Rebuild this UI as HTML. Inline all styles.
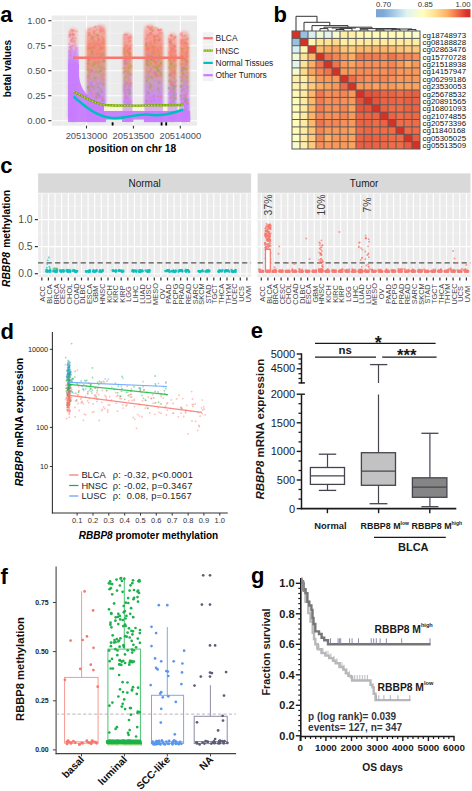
<!DOCTYPE html>
<html><head><meta charset="utf-8"><style>
html,body{margin:0;padding:0;background:#fff;width:472px;height:791px;overflow:hidden}
svg{display:block;font-family:"Liberation Sans",sans-serif}
</style></head><body>
<svg width="472" height="791" viewBox="0 0 472 791">
<text x="0.2" y="21.6" font-size="22" fill="#000" font-weight="bold" text-anchor="start" >a</text>
<text x="273.4" y="21.7" font-size="22" fill="#000" font-weight="bold" text-anchor="start" >b</text>
<text x="0.2" y="172.5" font-size="22" fill="#000" font-weight="bold" text-anchor="start" >c</text>
<text x="0.5" y="339.4" font-size="22" fill="#000" font-weight="bold" text-anchor="start" >d</text>
<text x="250.8" y="338.3" font-size="22" fill="#000" font-weight="bold" text-anchor="start" >e</text>
<text x="0.4" y="583.7" font-size="22" fill="#000" font-weight="bold" text-anchor="start" >f</text>
<text x="251" y="582.9" font-size="22" fill="#000" font-weight="bold" text-anchor="start" >g</text>
<rect x="51.7" y="15.5" width="145.3" height="110.2" fill="#ebebeb" />
<line x1="51.7" y1="108.2" x2="197" y2="108.2" stroke="#f7f7f7" stroke-width="0.6" />
<line x1="51.7" y1="83.2" x2="197" y2="83.2" stroke="#f7f7f7" stroke-width="0.6" />
<line x1="51.7" y1="58.2" x2="197" y2="58.2" stroke="#f7f7f7" stroke-width="0.6" />
<line x1="51.7" y1="33.2" x2="197" y2="33.2" stroke="#f7f7f7" stroke-width="0.6" />
<line x1="63" y1="15.5" x2="63" y2="125.7" stroke="#f7f7f7" stroke-width="0.6" />
<line x1="110" y1="15.5" x2="110" y2="125.7" stroke="#f7f7f7" stroke-width="0.6" />
<line x1="156.8" y1="15.5" x2="156.8" y2="125.7" stroke="#f7f7f7" stroke-width="0.6" />
<line x1="51.7" y1="120.7" x2="197" y2="120.7" stroke="#fff" stroke-width="1.1" />
<line x1="51.7" y1="95.7" x2="197" y2="95.7" stroke="#fff" stroke-width="1.1" />
<line x1="51.7" y1="70.7" x2="197" y2="70.7" stroke="#fff" stroke-width="1.1" />
<line x1="51.7" y1="45.7" x2="197" y2="45.7" stroke="#fff" stroke-width="1.1" />
<line x1="51.7" y1="20.7" x2="197" y2="20.7" stroke="#fff" stroke-width="1.1" />
<line x1="86.5" y1="15.5" x2="86.5" y2="125.7" stroke="#fff" stroke-width="1.1" />
<line x1="133.4" y1="15.5" x2="133.4" y2="125.7" stroke="#fff" stroke-width="1.1" />
<line x1="180.3" y1="15.5" x2="180.3" y2="125.7" stroke="#fff" stroke-width="1.1" />
<defs><linearGradient id="gcn" x1="0" y1="0" x2="0" y2="1"><stop offset="0" stop-color="#F8766D" stop-opacity="0.3"/><stop offset="0.08" stop-color="#F8766D" stop-opacity="0.55"/><stop offset="0.25" stop-color="#f2785c" stop-opacity="0.78"/><stop offset="0.4" stop-color="#d8845e" stop-opacity="0.75"/><stop offset="0.52" stop-color="#c48a8a" stop-opacity="0.75"/><stop offset="0.65" stop-color="#c084c8" stop-opacity="0.8"/><stop offset="0.8" stop-color="#C77CFF" stop-opacity="0.85"/><stop offset="1" stop-color="#C77CFF" stop-opacity="0.92"/></linearGradient><linearGradient id="gcp" x1="0" y1="0" x2="0" y2="1"><stop offset="0" stop-color="#F8766D" stop-opacity="0.25"/><stop offset="0.12" stop-color="#f29a98" stop-opacity="0.5"/><stop offset="0.25" stop-color="#d8a0d8" stop-opacity="0.6"/><stop offset="0.38" stop-color="#c890e8" stop-opacity="0.75"/><stop offset="1" stop-color="#C77CFF" stop-opacity="1"/></linearGradient><filter id="bl2" x="-0.5" y="-0.1" width="2" height="1.2"><feGaussianBlur stdDeviation="0.9"/></filter></defs>
<g filter="url(#bl2)">
<rect x="68.3" y="27.5" width="9.4" height="94" rx="4.4" ry="5" fill="url(#gcp)"/>
<path d="M86,121.5 V32 Q86,27 91,27 Q94.5,27 95.5,29 Q96,24 101,24 Q106,24 106,30 V121.5 Z" fill="url(#gcn)"/>
<rect x="122.8" y="32" width="9.4" height="89.5" rx="4.4" ry="5" fill="url(#gcn)"/>
<path d="M144,121.5 V30 Q144,24 149.5,24 Q154.5,24 155,28 Q156,29 159,29 Q163.4,29 163.4,34 V121.5 Z" fill="url(#gcn)"/>
<rect x="168" y="32.4" width="8.9" height="89.1" rx="4.2" ry="4.8" fill="url(#gcn)"/>
<rect x="179.4" y="30.5" width="9.8" height="91" rx="4.6" ry="5.2" fill="url(#gcn)"/>
</g>
<circle cx="171.3" cy="96.9" r="1.3" fill="#F8766D" fill-opacity="0.3"/>
<circle cx="124.4" cy="84.1" r="1.3" fill="#F8766D" fill-opacity="0.3"/>
<circle cx="89.5" cy="29.5" r="1.3" fill="#F8766D" fill-opacity="0.3"/>
<circle cx="103" cy="31" r="1.3" fill="#F8766D" fill-opacity="0.3"/>
<circle cx="184.3" cy="42" r="1.3" fill="#F8766D" fill-opacity="0.3"/>
<circle cx="174.5" cy="46.2" r="1.3" fill="#F8766D" fill-opacity="0.3"/>
<circle cx="184.2" cy="90.2" r="1.3" fill="#C77CFF" fill-opacity="0.3"/>
<circle cx="103.8" cy="74.7" r="1.3" fill="#F8766D" fill-opacity="0.3"/>
<circle cx="98" cy="58.6" r="1.3" fill="#F8766D" fill-opacity="0.3"/>
<circle cx="103.4" cy="104.3" r="1.3" fill="#F8766D" fill-opacity="0.3"/>
<circle cx="91.2" cy="100.9" r="1.3" fill="#C77CFF" fill-opacity="0.3"/>
<circle cx="151.4" cy="46.8" r="1.3" fill="#F8766D" fill-opacity="0.3"/>
<circle cx="172.6" cy="77.4" r="1.3" fill="#F8766D" fill-opacity="0.3"/>
<circle cx="172.7" cy="84.6" r="1.3" fill="#F8766D" fill-opacity="0.3"/>
<circle cx="97.3" cy="35.1" r="1.3" fill="#F8766D" fill-opacity="0.3"/>
<circle cx="171.4" cy="49.3" r="1.3" fill="#F8766D" fill-opacity="0.3"/>
<circle cx="159.6" cy="32.6" r="1.3" fill="#F8766D" fill-opacity="0.3"/>
<circle cx="153.7" cy="49.3" r="1.3" fill="#F8766D" fill-opacity="0.3"/>
<circle cx="69.7" cy="88" r="1.3" fill="#C77CFF" fill-opacity="0.3"/>
<circle cx="150.7" cy="33.5" r="1.3" fill="#F8766D" fill-opacity="0.3"/>
<circle cx="94.5" cy="44.3" r="1.3" fill="#7CAE00" fill-opacity="0.3"/>
<circle cx="128.7" cy="42.1" r="1.3" fill="#F8766D" fill-opacity="0.3"/>
<circle cx="158.9" cy="54.8" r="1.3" fill="#7CAE00" fill-opacity="0.3"/>
<circle cx="154.8" cy="71.9" r="1.3" fill="#F8766D" fill-opacity="0.3"/>
<circle cx="160.3" cy="82.6" r="1.3" fill="#C77CFF" fill-opacity="0.3"/>
<circle cx="151.5" cy="115.3" r="1.3" fill="#7CAE00" fill-opacity="0.3"/>
<circle cx="186.6" cy="64.8" r="1.3" fill="#C77CFF" fill-opacity="0.3"/>
<circle cx="148.5" cy="76.6" r="1.3" fill="#C77CFF" fill-opacity="0.3"/>
<circle cx="185.9" cy="82" r="1.3" fill="#C77CFF" fill-opacity="0.3"/>
<circle cx="93.3" cy="89" r="1.3" fill="#C77CFF" fill-opacity="0.3"/>
<circle cx="127.5" cy="106" r="1.3" fill="#C77CFF" fill-opacity="0.3"/>
<circle cx="88.5" cy="33.1" r="1.3" fill="#F8766D" fill-opacity="0.3"/>
<circle cx="130.2" cy="92.9" r="1.3" fill="#7CAE00" fill-opacity="0.3"/>
<circle cx="131.1" cy="73.7" r="1.3" fill="#C77CFF" fill-opacity="0.3"/>
<circle cx="154.2" cy="61.8" r="1.3" fill="#F8766D" fill-opacity="0.3"/>
<circle cx="91" cy="108.1" r="1.3" fill="#C77CFF" fill-opacity="0.3"/>
<circle cx="183.9" cy="95.2" r="1.3" fill="#F8766D" fill-opacity="0.3"/>
<circle cx="124.4" cy="86.4" r="1.3" fill="#C77CFF" fill-opacity="0.3"/>
<circle cx="101.7" cy="36.5" r="1.3" fill="#F8766D" fill-opacity="0.3"/>
<circle cx="89.3" cy="40.8" r="1.3" fill="#F8766D" fill-opacity="0.3"/>
<circle cx="98.1" cy="63.3" r="1.3" fill="#F8766D" fill-opacity="0.3"/>
<circle cx="73.8" cy="50.7" r="1.3" fill="#C77CFF" fill-opacity="0.3"/>
<circle cx="181.1" cy="54.6" r="1.3" fill="#F8766D" fill-opacity="0.3"/>
<circle cx="70.5" cy="34.5" r="1.3" fill="#F8766D" fill-opacity="0.3"/>
<circle cx="171.3" cy="93.4" r="1.3" fill="#C77CFF" fill-opacity="0.3"/>
<circle cx="187.3" cy="112.9" r="1.3" fill="#F8766D" fill-opacity="0.3"/>
<circle cx="92" cy="90.9" r="1.3" fill="#F8766D" fill-opacity="0.3"/>
<circle cx="91.3" cy="70.5" r="1.3" fill="#7CAE00" fill-opacity="0.3"/>
<circle cx="148.7" cy="47.9" r="1.3" fill="#F8766D" fill-opacity="0.3"/>
<circle cx="174.1" cy="83.6" r="1.3" fill="#C77CFF" fill-opacity="0.3"/>
<circle cx="181" cy="47.1" r="1.3" fill="#F8766D" fill-opacity="0.3"/>
<circle cx="148.1" cy="49.9" r="1.3" fill="#F8766D" fill-opacity="0.3"/>
<circle cx="155.8" cy="58.1" r="1.3" fill="#7CAE00" fill-opacity="0.3"/>
<circle cx="89.5" cy="45.5" r="1.3" fill="#F8766D" fill-opacity="0.3"/>
<circle cx="183.1" cy="70.8" r="1.3" fill="#C77CFF" fill-opacity="0.3"/>
<circle cx="94.9" cy="108" r="1.3" fill="#C77CFF" fill-opacity="0.3"/>
<circle cx="96.4" cy="54.9" r="1.3" fill="#F8766D" fill-opacity="0.3"/>
<circle cx="127.1" cy="102.6" r="1.3" fill="#C77CFF" fill-opacity="0.3"/>
<circle cx="89.6" cy="33" r="1.3" fill="#F8766D" fill-opacity="0.3"/>
<circle cx="170.7" cy="63" r="1.3" fill="#F8766D" fill-opacity="0.3"/>
<circle cx="131" cy="83.4" r="1.3" fill="#C77CFF" fill-opacity="0.3"/>
<circle cx="130" cy="74.2" r="1.3" fill="#C77CFF" fill-opacity="0.3"/>
<circle cx="174.3" cy="51.9" r="1.3" fill="#F8766D" fill-opacity="0.3"/>
<circle cx="75.6" cy="101.3" r="1.3" fill="#C77CFF" fill-opacity="0.3"/>
<circle cx="171.8" cy="117.9" r="1.3" fill="#F8766D" fill-opacity="0.3"/>
<circle cx="187.2" cy="44.5" r="1.3" fill="#F8766D" fill-opacity="0.3"/>
<circle cx="89.4" cy="43.8" r="1.3" fill="#F8766D" fill-opacity="0.3"/>
<circle cx="92.1" cy="50.9" r="1.3" fill="#7CAE00" fill-opacity="0.3"/>
<circle cx="175.8" cy="98.4" r="1.3" fill="#7CAE00" fill-opacity="0.3"/>
<circle cx="187.6" cy="100.3" r="1.3" fill="#C77CFF" fill-opacity="0.3"/>
<circle cx="101.4" cy="97.4" r="1.3" fill="#C77CFF" fill-opacity="0.3"/>
<circle cx="129.7" cy="108.5" r="1.3" fill="#7CAE00" fill-opacity="0.3"/>
<circle cx="148.6" cy="54.3" r="1.3" fill="#C77CFF" fill-opacity="0.3"/>
<circle cx="175.7" cy="65.4" r="1.3" fill="#F8766D" fill-opacity="0.3"/>
<circle cx="88.3" cy="108" r="1.3" fill="#C77CFF" fill-opacity="0.3"/>
<circle cx="174.6" cy="45.9" r="1.3" fill="#F8766D" fill-opacity="0.3"/>
<circle cx="100.6" cy="27" r="1.3" fill="#F8766D" fill-opacity="0.3"/>
<circle cx="124.1" cy="101.6" r="1.3" fill="#C77CFF" fill-opacity="0.3"/>
<circle cx="186.5" cy="56.9" r="1.3" fill="#F8766D" fill-opacity="0.3"/>
<circle cx="99.2" cy="116" r="1.3" fill="#C77CFF" fill-opacity="0.3"/>
<circle cx="156.9" cy="105.5" r="1.3" fill="#F8766D" fill-opacity="0.3"/>
<circle cx="158.8" cy="99.5" r="1.3" fill="#C77CFF" fill-opacity="0.3"/>
<circle cx="88.7" cy="61.4" r="1.3" fill="#F8766D" fill-opacity="0.3"/>
<circle cx="98" cy="109.4" r="1.3" fill="#F8766D" fill-opacity="0.3"/>
<circle cx="173.2" cy="95.6" r="1.3" fill="#7CAE00" fill-opacity="0.3"/>
<circle cx="145.9" cy="102.9" r="1.3" fill="#C77CFF" fill-opacity="0.3"/>
<circle cx="98.2" cy="35.7" r="1.3" fill="#F8766D" fill-opacity="0.3"/>
<circle cx="147.4" cy="60.7" r="1.3" fill="#C77CFF" fill-opacity="0.3"/>
<circle cx="184.9" cy="63.3" r="1.3" fill="#F8766D" fill-opacity="0.3"/>
<circle cx="71.2" cy="93.5" r="1.3" fill="#C77CFF" fill-opacity="0.3"/>
<circle cx="146.4" cy="43.2" r="1.3" fill="#F8766D" fill-opacity="0.3"/>
<circle cx="170.8" cy="47.4" r="1.3" fill="#F8766D" fill-opacity="0.3"/>
<circle cx="71.1" cy="73.5" r="1.3" fill="#C77CFF" fill-opacity="0.3"/>
<circle cx="170" cy="41.5" r="1.3" fill="#F8766D" fill-opacity="0.3"/>
<circle cx="148.7" cy="103.2" r="1.3" fill="#C77CFF" fill-opacity="0.3"/>
<circle cx="160.6" cy="48" r="1.3" fill="#F8766D" fill-opacity="0.3"/>
<circle cx="91.3" cy="38.3" r="1.3" fill="#7CAE00" fill-opacity="0.3"/>
<circle cx="181.2" cy="98.9" r="1.3" fill="#F8766D" fill-opacity="0.3"/>
<circle cx="126.7" cy="113.2" r="1.3" fill="#C77CFF" fill-opacity="0.3"/>
<circle cx="180.8" cy="106.2" r="1.3" fill="#C77CFF" fill-opacity="0.3"/>
<circle cx="94.3" cy="33.5" r="1.3" fill="#F8766D" fill-opacity="0.3"/>
<circle cx="87.9" cy="63.6" r="1.3" fill="#C77CFF" fill-opacity="0.3"/>
<circle cx="154.2" cy="40.8" r="1.3" fill="#F8766D" fill-opacity="0.3"/>
<circle cx="160.4" cy="47.9" r="1.3" fill="#F8766D" fill-opacity="0.3"/>
<circle cx="100.5" cy="83.2" r="1.3" fill="#C77CFF" fill-opacity="0.3"/>
<circle cx="155.8" cy="73.6" r="1.3" fill="#F8766D" fill-opacity="0.3"/>
<circle cx="172.9" cy="48.5" r="1.3" fill="#F8766D" fill-opacity="0.3"/>
<circle cx="100.7" cy="61.9" r="1.3" fill="#F8766D" fill-opacity="0.3"/>
<circle cx="187.2" cy="75.9" r="1.3" fill="#F8766D" fill-opacity="0.3"/>
<circle cx="98.4" cy="66.7" r="1.3" fill="#7CAE00" fill-opacity="0.3"/>
<circle cx="70.6" cy="49.1" r="1.3" fill="#F8766D" fill-opacity="0.3"/>
<circle cx="127" cy="112.2" r="1.3" fill="#C77CFF" fill-opacity="0.3"/>
<circle cx="92.8" cy="48" r="1.3" fill="#F8766D" fill-opacity="0.3"/>
<circle cx="175.5" cy="46.2" r="1.3" fill="#F8766D" fill-opacity="0.3"/>
<circle cx="130.5" cy="83.2" r="1.3" fill="#F8766D" fill-opacity="0.3"/>
<circle cx="130.9" cy="65.8" r="1.3" fill="#7CAE00" fill-opacity="0.3"/>
<circle cx="185.2" cy="65" r="1.3" fill="#C77CFF" fill-opacity="0.3"/>
<circle cx="72.2" cy="31.6" r="1.3" fill="#F8766D" fill-opacity="0.3"/>
<circle cx="131" cy="101.2" r="1.3" fill="#F8766D" fill-opacity="0.3"/>
<circle cx="102.5" cy="97.5" r="1.3" fill="#F8766D" fill-opacity="0.3"/>
<circle cx="155.2" cy="38.7" r="1.3" fill="#F8766D" fill-opacity="0.3"/>
<circle cx="96.1" cy="81.7" r="1.3" fill="#C77CFF" fill-opacity="0.3"/>
<circle cx="151.2" cy="86.2" r="1.3" fill="#7CAE00" fill-opacity="0.3"/>
<circle cx="96.7" cy="71.8" r="1.3" fill="#7CAE00" fill-opacity="0.3"/>
<circle cx="159.2" cy="82.7" r="1.3" fill="#7CAE00" fill-opacity="0.3"/>
<circle cx="146.7" cy="58.9" r="1.3" fill="#F8766D" fill-opacity="0.3"/>
<circle cx="158.6" cy="107" r="1.3" fill="#C77CFF" fill-opacity="0.3"/>
<circle cx="150.5" cy="76.6" r="1.3" fill="#F8766D" fill-opacity="0.3"/>
<circle cx="70.5" cy="73.9" r="1.3" fill="#C77CFF" fill-opacity="0.3"/>
<circle cx="156.7" cy="65.4" r="1.3" fill="#F8766D" fill-opacity="0.3"/>
<circle cx="89.3" cy="58.8" r="1.3" fill="#7CAE00" fill-opacity="0.3"/>
<circle cx="72.1" cy="117.9" r="1.3" fill="#C77CFF" fill-opacity="0.3"/>
<circle cx="70" cy="89.4" r="1.3" fill="#C77CFF" fill-opacity="0.3"/>
<circle cx="125.7" cy="63.4" r="1.3" fill="#F8766D" fill-opacity="0.3"/>
<circle cx="90.2" cy="110.3" r="1.3" fill="#C77CFF" fill-opacity="0.3"/>
<circle cx="152.4" cy="73.1" r="1.3" fill="#C77CFF" fill-opacity="0.3"/>
<circle cx="75.7" cy="51.5" r="1.3" fill="#C77CFF" fill-opacity="0.3"/>
<circle cx="101.3" cy="30.4" r="1.3" fill="#F8766D" fill-opacity="0.3"/>
<circle cx="175" cy="50" r="1.3" fill="#F8766D" fill-opacity="0.3"/>
<circle cx="103" cy="29.1" r="1.3" fill="#F8766D" fill-opacity="0.3"/>
<circle cx="71.8" cy="115.4" r="1.3" fill="#C77CFF" fill-opacity="0.3"/>
<circle cx="181.5" cy="80.7" r="1.3" fill="#7CAE00" fill-opacity="0.3"/>
<circle cx="95.6" cy="26.5" r="1.3" fill="#F8766D" fill-opacity="0.3"/>
<circle cx="125.2" cy="84.1" r="1.3" fill="#C77CFF" fill-opacity="0.3"/>
<circle cx="150.3" cy="29.2" r="1.3" fill="#F8766D" fill-opacity="0.3"/>
<circle cx="127.6" cy="36.9" r="1.3" fill="#F8766D" fill-opacity="0.3"/>
<circle cx="103.2" cy="43.3" r="1.3" fill="#F8766D" fill-opacity="0.3"/>
<circle cx="154.7" cy="100.4" r="1.3" fill="#C77CFF" fill-opacity="0.3"/>
<circle cx="160.6" cy="63.5" r="1.3" fill="#F8766D" fill-opacity="0.3"/>
<circle cx="95.5" cy="45.7" r="1.3" fill="#F8766D" fill-opacity="0.3"/>
<circle cx="175.7" cy="56.6" r="1.3" fill="#F8766D" fill-opacity="0.3"/>
<circle cx="130.6" cy="35.5" r="1.3" fill="#F8766D" fill-opacity="0.3"/>
<circle cx="131.1" cy="37.2" r="1.3" fill="#F8766D" fill-opacity="0.3"/>
<circle cx="93.7" cy="75.8" r="1.3" fill="#C77CFF" fill-opacity="0.3"/>
<circle cx="129.8" cy="52.6" r="1.3" fill="#F8766D" fill-opacity="0.3"/>
<circle cx="101.1" cy="53.2" r="1.3" fill="#F8766D" fill-opacity="0.3"/>
<circle cx="152.7" cy="91.6" r="1.3" fill="#F8766D" fill-opacity="0.3"/>
<circle cx="156.3" cy="63.4" r="1.3" fill="#F8766D" fill-opacity="0.3"/>
<circle cx="94.1" cy="98.4" r="1.3" fill="#C77CFF" fill-opacity="0.3"/>
<circle cx="70.1" cy="77.7" r="1.3" fill="#C77CFF" fill-opacity="0.3"/>
<circle cx="72" cy="113.7" r="1.3" fill="#C77CFF" fill-opacity="0.3"/>
<circle cx="146" cy="39.1" r="1.3" fill="#F8766D" fill-opacity="0.3"/>
<circle cx="187.9" cy="113" r="1.3" fill="#C77CFF" fill-opacity="0.3"/>
<circle cx="171.3" cy="46.7" r="1.3" fill="#F8766D" fill-opacity="0.3"/>
<circle cx="72.4" cy="39.8" r="1.3" fill="#F8766D" fill-opacity="0.3"/>
<circle cx="72" cy="104.1" r="1.3" fill="#C77CFF" fill-opacity="0.3"/>
<circle cx="127.9" cy="57.5" r="1.3" fill="#F8766D" fill-opacity="0.3"/>
<circle cx="74" cy="112.5" r="1.3" fill="#C77CFF" fill-opacity="0.3"/>
<circle cx="88.2" cy="87" r="1.3" fill="#7CAE00" fill-opacity="0.3"/>
<circle cx="100.1" cy="55.9" r="1.3" fill="#C77CFF" fill-opacity="0.3"/>
<circle cx="183.6" cy="39.6" r="1.3" fill="#F8766D" fill-opacity="0.3"/>
<circle cx="129.9" cy="83.8" r="1.3" fill="#F8766D" fill-opacity="0.3"/>
<circle cx="171.8" cy="68.2" r="1.3" fill="#F8766D" fill-opacity="0.3"/>
<circle cx="149.7" cy="44.5" r="1.3" fill="#F8766D" fill-opacity="0.3"/>
<circle cx="104.2" cy="55" r="1.3" fill="#C77CFF" fill-opacity="0.3"/>
<circle cx="170" cy="75.1" r="1.3" fill="#7CAE00" fill-opacity="0.3"/>
<circle cx="70.5" cy="46.9" r="1.3" fill="#F8766D" fill-opacity="0.3"/>
<circle cx="88.6" cy="48.2" r="1.3" fill="#F8766D" fill-opacity="0.3"/>
<circle cx="157.9" cy="101.3" r="1.3" fill="#C77CFF" fill-opacity="0.3"/>
<circle cx="95.3" cy="68.2" r="1.3" fill="#F8766D" fill-opacity="0.3"/>
<circle cx="125.7" cy="86.8" r="1.3" fill="#C77CFF" fill-opacity="0.3"/>
<circle cx="184.7" cy="82.3" r="1.3" fill="#C77CFF" fill-opacity="0.3"/>
<circle cx="95.2" cy="96.8" r="1.3" fill="#F8766D" fill-opacity="0.3"/>
<circle cx="159" cy="39.8" r="1.3" fill="#F8766D" fill-opacity="0.3"/>
<circle cx="185" cy="102.5" r="1.3" fill="#C77CFF" fill-opacity="0.3"/>
<circle cx="153.7" cy="96.4" r="1.3" fill="#C77CFF" fill-opacity="0.3"/>
<circle cx="159.8" cy="105.8" r="1.3" fill="#C77CFF" fill-opacity="0.3"/>
<circle cx="160.2" cy="115.5" r="1.3" fill="#C77CFF" fill-opacity="0.3"/>
<circle cx="153.6" cy="50.5" r="1.3" fill="#F8766D" fill-opacity="0.3"/>
<circle cx="104.1" cy="100.3" r="1.3" fill="#C77CFF" fill-opacity="0.3"/>
<circle cx="88.3" cy="100" r="1.3" fill="#C77CFF" fill-opacity="0.3"/>
<circle cx="150.9" cy="115.2" r="1.3" fill="#C77CFF" fill-opacity="0.3"/>
<circle cx="160" cy="58.5" r="1.3" fill="#7CAE00" fill-opacity="0.3"/>
<circle cx="170.6" cy="91.1" r="1.3" fill="#C77CFF" fill-opacity="0.3"/>
<circle cx="147.1" cy="58.9" r="1.3" fill="#7CAE00" fill-opacity="0.3"/>
<circle cx="148.3" cy="60.9" r="1.3" fill="#C77CFF" fill-opacity="0.3"/>
<circle cx="181.2" cy="43.1" r="1.3" fill="#F8766D" fill-opacity="0.3"/>
<circle cx="186.7" cy="47.5" r="1.3" fill="#F8766D" fill-opacity="0.3"/>
<circle cx="125.3" cy="77.4" r="1.3" fill="#7CAE00" fill-opacity="0.3"/>
<circle cx="186.4" cy="112.7" r="1.3" fill="#C77CFF" fill-opacity="0.3"/>
<circle cx="95.8" cy="114.8" r="1.3" fill="#C77CFF" fill-opacity="0.3"/>
<circle cx="129.6" cy="87.3" r="1.3" fill="#C77CFF" fill-opacity="0.3"/>
<circle cx="102.6" cy="73.6" r="1.3" fill="#F8766D" fill-opacity="0.3"/>
<circle cx="152.7" cy="47.8" r="1.3" fill="#F8766D" fill-opacity="0.3"/>
<circle cx="91.3" cy="47.7" r="1.3" fill="#F8766D" fill-opacity="0.3"/>
<circle cx="131.1" cy="111.4" r="1.3" fill="#C77CFF" fill-opacity="0.3"/>
<circle cx="156.8" cy="27.8" r="1.3" fill="#F8766D" fill-opacity="0.3"/>
<circle cx="152.1" cy="96.7" r="1.3" fill="#C77CFF" fill-opacity="0.3"/>
<circle cx="92.1" cy="70.8" r="1.3" fill="#C77CFF" fill-opacity="0.3"/>
<circle cx="90.9" cy="78.4" r="1.3" fill="#C77CFF" fill-opacity="0.3"/>
<circle cx="100.6" cy="49.1" r="1.3" fill="#F8766D" fill-opacity="0.3"/>
<circle cx="159.8" cy="39.5" r="1.3" fill="#F8766D" fill-opacity="0.3"/>
<circle cx="182.7" cy="103.6" r="1.3" fill="#7CAE00" fill-opacity="0.3"/>
<circle cx="149.7" cy="98.1" r="1.3" fill="#F8766D" fill-opacity="0.3"/>
<circle cx="103.1" cy="85.1" r="1.3" fill="#F8766D" fill-opacity="0.3"/>
<circle cx="152.9" cy="78.3" r="1.3" fill="#C77CFF" fill-opacity="0.3"/>
<circle cx="88.4" cy="81.5" r="1.3" fill="#F8766D" fill-opacity="0.3"/>
<circle cx="156.3" cy="76.5" r="1.3" fill="#F8766D" fill-opacity="0.3"/>
<circle cx="151.5" cy="52.1" r="1.3" fill="#F8766D" fill-opacity="0.3"/>
<circle cx="185.7" cy="102.3" r="1.3" fill="#F8766D" fill-opacity="0.3"/>
<circle cx="150.2" cy="105.8" r="1.3" fill="#C77CFF" fill-opacity="0.3"/>
<circle cx="154.8" cy="113.9" r="1.3" fill="#C77CFF" fill-opacity="0.3"/>
<circle cx="170.7" cy="74.9" r="1.3" fill="#C77CFF" fill-opacity="0.3"/>
<circle cx="148.1" cy="74.3" r="1.3" fill="#C77CFF" fill-opacity="0.3"/>
<circle cx="129" cy="112.1" r="1.3" fill="#C77CFF" fill-opacity="0.3"/>
<circle cx="69.9" cy="109.7" r="1.3" fill="#C77CFF" fill-opacity="0.3"/>
<circle cx="181.3" cy="99.1" r="1.3" fill="#C77CFF" fill-opacity="0.3"/>
<circle cx="88" cy="87.4" r="1.3" fill="#7CAE00" fill-opacity="0.3"/>
<circle cx="181.3" cy="67.1" r="1.3" fill="#C77CFF" fill-opacity="0.3"/>
<circle cx="174.7" cy="106.5" r="1.3" fill="#C77CFF" fill-opacity="0.3"/>
<circle cx="88" cy="76.5" r="1.3" fill="#7CAE00" fill-opacity="0.3"/>
<circle cx="148.5" cy="27.3" r="1.3" fill="#F8766D" fill-opacity="0.3"/>
<circle cx="101.5" cy="80" r="1.3" fill="#F8766D" fill-opacity="0.3"/>
<circle cx="89.3" cy="71.6" r="1.3" fill="#F8766D" fill-opacity="0.3"/>
<circle cx="185.9" cy="55.1" r="1.3" fill="#F8766D" fill-opacity="0.3"/>
<circle cx="71.1" cy="97.1" r="1.3" fill="#C77CFF" fill-opacity="0.3"/>
<circle cx="158.1" cy="29.9" r="1.3" fill="#F8766D" fill-opacity="0.3"/>
<circle cx="169.5" cy="42.4" r="1.3" fill="#F8766D" fill-opacity="0.3"/>
<circle cx="89.4" cy="105.7" r="1.3" fill="#C77CFF" fill-opacity="0.3"/>
<circle cx="129.9" cy="54.3" r="1.3" fill="#7CAE00" fill-opacity="0.3"/>
<circle cx="182.3" cy="74.2" r="1.3" fill="#C77CFF" fill-opacity="0.3"/>
<circle cx="103.6" cy="53" r="1.3" fill="#F8766D" fill-opacity="0.3"/>
<circle cx="171.9" cy="85" r="1.3" fill="#C77CFF" fill-opacity="0.3"/>
<circle cx="153.6" cy="39.6" r="1.3" fill="#F8766D" fill-opacity="0.3"/>
<circle cx="188" cy="99.5" r="1.3" fill="#C77CFF" fill-opacity="0.3"/>
<circle cx="149.7" cy="57.6" r="1.3" fill="#F8766D" fill-opacity="0.3"/>
<circle cx="170.8" cy="97.5" r="1.3" fill="#C77CFF" fill-opacity="0.3"/>
<circle cx="72.8" cy="34.6" r="1.3" fill="#F8766D" fill-opacity="0.3"/>
<circle cx="123.9" cy="53.3" r="1.3" fill="#F8766D" fill-opacity="0.3"/>
<circle cx="100.7" cy="31.7" r="1.3" fill="#7CAE00" fill-opacity="0.3"/>
<circle cx="72.1" cy="107.3" r="1.3" fill="#C77CFF" fill-opacity="0.3"/>
<circle cx="92.9" cy="46.1" r="1.3" fill="#F8766D" fill-opacity="0.3"/>
<circle cx="71.6" cy="30.1" r="1.3" fill="#F8766D" fill-opacity="0.3"/>
<circle cx="91.2" cy="71.2" r="1.3" fill="#F8766D" fill-opacity="0.3"/>
<circle cx="72.6" cy="45.6" r="1.3" fill="#C77CFF" fill-opacity="0.3"/>
<circle cx="151.9" cy="26.9" r="1.3" fill="#F8766D" fill-opacity="0.3"/>
<circle cx="181.4" cy="117.7" r="1.3" fill="#C77CFF" fill-opacity="0.3"/>
<circle cx="75.4" cy="53" r="1.3" fill="#C77CFF" fill-opacity="0.3"/>
<circle cx="88.7" cy="59.4" r="1.3" fill="#F8766D" fill-opacity="0.3"/>
<circle cx="188.1" cy="103" r="1.3" fill="#7CAE00" fill-opacity="0.3"/>
<circle cx="69.6" cy="52.3" r="1.3" fill="#C77CFF" fill-opacity="0.3"/>
<circle cx="129.7" cy="41" r="1.3" fill="#F8766D" fill-opacity="0.3"/>
<circle cx="97.1" cy="94.1" r="1.3" fill="#C77CFF" fill-opacity="0.3"/>
<circle cx="180.4" cy="34.1" r="1.3" fill="#F8766D" fill-opacity="0.3"/>
<circle cx="181.9" cy="59.6" r="1.3" fill="#F8766D" fill-opacity="0.3"/>
<circle cx="74.3" cy="74" r="1.3" fill="#C77CFF" fill-opacity="0.3"/>
<circle cx="76.5" cy="50" r="1.3" fill="#F8766D" fill-opacity="0.3"/>
<circle cx="74.2" cy="77.6" r="1.3" fill="#C77CFF" fill-opacity="0.3"/>
<circle cx="155.5" cy="53.3" r="1.3" fill="#F8766D" fill-opacity="0.3"/>
<circle cx="130.7" cy="116.4" r="1.3" fill="#C77CFF" fill-opacity="0.3"/>
<circle cx="95.6" cy="110.3" r="1.3" fill="#C77CFF" fill-opacity="0.3"/>
<circle cx="147.8" cy="26.8" r="1.3" fill="#F8766D" fill-opacity="0.3"/>
<circle cx="175.4" cy="115.5" r="1.3" fill="#7CAE00" fill-opacity="0.3"/>
<circle cx="123.8" cy="68.3" r="1.3" fill="#F8766D" fill-opacity="0.3"/>
<circle cx="186.6" cy="112.8" r="1.3" fill="#C77CFF" fill-opacity="0.3"/>
<circle cx="154.2" cy="36.7" r="1.3" fill="#F8766D" fill-opacity="0.3"/>
<circle cx="173.1" cy="71.9" r="1.3" fill="#F8766D" fill-opacity="0.3"/>
<circle cx="103.5" cy="106.9" r="1.3" fill="#C77CFF" fill-opacity="0.3"/>
<circle cx="151.8" cy="66.8" r="1.3" fill="#F8766D" fill-opacity="0.3"/>
<circle cx="152.8" cy="35.4" r="1.3" fill="#F8766D" fill-opacity="0.3"/>
<circle cx="172.7" cy="86.9" r="1.3" fill="#C77CFF" fill-opacity="0.3"/>
<circle cx="159.3" cy="30.2" r="1.3" fill="#F8766D" fill-opacity="0.3"/>
<circle cx="101.5" cy="103.7" r="1.3" fill="#C77CFF" fill-opacity="0.3"/>
<circle cx="172.6" cy="44.8" r="1.3" fill="#7CAE00" fill-opacity="0.3"/>
<circle cx="98.2" cy="34.6" r="1.3" fill="#F8766D" fill-opacity="0.3"/>
<circle cx="92.3" cy="81.6" r="1.3" fill="#C77CFF" fill-opacity="0.3"/>
<circle cx="91.7" cy="52.5" r="1.3" fill="#F8766D" fill-opacity="0.3"/>
<circle cx="90.1" cy="83.1" r="1.3" fill="#C77CFF" fill-opacity="0.3"/>
<circle cx="158.8" cy="93.1" r="1.3" fill="#C77CFF" fill-opacity="0.3"/>
<circle cx="184.1" cy="98.4" r="1.3" fill="#7CAE00" fill-opacity="0.3"/>
<circle cx="186.2" cy="64.8" r="1.3" fill="#F8766D" fill-opacity="0.3"/>
<circle cx="94.8" cy="26.7" r="1.3" fill="#F8766D" fill-opacity="0.3"/>
<circle cx="147" cy="104.9" r="1.3" fill="#C77CFF" fill-opacity="0.3"/>
<circle cx="160.8" cy="73" r="1.3" fill="#7CAE00" fill-opacity="0.3"/>
<circle cx="180.8" cy="76.9" r="1.3" fill="#F8766D" fill-opacity="0.3"/>
<circle cx="101.3" cy="106.8" r="1.3" fill="#C77CFF" fill-opacity="0.3"/>
<circle cx="150.9" cy="57.2" r="1.3" fill="#7CAE00" fill-opacity="0.3"/>
<circle cx="129.6" cy="54.6" r="1.3" fill="#F8766D" fill-opacity="0.3"/>
<circle cx="171.9" cy="85.7" r="1.3" fill="#F8766D" fill-opacity="0.3"/>
<circle cx="157.8" cy="89.7" r="1.3" fill="#F8766D" fill-opacity="0.3"/>
<circle cx="151.5" cy="57" r="1.3" fill="#7CAE00" fill-opacity="0.3"/>
<circle cx="124.8" cy="38.7" r="1.3" fill="#F8766D" fill-opacity="0.3"/>
<circle cx="157.2" cy="60.6" r="1.3" fill="#F8766D" fill-opacity="0.3"/>
<circle cx="89.6" cy="64.3" r="1.3" fill="#F8766D" fill-opacity="0.3"/>
<circle cx="182.4" cy="51.3" r="1.3" fill="#F8766D" fill-opacity="0.3"/>
<circle cx="173.7" cy="39" r="1.3" fill="#F8766D" fill-opacity="0.3"/>
<circle cx="93.1" cy="106.8" r="1.3" fill="#C77CFF" fill-opacity="0.3"/>
<circle cx="150.5" cy="113.5" r="1.3" fill="#C77CFF" fill-opacity="0.3"/>
<circle cx="149.1" cy="94.1" r="1.3" fill="#C77CFF" fill-opacity="0.3"/>
<circle cx="103.3" cy="79.7" r="1.3" fill="#F8766D" fill-opacity="0.3"/>
<circle cx="100" cy="45.7" r="1.3" fill="#F8766D" fill-opacity="0.3"/>
<circle cx="127" cy="97.7" r="1.3" fill="#C77CFF" fill-opacity="0.3"/>
<circle cx="99.6" cy="96.4" r="1.3" fill="#C77CFF" fill-opacity="0.3"/>
<circle cx="127.1" cy="115" r="1.3" fill="#7CAE00" fill-opacity="0.3"/>
<circle cx="73.9" cy="79.4" r="1.3" fill="#C77CFF" fill-opacity="0.3"/>
<circle cx="99" cy="91.5" r="1.3" fill="#C77CFF" fill-opacity="0.3"/>
<circle cx="92.7" cy="64.1" r="1.3" fill="#F8766D" fill-opacity="0.3"/>
<circle cx="97.6" cy="43.7" r="1.3" fill="#F8766D" fill-opacity="0.3"/>
<circle cx="127" cy="51.4" r="1.3" fill="#7CAE00" fill-opacity="0.3"/>
<circle cx="129.2" cy="105.9" r="1.3" fill="#7CAE00" fill-opacity="0.3"/>
<circle cx="175.8" cy="93.6" r="1.3" fill="#C77CFF" fill-opacity="0.3"/>
<circle cx="182.8" cy="48.5" r="1.3" fill="#7CAE00" fill-opacity="0.3"/>
<circle cx="103.4" cy="42.3" r="1.3" fill="#F8766D" fill-opacity="0.3"/>
<circle cx="155" cy="28" r="1.3" fill="#F8766D" fill-opacity="0.3"/>
<circle cx="183.3" cy="89.4" r="1.3" fill="#C77CFF" fill-opacity="0.3"/>
<circle cx="75.4" cy="68" r="1.3" fill="#C77CFF" fill-opacity="0.3"/>
<circle cx="126.6" cy="83.5" r="1.3" fill="#7CAE00" fill-opacity="0.3"/>
<circle cx="123.9" cy="49.5" r="1.3" fill="#F8766D" fill-opacity="0.3"/>
<circle cx="171.6" cy="50.3" r="1.3" fill="#F8766D" fill-opacity="0.3"/>
<circle cx="127.9" cy="49.9" r="1.3" fill="#F8766D" fill-opacity="0.3"/>
<circle cx="98.7" cy="26.6" r="1.3" fill="#F8766D" fill-opacity="0.3"/>
<circle cx="174.6" cy="78.3" r="1.3" fill="#F8766D" fill-opacity="0.3"/>
<circle cx="175.9" cy="80.9" r="1.3" fill="#F8766D" fill-opacity="0.3"/>
<circle cx="92.2" cy="48.2" r="1.3" fill="#F8766D" fill-opacity="0.3"/>
<circle cx="103.5" cy="40.3" r="1.3" fill="#7CAE00" fill-opacity="0.3"/>
<circle cx="99.3" cy="39.4" r="1.3" fill="#F8766D" fill-opacity="0.3"/>
<circle cx="103.4" cy="60.9" r="1.3" fill="#F8766D" fill-opacity="0.3"/>
<circle cx="149.6" cy="72.1" r="1.3" fill="#F8766D" fill-opacity="0.3"/>
<circle cx="149.4" cy="93.1" r="1.3" fill="#C77CFF" fill-opacity="0.3"/>
<circle cx="124.2" cy="89.2" r="1.3" fill="#C77CFF" fill-opacity="0.3"/>
<circle cx="129.2" cy="38.1" r="1.3" fill="#F8766D" fill-opacity="0.3"/>
<circle cx="175.1" cy="107.9" r="1.3" fill="#7CAE00" fill-opacity="0.3"/>
<circle cx="160.2" cy="103.4" r="1.3" fill="#C77CFF" fill-opacity="0.3"/>
<circle cx="71.2" cy="49.7" r="1.3" fill="#F8766D" fill-opacity="0.3"/>
<circle cx="185.1" cy="60" r="1.3" fill="#F8766D" fill-opacity="0.3"/>
<circle cx="181.6" cy="71.5" r="1.3" fill="#7CAE00" fill-opacity="0.3"/>
<circle cx="124.2" cy="92.2" r="1.3" fill="#C77CFF" fill-opacity="0.3"/>
<circle cx="181.6" cy="35.2" r="1.3" fill="#F8766D" fill-opacity="0.3"/>
<circle cx="71.8" cy="49.6" r="1.3" fill="#C77CFF" fill-opacity="0.3"/>
<circle cx="188" cy="100.7" r="1.3" fill="#C77CFF" fill-opacity="0.3"/>
<circle cx="128" cy="98.8" r="1.3" fill="#F8766D" fill-opacity="0.3"/>
<circle cx="71.8" cy="102.3" r="1.3" fill="#C77CFF" fill-opacity="0.3"/>
<circle cx="148.8" cy="27.1" r="1.3" fill="#F8766D" fill-opacity="0.3"/>
<circle cx="124.5" cy="108.9" r="1.3" fill="#7CAE00" fill-opacity="0.3"/>
<circle cx="155" cy="73.5" r="1.3" fill="#F8766D" fill-opacity="0.3"/>
<circle cx="156.5" cy="74.6" r="1.3" fill="#F8766D" fill-opacity="0.3"/>
<circle cx="175.3" cy="85.8" r="1.3" fill="#C77CFF" fill-opacity="0.3"/>
<circle cx="71.5" cy="115.8" r="1.3" fill="#C77CFF" fill-opacity="0.3"/>
<circle cx="124.2" cy="34.9" r="1.3" fill="#F8766D" fill-opacity="0.3"/>
<circle cx="72.3" cy="92.8" r="1.3" fill="#C77CFF" fill-opacity="0.3"/>
<circle cx="150.8" cy="100.4" r="1.3" fill="#C77CFF" fill-opacity="0.3"/>
<circle cx="181.8" cy="56.9" r="1.3" fill="#F8766D" fill-opacity="0.3"/>
<circle cx="70.8" cy="83.6" r="1.3" fill="#C77CFF" fill-opacity="0.3"/>
<circle cx="153.5" cy="45.7" r="1.3" fill="#F8766D" fill-opacity="0.3"/>
<circle cx="147.5" cy="64.6" r="1.3" fill="#F8766D" fill-opacity="0.3"/>
<circle cx="72.2" cy="117.1" r="1.3" fill="#C77CFF" fill-opacity="0.3"/>
<circle cx="159.6" cy="70.2" r="1.3" fill="#C77CFF" fill-opacity="0.3"/>
<circle cx="95.5" cy="89.2" r="1.3" fill="#C77CFF" fill-opacity="0.3"/>
<circle cx="96.3" cy="77.6" r="1.3" fill="#F8766D" fill-opacity="0.3"/>
<circle cx="170.7" cy="43.6" r="1.3" fill="#F8766D" fill-opacity="0.3"/>
<circle cx="173.7" cy="86" r="1.3" fill="#7CAE00" fill-opacity="0.3"/>
<circle cx="154.6" cy="51" r="1.3" fill="#F8766D" fill-opacity="0.3"/>
<circle cx="97.3" cy="95.5" r="1.3" fill="#7CAE00" fill-opacity="0.3"/>
<circle cx="181.8" cy="114.2" r="1.3" fill="#7CAE00" fill-opacity="0.3"/>
<circle cx="93.2" cy="103" r="1.3" fill="#7CAE00" fill-opacity="0.3"/>
<circle cx="157" cy="49.6" r="1.3" fill="#F8766D" fill-opacity="0.3"/>
<circle cx="130.7" cy="85.8" r="1.3" fill="#C77CFF" fill-opacity="0.3"/>
<circle cx="150.9" cy="69" r="1.3" fill="#C77CFF" fill-opacity="0.3"/>
<circle cx="173.1" cy="81.7" r="1.3" fill="#F8766D" fill-opacity="0.3"/>
<circle cx="91.5" cy="112.2" r="1.3" fill="#C77CFF" fill-opacity="0.3"/>
<circle cx="169.4" cy="93" r="1.3" fill="#C77CFF" fill-opacity="0.3"/>
<circle cx="130.6" cy="40.8" r="1.3" fill="#F8766D" fill-opacity="0.3"/>
<circle cx="94.1" cy="47.6" r="1.3" fill="#F8766D" fill-opacity="0.3"/>
<circle cx="160.5" cy="93.1" r="1.3" fill="#C77CFF" fill-opacity="0.3"/>
<circle cx="128.1" cy="108" r="1.3" fill="#C77CFF" fill-opacity="0.3"/>
<circle cx="171.5" cy="53" r="1.3" fill="#F8766D" fill-opacity="0.3"/>
<circle cx="72" cy="52.7" r="1.3" fill="#C77CFF" fill-opacity="0.3"/>
<circle cx="130.1" cy="90.6" r="1.3" fill="#C77CFF" fill-opacity="0.3"/>
<circle cx="129.5" cy="105.4" r="1.3" fill="#C77CFF" fill-opacity="0.3"/>
<circle cx="72.8" cy="96.6" r="1.3" fill="#C77CFF" fill-opacity="0.3"/>
<circle cx="153.9" cy="67.6" r="1.3" fill="#F8766D" fill-opacity="0.3"/>
<circle cx="72.6" cy="70.5" r="1.3" fill="#F8766D" fill-opacity="0.3"/>
<circle cx="182" cy="78.9" r="1.3" fill="#C77CFF" fill-opacity="0.3"/>
<circle cx="95.9" cy="42" r="1.3" fill="#F8766D" fill-opacity="0.3"/>
<circle cx="174.8" cy="110" r="1.3" fill="#C77CFF" fill-opacity="0.3"/>
<circle cx="129.4" cy="52.7" r="1.3" fill="#7CAE00" fill-opacity="0.3"/>
<circle cx="128.1" cy="108.2" r="1.3" fill="#C77CFF" fill-opacity="0.3"/>
<circle cx="104.1" cy="68.4" r="1.3" fill="#F8766D" fill-opacity="0.3"/>
<circle cx="157.9" cy="70.5" r="1.3" fill="#7CAE00" fill-opacity="0.3"/>
<circle cx="70.3" cy="113.6" r="1.3" fill="#C77CFF" fill-opacity="0.3"/>
<circle cx="153.6" cy="47.2" r="1.3" fill="#7CAE00" fill-opacity="0.3"/>
<circle cx="147.4" cy="61.5" r="1.3" fill="#F8766D" fill-opacity="0.3"/>
<circle cx="173.1" cy="88.4" r="1.3" fill="#C77CFF" fill-opacity="0.3"/>
<circle cx="74.8" cy="72" r="1.3" fill="#C77CFF" fill-opacity="0.3"/>
<circle cx="75.1" cy="38.2" r="1.3" fill="#F8766D" fill-opacity="0.3"/>
<circle cx="172.3" cy="56.4" r="1.3" fill="#F8766D" fill-opacity="0.3"/>
<circle cx="88" cy="113.4" r="1.3" fill="#F8766D" fill-opacity="0.3"/>
<circle cx="148.3" cy="35.2" r="1.3" fill="#F8766D" fill-opacity="0.3"/>
<circle cx="71.1" cy="74.8" r="1.3" fill="#F8766D" fill-opacity="0.3"/>
<circle cx="187.2" cy="68.4" r="1.3" fill="#F8766D" fill-opacity="0.3"/>
<circle cx="158.2" cy="50.8" r="1.3" fill="#F8766D" fill-opacity="0.3"/>
<circle cx="88.2" cy="68.4" r="1.3" fill="#F8766D" fill-opacity="0.3"/>
<circle cx="88" cy="67.1" r="1.3" fill="#F8766D" fill-opacity="0.3"/>
<circle cx="184.4" cy="45.6" r="1.3" fill="#F8766D" fill-opacity="0.3"/>
<circle cx="182.3" cy="89.6" r="1.3" fill="#C77CFF" fill-opacity="0.3"/>
<circle cx="125.4" cy="93.1" r="1.3" fill="#F8766D" fill-opacity="0.3"/>
<circle cx="124.2" cy="37.3" r="1.3" fill="#F8766D" fill-opacity="0.3"/>
<circle cx="128" cy="48.3" r="1.3" fill="#F8766D" fill-opacity="0.3"/>
<circle cx="187.8" cy="87.8" r="1.3" fill="#7CAE00" fill-opacity="0.3"/>
<circle cx="174.3" cy="117.1" r="1.3" fill="#C77CFF" fill-opacity="0.3"/>
<circle cx="101.2" cy="109.8" r="1.3" fill="#C77CFF" fill-opacity="0.3"/>
<circle cx="173.4" cy="100.7" r="1.3" fill="#7CAE00" fill-opacity="0.3"/>
<circle cx="96.1" cy="104.9" r="1.3" fill="#C77CFF" fill-opacity="0.3"/>
<circle cx="125" cy="61.8" r="1.3" fill="#7CAE00" fill-opacity="0.3"/>
<circle cx="127.4" cy="63.7" r="1.3" fill="#F8766D" fill-opacity="0.3"/>
<circle cx="124.8" cy="41.7" r="1.3" fill="#F8766D" fill-opacity="0.3"/>
<circle cx="74.6" cy="62.7" r="1.3" fill="#C77CFF" fill-opacity="0.3"/>
<circle cx="94.5" cy="31.1" r="1.3" fill="#F8766D" fill-opacity="0.3"/>
<circle cx="155.8" cy="75.4" r="1.3" fill="#F8766D" fill-opacity="0.3"/>
<circle cx="88.3" cy="88.7" r="1.3" fill="#F8766D" fill-opacity="0.3"/>
<circle cx="91" cy="43.7" r="1.3" fill="#F8766D" fill-opacity="0.3"/>
<circle cx="89.9" cy="107" r="1.3" fill="#C77CFF" fill-opacity="0.3"/>
<circle cx="161" cy="63.1" r="1.3" fill="#7CAE00" fill-opacity="0.3"/>
<circle cx="148.5" cy="56.1" r="1.3" fill="#7CAE00" fill-opacity="0.3"/>
<circle cx="156.3" cy="39.5" r="1.3" fill="#F8766D" fill-opacity="0.3"/>
<circle cx="127.3" cy="74.1" r="1.3" fill="#F8766D" fill-opacity="0.3"/>
<circle cx="124.1" cy="64.2" r="1.3" fill="#C77CFF" fill-opacity="0.3"/>
<circle cx="99.2" cy="50.8" r="1.3" fill="#F8766D" fill-opacity="0.3"/>
<circle cx="154" cy="113.3" r="1.3" fill="#C77CFF" fill-opacity="0.3"/>
<circle cx="187.9" cy="90.7" r="1.3" fill="#C77CFF" fill-opacity="0.3"/>
<circle cx="72.4" cy="101.4" r="1.3" fill="#C77CFF" fill-opacity="0.3"/>
<circle cx="101.2" cy="107.6" r="1.3" fill="#C77CFF" fill-opacity="0.3"/>
<circle cx="187.4" cy="50.9" r="1.3" fill="#F8766D" fill-opacity="0.3"/>
<circle cx="88.8" cy="48.5" r="1.3" fill="#7CAE00" fill-opacity="0.3"/>
<circle cx="183.5" cy="42.7" r="1.3" fill="#F8766D" fill-opacity="0.3"/>
<circle cx="185.6" cy="42.2" r="1.3" fill="#F8766D" fill-opacity="0.3"/>
<circle cx="100.9" cy="117.1" r="1.3" fill="#7CAE00" fill-opacity="0.3"/>
<circle cx="94.4" cy="113.6" r="1.3" fill="#C77CFF" fill-opacity="0.3"/>
<circle cx="90.4" cy="54.8" r="1.3" fill="#F8766D" fill-opacity="0.3"/>
<circle cx="94.6" cy="72.9" r="1.3" fill="#F8766D" fill-opacity="0.3"/>
<circle cx="171.3" cy="82.1" r="1.3" fill="#C77CFF" fill-opacity="0.3"/>
<circle cx="98.3" cy="58" r="1.3" fill="#7CAE00" fill-opacity="0.3"/>
<circle cx="124.2" cy="57.6" r="1.3" fill="#F8766D" fill-opacity="0.3"/>
<circle cx="123.9" cy="72.8" r="1.3" fill="#C77CFF" fill-opacity="0.3"/>
<circle cx="169.5" cy="59.1" r="1.3" fill="#F8766D" fill-opacity="0.3"/>
<circle cx="170.8" cy="51.7" r="1.3" fill="#F8766D" fill-opacity="0.3"/>
<circle cx="159.6" cy="71.9" r="1.3" fill="#F8766D" fill-opacity="0.3"/>
<circle cx="76.6" cy="92.7" r="1.3" fill="#C77CFF" fill-opacity="0.3"/>
<circle cx="186.2" cy="100.4" r="1.3" fill="#C77CFF" fill-opacity="0.3"/>
<circle cx="70.5" cy="75.4" r="1.3" fill="#C77CFF" fill-opacity="0.3"/>
<circle cx="155.3" cy="117.4" r="1.3" fill="#C77CFF" fill-opacity="0.3"/>
<circle cx="126.1" cy="82.2" r="1.3" fill="#F8766D" fill-opacity="0.3"/>
<circle cx="169.3" cy="103.4" r="1.3" fill="#C77CFF" fill-opacity="0.3"/>
<circle cx="90" cy="85" r="1.3" fill="#F8766D" fill-opacity="0.3"/>
<circle cx="73.4" cy="34.6" r="1.3" fill="#F8766D" fill-opacity="0.3"/>
<circle cx="156.9" cy="112.7" r="1.3" fill="#C77CFF" fill-opacity="0.3"/>
<circle cx="183.1" cy="73.8" r="1.3" fill="#7CAE00" fill-opacity="0.3"/>
<circle cx="158.2" cy="88.5" r="1.3" fill="#7CAE00" fill-opacity="0.3"/>
<circle cx="181.3" cy="86.6" r="1.3" fill="#7CAE00" fill-opacity="0.3"/>
<circle cx="128.6" cy="67.9" r="1.3" fill="#7CAE00" fill-opacity="0.3"/>
<circle cx="184" cy="75.2" r="1.3" fill="#F8766D" fill-opacity="0.3"/>
<circle cx="91.5" cy="86.1" r="1.3" fill="#7CAE00" fill-opacity="0.3"/>
<circle cx="154.5" cy="94.8" r="1.3" fill="#C77CFF" fill-opacity="0.3"/>
<circle cx="187.7" cy="52.3" r="1.3" fill="#F8766D" fill-opacity="0.3"/>
<circle cx="148.7" cy="109.6" r="1.3" fill="#F8766D" fill-opacity="0.3"/>
<circle cx="146.3" cy="49.3" r="1.3" fill="#F8766D" fill-opacity="0.3"/>
<circle cx="159" cy="65.4" r="1.3" fill="#F8766D" fill-opacity="0.3"/>
<circle cx="126" cy="96.9" r="1.3" fill="#C77CFF" fill-opacity="0.3"/>
<circle cx="185.7" cy="100.9" r="1.3" fill="#7CAE00" fill-opacity="0.3"/>
<circle cx="130.3" cy="48.8" r="1.3" fill="#F8766D" fill-opacity="0.3"/>
<circle cx="150.4" cy="33.6" r="1.3" fill="#F8766D" fill-opacity="0.3"/>
<circle cx="91.4" cy="51.9" r="1.3" fill="#F8766D" fill-opacity="0.3"/>
<circle cx="149.8" cy="87.9" r="1.3" fill="#7CAE00" fill-opacity="0.3"/>
<circle cx="184.3" cy="74.6" r="1.3" fill="#C77CFF" fill-opacity="0.3"/>
<circle cx="161" cy="99.9" r="1.3" fill="#C77CFF" fill-opacity="0.3"/>
<circle cx="97.2" cy="44.4" r="1.3" fill="#F8766D" fill-opacity="0.3"/>
<circle cx="150.9" cy="58.1" r="1.3" fill="#F8766D" fill-opacity="0.3"/>
<circle cx="100.1" cy="45.9" r="1.3" fill="#F8766D" fill-opacity="0.3"/>
<circle cx="75.2" cy="72.8" r="1.3" fill="#C77CFF" fill-opacity="0.3"/>
<circle cx="152.2" cy="55.7" r="1.3" fill="#F8766D" fill-opacity="0.3"/>
<circle cx="91.7" cy="97" r="1.3" fill="#C77CFF" fill-opacity="0.3"/>
<circle cx="73.6" cy="103.3" r="1.3" fill="#C77CFF" fill-opacity="0.3"/>
<circle cx="158.7" cy="34.4" r="1.3" fill="#F8766D" fill-opacity="0.3"/>
<circle cx="101.1" cy="101.3" r="1.3" fill="#C77CFF" fill-opacity="0.3"/>
<circle cx="175.4" cy="60.6" r="1.3" fill="#F8766D" fill-opacity="0.3"/>
<circle cx="101.7" cy="49.3" r="1.3" fill="#F8766D" fill-opacity="0.3"/>
<circle cx="74.7" cy="116.2" r="1.3" fill="#C77CFF" fill-opacity="0.3"/>
<circle cx="128.5" cy="37.3" r="1.3" fill="#F8766D" fill-opacity="0.3"/>
<circle cx="186.7" cy="53.4" r="1.3" fill="#F8766D" fill-opacity="0.3"/>
<circle cx="99.3" cy="49.2" r="1.3" fill="#F8766D" fill-opacity="0.3"/>
<circle cx="100" cy="93.8" r="1.3" fill="#C77CFF" fill-opacity="0.3"/>
<circle cx="154.4" cy="96.2" r="1.3" fill="#F8766D" fill-opacity="0.3"/>
<circle cx="172.2" cy="109.6" r="1.3" fill="#C77CFF" fill-opacity="0.3"/>
<circle cx="146.9" cy="71.1" r="1.3" fill="#F8766D" fill-opacity="0.3"/>
<circle cx="71.6" cy="95.9" r="1.3" fill="#C77CFF" fill-opacity="0.3"/>
<circle cx="70.9" cy="47.2" r="1.3" fill="#F8766D" fill-opacity="0.3"/>
<circle cx="185.8" cy="95.8" r="1.3" fill="#F8766D" fill-opacity="0.3"/>
<circle cx="90.8" cy="43.7" r="1.3" fill="#F8766D" fill-opacity="0.3"/>
<circle cx="130.5" cy="116.1" r="1.3" fill="#F8766D" fill-opacity="0.3"/>
<circle cx="170.1" cy="98.8" r="1.3" fill="#F8766D" fill-opacity="0.3"/>
<circle cx="130.2" cy="113.4" r="1.3" fill="#C77CFF" fill-opacity="0.3"/>
<circle cx="154" cy="60.5" r="1.3" fill="#7CAE00" fill-opacity="0.3"/>
<circle cx="124.6" cy="54.6" r="1.3" fill="#F8766D" fill-opacity="0.3"/>
<circle cx="93.6" cy="39.8" r="1.3" fill="#F8766D" fill-opacity="0.3"/>
<circle cx="152.8" cy="60.4" r="1.3" fill="#F8766D" fill-opacity="0.3"/>
<circle cx="173.5" cy="59.7" r="1.3" fill="#F8766D" fill-opacity="0.3"/>
<circle cx="101.6" cy="67.5" r="1.3" fill="#7CAE00" fill-opacity="0.3"/>
<circle cx="182" cy="104.3" r="1.3" fill="#C77CFF" fill-opacity="0.3"/>
<circle cx="149" cy="109.4" r="1.3" fill="#C77CFF" fill-opacity="0.3"/>
<circle cx="71" cy="71.3" r="1.3" fill="#C77CFF" fill-opacity="0.3"/>
<circle cx="172" cy="90.8" r="1.3" fill="#F8766D" fill-opacity="0.3"/>
<circle cx="171.8" cy="83.7" r="1.3" fill="#F8766D" fill-opacity="0.3"/>
<circle cx="182.4" cy="36" r="1.3" fill="#F8766D" fill-opacity="0.3"/>
<circle cx="184.8" cy="96.1" r="1.3" fill="#C77CFF" fill-opacity="0.3"/>
<circle cx="70.4" cy="78.8" r="1.3" fill="#C77CFF" fill-opacity="0.3"/>
<circle cx="151.2" cy="28.6" r="1.3" fill="#F8766D" fill-opacity="0.3"/>
<circle cx="160.6" cy="52.7" r="1.3" fill="#F8766D" fill-opacity="0.3"/>
<circle cx="92.7" cy="107.4" r="1.3" fill="#F8766D" fill-opacity="0.3"/>
<circle cx="158.2" cy="70.6" r="1.3" fill="#C77CFF" fill-opacity="0.3"/>
<circle cx="94.2" cy="80.1" r="1.3" fill="#F8766D" fill-opacity="0.3"/>
<circle cx="175.7" cy="110.3" r="1.3" fill="#F8766D" fill-opacity="0.3"/>
<circle cx="76.5" cy="74.9" r="1.3" fill="#F8766D" fill-opacity="0.3"/>
<circle cx="127.9" cy="52.7" r="1.3" fill="#F8766D" fill-opacity="0.3"/>
<circle cx="71.9" cy="80" r="1.3" fill="#C77CFF" fill-opacity="0.3"/>
<circle cx="187.4" cy="38.7" r="1.3" fill="#F8766D" fill-opacity="0.3"/>
<circle cx="90.9" cy="92.1" r="1.3" fill="#C77CFF" fill-opacity="0.3"/>
<circle cx="104" cy="33.3" r="1.3" fill="#F8766D" fill-opacity="0.3"/>
<circle cx="128.1" cy="89.9" r="1.3" fill="#7CAE00" fill-opacity="0.3"/>
<circle cx="93.9" cy="43.3" r="1.3" fill="#F8766D" fill-opacity="0.3"/>
<circle cx="129" cy="80.3" r="1.3" fill="#F8766D" fill-opacity="0.3"/>
<circle cx="158" cy="96.4" r="1.3" fill="#C77CFF" fill-opacity="0.3"/>
<circle cx="151.6" cy="58.6" r="1.3" fill="#7CAE00" fill-opacity="0.3"/>
<circle cx="174.5" cy="71.1" r="1.3" fill="#F8766D" fill-opacity="0.3"/>
<circle cx="153.7" cy="98.9" r="1.3" fill="#C77CFF" fill-opacity="0.3"/>
<circle cx="171.5" cy="106.1" r="1.3" fill="#C77CFF" fill-opacity="0.3"/>
<circle cx="126.3" cy="63.6" r="1.3" fill="#C77CFF" fill-opacity="0.3"/>
<circle cx="100.7" cy="97.6" r="1.3" fill="#C77CFF" fill-opacity="0.3"/>
<circle cx="94.7" cy="63.8" r="1.3" fill="#7CAE00" fill-opacity="0.3"/>
<circle cx="180.7" cy="86.3" r="1.3" fill="#7CAE00" fill-opacity="0.3"/>
<circle cx="88.3" cy="59.5" r="1.3" fill="#7CAE00" fill-opacity="0.3"/>
<circle cx="147.6" cy="91.5" r="1.3" fill="#C77CFF" fill-opacity="0.3"/>
<circle cx="185.5" cy="60.3" r="1.3" fill="#C77CFF" fill-opacity="0.3"/>
<circle cx="170.9" cy="55.5" r="1.3" fill="#F8766D" fill-opacity="0.3"/>
<circle cx="181.7" cy="102.5" r="1.3" fill="#C77CFF" fill-opacity="0.3"/>
<circle cx="169.6" cy="81.8" r="1.3" fill="#F8766D" fill-opacity="0.3"/>
<circle cx="157.5" cy="68.4" r="1.3" fill="#7CAE00" fill-opacity="0.3"/>
<circle cx="123.9" cy="87.7" r="1.3" fill="#F8766D" fill-opacity="0.3"/>
<circle cx="182.2" cy="58.6" r="1.3" fill="#7CAE00" fill-opacity="0.3"/>
<circle cx="74.2" cy="93.9" r="1.3" fill="#C77CFF" fill-opacity="0.3"/>
<circle cx="88" cy="63.3" r="1.3" fill="#F8766D" fill-opacity="0.3"/>
<circle cx="70.7" cy="112" r="1.3" fill="#C77CFF" fill-opacity="0.3"/>
<circle cx="126.1" cy="108.2" r="1.3" fill="#C77CFF" fill-opacity="0.3"/>
<circle cx="129.4" cy="48.4" r="1.3" fill="#F8766D" fill-opacity="0.3"/>
<circle cx="187.5" cy="85.9" r="1.3" fill="#C77CFF" fill-opacity="0.3"/>
<circle cx="73.9" cy="71.5" r="1.3" fill="#C77CFF" fill-opacity="0.3"/>
<circle cx="129.6" cy="57.5" r="1.3" fill="#F8766D" fill-opacity="0.3"/>
<circle cx="146.8" cy="96.1" r="1.3" fill="#F8766D" fill-opacity="0.3"/>
<circle cx="128.1" cy="39.3" r="1.3" fill="#F8766D" fill-opacity="0.3"/>
<circle cx="126.5" cy="34.8" r="1.3" fill="#F8766D" fill-opacity="0.3"/>
<circle cx="102.5" cy="100.4" r="1.3" fill="#7CAE00" fill-opacity="0.3"/>
<circle cx="90.1" cy="48.3" r="1.3" fill="#F8766D" fill-opacity="0.3"/>
<circle cx="155.3" cy="72.8" r="1.3" fill="#7CAE00" fill-opacity="0.3"/>
<circle cx="89.5" cy="34.8" r="1.3" fill="#7CAE00" fill-opacity="0.3"/>
<circle cx="69.9" cy="106.1" r="1.3" fill="#C77CFF" fill-opacity="0.3"/>
<circle cx="74.9" cy="44.4" r="1.3" fill="#F8766D" fill-opacity="0.3"/>
<circle cx="161.1" cy="29.6" r="1.3" fill="#F8766D" fill-opacity="0.3"/>
<circle cx="150.3" cy="84.5" r="1.3" fill="#7CAE00" fill-opacity="0.3"/>
<circle cx="169.6" cy="80.5" r="1.3" fill="#7CAE00" fill-opacity="0.3"/>
<circle cx="175.4" cy="116.9" r="1.3" fill="#C77CFF" fill-opacity="0.3"/>
<circle cx="94" cy="46.4" r="1.3" fill="#F8766D" fill-opacity="0.3"/>
<circle cx="171.9" cy="117.8" r="1.3" fill="#C77CFF" fill-opacity="0.3"/>
<circle cx="187.6" cy="112.7" r="1.3" fill="#F8766D" fill-opacity="0.3"/>
<circle cx="103.5" cy="114.6" r="1.3" fill="#F8766D" fill-opacity="0.3"/>
<circle cx="172.5" cy="48.8" r="1.3" fill="#F8766D" fill-opacity="0.3"/>
<circle cx="171.8" cy="101.6" r="1.3" fill="#C77CFF" fill-opacity="0.3"/>
<circle cx="98.3" cy="44" r="1.3" fill="#F8766D" fill-opacity="0.3"/>
<circle cx="90.4" cy="87.5" r="1.3" fill="#C77CFF" fill-opacity="0.3"/>
<circle cx="181.6" cy="91.1" r="1.3" fill="#F8766D" fill-opacity="0.3"/>
<circle cx="169.1" cy="88" r="1.3" fill="#C77CFF" fill-opacity="0.3"/>
<circle cx="73" cy="100" r="1.3" fill="#C77CFF" fill-opacity="0.3"/>
<circle cx="126.7" cy="114.4" r="1.3" fill="#F8766D" fill-opacity="0.3"/>
<circle cx="147.4" cy="72.8" r="1.3" fill="#F8766D" fill-opacity="0.3"/>
<circle cx="147.9" cy="48.8" r="1.3" fill="#F8766D" fill-opacity="0.3"/>
<circle cx="95" cy="78.1" r="1.3" fill="#7CAE00" fill-opacity="0.3"/>
<circle cx="183.9" cy="69.3" r="1.3" fill="#C77CFF" fill-opacity="0.3"/>
<circle cx="98.7" cy="40.7" r="1.3" fill="#F8766D" fill-opacity="0.3"/>
<circle cx="184.4" cy="111.6" r="1.3" fill="#C77CFF" fill-opacity="0.3"/>
<circle cx="150.4" cy="44" r="1.3" fill="#F8766D" fill-opacity="0.3"/>
<circle cx="127.3" cy="45.3" r="1.3" fill="#F8766D" fill-opacity="0.3"/>
<circle cx="102.4" cy="43.9" r="1.3" fill="#F8766D" fill-opacity="0.3"/>
<circle cx="174.1" cy="93.1" r="1.3" fill="#7CAE00" fill-opacity="0.3"/>
<circle cx="75.4" cy="107.6" r="1.3" fill="#C77CFF" fill-opacity="0.3"/>
<circle cx="88.2" cy="69.7" r="1.3" fill="#7CAE00" fill-opacity="0.3"/>
<circle cx="75.8" cy="90.1" r="1.3" fill="#C77CFF" fill-opacity="0.3"/>
<circle cx="170.5" cy="111.7" r="1.3" fill="#F8766D" fill-opacity="0.3"/>
<circle cx="181.8" cy="70.1" r="1.3" fill="#C77CFF" fill-opacity="0.3"/>
<circle cx="73.2" cy="67.2" r="1.3" fill="#C77CFF" fill-opacity="0.3"/>
<circle cx="91.9" cy="39.3" r="1.3" fill="#F8766D" fill-opacity="0.3"/>
<circle cx="157.1" cy="36.6" r="1.3" fill="#F8766D" fill-opacity="0.3"/>
<circle cx="169.5" cy="75.8" r="1.3" fill="#F8766D" fill-opacity="0.3"/>
<circle cx="147.9" cy="62.1" r="1.3" fill="#F8766D" fill-opacity="0.3"/>
<circle cx="91" cy="112.5" r="1.3" fill="#F8766D" fill-opacity="0.3"/>
<circle cx="98.2" cy="38.3" r="1.3" fill="#F8766D" fill-opacity="0.3"/>
<circle cx="185.9" cy="98.8" r="1.3" fill="#7CAE00" fill-opacity="0.3"/>
<circle cx="72.3" cy="34.1" r="1.3" fill="#F8766D" fill-opacity="0.3"/>
<circle cx="129.8" cy="59" r="1.3" fill="#F8766D" fill-opacity="0.3"/>
<circle cx="186.2" cy="59.1" r="1.3" fill="#F8766D" fill-opacity="0.3"/>
<circle cx="185.6" cy="46.2" r="1.3" fill="#F8766D" fill-opacity="0.3"/>
<circle cx="170.6" cy="41.5" r="1.3" fill="#F8766D" fill-opacity="0.3"/>
<circle cx="169.5" cy="107.2" r="1.3" fill="#C77CFF" fill-opacity="0.3"/>
<circle cx="100.6" cy="75.4" r="1.3" fill="#F8766D" fill-opacity="0.3"/>
<circle cx="154.9" cy="40.2" r="1.3" fill="#F8766D" fill-opacity="0.3"/>
<circle cx="185.4" cy="96.9" r="1.3" fill="#F8766D" fill-opacity="0.3"/>
<circle cx="152" cy="45.3" r="1.3" fill="#F8766D" fill-opacity="0.3"/>
<circle cx="69.8" cy="98.2" r="1.3" fill="#C77CFF" fill-opacity="0.3"/>
<circle cx="90.8" cy="93.8" r="1.3" fill="#C77CFF" fill-opacity="0.3"/>
<circle cx="72.7" cy="99.1" r="1.3" fill="#C77CFF" fill-opacity="0.3"/>
<circle cx="183.3" cy="73.1" r="1.3" fill="#F8766D" fill-opacity="0.3"/>
<circle cx="103" cy="38.3" r="1.3" fill="#F8766D" fill-opacity="0.3"/>
<circle cx="100.5" cy="89.9" r="1.3" fill="#7CAE00" fill-opacity="0.3"/>
<circle cx="173.5" cy="106.2" r="1.3" fill="#C77CFF" fill-opacity="0.3"/>
<circle cx="73.6" cy="95.1" r="1.3" fill="#C77CFF" fill-opacity="0.3"/>
<circle cx="91.6" cy="85" r="1.3" fill="#C77CFF" fill-opacity="0.3"/>
<circle cx="184.2" cy="80.1" r="1.3" fill="#C77CFF" fill-opacity="0.3"/>
<circle cx="183.5" cy="56.3" r="1.3" fill="#F8766D" fill-opacity="0.3"/>
<circle cx="174" cy="73.1" r="1.3" fill="#F8766D" fill-opacity="0.3"/>
<circle cx="96.9" cy="97.8" r="1.3" fill="#7CAE00" fill-opacity="0.3"/>
<circle cx="146.8" cy="45.7" r="1.3" fill="#F8766D" fill-opacity="0.3"/>
<circle cx="182.1" cy="104.2" r="1.3" fill="#C77CFF" fill-opacity="0.3"/>
<circle cx="72.2" cy="89.4" r="1.3" fill="#C77CFF" fill-opacity="0.3"/>
<circle cx="182.5" cy="110.7" r="1.3" fill="#C77CFF" fill-opacity="0.3"/>
<circle cx="95.6" cy="47.6" r="1.3" fill="#F8766D" fill-opacity="0.3"/>
<circle cx="94.2" cy="37.2" r="1.3" fill="#F8766D" fill-opacity="0.3"/>
<circle cx="184" cy="77.1" r="1.3" fill="#F8766D" fill-opacity="0.3"/>
<circle cx="98" cy="37.7" r="1.3" fill="#F8766D" fill-opacity="0.3"/>
<circle cx="152.3" cy="53.3" r="1.3" fill="#F8766D" fill-opacity="0.3"/>
<circle cx="71.4" cy="54.3" r="1.3" fill="#C77CFF" fill-opacity="0.3"/>
<circle cx="93.3" cy="87.8" r="1.3" fill="#7CAE00" fill-opacity="0.3"/>
<circle cx="128.6" cy="60.6" r="1.3" fill="#C77CFF" fill-opacity="0.3"/>
<circle cx="171.1" cy="43.2" r="1.3" fill="#F8766D" fill-opacity="0.3"/>
<circle cx="180.9" cy="40.2" r="1.3" fill="#F8766D" fill-opacity="0.3"/>
<circle cx="158.9" cy="40.2" r="1.3" fill="#7CAE00" fill-opacity="0.3"/>
<circle cx="73.6" cy="89" r="1.3" fill="#C77CFF" fill-opacity="0.3"/>
<circle cx="130" cy="48.8" r="1.3" fill="#F8766D" fill-opacity="0.3"/>
<circle cx="153.9" cy="107.9" r="1.3" fill="#F8766D" fill-opacity="0.3"/>
<circle cx="150.5" cy="33" r="1.3" fill="#F8766D" fill-opacity="0.3"/>
<circle cx="98.1" cy="61.6" r="1.3" fill="#F8766D" fill-opacity="0.3"/>
<circle cx="70.4" cy="86.9" r="1.3" fill="#C77CFF" fill-opacity="0.3"/>
<circle cx="69.6" cy="96.4" r="1.3" fill="#C77CFF" fill-opacity="0.3"/>
<circle cx="181.9" cy="51.7" r="1.3" fill="#F8766D" fill-opacity="0.3"/>
<circle cx="187.9" cy="49" r="1.3" fill="#F8766D" fill-opacity="0.3"/>
<circle cx="153.8" cy="66.3" r="1.3" fill="#F8766D" fill-opacity="0.3"/>
<circle cx="186.5" cy="93" r="1.3" fill="#F8766D" fill-opacity="0.3"/>
<circle cx="103.2" cy="38.9" r="1.3" fill="#F8766D" fill-opacity="0.3"/>
<circle cx="154.9" cy="36.5" r="1.3" fill="#F8766D" fill-opacity="0.3"/>
<circle cx="175.3" cy="51.5" r="1.3" fill="#F8766D" fill-opacity="0.3"/>
<circle cx="146.1" cy="115.1" r="1.3" fill="#F8766D" fill-opacity="0.3"/>
<circle cx="74.5" cy="112.7" r="1.3" fill="#C77CFF" fill-opacity="0.3"/>
<circle cx="185.3" cy="114.2" r="1.3" fill="#C77CFF" fill-opacity="0.3"/>
<circle cx="169.3" cy="60.4" r="1.3" fill="#7CAE00" fill-opacity="0.3"/>
<circle cx="154.3" cy="72.3" r="1.3" fill="#C77CFF" fill-opacity="0.3"/>
<circle cx="152.8" cy="57" r="1.3" fill="#C77CFF" fill-opacity="0.3"/>
<circle cx="101.7" cy="41.9" r="1.3" fill="#F8766D" fill-opacity="0.3"/>
<circle cx="146" cy="76.7" r="1.3" fill="#F8766D" fill-opacity="0.3"/>
<circle cx="185.4" cy="105.8" r="1.3" fill="#F8766D" fill-opacity="0.3"/>
<circle cx="73" cy="59" r="1.3" fill="#C77CFF" fill-opacity="0.3"/>
<circle cx="173.9" cy="89.1" r="1.3" fill="#7CAE00" fill-opacity="0.3"/>
<circle cx="98" cy="39.9" r="1.3" fill="#F8766D" fill-opacity="0.3"/>
<circle cx="103.3" cy="43.9" r="1.3" fill="#F8766D" fill-opacity="0.3"/>
<circle cx="95.4" cy="27.6" r="1.3" fill="#F8766D" fill-opacity="0.3"/>
<circle cx="100.6" cy="82.8" r="1.3" fill="#C77CFF" fill-opacity="0.3"/>
<circle cx="93" cy="41.8" r="1.3" fill="#F8766D" fill-opacity="0.3"/>
<circle cx="91.6" cy="84.3" r="1.3" fill="#C77CFF" fill-opacity="0.3"/>
<circle cx="171.4" cy="81.7" r="1.3" fill="#F8766D" fill-opacity="0.3"/>
<circle cx="126.6" cy="114.6" r="1.3" fill="#C77CFF" fill-opacity="0.3"/>
<circle cx="149.7" cy="28.6" r="1.3" fill="#F8766D" fill-opacity="0.3"/>
<circle cx="94.7" cy="86.3" r="1.3" fill="#F8766D" fill-opacity="0.3"/>
<circle cx="170.1" cy="106.6" r="1.3" fill="#C77CFF" fill-opacity="0.3"/>
<circle cx="154.5" cy="40.7" r="1.3" fill="#F8766D" fill-opacity="0.3"/>
<circle cx="91.4" cy="72.4" r="1.3" fill="#F8766D" fill-opacity="0.3"/>
<circle cx="150.6" cy="29.6" r="1.3" fill="#F8766D" fill-opacity="0.3"/>
<circle cx="89.7" cy="83.4" r="1.3" fill="#C77CFF" fill-opacity="0.3"/>
<circle cx="95.1" cy="63" r="1.3" fill="#F8766D" fill-opacity="0.3"/>
<circle cx="93.7" cy="32.9" r="1.3" fill="#F8766D" fill-opacity="0.3"/>
<circle cx="150.1" cy="48.9" r="1.3" fill="#F8766D" fill-opacity="0.3"/>
<circle cx="173.4" cy="50.4" r="1.3" fill="#F8766D" fill-opacity="0.3"/>
<circle cx="187.6" cy="82.6" r="1.3" fill="#F8766D" fill-opacity="0.3"/>
<circle cx="184.7" cy="67.2" r="1.3" fill="#F8766D" fill-opacity="0.3"/>
<circle cx="158" cy="52" r="1.3" fill="#F8766D" fill-opacity="0.3"/>
<circle cx="102" cy="58.1" r="1.3" fill="#C77CFF" fill-opacity="0.3"/>
<circle cx="130.7" cy="108.3" r="1.3" fill="#C77CFF" fill-opacity="0.3"/>
<circle cx="156" cy="117.7" r="1.3" fill="#C77CFF" fill-opacity="0.3"/>
<circle cx="158" cy="96.6" r="1.3" fill="#F8766D" fill-opacity="0.3"/>
<circle cx="70.2" cy="109.2" r="1.3" fill="#C77CFF" fill-opacity="0.3"/>
<circle cx="181.5" cy="108.3" r="1.3" fill="#C77CFF" fill-opacity="0.3"/>
<circle cx="97.8" cy="54.1" r="1.3" fill="#F8766D" fill-opacity="0.3"/>
<circle cx="172.3" cy="91.3" r="1.3" fill="#F8766D" fill-opacity="0.3"/>
<circle cx="125.4" cy="71.3" r="1.3" fill="#7CAE00" fill-opacity="0.3"/>
<circle cx="74.1" cy="41.8" r="1.3" fill="#F8766D" fill-opacity="0.3"/>
<circle cx="170" cy="42.1" r="1.3" fill="#F8766D" fill-opacity="0.3"/>
<circle cx="74.7" cy="57.1" r="1.3" fill="#C77CFF" fill-opacity="0.3"/>
<circle cx="95.4" cy="94.6" r="1.3" fill="#C77CFF" fill-opacity="0.3"/>
<circle cx="98.2" cy="92.9" r="1.3" fill="#C77CFF" fill-opacity="0.3"/>
<circle cx="158.2" cy="109.8" r="1.3" fill="#C77CFF" fill-opacity="0.3"/>
<circle cx="124.9" cy="98.5" r="1.3" fill="#F8766D" fill-opacity="0.3"/>
<circle cx="97.8" cy="83.9" r="1.3" fill="#C77CFF" fill-opacity="0.3"/>
<circle cx="72.7" cy="36.7" r="1.3" fill="#C77CFF" fill-opacity="0.3"/>
<circle cx="69.3" cy="37" r="1.3" fill="#F8766D" fill-opacity="0.3"/>
<circle cx="101.8" cy="47.7" r="1.3" fill="#7CAE00" fill-opacity="0.3"/>
<circle cx="171.6" cy="74.7" r="1.3" fill="#F8766D" fill-opacity="0.3"/>
<circle cx="157.1" cy="76.6" r="1.3" fill="#C77CFF" fill-opacity="0.3"/>
<circle cx="89.6" cy="103.4" r="1.3" fill="#F8766D" fill-opacity="0.3"/>
<circle cx="148.8" cy="65.8" r="1.3" fill="#7CAE00" fill-opacity="0.3"/>
<circle cx="73.3" cy="34.4" r="1.3" fill="#F8766D" fill-opacity="0.3"/>
<circle cx="91.7" cy="82.9" r="1.3" fill="#C77CFF" fill-opacity="0.3"/>
<circle cx="95.9" cy="101.9" r="1.3" fill="#C77CFF" fill-opacity="0.3"/>
<circle cx="127.9" cy="106.7" r="1.3" fill="#F8766D" fill-opacity="0.3"/>
<circle cx="103.1" cy="105.2" r="1.3" fill="#C77CFF" fill-opacity="0.3"/>
<circle cx="88.9" cy="109.8" r="1.3" fill="#C77CFF" fill-opacity="0.3"/>
<circle cx="182.5" cy="56.3" r="1.3" fill="#F8766D" fill-opacity="0.3"/>
<circle cx="156.5" cy="68.4" r="1.3" fill="#F8766D" fill-opacity="0.3"/>
<circle cx="101.2" cy="67.7" r="1.3" fill="#C77CFF" fill-opacity="0.3"/>
<circle cx="172.5" cy="89.5" r="1.3" fill="#C77CFF" fill-opacity="0.3"/>
<circle cx="185.4" cy="58.3" r="1.3" fill="#F8766D" fill-opacity="0.3"/>
<circle cx="146.7" cy="80.9" r="1.3" fill="#7CAE00" fill-opacity="0.3"/>
<circle cx="88" cy="46.6" r="1.3" fill="#F8766D" fill-opacity="0.3"/>
<circle cx="148.2" cy="57.1" r="1.3" fill="#F8766D" fill-opacity="0.3"/>
<circle cx="124.5" cy="44.2" r="1.3" fill="#F8766D" fill-opacity="0.3"/>
<circle cx="150.4" cy="71.1" r="1.3" fill="#F8766D" fill-opacity="0.3"/>
<circle cx="156.7" cy="117.1" r="1.3" fill="#C77CFF" fill-opacity="0.3"/>
<circle cx="157.6" cy="50.6" r="1.3" fill="#F8766D" fill-opacity="0.3"/>
<circle cx="124.1" cy="85.5" r="1.3" fill="#C77CFF" fill-opacity="0.3"/>
<circle cx="171.4" cy="35.4" r="1.3" fill="#F8766D" fill-opacity="0.3"/>
<circle cx="171.5" cy="58" r="1.3" fill="#F8766D" fill-opacity="0.3"/>
<circle cx="175.9" cy="86" r="1.3" fill="#F8766D" fill-opacity="0.3"/>
<circle cx="103.6" cy="106.5" r="1.3" fill="#7CAE00" fill-opacity="0.3"/>
<circle cx="76" cy="106.4" r="1.3" fill="#C77CFF" fill-opacity="0.3"/>
<circle cx="93.8" cy="114.5" r="1.3" fill="#C77CFF" fill-opacity="0.3"/>
<circle cx="88.2" cy="57.3" r="1.3" fill="#F8766D" fill-opacity="0.3"/>
<circle cx="96.3" cy="35.4" r="1.3" fill="#7CAE00" fill-opacity="0.3"/>
<circle cx="173.7" cy="98" r="1.3" fill="#C77CFF" fill-opacity="0.3"/>
<circle cx="171.8" cy="63.5" r="1.3" fill="#7CAE00" fill-opacity="0.3"/>
<circle cx="103.8" cy="30.7" r="1.3" fill="#F8766D" fill-opacity="0.3"/>
<circle cx="127.6" cy="109" r="1.3" fill="#C77CFF" fill-opacity="0.3"/>
<circle cx="95.1" cy="93.5" r="1.3" fill="#F8766D" fill-opacity="0.3"/>
<circle cx="185.7" cy="114.7" r="1.3" fill="#C77CFF" fill-opacity="0.3"/>
<circle cx="96.1" cy="115.1" r="1.3" fill="#7CAE00" fill-opacity="0.3"/>
<circle cx="71.9" cy="40.4" r="1.3" fill="#C77CFF" fill-opacity="0.3"/>
<circle cx="129.3" cy="107.7" r="1.3" fill="#C77CFF" fill-opacity="0.3"/>
<circle cx="76.2" cy="108.9" r="1.3" fill="#C77CFF" fill-opacity="0.3"/>
<circle cx="158.3" cy="41" r="1.3" fill="#F8766D" fill-opacity="0.3"/>
<circle cx="156.5" cy="42.8" r="1.3" fill="#F8766D" fill-opacity="0.3"/>
<circle cx="69.8" cy="47" r="1.3" fill="#C77CFF" fill-opacity="0.3"/>
<circle cx="146.7" cy="64.1" r="1.3" fill="#7CAE00" fill-opacity="0.3"/>
<circle cx="150.7" cy="41.6" r="1.3" fill="#F8766D" fill-opacity="0.3"/>
<circle cx="185.7" cy="102.8" r="1.3" fill="#F8766D" fill-opacity="0.3"/>
<circle cx="69.9" cy="76.9" r="1.3" fill="#C77CFF" fill-opacity="0.3"/>
<circle cx="181.7" cy="33" r="1.3" fill="#F8766D" fill-opacity="0.3"/>
<circle cx="161.1" cy="74.8" r="1.3" fill="#7CAE00" fill-opacity="0.3"/>
<circle cx="187.1" cy="77.6" r="1.3" fill="#7CAE00" fill-opacity="0.3"/>
<circle cx="161" cy="65.2" r="1.3" fill="#F8766D" fill-opacity="0.3"/>
<circle cx="182.9" cy="41.2" r="1.3" fill="#F8766D" fill-opacity="0.3"/>
<circle cx="154.4" cy="80.9" r="1.3" fill="#C77CFF" fill-opacity="0.3"/>
<circle cx="96.4" cy="99" r="1.3" fill="#F8766D" fill-opacity="0.3"/>
<circle cx="128.7" cy="110.1" r="1.3" fill="#C77CFF" fill-opacity="0.3"/>
<circle cx="102.7" cy="77.6" r="1.3" fill="#F8766D" fill-opacity="0.3"/>
<circle cx="147.3" cy="48" r="1.3" fill="#F8766D" fill-opacity="0.3"/>
<circle cx="174.8" cy="72.8" r="1.3" fill="#F8766D" fill-opacity="0.3"/>
<circle cx="186.7" cy="61.4" r="1.3" fill="#F8766D" fill-opacity="0.3"/>
<circle cx="160.9" cy="113.3" r="1.3" fill="#7CAE00" fill-opacity="0.3"/>
<circle cx="185.9" cy="52.5" r="1.3" fill="#F8766D" fill-opacity="0.3"/>
<circle cx="71" cy="40.6" r="1.3" fill="#F8766D" fill-opacity="0.3"/>
<circle cx="170.7" cy="41.6" r="1.3" fill="#F8766D" fill-opacity="0.3"/>
<circle cx="75.8" cy="47.9" r="1.3" fill="#F8766D" fill-opacity="0.3"/>
<circle cx="73.4" cy="31.3" r="1.3" fill="#F8766D" fill-opacity="0.3"/>
<circle cx="158.5" cy="110.8" r="1.3" fill="#F8766D" fill-opacity="0.3"/>
<circle cx="93.9" cy="40.7" r="1.3" fill="#F8766D" fill-opacity="0.3"/>
<circle cx="174.6" cy="48" r="1.3" fill="#F8766D" fill-opacity="0.3"/>
<circle cx="90.2" cy="35.2" r="1.3" fill="#F8766D" fill-opacity="0.3"/>
<circle cx="153.9" cy="74.2" r="1.3" fill="#F8766D" fill-opacity="0.3"/>
<circle cx="170.9" cy="73.8" r="1.3" fill="#F8766D" fill-opacity="0.3"/>
<circle cx="130.4" cy="56.7" r="1.3" fill="#F8766D" fill-opacity="0.3"/>
<circle cx="73" cy="109.4" r="1.3" fill="#C77CFF" fill-opacity="0.3"/>
<circle cx="98.3" cy="78.7" r="1.3" fill="#C77CFF" fill-opacity="0.3"/>
<circle cx="182.4" cy="64.2" r="1.3" fill="#F8766D" fill-opacity="0.3"/>
<circle cx="103.2" cy="47.7" r="1.3" fill="#F8766D" fill-opacity="0.3"/>
<circle cx="184.5" cy="85.3" r="1.3" fill="#F8766D" fill-opacity="0.3"/>
<circle cx="99.8" cy="71.8" r="1.3" fill="#7CAE00" fill-opacity="0.3"/>
<circle cx="100.1" cy="56.7" r="1.3" fill="#7CAE00" fill-opacity="0.3"/>
<circle cx="70.1" cy="33.8" r="1.3" fill="#F8766D" fill-opacity="0.3"/>
<circle cx="70.5" cy="51.7" r="1.3" fill="#F8766D" fill-opacity="0.3"/>
<circle cx="169.4" cy="67.5" r="1.3" fill="#7CAE00" fill-opacity="0.3"/>
<circle cx="153.9" cy="37" r="1.3" fill="#7CAE00" fill-opacity="0.3"/>
<circle cx="72.7" cy="77.2" r="1.3" fill="#F8766D" fill-opacity="0.3"/>
<circle cx="174.4" cy="98.3" r="1.3" fill="#7CAE00" fill-opacity="0.3"/>
<circle cx="185.6" cy="43.3" r="1.3" fill="#7CAE00" fill-opacity="0.3"/>
<circle cx="96.6" cy="104.8" r="1.3" fill="#7CAE00" fill-opacity="0.3"/>
<circle cx="124.4" cy="79.7" r="1.3" fill="#F8766D" fill-opacity="0.3"/>
<circle cx="186.6" cy="43.8" r="1.3" fill="#F8766D" fill-opacity="0.3"/>
<circle cx="171.6" cy="70.2" r="1.3" fill="#F8766D" fill-opacity="0.3"/>
<circle cx="155.1" cy="40.7" r="1.3" fill="#F8766D" fill-opacity="0.3"/>
<circle cx="175.1" cy="74.3" r="1.3" fill="#F8766D" fill-opacity="0.3"/>
<circle cx="130.4" cy="103.9" r="1.3" fill="#C77CFF" fill-opacity="0.3"/>
<circle cx="160.1" cy="56.8" r="1.3" fill="#7CAE00" fill-opacity="0.3"/>
<circle cx="103.5" cy="60.2" r="1.3" fill="#C77CFF" fill-opacity="0.3"/>
<circle cx="148" cy="86.6" r="1.3" fill="#C77CFF" fill-opacity="0.3"/>
<circle cx="170.3" cy="117.5" r="1.3" fill="#C77CFF" fill-opacity="0.3"/>
<circle cx="150.2" cy="87.5" r="1.3" fill="#F8766D" fill-opacity="0.3"/>
<circle cx="74.8" cy="78.6" r="1.3" fill="#C77CFF" fill-opacity="0.3"/>
<circle cx="147.7" cy="92.9" r="1.3" fill="#7CAE00" fill-opacity="0.3"/>
<circle cx="147.6" cy="35.5" r="1.3" fill="#F8766D" fill-opacity="0.3"/>
<circle cx="127.7" cy="82.4" r="1.3" fill="#F8766D" fill-opacity="0.3"/>
<circle cx="174" cy="112.5" r="1.3" fill="#C77CFF" fill-opacity="0.3"/>
<circle cx="72" cy="114.1" r="1.3" fill="#C77CFF" fill-opacity="0.3"/>
<circle cx="91.9" cy="70.1" r="1.3" fill="#F8766D" fill-opacity="0.3"/>
<circle cx="146.8" cy="43.1" r="1.3" fill="#F8766D" fill-opacity="0.3"/>
<circle cx="182" cy="77.2" r="1.3" fill="#F8766D" fill-opacity="0.3"/>
<circle cx="183.6" cy="59" r="1.3" fill="#7CAE00" fill-opacity="0.3"/>
<circle cx="148.5" cy="34.6" r="1.3" fill="#F8766D" fill-opacity="0.3"/>
<circle cx="90.4" cy="112.3" r="1.3" fill="#C77CFF" fill-opacity="0.3"/>
<circle cx="129" cy="90.3" r="1.3" fill="#C77CFF" fill-opacity="0.3"/>
<circle cx="104.1" cy="60.9" r="1.3" fill="#7CAE00" fill-opacity="0.3"/>
<circle cx="149.6" cy="71.8" r="1.3" fill="#F8766D" fill-opacity="0.3"/>
<circle cx="125.8" cy="46.3" r="1.3" fill="#F8766D" fill-opacity="0.3"/>
<circle cx="182.5" cy="69.1" r="1.3" fill="#7CAE00" fill-opacity="0.3"/>
<circle cx="169.8" cy="45.1" r="1.3" fill="#F8766D" fill-opacity="0.3"/>
<circle cx="147.8" cy="50.8" r="1.3" fill="#F8766D" fill-opacity="0.3"/>
<circle cx="70.7" cy="92.5" r="1.3" fill="#C77CFF" fill-opacity="0.3"/>
<circle cx="124.1" cy="51.6" r="1.3" fill="#7CAE00" fill-opacity="0.3"/>
<circle cx="146" cy="44.6" r="1.3" fill="#F8766D" fill-opacity="0.3"/>
<circle cx="155.1" cy="62.2" r="1.3" fill="#F8766D" fill-opacity="0.3"/>
<circle cx="146.6" cy="114" r="1.3" fill="#C77CFF" fill-opacity="0.3"/>
<circle cx="157" cy="75.2" r="1.3" fill="#F8766D" fill-opacity="0.3"/>
<circle cx="148.3" cy="105.7" r="1.3" fill="#F8766D" fill-opacity="0.3"/>
<circle cx="127.5" cy="50.4" r="1.3" fill="#F8766D" fill-opacity="0.3"/>
<circle cx="184.3" cy="89.3" r="1.3" fill="#C77CFF" fill-opacity="0.3"/>
<circle cx="69.8" cy="84.6" r="1.3" fill="#C77CFF" fill-opacity="0.3"/>
<circle cx="151" cy="107.8" r="1.3" fill="#7CAE00" fill-opacity="0.3"/>
<circle cx="169.1" cy="88.2" r="1.3" fill="#7CAE00" fill-opacity="0.3"/>
<circle cx="173.8" cy="73.2" r="1.3" fill="#F8766D" fill-opacity="0.3"/>
<circle cx="72.2" cy="38.1" r="1.3" fill="#F8766D" fill-opacity="0.3"/>
<circle cx="70.2" cy="35.6" r="1.3" fill="#F8766D" fill-opacity="0.3"/>
<circle cx="69.6" cy="35.4" r="1.3" fill="#C77CFF" fill-opacity="0.3"/>
<circle cx="172" cy="50.5" r="1.3" fill="#F8766D" fill-opacity="0.3"/>
<circle cx="148.7" cy="75.2" r="1.3" fill="#C77CFF" fill-opacity="0.3"/>
<circle cx="126.8" cy="45.8" r="1.3" fill="#F8766D" fill-opacity="0.3"/>
<circle cx="69.6" cy="55.2" r="1.3" fill="#C77CFF" fill-opacity="0.3"/>
<circle cx="169.6" cy="117.7" r="1.3" fill="#C77CFF" fill-opacity="0.3"/>
<circle cx="124.6" cy="99.5" r="1.3" fill="#C77CFF" fill-opacity="0.3"/>
<circle cx="151.9" cy="27.4" r="1.3" fill="#F8766D" fill-opacity="0.3"/>
<circle cx="89.6" cy="72.8" r="1.3" fill="#F8766D" fill-opacity="0.3"/>
<circle cx="130.5" cy="37.9" r="1.3" fill="#F8766D" fill-opacity="0.3"/>
<circle cx="180.9" cy="96.2" r="1.3" fill="#C77CFF" fill-opacity="0.3"/>
<circle cx="181.6" cy="43.8" r="1.3" fill="#F8766D" fill-opacity="0.3"/>
<circle cx="88.7" cy="60.8" r="1.3" fill="#F8766D" fill-opacity="0.3"/>
<circle cx="71.8" cy="91.1" r="1.3" fill="#C77CFF" fill-opacity="0.3"/>
<circle cx="185" cy="100.4" r="1.3" fill="#7CAE00" fill-opacity="0.3"/>
<circle cx="148.7" cy="54.2" r="1.3" fill="#C77CFF" fill-opacity="0.3"/>
<circle cx="175.7" cy="96" r="1.3" fill="#F8766D" fill-opacity="0.3"/>
<circle cx="160.4" cy="97.4" r="1.3" fill="#F8766D" fill-opacity="0.3"/>
<circle cx="125.7" cy="93.4" r="1.3" fill="#C77CFF" fill-opacity="0.3"/>
<circle cx="74.1" cy="101.6" r="1.3" fill="#C77CFF" fill-opacity="0.3"/>
<circle cx="126.7" cy="112.5" r="1.3" fill="#C77CFF" fill-opacity="0.3"/>
<circle cx="92.4" cy="36.9" r="1.3" fill="#7CAE00" fill-opacity="0.3"/>
<circle cx="71.7" cy="100.7" r="1.3" fill="#C77CFF" fill-opacity="0.3"/>
<circle cx="97" cy="29.5" r="1.3" fill="#F8766D" fill-opacity="0.3"/>
<circle cx="92.6" cy="36.8" r="1.3" fill="#F8766D" fill-opacity="0.3"/>
<circle cx="146.1" cy="45.5" r="1.3" fill="#7CAE00" fill-opacity="0.3"/>
<circle cx="147.2" cy="54.5" r="1.3" fill="#C77CFF" fill-opacity="0.3"/>
<circle cx="126.3" cy="34.6" r="1.3" fill="#F8766D" fill-opacity="0.3"/>
<circle cx="69.5" cy="51.3" r="1.3" fill="#F8766D" fill-opacity="0.3"/>
<circle cx="152.9" cy="30.8" r="1.3" fill="#F8766D" fill-opacity="0.3"/>
<circle cx="175.8" cy="55.3" r="1.3" fill="#F8766D" fill-opacity="0.3"/>
<circle cx="98" cy="94" r="1.3" fill="#C77CFF" fill-opacity="0.3"/>
<circle cx="98.3" cy="40.2" r="1.3" fill="#F8766D" fill-opacity="0.3"/>
<circle cx="99" cy="95.3" r="1.3" fill="#7CAE00" fill-opacity="0.3"/>
<circle cx="75.5" cy="86.3" r="1.3" fill="#C77CFF" fill-opacity="0.3"/>
<circle cx="124.7" cy="81.2" r="1.3" fill="#C77CFF" fill-opacity="0.3"/>
<circle cx="69.5" cy="75" r="1.3" fill="#C77CFF" fill-opacity="0.3"/>
<circle cx="71.7" cy="86.1" r="1.3" fill="#C77CFF" fill-opacity="0.3"/>
<circle cx="154.7" cy="105.6" r="1.3" fill="#C77CFF" fill-opacity="0.3"/>
<circle cx="170.8" cy="64.7" r="1.3" fill="#7CAE00" fill-opacity="0.3"/>
<circle cx="75.4" cy="72.1" r="1.3" fill="#F8766D" fill-opacity="0.3"/>
<circle cx="92.8" cy="53.5" r="1.3" fill="#7CAE00" fill-opacity="0.3"/>
<circle cx="73.3" cy="75" r="1.3" fill="#F8766D" fill-opacity="0.3"/>
<circle cx="154.7" cy="106.5" r="1.3" fill="#C77CFF" fill-opacity="0.3"/>
<circle cx="156.3" cy="67.1" r="1.3" fill="#7CAE00" fill-opacity="0.3"/>
<circle cx="150.5" cy="38.3" r="1.3" fill="#F8766D" fill-opacity="0.3"/>
<circle cx="154.6" cy="54.3" r="1.3" fill="#F8766D" fill-opacity="0.3"/>
<circle cx="187.3" cy="80.8" r="1.3" fill="#F8766D" fill-opacity="0.3"/>
<circle cx="151.5" cy="77.9" r="1.3" fill="#F8766D" fill-opacity="0.3"/>
<circle cx="156.9" cy="35.8" r="1.3" fill="#F8766D" fill-opacity="0.3"/>
<circle cx="147.6" cy="48.2" r="1.3" fill="#F8766D" fill-opacity="0.3"/>
<circle cx="124.2" cy="61" r="1.3" fill="#C77CFF" fill-opacity="0.3"/>
<circle cx="91.9" cy="66.5" r="1.3" fill="#F8766D" fill-opacity="0.3"/>
<circle cx="76.5" cy="105" r="1.3" fill="#C77CFF" fill-opacity="0.3"/>
<circle cx="88.5" cy="36.3" r="1.3" fill="#F8766D" fill-opacity="0.3"/>
<circle cx="186.9" cy="109.5" r="1.3" fill="#C77CFF" fill-opacity="0.3"/>
<circle cx="100.8" cy="31.5" r="1.3" fill="#F8766D" fill-opacity="0.3"/>
<circle cx="151.9" cy="77" r="1.3" fill="#7CAE00" fill-opacity="0.3"/>
<circle cx="69.3" cy="43.9" r="1.3" fill="#F8766D" fill-opacity="0.3"/>
<circle cx="185.1" cy="36" r="1.3" fill="#7CAE00" fill-opacity="0.3"/>
<circle cx="158.1" cy="83.1" r="1.3" fill="#C77CFF" fill-opacity="0.3"/>
<circle cx="130.2" cy="55.9" r="1.3" fill="#F8766D" fill-opacity="0.3"/>
<circle cx="181.2" cy="105.8" r="1.3" fill="#C77CFF" fill-opacity="0.3"/>
<circle cx="74.6" cy="93.5" r="1.3" fill="#C77CFF" fill-opacity="0.3"/>
<circle cx="147.7" cy="113.8" r="1.3" fill="#C77CFF" fill-opacity="0.3"/>
<circle cx="128.9" cy="115.1" r="1.3" fill="#F8766D" fill-opacity="0.3"/>
<circle cx="174.9" cy="82.8" r="1.3" fill="#F8766D" fill-opacity="0.3"/>
<circle cx="151.4" cy="59.3" r="1.3" fill="#7CAE00" fill-opacity="0.3"/>
<circle cx="131.1" cy="67.4" r="1.3" fill="#F8766D" fill-opacity="0.3"/>
<circle cx="185.7" cy="69.6" r="1.3" fill="#7CAE00" fill-opacity="0.3"/>
<circle cx="159.1" cy="91" r="1.3" fill="#C77CFF" fill-opacity="0.3"/>
<circle cx="89.5" cy="75.4" r="1.3" fill="#F8766D" fill-opacity="0.3"/>
<circle cx="157.4" cy="29.7" r="1.3" fill="#F8766D" fill-opacity="0.3"/>
<circle cx="184" cy="68" r="1.3" fill="#7CAE00" fill-opacity="0.3"/>
<circle cx="159.9" cy="114.1" r="1.3" fill="#C77CFF" fill-opacity="0.3"/>
<circle cx="150.8" cy="101.4" r="1.3" fill="#C77CFF" fill-opacity="0.3"/>
<circle cx="98.3" cy="72.7" r="1.3" fill="#C77CFF" fill-opacity="0.3"/>
<circle cx="89" cy="78.4" r="1.3" fill="#F8766D" fill-opacity="0.3"/>
<circle cx="124.6" cy="50.9" r="1.3" fill="#F8766D" fill-opacity="0.3"/>
<circle cx="171.3" cy="83.3" r="1.3" fill="#F8766D" fill-opacity="0.3"/>
<circle cx="70.4" cy="116.2" r="1.3" fill="#C77CFF" fill-opacity="0.3"/>
<circle cx="180.8" cy="95.6" r="1.3" fill="#7CAE00" fill-opacity="0.3"/>
<circle cx="147.2" cy="60.9" r="1.3" fill="#7CAE00" fill-opacity="0.3"/>
<circle cx="130" cy="47" r="1.3" fill="#F8766D" fill-opacity="0.3"/>
<circle cx="73.8" cy="73.6" r="1.3" fill="#C77CFF" fill-opacity="0.3"/>
<circle cx="158.9" cy="29.7" r="1.3" fill="#F8766D" fill-opacity="0.3"/>
<circle cx="169" cy="111.6" r="1.3" fill="#C77CFF" fill-opacity="0.3"/>
<circle cx="173.7" cy="76.8" r="1.3" fill="#F8766D" fill-opacity="0.3"/>
<circle cx="152.2" cy="96.5" r="1.3" fill="#C77CFF" fill-opacity="0.3"/>
<circle cx="146.8" cy="101.3" r="1.3" fill="#F8766D" fill-opacity="0.3"/>
<circle cx="152.8" cy="52.7" r="1.3" fill="#F8766D" fill-opacity="0.3"/>
<circle cx="172.8" cy="91.2" r="1.3" fill="#C77CFF" fill-opacity="0.3"/>
<circle cx="183.2" cy="108.2" r="1.3" fill="#7CAE00" fill-opacity="0.3"/>
<circle cx="127.6" cy="76.2" r="1.3" fill="#F8766D" fill-opacity="0.3"/>
<circle cx="128.3" cy="85.6" r="1.3" fill="#C77CFF" fill-opacity="0.3"/>
<circle cx="124" cy="90.4" r="1.3" fill="#C77CFF" fill-opacity="0.3"/>
<circle cx="100.4" cy="29.2" r="1.3" fill="#F8766D" fill-opacity="0.3"/>
<circle cx="187.9" cy="113.2" r="1.3" fill="#C77CFF" fill-opacity="0.3"/>
<circle cx="184.4" cy="48.5" r="1.3" fill="#F8766D" fill-opacity="0.3"/>
<circle cx="151.1" cy="55.5" r="1.3" fill="#F8766D" fill-opacity="0.3"/>
<circle cx="69.8" cy="51" r="1.3" fill="#C77CFF" fill-opacity="0.3"/>
<circle cx="72.8" cy="46.3" r="1.3" fill="#F8766D" fill-opacity="0.3"/>
<circle cx="170.2" cy="111.2" r="1.3" fill="#C77CFF" fill-opacity="0.3"/>
<circle cx="100.8" cy="70.7" r="1.3" fill="#7CAE00" fill-opacity="0.3"/>
<circle cx="103.8" cy="69.8" r="1.3" fill="#F8766D" fill-opacity="0.3"/>
<circle cx="175.1" cy="37.2" r="1.3" fill="#7CAE00" fill-opacity="0.3"/>
<circle cx="182.1" cy="40.1" r="1.3" fill="#F8766D" fill-opacity="0.3"/>
<circle cx="186.3" cy="94" r="1.3" fill="#C77CFF" fill-opacity="0.3"/>
<circle cx="187.5" cy="62.4" r="1.3" fill="#F8766D" fill-opacity="0.3"/>
<circle cx="102.8" cy="112.6" r="1.3" fill="#C77CFF" fill-opacity="0.3"/>
<circle cx="170.2" cy="41.5" r="1.3" fill="#F8766D" fill-opacity="0.3"/>
<circle cx="159.1" cy="114" r="1.3" fill="#C77CFF" fill-opacity="0.3"/>
<circle cx="187.9" cy="47.6" r="1.3" fill="#7CAE00" fill-opacity="0.3"/>
<circle cx="124.9" cy="63.3" r="1.3" fill="#C77CFF" fill-opacity="0.3"/>
<circle cx="128.7" cy="102.5" r="1.3" fill="#C77CFF" fill-opacity="0.3"/>
<circle cx="169.7" cy="39.6" r="1.3" fill="#F8766D" fill-opacity="0.3"/>
<circle cx="129.5" cy="49.6" r="1.3" fill="#F8766D" fill-opacity="0.3"/>
<circle cx="156.5" cy="103.6" r="1.3" fill="#C77CFF" fill-opacity="0.3"/>
<circle cx="88.9" cy="58.1" r="1.3" fill="#7CAE00" fill-opacity="0.3"/>
<circle cx="96.4" cy="84" r="1.3" fill="#F8766D" fill-opacity="0.3"/>
<circle cx="174.2" cy="67.1" r="1.3" fill="#7CAE00" fill-opacity="0.3"/>
<circle cx="73.4" cy="103.3" r="1.3" fill="#C77CFF" fill-opacity="0.3"/>
<circle cx="169.8" cy="74.7" r="1.3" fill="#F8766D" fill-opacity="0.3"/>
<circle cx="124.7" cy="47.4" r="1.3" fill="#F8766D" fill-opacity="0.3"/>
<circle cx="124.7" cy="102" r="1.3" fill="#C77CFF" fill-opacity="0.3"/>
<circle cx="170.5" cy="55.3" r="1.3" fill="#F8766D" fill-opacity="0.3"/>
<circle cx="92.1" cy="53.8" r="1.3" fill="#F8766D" fill-opacity="0.3"/>
<circle cx="71" cy="59.7" r="1.3" fill="#C77CFF" fill-opacity="0.3"/>
<circle cx="185.6" cy="43.4" r="1.3" fill="#F8766D" fill-opacity="0.3"/>
<circle cx="126" cy="59.6" r="1.3" fill="#F8766D" fill-opacity="0.3"/>
<circle cx="69.9" cy="35.1" r="1.3" fill="#F8766D" fill-opacity="0.3"/>
<circle cx="154.7" cy="35.9" r="1.3" fill="#F8766D" fill-opacity="0.3"/>
<circle cx="161.5" cy="76.3" r="1.3" fill="#F8766D" fill-opacity="0.3"/>
<circle cx="150.4" cy="59.7" r="1.3" fill="#7CAE00" fill-opacity="0.3"/>
<circle cx="74.3" cy="56.1" r="1.3" fill="#F8766D" fill-opacity="0.3"/>
<circle cx="73.1" cy="88.4" r="1.3" fill="#C77CFF" fill-opacity="0.3"/>
<circle cx="182.2" cy="98.8" r="1.3" fill="#C77CFF" fill-opacity="0.3"/>
<circle cx="129.4" cy="89.9" r="1.3" fill="#C77CFF" fill-opacity="0.3"/>
<circle cx="147.7" cy="37.8" r="1.3" fill="#F8766D" fill-opacity="0.3"/>
<circle cx="184.8" cy="110.2" r="1.3" fill="#7CAE00" fill-opacity="0.3"/>
<circle cx="88.9" cy="75.6" r="1.3" fill="#F8766D" fill-opacity="0.3"/>
<circle cx="74.7" cy="41.1" r="1.3" fill="#F8766D" fill-opacity="0.3"/>
<circle cx="72.4" cy="42.2" r="1.3" fill="#F8766D" fill-opacity="0.3"/>
<circle cx="70.1" cy="53.6" r="1.3" fill="#F8766D" fill-opacity="0.3"/>
<circle cx="186.2" cy="58" r="1.3" fill="#F8766D" fill-opacity="0.3"/>
<circle cx="182.8" cy="105.5" r="1.3" fill="#7CAE00" fill-opacity="0.3"/>
<circle cx="175" cy="70.5" r="1.3" fill="#F8766D" fill-opacity="0.3"/>
<circle cx="175.1" cy="90.6" r="1.3" fill="#F8766D" fill-opacity="0.3"/>
<circle cx="158.5" cy="75.7" r="1.3" fill="#F8766D" fill-opacity="0.3"/>
<circle cx="94.2" cy="101.3" r="1.3" fill="#C77CFF" fill-opacity="0.3"/>
<circle cx="97.7" cy="93.3" r="1.3" fill="#7CAE00" fill-opacity="0.3"/>
<circle cx="147.2" cy="63.7" r="1.3" fill="#C77CFF" fill-opacity="0.3"/>
<circle cx="158.5" cy="75" r="1.3" fill="#F8766D" fill-opacity="0.3"/>
<circle cx="151.3" cy="33.4" r="1.3" fill="#F8766D" fill-opacity="0.3"/>
<circle cx="188" cy="103.3" r="1.3" fill="#F8766D" fill-opacity="0.3"/>
<circle cx="124.1" cy="48.4" r="1.3" fill="#F8766D" fill-opacity="0.3"/>
<circle cx="171.3" cy="35.3" r="1.3" fill="#F8766D" fill-opacity="0.3"/>
<circle cx="156.7" cy="113.1" r="1.3" fill="#C77CFF" fill-opacity="0.3"/>
<circle cx="174.6" cy="46.5" r="1.3" fill="#F8766D" fill-opacity="0.3"/>
<circle cx="183.2" cy="85.5" r="1.3" fill="#C77CFF" fill-opacity="0.3"/>
<circle cx="187.7" cy="56.2" r="1.3" fill="#F8766D" fill-opacity="0.3"/>
<circle cx="87.8" cy="57" r="1.3" fill="#F8766D" fill-opacity="0.3"/>
<circle cx="172" cy="36.3" r="1.3" fill="#F8766D" fill-opacity="0.3"/>
<circle cx="170.8" cy="72.8" r="1.3" fill="#C77CFF" fill-opacity="0.3"/>
<circle cx="70.3" cy="62.8" r="1.3" fill="#F8766D" fill-opacity="0.3"/>
<circle cx="148.8" cy="82.8" r="1.3" fill="#F8766D" fill-opacity="0.3"/>
<circle cx="96.1" cy="50.8" r="1.3" fill="#F8766D" fill-opacity="0.3"/>
<circle cx="87.8" cy="95.3" r="1.3" fill="#F8766D" fill-opacity="0.3"/>
<circle cx="103" cy="99.1" r="1.3" fill="#F8766D" fill-opacity="0.3"/>
<circle cx="98.3" cy="53.5" r="1.3" fill="#F8766D" fill-opacity="0.3"/>
<circle cx="125.2" cy="48.4" r="1.3" fill="#F8766D" fill-opacity="0.3"/>
<circle cx="128.3" cy="71.9" r="1.3" fill="#7CAE00" fill-opacity="0.3"/>
<circle cx="89.4" cy="90.3" r="1.3" fill="#7CAE00" fill-opacity="0.3"/>
<circle cx="103" cy="108.8" r="1.3" fill="#C77CFF" fill-opacity="0.3"/>
<circle cx="170.6" cy="61.7" r="1.3" fill="#F8766D" fill-opacity="0.3"/>
<circle cx="148.1" cy="78.3" r="1.3" fill="#7CAE00" fill-opacity="0.3"/>
<circle cx="146.5" cy="104.1" r="1.3" fill="#C77CFF" fill-opacity="0.3"/>
<circle cx="96.8" cy="97.2" r="1.3" fill="#F8766D" fill-opacity="0.3"/>
<circle cx="174.1" cy="37.8" r="1.3" fill="#F8766D" fill-opacity="0.3"/>
<circle cx="174.7" cy="87" r="1.3" fill="#7CAE00" fill-opacity="0.3"/>
<circle cx="158.9" cy="66.3" r="1.3" fill="#7CAE00" fill-opacity="0.3"/>
<circle cx="93.5" cy="65.5" r="1.3" fill="#7CAE00" fill-opacity="0.3"/>
<circle cx="91" cy="47.6" r="1.3" fill="#F8766D" fill-opacity="0.3"/>
<circle cx="151.3" cy="42.6" r="1.3" fill="#F8766D" fill-opacity="0.3"/>
<circle cx="92.3" cy="94.7" r="1.3" fill="#F8766D" fill-opacity="0.3"/>
<circle cx="185.2" cy="101.5" r="1.3" fill="#C77CFF" fill-opacity="0.3"/>
<circle cx="71.2" cy="40.4" r="1.3" fill="#F8766D" fill-opacity="0.3"/>
<circle cx="172.9" cy="47.7" r="1.3" fill="#F8766D" fill-opacity="0.3"/>
<circle cx="185.2" cy="39.6" r="1.3" fill="#F8766D" fill-opacity="0.3"/>
<circle cx="88.3" cy="64.8" r="1.3" fill="#F8766D" fill-opacity="0.3"/>
<circle cx="71.3" cy="74.9" r="1.3" fill="#C77CFF" fill-opacity="0.3"/>
<circle cx="99.9" cy="96.3" r="1.3" fill="#C77CFF" fill-opacity="0.3"/>
<circle cx="154.8" cy="43.5" r="1.3" fill="#F8766D" fill-opacity="0.3"/>
<circle cx="156.3" cy="62.6" r="1.3" fill="#F8766D" fill-opacity="0.3"/>
<circle cx="158.2" cy="80.7" r="1.3" fill="#C77CFF" fill-opacity="0.3"/>
<circle cx="93.2" cy="54.9" r="1.3" fill="#C77CFF" fill-opacity="0.3"/>
<circle cx="156.2" cy="47.7" r="1.3" fill="#F8766D" fill-opacity="0.3"/>
<circle cx="125.7" cy="109.5" r="1.3" fill="#C77CFF" fill-opacity="0.3"/>
<circle cx="73.7" cy="30.3" r="1.3" fill="#F8766D" fill-opacity="0.3"/>
<circle cx="157.9" cy="71.5" r="1.3" fill="#7CAE00" fill-opacity="0.3"/>
<circle cx="103.6" cy="83.7" r="1.3" fill="#7CAE00" fill-opacity="0.3"/>
<circle cx="159.7" cy="37.4" r="1.3" fill="#F8766D" fill-opacity="0.3"/>
<circle cx="72.8" cy="108.2" r="1.3" fill="#C77CFF" fill-opacity="0.3"/>
<circle cx="71.8" cy="30" r="1.3" fill="#F8766D" fill-opacity="0.3"/>
<circle cx="76.4" cy="112.2" r="1.3" fill="#C77CFF" fill-opacity="0.3"/>
<circle cx="152.7" cy="99.3" r="1.3" fill="#C77CFF" fill-opacity="0.3"/>
<circle cx="89.8" cy="57.4" r="1.3" fill="#C77CFF" fill-opacity="0.3"/>
<circle cx="131.1" cy="45.5" r="1.3" fill="#F8766D" fill-opacity="0.3"/>
<circle cx="98" cy="87.1" r="1.3" fill="#7CAE00" fill-opacity="0.3"/>
<circle cx="100.6" cy="69.7" r="1.3" fill="#F8766D" fill-opacity="0.3"/>
<circle cx="169.2" cy="39.2" r="1.3" fill="#F8766D" fill-opacity="0.3"/>
<circle cx="70.1" cy="31.9" r="1.3" fill="#F8766D" fill-opacity="0.3"/>
<circle cx="187.7" cy="104" r="1.3" fill="#C77CFF" fill-opacity="0.3"/>
<circle cx="94" cy="31.4" r="1.3" fill="#F8766D" fill-opacity="0.3"/>
<circle cx="99.3" cy="87.5" r="1.3" fill="#C77CFF" fill-opacity="0.3"/>
<circle cx="187.5" cy="103.5" r="1.3" fill="#C77CFF" fill-opacity="0.3"/>
<circle cx="101.9" cy="91.7" r="1.3" fill="#7CAE00" fill-opacity="0.3"/>
<circle cx="160.8" cy="29.9" r="1.3" fill="#F8766D" fill-opacity="0.3"/>
<circle cx="102.3" cy="54.7" r="1.3" fill="#7CAE00" fill-opacity="0.3"/>
<circle cx="99.8" cy="43" r="1.3" fill="#F8766D" fill-opacity="0.3"/>
<circle cx="150.4" cy="35.9" r="1.3" fill="#F8766D" fill-opacity="0.3"/>
<circle cx="94.2" cy="61.4" r="1.3" fill="#F8766D" fill-opacity="0.3"/>
<circle cx="175.8" cy="107.4" r="1.3" fill="#C77CFF" fill-opacity="0.3"/>
<circle cx="169.3" cy="52.8" r="1.3" fill="#F8766D" fill-opacity="0.3"/>
<circle cx="170.8" cy="35.8" r="1.3" fill="#F8766D" fill-opacity="0.3"/>
<circle cx="98.6" cy="65" r="1.3" fill="#F8766D" fill-opacity="0.3"/>
<circle cx="174" cy="60.4" r="1.3" fill="#F8766D" fill-opacity="0.3"/>
<circle cx="74.9" cy="53.7" r="1.3" fill="#C77CFF" fill-opacity="0.3"/>
<circle cx="125.3" cy="96.3" r="1.3" fill="#F8766D" fill-opacity="0.3"/>
<circle cx="155.9" cy="62.5" r="1.3" fill="#F8766D" fill-opacity="0.3"/>
<circle cx="157.9" cy="35.9" r="1.3" fill="#F8766D" fill-opacity="0.3"/>
<circle cx="69.6" cy="108" r="1.3" fill="#C77CFF" fill-opacity="0.3"/>
<circle cx="129.1" cy="78.7" r="1.3" fill="#C77CFF" fill-opacity="0.3"/>
<circle cx="146.4" cy="100.6" r="1.3" fill="#7CAE00" fill-opacity="0.3"/>
<circle cx="185.5" cy="59.8" r="1.3" fill="#F8766D" fill-opacity="0.3"/>
<circle cx="153.4" cy="52.3" r="1.3" fill="#F8766D" fill-opacity="0.3"/>
<circle cx="150.5" cy="63.8" r="1.3" fill="#7CAE00" fill-opacity="0.3"/>
<circle cx="94.3" cy="71.4" r="1.3" fill="#C77CFF" fill-opacity="0.3"/>
<circle cx="91" cy="93.1" r="1.3" fill="#C77CFF" fill-opacity="0.3"/>
<circle cx="186.8" cy="61.5" r="1.3" fill="#7CAE00" fill-opacity="0.3"/>
<circle cx="76.5" cy="31.3" r="1.3" fill="#F8766D" fill-opacity="0.3"/>
<circle cx="161.5" cy="33.3" r="1.3" fill="#F8766D" fill-opacity="0.3"/>
<circle cx="172" cy="39.8" r="1.3" fill="#F8766D" fill-opacity="0.3"/>
<circle cx="125.6" cy="90" r="1.3" fill="#F8766D" fill-opacity="0.3"/>
<circle cx="182.9" cy="44.8" r="1.3" fill="#F8766D" fill-opacity="0.3"/>
<circle cx="72.5" cy="102" r="1.3" fill="#C77CFF" fill-opacity="0.3"/>
<circle cx="93" cy="28.1" r="1.3" fill="#F8766D" fill-opacity="0.3"/>
<circle cx="125.4" cy="68.3" r="1.3" fill="#F8766D" fill-opacity="0.3"/>
<circle cx="72.4" cy="72.6" r="1.3" fill="#C77CFF" fill-opacity="0.3"/>
<circle cx="186.8" cy="39.6" r="1.3" fill="#F8766D" fill-opacity="0.3"/>
<circle cx="128.3" cy="101.6" r="1.3" fill="#C77CFF" fill-opacity="0.3"/>
<circle cx="99.6" cy="47.4" r="1.3" fill="#F8766D" fill-opacity="0.3"/>
<circle cx="123.8" cy="72.1" r="1.3" fill="#C77CFF" fill-opacity="0.3"/>
<circle cx="124.1" cy="110.5" r="1.3" fill="#C77CFF" fill-opacity="0.3"/>
<circle cx="183.1" cy="114.9" r="1.3" fill="#7CAE00" fill-opacity="0.3"/>
<circle cx="155.1" cy="43.1" r="1.3" fill="#F8766D" fill-opacity="0.3"/>
<circle cx="150.7" cy="69.2" r="1.3" fill="#C77CFF" fill-opacity="0.3"/>
<circle cx="158.9" cy="60.4" r="1.3" fill="#C77CFF" fill-opacity="0.3"/>
<circle cx="125.8" cy="115.8" r="1.3" fill="#C77CFF" fill-opacity="0.3"/>
<circle cx="175.2" cy="36.7" r="1.3" fill="#F8766D" fill-opacity="0.3"/>
<circle cx="101.6" cy="76.9" r="1.3" fill="#F8766D" fill-opacity="0.3"/>
<circle cx="171.7" cy="84.6" r="1.3" fill="#F8766D" fill-opacity="0.3"/>
<circle cx="185" cy="99.6" r="1.3" fill="#C77CFF" fill-opacity="0.3"/>
<circle cx="73.9" cy="34.9" r="1.3" fill="#F8766D" fill-opacity="0.3"/>
<circle cx="73.4" cy="38.3" r="1.3" fill="#F8766D" fill-opacity="0.3"/>
<circle cx="174.2" cy="58.2" r="1.3" fill="#F8766D" fill-opacity="0.3"/>
<circle cx="69.9" cy="93.2" r="1.3" fill="#C77CFF" fill-opacity="0.3"/>
<circle cx="180.7" cy="56.5" r="1.3" fill="#F8766D" fill-opacity="0.3"/>
<circle cx="180.8" cy="64" r="1.3" fill="#F8766D" fill-opacity="0.3"/>
<circle cx="170.8" cy="102.6" r="1.3" fill="#C77CFF" fill-opacity="0.3"/>
<circle cx="91" cy="69.9" r="1.3" fill="#C77CFF" fill-opacity="0.3"/>
<circle cx="175.7" cy="94.7" r="1.3" fill="#C77CFF" fill-opacity="0.3"/>
<circle cx="70.6" cy="85" r="1.3" fill="#C77CFF" fill-opacity="0.3"/>
<circle cx="128" cy="104.1" r="1.3" fill="#C77CFF" fill-opacity="0.3"/>
<circle cx="155.7" cy="56.3" r="1.3" fill="#C77CFF" fill-opacity="0.3"/>
<circle cx="97.1" cy="63" r="1.3" fill="#F8766D" fill-opacity="0.3"/>
<circle cx="76.2" cy="70" r="1.3" fill="#C77CFF" fill-opacity="0.3"/>
<circle cx="181.1" cy="41.9" r="1.3" fill="#F8766D" fill-opacity="0.3"/>
<circle cx="76.4" cy="48" r="1.3" fill="#C77CFF" fill-opacity="0.3"/>
<circle cx="182.7" cy="67.2" r="1.3" fill="#F8766D" fill-opacity="0.3"/>
<circle cx="101.7" cy="28.1" r="1.3" fill="#F8766D" fill-opacity="0.3"/>
<circle cx="151.3" cy="102.1" r="1.3" fill="#F8766D" fill-opacity="0.3"/>
<circle cx="102.5" cy="92.5" r="1.3" fill="#C77CFF" fill-opacity="0.3"/>
<circle cx="161.4" cy="96.2" r="1.3" fill="#F8766D" fill-opacity="0.3"/>
<circle cx="129.9" cy="75.1" r="1.3" fill="#F8766D" fill-opacity="0.3"/>
<circle cx="126.4" cy="109.6" r="1.3" fill="#7CAE00" fill-opacity="0.3"/>
<circle cx="125.8" cy="60.9" r="1.3" fill="#C77CFF" fill-opacity="0.3"/>
<circle cx="187.7" cy="72.7" r="1.3" fill="#F8766D" fill-opacity="0.3"/>
<circle cx="69.3" cy="103.2" r="1.3" fill="#C77CFF" fill-opacity="0.3"/>
<circle cx="125.4" cy="57" r="1.3" fill="#F8766D" fill-opacity="0.3"/>
<circle cx="145.8" cy="104.2" r="1.3" fill="#C77CFF" fill-opacity="0.3"/>
<circle cx="99.7" cy="29.7" r="1.3" fill="#F8766D" fill-opacity="0.3"/>
<circle cx="151.8" cy="31.4" r="1.3" fill="#F8766D" fill-opacity="0.3"/>
<circle cx="154.8" cy="100.8" r="1.3" fill="#C77CFF" fill-opacity="0.3"/>
<circle cx="73.5" cy="109.9" r="1.3" fill="#C77CFF" fill-opacity="0.3"/>
<circle cx="129.2" cy="93.8" r="1.3" fill="#7CAE00" fill-opacity="0.3"/>
<circle cx="96.8" cy="109.4" r="1.3" fill="#C77CFF" fill-opacity="0.3"/>
<circle cx="181.5" cy="49.3" r="1.3" fill="#7CAE00" fill-opacity="0.3"/>
<circle cx="129.2" cy="85.8" r="1.3" fill="#F8766D" fill-opacity="0.3"/>
<circle cx="127.3" cy="98" r="1.3" fill="#C77CFF" fill-opacity="0.3"/>
<circle cx="97.4" cy="43.8" r="1.3" fill="#F8766D" fill-opacity="0.3"/>
<circle cx="96.8" cy="52.9" r="1.3" fill="#F8766D" fill-opacity="0.3"/>
<circle cx="125" cy="59.6" r="1.3" fill="#F8766D" fill-opacity="0.3"/>
<circle cx="128.3" cy="89.2" r="1.3" fill="#C77CFF" fill-opacity="0.3"/>
<circle cx="155.3" cy="75.2" r="1.3" fill="#F8766D" fill-opacity="0.3"/>
<circle cx="169.4" cy="94.1" r="1.3" fill="#C77CFF" fill-opacity="0.3"/>
<circle cx="124.9" cy="34.8" r="1.3" fill="#F8766D" fill-opacity="0.3"/>
<circle cx="70.4" cy="55.6" r="1.3" fill="#F8766D" fill-opacity="0.3"/>
<circle cx="182.4" cy="90.2" r="1.3" fill="#C77CFF" fill-opacity="0.3"/>
<circle cx="70.3" cy="56.3" r="1.3" fill="#F8766D" fill-opacity="0.3"/>
<circle cx="153.1" cy="30.1" r="1.3" fill="#7CAE00" fill-opacity="0.3"/>
<circle cx="69.3" cy="68.1" r="1.3" fill="#C77CFF" fill-opacity="0.3"/>
<circle cx="150.6" cy="114.2" r="1.3" fill="#C77CFF" fill-opacity="0.3"/>
<defs><linearGradient id="gpt" x1="0" y1="0" x2="0" y2="1"><stop offset="0" stop-color="#C77CFF" stop-opacity="0"/><stop offset="0.5" stop-color="#C77CFF" stop-opacity="0.45"/><stop offset="1" stop-color="#C77CFF" stop-opacity="0.95"/></linearGradient></defs>
<rect x="68" y="44" width="10.8" height="20.5" fill="url(#gpt)"/>
<path d="M68,64 L79,64 L79,76 C80.5,90 88,98 100,103 L104,106 L104,111 L190,111 L190.5,119.5 L190,122 L68,122 Z" fill="#C77CFF" fill-opacity="0.95"/>
<rect x="106" y="119.6" width="16" height="3" fill="#ebebeb"/><rect x="133.4" y="119.6" width="10.5" height="3" fill="#ebebeb"/>
<path d="M104,105.5 C125,106.5 150,106 184,105 L184,111 L104,111 Z" fill="#fbf6d6" fill-opacity="0.9"/>
<rect x="122.5" y="104" width="10.0" height="8" fill="#C77CFF" fill-opacity="0.55"/>
<rect x="144.5" y="104" width="18.5" height="8" fill="#C77CFF" fill-opacity="0.55"/>
<rect x="167.5" y="104" width="10.0" height="8" fill="#C77CFF" fill-opacity="0.55"/>
<rect x="179" y="104" width="10.5" height="8" fill="#C77CFF" fill-opacity="0.55"/>
<path d="M73,57.7 L183.5,57.7" stroke="#F8766D" stroke-width="2.6" fill="none"/>
<path d="M73.5,91.5 C85,97 92,103 105,105 C125,106.5 150,105 183.5,105" stroke="#7CAE00" stroke-width="2.4" fill="none"/>
<path d="M73.5,91.5 C85,97 92,103 105,105 C125,106.5 150,105 183.5,105" stroke="#e8f0a0" stroke-width="0.9" stroke-dasharray="1 2" fill="none"/>
<path d="M73.5,96.5 C85,106 95,116 112,118 C125,119 135,114 147,114.5 C160,116.5 170,114 183.5,109.5" stroke="#00BFC4" stroke-width="2.6" fill="none"/>
<rect x="111.7" y="122.3" width="1.8" height="3.2" fill="#000" />
<rect x="160.7" y="122.3" width="1.8" height="3.2" fill="#000" />
<rect x="165.3" y="122.3" width="1.8" height="3.2" fill="#000" />
<line x1="48.3" y1="120.7" x2="51.4" y2="120.7" stroke="#333" stroke-width="1.1" />
<text x="45.6" y="124.1" font-size="9.4" fill="#4d4d4d" font-weight="normal" text-anchor="end" >0.00</text>
<line x1="48.3" y1="95.7" x2="51.4" y2="95.7" stroke="#333" stroke-width="1.1" />
<text x="45.6" y="99.1" font-size="9.4" fill="#4d4d4d" font-weight="normal" text-anchor="end" >0.25</text>
<line x1="48.3" y1="70.7" x2="51.4" y2="70.7" stroke="#333" stroke-width="1.1" />
<text x="45.6" y="74.1" font-size="9.4" fill="#4d4d4d" font-weight="normal" text-anchor="end" >0.50</text>
<line x1="48.3" y1="45.7" x2="51.4" y2="45.7" stroke="#333" stroke-width="1.1" />
<text x="45.6" y="49.1" font-size="9.4" fill="#4d4d4d" font-weight="normal" text-anchor="end" >0.75</text>
<line x1="48.3" y1="20.7" x2="51.4" y2="20.7" stroke="#333" stroke-width="1.1" />
<text x="45.6" y="24.1" font-size="9.4" fill="#4d4d4d" font-weight="normal" text-anchor="end" >1.00</text>
<line x1="86.5" y1="125.7" x2="86.5" y2="128.5" stroke="#333" stroke-width="1.1" />
<text x="86.5" y="138.7" font-size="9.4" fill="#4d4d5d" font-weight="normal" text-anchor="middle" >20513000</text>
<line x1="133.4" y1="125.7" x2="133.4" y2="128.5" stroke="#333" stroke-width="1.1" />
<text x="133.4" y="138.7" font-size="9.4" fill="#4d4d5d" font-weight="normal" text-anchor="middle" >20513500</text>
<line x1="180.3" y1="125.7" x2="180.3" y2="128.5" stroke="#333" stroke-width="1.1" />
<text x="180.3" y="138.7" font-size="9.4" fill="#4d4d5d" font-weight="normal" text-anchor="middle" >20514000</text>
<text x="132.2" y="152.4" font-size="10.2" fill="#000" font-weight="bold" text-anchor="middle" >position on chr 18</text>
<text transform="translate(10.7,68.6) rotate(-90)" font-size="10" fill="#000" font-weight="bold" text-anchor="middle" >betal values</text>
<rect x="202.6" y="32.2" width="11" height="12" fill="#f2f2f2" />
<line x1="203.4" y1="38.2" x2="212.8" y2="38.2" stroke="#F8766D" stroke-width="2.2" />
<text x="215.6" y="41.2" font-size="8.4" fill="#1a1a1a" font-weight="normal" text-anchor="start" >BLCA</text>
<rect x="202.6" y="44.6" width="11" height="12" fill="#f2f2f2" />
<line x1="203.4" y1="50.6" x2="212.8" y2="50.6" stroke="#7CAE00" stroke-width="2.2" />
<line x1="203.4" y1="50.6" x2="212.8" y2="50.6" stroke="#e8f0a0" stroke-width="0.8" stroke-dasharray="1 1.5"/>
<text x="215.6" y="53.6" font-size="8.4" fill="#1a1a1a" font-weight="normal" text-anchor="start" >HNSC</text>
<rect x="202.6" y="56.9" width="11" height="12" fill="#f2f2f2" />
<line x1="203.4" y1="62.9" x2="212.8" y2="62.9" stroke="#00BFC4" stroke-width="2.2" />
<text x="215.6" y="65.9" font-size="8.4" fill="#1a1a1a" font-weight="normal" text-anchor="start" >Normal Tissues</text>
<rect x="202.6" y="69.2" width="11" height="12" fill="#f2f2f2" />
<line x1="203.4" y1="75.2" x2="212.8" y2="75.2" stroke="#C77CFF" stroke-width="2.2" />
<text x="215.6" y="78.2" font-size="8.4" fill="#1a1a1a" font-weight="normal" text-anchor="start" >Other Tumors</text>
<rect x="291.5" y="30.5" width="129" height="119" fill="#585858" />
<rect x="292.5" y="31.5" width="7" height="6.4" fill="#d73027" />
<rect x="300.5" y="31.5" width="7" height="6.4" fill="#99c0e0" />
<rect x="308.5" y="31.5" width="7" height="6.4" fill="#daeff2" />
<rect x="316.5" y="31.5" width="7" height="6.4" fill="#f1fad7" />
<rect x="324.5" y="31.5" width="7" height="6.4" fill="#e3f4ee" />
<rect x="332.5" y="31.5" width="7" height="6.4" fill="#f4fbd2" />
<rect x="340.5" y="31.5" width="7" height="6.4" fill="#feeea5" />
<rect x="348.5" y="31.5" width="7" height="6.4" fill="#fff1aa" />
<rect x="356.5" y="31.5" width="7" height="6.4" fill="#fff8b5" />
<rect x="364.5" y="31.5" width="7" height="6.4" fill="#fffcba" />
<rect x="372.5" y="31.5" width="7" height="6.4" fill="#fffcba" />
<rect x="380.5" y="31.5" width="7" height="6.4" fill="#fffcba" />
<rect x="388.5" y="31.5" width="7" height="6.4" fill="#fffcba" />
<rect x="396.5" y="31.5" width="7" height="6.4" fill="#fffcba" />
<rect x="404.5" y="31.5" width="7" height="6.4" fill="#fcfec4" />
<rect x="412.5" y="31.5" width="7" height="6.4" fill="#f7fccd" />
<rect x="292.5" y="38.9" width="7" height="6.4" fill="#99c0e0" />
<rect x="300.5" y="38.9" width="7" height="6.4" fill="#d73027" />
<rect x="308.5" y="38.9" width="7" height="6.4" fill="#fff5af" />
<rect x="316.5" y="38.9" width="7" height="6.4" fill="#fee395" />
<rect x="324.5" y="38.9" width="7" height="6.4" fill="#fee395" />
<rect x="332.5" y="38.9" width="7" height="6.4" fill="#feda8b" />
<rect x="340.5" y="38.9" width="7" height="6.4" fill="#feeea5" />
<rect x="348.5" y="38.9" width="7" height="6.4" fill="#feeea5" />
<rect x="356.5" y="38.9" width="7" height="6.4" fill="#feeaa0" />
<rect x="364.5" y="38.9" width="7" height="6.4" fill="#feeaa0" />
<rect x="372.5" y="38.9" width="7" height="6.4" fill="#feeaa0" />
<rect x="380.5" y="38.9" width="7" height="6.4" fill="#feeaa0" />
<rect x="388.5" y="38.9" width="7" height="6.4" fill="#feeaa0" />
<rect x="396.5" y="38.9" width="7" height="6.4" fill="#feeaa0" />
<rect x="404.5" y="38.9" width="7" height="6.4" fill="#feeaa0" />
<rect x="412.5" y="38.9" width="7" height="6.4" fill="#feeea5" />
<rect x="292.5" y="46.2" width="7" height="6.4" fill="#daeff2" />
<rect x="300.5" y="46.2" width="7" height="6.4" fill="#fff5af" />
<rect x="308.5" y="46.2" width="7" height="6.4" fill="#d73027" />
<rect x="316.5" y="46.2" width="7" height="6.4" fill="#fdb86a" />
<rect x="324.5" y="46.2" width="7" height="6.4" fill="#fdac60" />
<rect x="332.5" y="46.2" width="7" height="6.4" fill="#fba25d" />
<rect x="340.5" y="46.2" width="7" height="6.4" fill="#fdc375" />
<rect x="348.5" y="46.2" width="7" height="6.4" fill="#fec97a" />
<rect x="356.5" y="46.2" width="7" height="6.4" fill="#fdb86a" />
<rect x="364.5" y="46.2" width="7" height="6.4" fill="#fdb86a" />
<rect x="372.5" y="46.2" width="7" height="6.4" fill="#fdb265" />
<rect x="380.5" y="46.2" width="7" height="6.4" fill="#fdb265" />
<rect x="388.5" y="46.2" width="7" height="6.4" fill="#fdb86a" />
<rect x="396.5" y="46.2" width="7" height="6.4" fill="#fdc375" />
<rect x="404.5" y="46.2" width="7" height="6.4" fill="#fec97a" />
<rect x="412.5" y="46.2" width="7" height="6.4" fill="#fec97a" />
<rect x="292.5" y="53.6" width="7" height="6.4" fill="#f1fad7" />
<rect x="300.5" y="53.6" width="7" height="6.4" fill="#fee395" />
<rect x="308.5" y="53.6" width="7" height="6.4" fill="#fdb86a" />
<rect x="316.5" y="53.6" width="7" height="6.4" fill="#d73027" />
<rect x="324.5" y="53.6" width="7" height="6.4" fill="#f2724b" />
<rect x="332.5" y="53.6" width="7" height="6.4" fill="#f78553" />
<rect x="340.5" y="53.6" width="7" height="6.4" fill="#fa985a" />
<rect x="348.5" y="53.6" width="7" height="6.4" fill="#fdac60" />
<rect x="356.5" y="53.6" width="7" height="6.4" fill="#f4764c" />
<rect x="364.5" y="53.6" width="7" height="6.4" fill="#f57b4f" />
<rect x="372.5" y="53.6" width="7" height="6.4" fill="#f57b4f" />
<rect x="380.5" y="53.6" width="7" height="6.4" fill="#f78553" />
<rect x="388.5" y="53.6" width="7" height="6.4" fill="#f2724b" />
<rect x="396.5" y="53.6" width="7" height="6.4" fill="#f78553" />
<rect x="404.5" y="53.6" width="7" height="6.4" fill="#f78553" />
<rect x="412.5" y="53.6" width="7" height="6.4" fill="#f98f56" />
<rect x="292.5" y="61" width="7" height="6.4" fill="#e3f4ee" />
<rect x="300.5" y="61" width="7" height="6.4" fill="#fee395" />
<rect x="308.5" y="61" width="7" height="6.4" fill="#fdac60" />
<rect x="316.5" y="61" width="7" height="6.4" fill="#f2724b" />
<rect x="324.5" y="61" width="7" height="6.4" fill="#d73027" />
<rect x="332.5" y="61" width="7" height="6.4" fill="#f2724b" />
<rect x="340.5" y="61" width="7" height="6.4" fill="#fa985a" />
<rect x="348.5" y="61" width="7" height="6.4" fill="#fba25d" />
<rect x="356.5" y="61" width="7" height="6.4" fill="#f98f56" />
<rect x="364.5" y="61" width="7" height="6.4" fill="#f98f56" />
<rect x="372.5" y="61" width="7" height="6.4" fill="#f98f56" />
<rect x="380.5" y="61" width="7" height="6.4" fill="#f98f56" />
<rect x="388.5" y="61" width="7" height="6.4" fill="#f78553" />
<rect x="396.5" y="61" width="7" height="6.4" fill="#fa985a" />
<rect x="404.5" y="61" width="7" height="6.4" fill="#fdac60" />
<rect x="412.5" y="61" width="7" height="6.4" fill="#fa985a" />
<rect x="292.5" y="68.4" width="7" height="6.4" fill="#f4fbd2" />
<rect x="300.5" y="68.4" width="7" height="6.4" fill="#feda8b" />
<rect x="308.5" y="68.4" width="7" height="6.4" fill="#fba25d" />
<rect x="316.5" y="68.4" width="7" height="6.4" fill="#f78553" />
<rect x="324.5" y="68.4" width="7" height="6.4" fill="#f2724b" />
<rect x="332.5" y="68.4" width="7" height="6.4" fill="#d73027" />
<rect x="340.5" y="68.4" width="7" height="6.4" fill="#fa985a" />
<rect x="348.5" y="68.4" width="7" height="6.4" fill="#fa985a" />
<rect x="356.5" y="68.4" width="7" height="6.4" fill="#f88b55" />
<rect x="364.5" y="68.4" width="7" height="6.4" fill="#f88b55" />
<rect x="372.5" y="68.4" width="7" height="6.4" fill="#f98f56" />
<rect x="380.5" y="68.4" width="7" height="6.4" fill="#f98f56" />
<rect x="388.5" y="68.4" width="7" height="6.4" fill="#f78553" />
<rect x="396.5" y="68.4" width="7" height="6.4" fill="#fa985a" />
<rect x="404.5" y="68.4" width="7" height="6.4" fill="#fa985a" />
<rect x="412.5" y="68.4" width="7" height="6.4" fill="#fa985a" />
<rect x="292.5" y="75.8" width="7" height="6.4" fill="#feeea5" />
<rect x="300.5" y="75.8" width="7" height="6.4" fill="#feeea5" />
<rect x="308.5" y="75.8" width="7" height="6.4" fill="#fdc375" />
<rect x="316.5" y="75.8" width="7" height="6.4" fill="#fa985a" />
<rect x="324.5" y="75.8" width="7" height="6.4" fill="#fa985a" />
<rect x="332.5" y="75.8" width="7" height="6.4" fill="#fa985a" />
<rect x="340.5" y="75.8" width="7" height="6.4" fill="#d73027" />
<rect x="348.5" y="75.8" width="7" height="6.4" fill="#ef6a46" />
<rect x="356.5" y="75.8" width="7" height="6.4" fill="#f78553" />
<rect x="364.5" y="75.8" width="7" height="6.4" fill="#f98f56" />
<rect x="372.5" y="75.8" width="7" height="6.4" fill="#f78553" />
<rect x="380.5" y="75.8" width="7" height="6.4" fill="#f78553" />
<rect x="388.5" y="75.8" width="7" height="6.4" fill="#f98f56" />
<rect x="396.5" y="75.8" width="7" height="6.4" fill="#fa985a" />
<rect x="404.5" y="75.8" width="7" height="6.4" fill="#fa985a" />
<rect x="412.5" y="75.8" width="7" height="6.4" fill="#fa985a" />
<rect x="292.5" y="83.1" width="7" height="6.4" fill="#fff1aa" />
<rect x="300.5" y="83.1" width="7" height="6.4" fill="#feeea5" />
<rect x="308.5" y="83.1" width="7" height="6.4" fill="#fec97a" />
<rect x="316.5" y="83.1" width="7" height="6.4" fill="#fdac60" />
<rect x="324.5" y="83.1" width="7" height="6.4" fill="#fba25d" />
<rect x="332.5" y="83.1" width="7" height="6.4" fill="#fa985a" />
<rect x="340.5" y="83.1" width="7" height="6.4" fill="#ef6a46" />
<rect x="348.5" y="83.1" width="7" height="6.4" fill="#d73027" />
<rect x="356.5" y="83.1" width="7" height="6.4" fill="#fa985a" />
<rect x="364.5" y="83.1" width="7" height="6.4" fill="#fa985a" />
<rect x="372.5" y="83.1" width="7" height="6.4" fill="#fba25d" />
<rect x="380.5" y="83.1" width="7" height="6.4" fill="#fa985a" />
<rect x="388.5" y="83.1" width="7" height="6.4" fill="#fa985a" />
<rect x="396.5" y="83.1" width="7" height="6.4" fill="#fba25d" />
<rect x="404.5" y="83.1" width="7" height="6.4" fill="#fba25d" />
<rect x="412.5" y="83.1" width="7" height="6.4" fill="#fba25d" />
<rect x="292.5" y="90.5" width="7" height="6.4" fill="#fff8b5" />
<rect x="300.5" y="90.5" width="7" height="6.4" fill="#feeaa0" />
<rect x="308.5" y="90.5" width="7" height="6.4" fill="#fdb86a" />
<rect x="316.5" y="90.5" width="7" height="6.4" fill="#f4764c" />
<rect x="324.5" y="90.5" width="7" height="6.4" fill="#f98f56" />
<rect x="332.5" y="90.5" width="7" height="6.4" fill="#f88b55" />
<rect x="340.5" y="90.5" width="7" height="6.4" fill="#f78553" />
<rect x="348.5" y="90.5" width="7" height="6.4" fill="#fa985a" />
<rect x="356.5" y="90.5" width="7" height="6.4" fill="#d73027" />
<rect x="364.5" y="90.5" width="7" height="6.4" fill="#e65239" />
<rect x="372.5" y="90.5" width="7" height="6.4" fill="#e8553b" />
<rect x="380.5" y="90.5" width="7" height="6.4" fill="#ed6342" />
<rect x="388.5" y="90.5" width="7" height="6.4" fill="#ed6342" />
<rect x="396.5" y="90.5" width="7" height="6.4" fill="#f06c47" />
<rect x="404.5" y="90.5" width="7" height="6.4" fill="#ed6342" />
<rect x="412.5" y="90.5" width="7" height="6.4" fill="#eb5e40" />
<rect x="292.5" y="97.9" width="7" height="6.4" fill="#fffcba" />
<rect x="300.5" y="97.9" width="7" height="6.4" fill="#feeaa0" />
<rect x="308.5" y="97.9" width="7" height="6.4" fill="#fdb86a" />
<rect x="316.5" y="97.9" width="7" height="6.4" fill="#f57b4f" />
<rect x="324.5" y="97.9" width="7" height="6.4" fill="#f98f56" />
<rect x="332.5" y="97.9" width="7" height="6.4" fill="#f88b55" />
<rect x="340.5" y="97.9" width="7" height="6.4" fill="#f98f56" />
<rect x="348.5" y="97.9" width="7" height="6.4" fill="#fa985a" />
<rect x="356.5" y="97.9" width="7" height="6.4" fill="#e65239" />
<rect x="364.5" y="97.9" width="7" height="6.4" fill="#d73027" />
<rect x="372.5" y="97.9" width="7" height="6.4" fill="#e8553b" />
<rect x="380.5" y="97.9" width="7" height="6.4" fill="#ed6342" />
<rect x="388.5" y="97.9" width="7" height="6.4" fill="#ed6342" />
<rect x="396.5" y="97.9" width="7" height="6.4" fill="#ee6644" />
<rect x="404.5" y="97.9" width="7" height="6.4" fill="#eb5e40" />
<rect x="412.5" y="97.9" width="7" height="6.4" fill="#eb5e40" />
<rect x="292.5" y="105.2" width="7" height="6.4" fill="#fffcba" />
<rect x="300.5" y="105.2" width="7" height="6.4" fill="#feeaa0" />
<rect x="308.5" y="105.2" width="7" height="6.4" fill="#fdb265" />
<rect x="316.5" y="105.2" width="7" height="6.4" fill="#f57b4f" />
<rect x="324.5" y="105.2" width="7" height="6.4" fill="#f98f56" />
<rect x="332.5" y="105.2" width="7" height="6.4" fill="#f98f56" />
<rect x="340.5" y="105.2" width="7" height="6.4" fill="#f78553" />
<rect x="348.5" y="105.2" width="7" height="6.4" fill="#fba25d" />
<rect x="356.5" y="105.2" width="7" height="6.4" fill="#e8553b" />
<rect x="364.5" y="105.2" width="7" height="6.4" fill="#e8553b" />
<rect x="372.5" y="105.2" width="7" height="6.4" fill="#d73027" />
<rect x="380.5" y="105.2" width="7" height="6.4" fill="#ed6342" />
<rect x="388.5" y="105.2" width="7" height="6.4" fill="#f06c47" />
<rect x="396.5" y="105.2" width="7" height="6.4" fill="#f06c47" />
<rect x="404.5" y="105.2" width="7" height="6.4" fill="#ed6342" />
<rect x="412.5" y="105.2" width="7" height="6.4" fill="#ed6342" />
<rect x="292.5" y="112.6" width="7" height="6.4" fill="#fffcba" />
<rect x="300.5" y="112.6" width="7" height="6.4" fill="#feeaa0" />
<rect x="308.5" y="112.6" width="7" height="6.4" fill="#fdb265" />
<rect x="316.5" y="112.6" width="7" height="6.4" fill="#f78553" />
<rect x="324.5" y="112.6" width="7" height="6.4" fill="#f98f56" />
<rect x="332.5" y="112.6" width="7" height="6.4" fill="#f98f56" />
<rect x="340.5" y="112.6" width="7" height="6.4" fill="#f78553" />
<rect x="348.5" y="112.6" width="7" height="6.4" fill="#fa985a" />
<rect x="356.5" y="112.6" width="7" height="6.4" fill="#ed6342" />
<rect x="364.5" y="112.6" width="7" height="6.4" fill="#ed6342" />
<rect x="372.5" y="112.6" width="7" height="6.4" fill="#ed6342" />
<rect x="380.5" y="112.6" width="7" height="6.4" fill="#d73027" />
<rect x="388.5" y="112.6" width="7" height="6.4" fill="#ed6342" />
<rect x="396.5" y="112.6" width="7" height="6.4" fill="#f06c47" />
<rect x="404.5" y="112.6" width="7" height="6.4" fill="#ee6644" />
<rect x="412.5" y="112.6" width="7" height="6.4" fill="#ee6644" />
<rect x="292.5" y="120" width="7" height="6.4" fill="#fffcba" />
<rect x="300.5" y="120" width="7" height="6.4" fill="#feeaa0" />
<rect x="308.5" y="120" width="7" height="6.4" fill="#fdb86a" />
<rect x="316.5" y="120" width="7" height="6.4" fill="#f2724b" />
<rect x="324.5" y="120" width="7" height="6.4" fill="#f78553" />
<rect x="332.5" y="120" width="7" height="6.4" fill="#f78553" />
<rect x="340.5" y="120" width="7" height="6.4" fill="#f98f56" />
<rect x="348.5" y="120" width="7" height="6.4" fill="#fa985a" />
<rect x="356.5" y="120" width="7" height="6.4" fill="#ed6342" />
<rect x="364.5" y="120" width="7" height="6.4" fill="#ed6342" />
<rect x="372.5" y="120" width="7" height="6.4" fill="#f06c47" />
<rect x="380.5" y="120" width="7" height="6.4" fill="#ed6342" />
<rect x="388.5" y="120" width="7" height="6.4" fill="#d73027" />
<rect x="396.5" y="120" width="7" height="6.4" fill="#f06c47" />
<rect x="404.5" y="120" width="7" height="6.4" fill="#f06c47" />
<rect x="412.5" y="120" width="7" height="6.4" fill="#f06c47" />
<rect x="292.5" y="127.4" width="7" height="6.4" fill="#fffcba" />
<rect x="300.5" y="127.4" width="7" height="6.4" fill="#feeaa0" />
<rect x="308.5" y="127.4" width="7" height="6.4" fill="#fdc375" />
<rect x="316.5" y="127.4" width="7" height="6.4" fill="#f78553" />
<rect x="324.5" y="127.4" width="7" height="6.4" fill="#fa985a" />
<rect x="332.5" y="127.4" width="7" height="6.4" fill="#fa985a" />
<rect x="340.5" y="127.4" width="7" height="6.4" fill="#fa985a" />
<rect x="348.5" y="127.4" width="7" height="6.4" fill="#fba25d" />
<rect x="356.5" y="127.4" width="7" height="6.4" fill="#f06c47" />
<rect x="364.5" y="127.4" width="7" height="6.4" fill="#ee6644" />
<rect x="372.5" y="127.4" width="7" height="6.4" fill="#f06c47" />
<rect x="380.5" y="127.4" width="7" height="6.4" fill="#f06c47" />
<rect x="388.5" y="127.4" width="7" height="6.4" fill="#f06c47" />
<rect x="396.5" y="127.4" width="7" height="6.4" fill="#d73027" />
<rect x="404.5" y="127.4" width="7" height="6.4" fill="#f06c47" />
<rect x="412.5" y="127.4" width="7" height="6.4" fill="#f06c47" />
<rect x="292.5" y="134.8" width="7" height="6.4" fill="#fcfec4" />
<rect x="300.5" y="134.8" width="7" height="6.4" fill="#feeaa0" />
<rect x="308.5" y="134.8" width="7" height="6.4" fill="#fec97a" />
<rect x="316.5" y="134.8" width="7" height="6.4" fill="#f78553" />
<rect x="324.5" y="134.8" width="7" height="6.4" fill="#fdac60" />
<rect x="332.5" y="134.8" width="7" height="6.4" fill="#fa985a" />
<rect x="340.5" y="134.8" width="7" height="6.4" fill="#fa985a" />
<rect x="348.5" y="134.8" width="7" height="6.4" fill="#fba25d" />
<rect x="356.5" y="134.8" width="7" height="6.4" fill="#ed6342" />
<rect x="364.5" y="134.8" width="7" height="6.4" fill="#eb5e40" />
<rect x="372.5" y="134.8" width="7" height="6.4" fill="#ed6342" />
<rect x="380.5" y="134.8" width="7" height="6.4" fill="#ee6644" />
<rect x="388.5" y="134.8" width="7" height="6.4" fill="#f06c47" />
<rect x="396.5" y="134.8" width="7" height="6.4" fill="#f06c47" />
<rect x="404.5" y="134.8" width="7" height="6.4" fill="#d73027" />
<rect x="412.5" y="134.8" width="7" height="6.4" fill="#ea5a3e" />
<rect x="292.5" y="142.1" width="7" height="6.4" fill="#f7fccd" />
<rect x="300.5" y="142.1" width="7" height="6.4" fill="#feeea5" />
<rect x="308.5" y="142.1" width="7" height="6.4" fill="#fec97a" />
<rect x="316.5" y="142.1" width="7" height="6.4" fill="#f98f56" />
<rect x="324.5" y="142.1" width="7" height="6.4" fill="#fa985a" />
<rect x="332.5" y="142.1" width="7" height="6.4" fill="#fa985a" />
<rect x="340.5" y="142.1" width="7" height="6.4" fill="#fa985a" />
<rect x="348.5" y="142.1" width="7" height="6.4" fill="#fba25d" />
<rect x="356.5" y="142.1" width="7" height="6.4" fill="#eb5e40" />
<rect x="364.5" y="142.1" width="7" height="6.4" fill="#eb5e40" />
<rect x="372.5" y="142.1" width="7" height="6.4" fill="#ed6342" />
<rect x="380.5" y="142.1" width="7" height="6.4" fill="#ee6644" />
<rect x="388.5" y="142.1" width="7" height="6.4" fill="#f06c47" />
<rect x="396.5" y="142.1" width="7" height="6.4" fill="#f06c47" />
<rect x="404.5" y="142.1" width="7" height="6.4" fill="#ea5a3e" />
<rect x="412.5" y="142.1" width="7" height="6.4" fill="#d73027" />
<text x="422.6" y="37.5" font-size="7.9" fill="#111" font-weight="normal" text-anchor="start" >cg18748973</text>
<text x="422.6" y="44.9" font-size="7.9" fill="#111" font-weight="normal" text-anchor="start" >cg08188828</text>
<text x="422.6" y="52.2" font-size="7.9" fill="#111" font-weight="normal" text-anchor="start" >cg02863476</text>
<text x="422.6" y="59.6" font-size="7.9" fill="#111" font-weight="normal" text-anchor="start" >cg15770728</text>
<text x="422.6" y="67" font-size="7.9" fill="#111" font-weight="normal" text-anchor="start" >cg21518938</text>
<text x="422.6" y="74.4" font-size="7.9" fill="#111" font-weight="normal" text-anchor="start" >cg14157947</text>
<text x="422.6" y="81.7" font-size="7.9" fill="#111" font-weight="normal" text-anchor="start" >cg06299186</text>
<text x="422.6" y="89.1" font-size="7.9" fill="#111" font-weight="normal" text-anchor="start" >cg23530053</text>
<text x="422.6" y="96.5" font-size="7.9" fill="#111" font-weight="normal" text-anchor="start" >cg25678532</text>
<text x="422.6" y="103.9" font-size="7.9" fill="#111" font-weight="normal" text-anchor="start" >cg20891565</text>
<text x="422.6" y="111.2" font-size="7.9" fill="#111" font-weight="normal" text-anchor="start" >cg16801093</text>
<text x="422.6" y="118.6" font-size="7.9" fill="#111" font-weight="normal" text-anchor="start" >cg21074855</text>
<text x="422.6" y="126" font-size="7.9" fill="#111" font-weight="normal" text-anchor="start" >cg20573396</text>
<text x="422.6" y="133.4" font-size="7.9" fill="#111" font-weight="normal" text-anchor="start" >cg11840168</text>
<text x="422.6" y="140.7" font-size="7.9" fill="#111" font-weight="normal" text-anchor="start" >cg05305025</text>
<text x="422.6" y="148.1" font-size="7.9" fill="#111" font-weight="normal" text-anchor="start" >cg05513509</text>
<defs><linearGradient id="cbar" x1="0" y1="0" x2="1" y2="0"><stop offset="0.000" stop-color="#78a6d8"/><stop offset="0.080" stop-color="#7fa9d6"/><stop offset="0.198" stop-color="#a9cde6"/><stop offset="0.330" stop-color="#e0f3f3"/><stop offset="0.493" stop-color="#ffffbf"/><stop offset="0.625" stop-color="#fee090"/><stop offset="0.758" stop-color="#fdae61"/><stop offset="0.832" stop-color="#f67d50"/><stop offset="0.891" stop-color="#ea5a3e"/><stop offset="0.965" stop-color="#d73027"/></linearGradient></defs>
<rect x="376" y="9.1" width="94.5" height="8.2" fill="url(#cbar)" />
<text x="376" y="7.2" font-size="7.7" fill="#333" font-weight="normal" text-anchor="start" >0.70</text>
<text x="425.3" y="7.2" font-size="7.7" fill="#333" font-weight="normal" text-anchor="middle" >0.85</text>
<text x="470.5" y="7.2" font-size="7.7" fill="#333" font-weight="normal" text-anchor="end" >1.00</text>
<path d="M296,31 V16.3 H317 V22.3 M304,31 V22.3 H329.8 V25.6 M312,31 V25.6 H348 V27.2" stroke="#333" stroke-width="1" fill="none"/>
<path d="M320,31 V28.6 H328 V31 M324,28.6 V27.2 H372 V28 M336,31 V29.5 H344 V31 M340,29.5 V28.3 H352 V31 M332,28.3 V28 H356 M360,28 V28.6 H396 V29.4 M360,31 V29.8 H368 V31 M376,31 V30 H384 V31 M392,31 V29.2 H400 V31 M408,31 V29.6 H416 V31 M376,29.8 V29 H396 M412,29.6 V29 H396" stroke="#333" stroke-width="1" fill="none"/>
<rect x="38.1" y="173.4" width="213" height="19.4" fill="#d9d9d9" />
<text x="144.6" y="186.8" font-size="10" fill="#1a1a1a" font-weight="normal" text-anchor="middle" >Normal</text>
<rect x="38.1" y="193.4" width="213" height="83.7" fill="#ebebeb" />
<line x1="38.1" y1="260.2" x2="251.1" y2="260.2" stroke="#f6f6f6" stroke-width="0.6" />
<line x1="38.1" y1="233.1" x2="251.1" y2="233.1" stroke="#f6f6f6" stroke-width="0.6" />
<line x1="38.1" y1="206.1" x2="251.1" y2="206.1" stroke="#f6f6f6" stroke-width="0.6" />
<line x1="38.1" y1="273.7" x2="251.1" y2="273.7" stroke="#fff" stroke-width="1.1" />
<line x1="38.1" y1="246.6" x2="251.1" y2="246.6" stroke="#fff" stroke-width="1.1" />
<line x1="38.1" y1="219.6" x2="251.1" y2="219.6" stroke="#fff" stroke-width="1.1" />
<line x1="41.8" y1="193.4" x2="41.8" y2="277.1" stroke="#fff" stroke-width="1.1" />
<line x1="48.4" y1="193.4" x2="48.4" y2="277.1" stroke="#fff" stroke-width="1.1" />
<line x1="55" y1="193.4" x2="55" y2="277.1" stroke="#fff" stroke-width="1.1" />
<line x1="61.6" y1="193.4" x2="61.6" y2="277.1" stroke="#fff" stroke-width="1.1" />
<line x1="68.3" y1="193.4" x2="68.3" y2="277.1" stroke="#fff" stroke-width="1.1" />
<line x1="74.9" y1="193.4" x2="74.9" y2="277.1" stroke="#fff" stroke-width="1.1" />
<line x1="81.5" y1="193.4" x2="81.5" y2="277.1" stroke="#fff" stroke-width="1.1" />
<line x1="88.1" y1="193.4" x2="88.1" y2="277.1" stroke="#fff" stroke-width="1.1" />
<line x1="94.7" y1="193.4" x2="94.7" y2="277.1" stroke="#fff" stroke-width="1.1" />
<line x1="101.3" y1="193.4" x2="101.3" y2="277.1" stroke="#fff" stroke-width="1.1" />
<line x1="108" y1="193.4" x2="108" y2="277.1" stroke="#fff" stroke-width="1.1" />
<line x1="114.6" y1="193.4" x2="114.6" y2="277.1" stroke="#fff" stroke-width="1.1" />
<line x1="121.2" y1="193.4" x2="121.2" y2="277.1" stroke="#fff" stroke-width="1.1" />
<line x1="127.8" y1="193.4" x2="127.8" y2="277.1" stroke="#fff" stroke-width="1.1" />
<line x1="134.4" y1="193.4" x2="134.4" y2="277.1" stroke="#fff" stroke-width="1.1" />
<line x1="141" y1="193.4" x2="141" y2="277.1" stroke="#fff" stroke-width="1.1" />
<line x1="147.6" y1="193.4" x2="147.6" y2="277.1" stroke="#fff" stroke-width="1.1" />
<line x1="154.3" y1="193.4" x2="154.3" y2="277.1" stroke="#fff" stroke-width="1.1" />
<line x1="160.9" y1="193.4" x2="160.9" y2="277.1" stroke="#fff" stroke-width="1.1" />
<line x1="167.5" y1="193.4" x2="167.5" y2="277.1" stroke="#fff" stroke-width="1.1" />
<line x1="174.1" y1="193.4" x2="174.1" y2="277.1" stroke="#fff" stroke-width="1.1" />
<line x1="180.7" y1="193.4" x2="180.7" y2="277.1" stroke="#fff" stroke-width="1.1" />
<line x1="187.3" y1="193.4" x2="187.3" y2="277.1" stroke="#fff" stroke-width="1.1" />
<line x1="193.9" y1="193.4" x2="193.9" y2="277.1" stroke="#fff" stroke-width="1.1" />
<line x1="200.6" y1="193.4" x2="200.6" y2="277.1" stroke="#fff" stroke-width="1.1" />
<line x1="207.2" y1="193.4" x2="207.2" y2="277.1" stroke="#fff" stroke-width="1.1" />
<line x1="213.8" y1="193.4" x2="213.8" y2="277.1" stroke="#fff" stroke-width="1.1" />
<line x1="220.4" y1="193.4" x2="220.4" y2="277.1" stroke="#fff" stroke-width="1.1" />
<line x1="227" y1="193.4" x2="227" y2="277.1" stroke="#fff" stroke-width="1.1" />
<line x1="233.6" y1="193.4" x2="233.6" y2="277.1" stroke="#fff" stroke-width="1.1" />
<line x1="240.3" y1="193.4" x2="240.3" y2="277.1" stroke="#fff" stroke-width="1.1" />
<line x1="246.9" y1="193.4" x2="246.9" y2="277.1" stroke="#fff" stroke-width="1.1" />
<line x1="38.1" y1="262.9" x2="251.1" y2="262.9" stroke="#555" stroke-width="1.3" stroke-dasharray="5.2 3.3"/>
<line x1="41.8" y1="277.6" x2="41.8" y2="280.4" stroke="#333" stroke-width="1.2" />
<text transform="translate(45.4,294) rotate(-90)" font-size="7.4" fill="#3f3f48" font-weight="normal" text-anchor="middle" >ACC</text>
<line x1="48.4" y1="277.6" x2="48.4" y2="280.4" stroke="#333" stroke-width="1.2" />
<text transform="translate(52,294) rotate(-90)" font-size="7.4" fill="#3f3f48" font-weight="normal" text-anchor="middle" >BLCA</text>
<line x1="55" y1="277.6" x2="55" y2="280.4" stroke="#333" stroke-width="1.2" />
<text transform="translate(58.6,294) rotate(-90)" font-size="7.4" fill="#3f3f48" font-weight="normal" text-anchor="middle" >BRCA</text>
<line x1="61.6" y1="277.6" x2="61.6" y2="280.4" stroke="#333" stroke-width="1.2" />
<text transform="translate(65.2,294) rotate(-90)" font-size="7.4" fill="#3f3f48" font-weight="normal" text-anchor="middle" >CESC</text>
<line x1="68.3" y1="277.6" x2="68.3" y2="280.4" stroke="#333" stroke-width="1.2" />
<text transform="translate(71.9,294) rotate(-90)" font-size="7.4" fill="#3f3f48" font-weight="normal" text-anchor="middle" >CHOL</text>
<line x1="74.9" y1="277.6" x2="74.9" y2="280.4" stroke="#333" stroke-width="1.2" />
<text transform="translate(78.5,294) rotate(-90)" font-size="7.4" fill="#3f3f48" font-weight="normal" text-anchor="middle" >COAD</text>
<line x1="81.5" y1="277.6" x2="81.5" y2="280.4" stroke="#333" stroke-width="1.2" />
<text transform="translate(85.1,294) rotate(-90)" font-size="7.4" fill="#3f3f48" font-weight="normal" text-anchor="middle" >DLBC</text>
<line x1="88.1" y1="277.6" x2="88.1" y2="280.4" stroke="#333" stroke-width="1.2" />
<text transform="translate(91.7,294) rotate(-90)" font-size="7.4" fill="#3f3f48" font-weight="normal" text-anchor="middle" >ESCA</text>
<line x1="94.7" y1="277.6" x2="94.7" y2="280.4" stroke="#333" stroke-width="1.2" />
<text transform="translate(98.3,294) rotate(-90)" font-size="7.4" fill="#3f3f48" font-weight="normal" text-anchor="middle" >GBM</text>
<line x1="101.3" y1="277.6" x2="101.3" y2="280.4" stroke="#333" stroke-width="1.2" />
<text transform="translate(104.9,294) rotate(-90)" font-size="7.4" fill="#3f3f48" font-weight="normal" text-anchor="middle" >HNSC</text>
<line x1="108" y1="277.6" x2="108" y2="280.4" stroke="#333" stroke-width="1.2" />
<text transform="translate(111.6,294) rotate(-90)" font-size="7.4" fill="#3f3f48" font-weight="normal" text-anchor="middle" >KICH</text>
<line x1="114.6" y1="277.6" x2="114.6" y2="280.4" stroke="#333" stroke-width="1.2" />
<text transform="translate(118.2,294) rotate(-90)" font-size="7.4" fill="#3f3f48" font-weight="normal" text-anchor="middle" >KIRC</text>
<line x1="121.2" y1="277.6" x2="121.2" y2="280.4" stroke="#333" stroke-width="1.2" />
<text transform="translate(124.8,294) rotate(-90)" font-size="7.4" fill="#3f3f48" font-weight="normal" text-anchor="middle" >KIRP</text>
<line x1="127.8" y1="277.6" x2="127.8" y2="280.4" stroke="#333" stroke-width="1.2" />
<text transform="translate(131.4,294) rotate(-90)" font-size="7.4" fill="#3f3f48" font-weight="normal" text-anchor="middle" >LGG</text>
<line x1="134.4" y1="277.6" x2="134.4" y2="280.4" stroke="#333" stroke-width="1.2" />
<text transform="translate(138,294) rotate(-90)" font-size="7.4" fill="#3f3f48" font-weight="normal" text-anchor="middle" >LIHC</text>
<line x1="141" y1="277.6" x2="141" y2="280.4" stroke="#333" stroke-width="1.2" />
<text transform="translate(144.6,294) rotate(-90)" font-size="7.4" fill="#3f3f48" font-weight="normal" text-anchor="middle" >LUAD</text>
<line x1="147.6" y1="277.6" x2="147.6" y2="280.4" stroke="#333" stroke-width="1.2" />
<text transform="translate(151.2,294) rotate(-90)" font-size="7.4" fill="#3f3f48" font-weight="normal" text-anchor="middle" >LUSC</text>
<line x1="154.3" y1="277.6" x2="154.3" y2="280.4" stroke="#333" stroke-width="1.2" />
<text transform="translate(157.9,294) rotate(-90)" font-size="7.4" fill="#3f3f48" font-weight="normal" text-anchor="middle" >MESO</text>
<line x1="160.9" y1="277.6" x2="160.9" y2="280.4" stroke="#333" stroke-width="1.2" />
<text transform="translate(164.5,294) rotate(-90)" font-size="7.4" fill="#3f3f48" font-weight="normal" text-anchor="middle" >OV</text>
<line x1="167.5" y1="277.6" x2="167.5" y2="280.4" stroke="#333" stroke-width="1.2" />
<text transform="translate(171.1,294) rotate(-90)" font-size="7.4" fill="#3f3f48" font-weight="normal" text-anchor="middle" >PAAD</text>
<line x1="174.1" y1="277.6" x2="174.1" y2="280.4" stroke="#333" stroke-width="1.2" />
<text transform="translate(177.7,294) rotate(-90)" font-size="7.4" fill="#3f3f48" font-weight="normal" text-anchor="middle" >PCPG</text>
<line x1="180.7" y1="277.6" x2="180.7" y2="280.4" stroke="#333" stroke-width="1.2" />
<text transform="translate(184.3,294) rotate(-90)" font-size="7.4" fill="#3f3f48" font-weight="normal" text-anchor="middle" >PRAD</text>
<line x1="187.3" y1="277.6" x2="187.3" y2="280.4" stroke="#333" stroke-width="1.2" />
<text transform="translate(190.9,294) rotate(-90)" font-size="7.4" fill="#3f3f48" font-weight="normal" text-anchor="middle" >READ</text>
<line x1="193.9" y1="277.6" x2="193.9" y2="280.4" stroke="#333" stroke-width="1.2" />
<text transform="translate(197.5,294) rotate(-90)" font-size="7.4" fill="#3f3f48" font-weight="normal" text-anchor="middle" >SARC</text>
<line x1="200.6" y1="277.6" x2="200.6" y2="280.4" stroke="#333" stroke-width="1.2" />
<text transform="translate(204.2,294) rotate(-90)" font-size="7.4" fill="#3f3f48" font-weight="normal" text-anchor="middle" >SKCM</text>
<line x1="207.2" y1="277.6" x2="207.2" y2="280.4" stroke="#333" stroke-width="1.2" />
<text transform="translate(210.8,294) rotate(-90)" font-size="7.4" fill="#3f3f48" font-weight="normal" text-anchor="middle" >STAD</text>
<line x1="213.8" y1="277.6" x2="213.8" y2="280.4" stroke="#333" stroke-width="1.2" />
<text transform="translate(217.4,294) rotate(-90)" font-size="7.4" fill="#3f3f48" font-weight="normal" text-anchor="middle" >TGCT</text>
<line x1="220.4" y1="277.6" x2="220.4" y2="280.4" stroke="#333" stroke-width="1.2" />
<text transform="translate(224,294) rotate(-90)" font-size="7.4" fill="#3f3f48" font-weight="normal" text-anchor="middle" >THCA</text>
<line x1="227" y1="277.6" x2="227" y2="280.4" stroke="#333" stroke-width="1.2" />
<text transform="translate(230.6,294) rotate(-90)" font-size="7.4" fill="#3f3f48" font-weight="normal" text-anchor="middle" >THYM</text>
<line x1="233.6" y1="277.6" x2="233.6" y2="280.4" stroke="#333" stroke-width="1.2" />
<text transform="translate(237.2,294) rotate(-90)" font-size="7.4" fill="#3f3f48" font-weight="normal" text-anchor="middle" >UCEC</text>
<line x1="240.3" y1="277.6" x2="240.3" y2="280.4" stroke="#333" stroke-width="1.2" />
<text transform="translate(243.9,294) rotate(-90)" font-size="7.4" fill="#3f3f48" font-weight="normal" text-anchor="middle" >UCS</text>
<line x1="246.9" y1="277.6" x2="246.9" y2="280.4" stroke="#333" stroke-width="1.2" />
<text transform="translate(250.5,294) rotate(-90)" font-size="7.4" fill="#3f3f48" font-weight="normal" text-anchor="middle" >UVM</text>
<rect x="257.6" y="173.4" width="212.9" height="19.4" fill="#d9d9d9" />
<text x="364.1" y="186.8" font-size="10" fill="#1a1a1a" font-weight="normal" text-anchor="middle" >Tumor</text>
<rect x="257.6" y="193.4" width="212.9" height="83.7" fill="#ebebeb" />
<line x1="257.6" y1="260.2" x2="470.5" y2="260.2" stroke="#f6f6f6" stroke-width="0.6" />
<line x1="257.6" y1="233.1" x2="470.5" y2="233.1" stroke="#f6f6f6" stroke-width="0.6" />
<line x1="257.6" y1="206.1" x2="470.5" y2="206.1" stroke="#f6f6f6" stroke-width="0.6" />
<line x1="257.6" y1="273.7" x2="470.5" y2="273.7" stroke="#fff" stroke-width="1.1" />
<line x1="257.6" y1="246.6" x2="470.5" y2="246.6" stroke="#fff" stroke-width="1.1" />
<line x1="257.6" y1="219.6" x2="470.5" y2="219.6" stroke="#fff" stroke-width="1.1" />
<line x1="261.3" y1="193.4" x2="261.3" y2="277.1" stroke="#fff" stroke-width="1.1" />
<line x1="267.9" y1="193.4" x2="267.9" y2="277.1" stroke="#fff" stroke-width="1.1" />
<line x1="274.5" y1="193.4" x2="274.5" y2="277.1" stroke="#fff" stroke-width="1.1" />
<line x1="281.1" y1="193.4" x2="281.1" y2="277.1" stroke="#fff" stroke-width="1.1" />
<line x1="287.8" y1="193.4" x2="287.8" y2="277.1" stroke="#fff" stroke-width="1.1" />
<line x1="294.4" y1="193.4" x2="294.4" y2="277.1" stroke="#fff" stroke-width="1.1" />
<line x1="301" y1="193.4" x2="301" y2="277.1" stroke="#fff" stroke-width="1.1" />
<line x1="307.6" y1="193.4" x2="307.6" y2="277.1" stroke="#fff" stroke-width="1.1" />
<line x1="314.2" y1="193.4" x2="314.2" y2="277.1" stroke="#fff" stroke-width="1.1" />
<line x1="320.8" y1="193.4" x2="320.8" y2="277.1" stroke="#fff" stroke-width="1.1" />
<line x1="327.5" y1="193.4" x2="327.5" y2="277.1" stroke="#fff" stroke-width="1.1" />
<line x1="334.1" y1="193.4" x2="334.1" y2="277.1" stroke="#fff" stroke-width="1.1" />
<line x1="340.7" y1="193.4" x2="340.7" y2="277.1" stroke="#fff" stroke-width="1.1" />
<line x1="347.3" y1="193.4" x2="347.3" y2="277.1" stroke="#fff" stroke-width="1.1" />
<line x1="353.9" y1="193.4" x2="353.9" y2="277.1" stroke="#fff" stroke-width="1.1" />
<line x1="360.5" y1="193.4" x2="360.5" y2="277.1" stroke="#fff" stroke-width="1.1" />
<line x1="367.1" y1="193.4" x2="367.1" y2="277.1" stroke="#fff" stroke-width="1.1" />
<line x1="373.8" y1="193.4" x2="373.8" y2="277.1" stroke="#fff" stroke-width="1.1" />
<line x1="380.4" y1="193.4" x2="380.4" y2="277.1" stroke="#fff" stroke-width="1.1" />
<line x1="387" y1="193.4" x2="387" y2="277.1" stroke="#fff" stroke-width="1.1" />
<line x1="393.6" y1="193.4" x2="393.6" y2="277.1" stroke="#fff" stroke-width="1.1" />
<line x1="400.2" y1="193.4" x2="400.2" y2="277.1" stroke="#fff" stroke-width="1.1" />
<line x1="406.8" y1="193.4" x2="406.8" y2="277.1" stroke="#fff" stroke-width="1.1" />
<line x1="413.4" y1="193.4" x2="413.4" y2="277.1" stroke="#fff" stroke-width="1.1" />
<line x1="420.1" y1="193.4" x2="420.1" y2="277.1" stroke="#fff" stroke-width="1.1" />
<line x1="426.7" y1="193.4" x2="426.7" y2="277.1" stroke="#fff" stroke-width="1.1" />
<line x1="433.3" y1="193.4" x2="433.3" y2="277.1" stroke="#fff" stroke-width="1.1" />
<line x1="439.9" y1="193.4" x2="439.9" y2="277.1" stroke="#fff" stroke-width="1.1" />
<line x1="446.5" y1="193.4" x2="446.5" y2="277.1" stroke="#fff" stroke-width="1.1" />
<line x1="453.1" y1="193.4" x2="453.1" y2="277.1" stroke="#fff" stroke-width="1.1" />
<line x1="459.8" y1="193.4" x2="459.8" y2="277.1" stroke="#fff" stroke-width="1.1" />
<line x1="466.4" y1="193.4" x2="466.4" y2="277.1" stroke="#fff" stroke-width="1.1" />
<line x1="257.6" y1="262.9" x2="470.5" y2="262.9" stroke="#555" stroke-width="1.3" stroke-dasharray="5.2 3.3"/>
<line x1="261.3" y1="277.6" x2="261.3" y2="280.4" stroke="#333" stroke-width="1.2" />
<text transform="translate(264.9,294) rotate(-90)" font-size="7.4" fill="#3f3f48" font-weight="normal" text-anchor="middle" >ACC</text>
<line x1="267.9" y1="277.6" x2="267.9" y2="280.4" stroke="#333" stroke-width="1.2" />
<text transform="translate(271.5,294) rotate(-90)" font-size="7.4" fill="#3f3f48" font-weight="normal" text-anchor="middle" >BLCA</text>
<line x1="274.5" y1="277.6" x2="274.5" y2="280.4" stroke="#333" stroke-width="1.2" />
<text transform="translate(278.1,294) rotate(-90)" font-size="7.4" fill="#3f3f48" font-weight="normal" text-anchor="middle" >BRCA</text>
<line x1="281.1" y1="277.6" x2="281.1" y2="280.4" stroke="#333" stroke-width="1.2" />
<text transform="translate(284.7,294) rotate(-90)" font-size="7.4" fill="#3f3f48" font-weight="normal" text-anchor="middle" >CESC</text>
<line x1="287.8" y1="277.6" x2="287.8" y2="280.4" stroke="#333" stroke-width="1.2" />
<text transform="translate(291.4,294) rotate(-90)" font-size="7.4" fill="#3f3f48" font-weight="normal" text-anchor="middle" >CHOL</text>
<line x1="294.4" y1="277.6" x2="294.4" y2="280.4" stroke="#333" stroke-width="1.2" />
<text transform="translate(298,294) rotate(-90)" font-size="7.4" fill="#3f3f48" font-weight="normal" text-anchor="middle" >COAD</text>
<line x1="301" y1="277.6" x2="301" y2="280.4" stroke="#333" stroke-width="1.2" />
<text transform="translate(304.6,294) rotate(-90)" font-size="7.4" fill="#3f3f48" font-weight="normal" text-anchor="middle" >DLBC</text>
<line x1="307.6" y1="277.6" x2="307.6" y2="280.4" stroke="#333" stroke-width="1.2" />
<text transform="translate(311.2,294) rotate(-90)" font-size="7.4" fill="#3f3f48" font-weight="normal" text-anchor="middle" >ESCA</text>
<line x1="314.2" y1="277.6" x2="314.2" y2="280.4" stroke="#333" stroke-width="1.2" />
<text transform="translate(317.8,294) rotate(-90)" font-size="7.4" fill="#3f3f48" font-weight="normal" text-anchor="middle" >GBM</text>
<line x1="320.8" y1="277.6" x2="320.8" y2="280.4" stroke="#333" stroke-width="1.2" />
<text transform="translate(324.4,294) rotate(-90)" font-size="7.4" fill="#3f3f48" font-weight="normal" text-anchor="middle" >HNSC</text>
<line x1="327.5" y1="277.6" x2="327.5" y2="280.4" stroke="#333" stroke-width="1.2" />
<text transform="translate(331.1,294) rotate(-90)" font-size="7.4" fill="#3f3f48" font-weight="normal" text-anchor="middle" >KICH</text>
<line x1="334.1" y1="277.6" x2="334.1" y2="280.4" stroke="#333" stroke-width="1.2" />
<text transform="translate(337.7,294) rotate(-90)" font-size="7.4" fill="#3f3f48" font-weight="normal" text-anchor="middle" >KIRC</text>
<line x1="340.7" y1="277.6" x2="340.7" y2="280.4" stroke="#333" stroke-width="1.2" />
<text transform="translate(344.3,294) rotate(-90)" font-size="7.4" fill="#3f3f48" font-weight="normal" text-anchor="middle" >KIRP</text>
<line x1="347.3" y1="277.6" x2="347.3" y2="280.4" stroke="#333" stroke-width="1.2" />
<text transform="translate(350.9,294) rotate(-90)" font-size="7.4" fill="#3f3f48" font-weight="normal" text-anchor="middle" >LGG</text>
<line x1="353.9" y1="277.6" x2="353.9" y2="280.4" stroke="#333" stroke-width="1.2" />
<text transform="translate(357.5,294) rotate(-90)" font-size="7.4" fill="#3f3f48" font-weight="normal" text-anchor="middle" >LIHC</text>
<line x1="360.5" y1="277.6" x2="360.5" y2="280.4" stroke="#333" stroke-width="1.2" />
<text transform="translate(364.1,294) rotate(-90)" font-size="7.4" fill="#3f3f48" font-weight="normal" text-anchor="middle" >LUAD</text>
<line x1="367.1" y1="277.6" x2="367.1" y2="280.4" stroke="#333" stroke-width="1.2" />
<text transform="translate(370.7,294) rotate(-90)" font-size="7.4" fill="#3f3f48" font-weight="normal" text-anchor="middle" >LUSC</text>
<line x1="373.8" y1="277.6" x2="373.8" y2="280.4" stroke="#333" stroke-width="1.2" />
<text transform="translate(377.4,294) rotate(-90)" font-size="7.4" fill="#3f3f48" font-weight="normal" text-anchor="middle" >MESO</text>
<line x1="380.4" y1="277.6" x2="380.4" y2="280.4" stroke="#333" stroke-width="1.2" />
<text transform="translate(384,294) rotate(-90)" font-size="7.4" fill="#3f3f48" font-weight="normal" text-anchor="middle" >OV</text>
<line x1="387" y1="277.6" x2="387" y2="280.4" stroke="#333" stroke-width="1.2" />
<text transform="translate(390.6,294) rotate(-90)" font-size="7.4" fill="#3f3f48" font-weight="normal" text-anchor="middle" >PAAD</text>
<line x1="393.6" y1="277.6" x2="393.6" y2="280.4" stroke="#333" stroke-width="1.2" />
<text transform="translate(397.2,294) rotate(-90)" font-size="7.4" fill="#3f3f48" font-weight="normal" text-anchor="middle" >PCPG</text>
<line x1="400.2" y1="277.6" x2="400.2" y2="280.4" stroke="#333" stroke-width="1.2" />
<text transform="translate(403.8,294) rotate(-90)" font-size="7.4" fill="#3f3f48" font-weight="normal" text-anchor="middle" >PRAD</text>
<line x1="406.8" y1="277.6" x2="406.8" y2="280.4" stroke="#333" stroke-width="1.2" />
<text transform="translate(410.4,294) rotate(-90)" font-size="7.4" fill="#3f3f48" font-weight="normal" text-anchor="middle" >READ</text>
<line x1="413.4" y1="277.6" x2="413.4" y2="280.4" stroke="#333" stroke-width="1.2" />
<text transform="translate(417,294) rotate(-90)" font-size="7.4" fill="#3f3f48" font-weight="normal" text-anchor="middle" >SARC</text>
<line x1="420.1" y1="277.6" x2="420.1" y2="280.4" stroke="#333" stroke-width="1.2" />
<text transform="translate(423.7,294) rotate(-90)" font-size="7.4" fill="#3f3f48" font-weight="normal" text-anchor="middle" >SKCM</text>
<line x1="426.7" y1="277.6" x2="426.7" y2="280.4" stroke="#333" stroke-width="1.2" />
<text transform="translate(430.3,294) rotate(-90)" font-size="7.4" fill="#3f3f48" font-weight="normal" text-anchor="middle" >STAD</text>
<line x1="433.3" y1="277.6" x2="433.3" y2="280.4" stroke="#333" stroke-width="1.2" />
<text transform="translate(436.9,294) rotate(-90)" font-size="7.4" fill="#3f3f48" font-weight="normal" text-anchor="middle" >TGCT</text>
<line x1="439.9" y1="277.6" x2="439.9" y2="280.4" stroke="#333" stroke-width="1.2" />
<text transform="translate(443.5,294) rotate(-90)" font-size="7.4" fill="#3f3f48" font-weight="normal" text-anchor="middle" >THCA</text>
<line x1="446.5" y1="277.6" x2="446.5" y2="280.4" stroke="#333" stroke-width="1.2" />
<text transform="translate(450.1,294) rotate(-90)" font-size="7.4" fill="#3f3f48" font-weight="normal" text-anchor="middle" >THYM</text>
<line x1="453.1" y1="277.6" x2="453.1" y2="280.4" stroke="#333" stroke-width="1.2" />
<text transform="translate(456.7,294) rotate(-90)" font-size="7.4" fill="#3f3f48" font-weight="normal" text-anchor="middle" >UCEC</text>
<line x1="459.8" y1="277.6" x2="459.8" y2="280.4" stroke="#333" stroke-width="1.2" />
<text transform="translate(463.4,294) rotate(-90)" font-size="7.4" fill="#3f3f48" font-weight="normal" text-anchor="middle" >UCS</text>
<line x1="466.4" y1="277.6" x2="466.4" y2="280.4" stroke="#333" stroke-width="1.2" />
<text transform="translate(470,294) rotate(-90)" font-size="7.4" fill="#3f3f48" font-weight="normal" text-anchor="middle" >UVM</text>
<circle cx="49.9" cy="270.6" r="1.1" fill="#00BFC4" fill-opacity="0.8"/>
<circle cx="50.7" cy="270.7" r="1.1" fill="#00BFC4" fill-opacity="0.8"/>
<circle cx="47.5" cy="270.5" r="1.1" fill="#00BFC4" fill-opacity="0.8"/>
<circle cx="50.1" cy="270.6" r="1.1" fill="#00BFC4" fill-opacity="0.8"/>
<circle cx="49.2" cy="272" r="1.1" fill="#00BFC4" fill-opacity="0.8"/>
<circle cx="46" cy="271.6" r="1.1" fill="#00BFC4" fill-opacity="0.8"/>
<circle cx="47.7" cy="270.4" r="1.1" fill="#00BFC4" fill-opacity="0.8"/>
<circle cx="47.2" cy="272" r="1.1" fill="#00BFC4" fill-opacity="0.8"/>
<circle cx="46.2" cy="269.9" r="1.1" fill="#00BFC4" fill-opacity="0.8"/>
<circle cx="47.1" cy="271.4" r="1.1" fill="#00BFC4" fill-opacity="0.8"/>
<circle cx="50.2" cy="270" r="1.1" fill="#00BFC4" fill-opacity="0.8"/>
<circle cx="47.5" cy="270.7" r="1.1" fill="#00BFC4" fill-opacity="0.8"/>
<circle cx="47.9" cy="271.5" r="1.1" fill="#00BFC4" fill-opacity="0.8"/>
<circle cx="50.5" cy="272" r="1.1" fill="#00BFC4" fill-opacity="0.8"/>
<rect x="45.8" y="270.2" width="5.2" height="1.9" fill="#10c0b0" fill-opacity="0.7"/>
<circle cx="55.9" cy="270.4" r="1.1" fill="#00BFC4" fill-opacity="0.8"/>
<circle cx="56.3" cy="270.9" r="1.1" fill="#00BFC4" fill-opacity="0.8"/>
<circle cx="57" cy="270.3" r="1.1" fill="#00BFC4" fill-opacity="0.8"/>
<circle cx="55.7" cy="272" r="1.1" fill="#00BFC4" fill-opacity="0.8"/>
<circle cx="56.9" cy="271.7" r="1.1" fill="#00BFC4" fill-opacity="0.8"/>
<circle cx="53.4" cy="271.4" r="1.1" fill="#00BFC4" fill-opacity="0.8"/>
<circle cx="55.1" cy="271.4" r="1.1" fill="#00BFC4" fill-opacity="0.8"/>
<circle cx="54.7" cy="271.4" r="1.1" fill="#00BFC4" fill-opacity="0.8"/>
<circle cx="53.8" cy="270.5" r="1.1" fill="#00BFC4" fill-opacity="0.8"/>
<circle cx="55.9" cy="272" r="1.1" fill="#00BFC4" fill-opacity="0.8"/>
<circle cx="56.9" cy="271.7" r="1.1" fill="#00BFC4" fill-opacity="0.8"/>
<circle cx="54.2" cy="270.4" r="1.1" fill="#00BFC4" fill-opacity="0.8"/>
<circle cx="56.7" cy="270" r="1.1" fill="#00BFC4" fill-opacity="0.8"/>
<circle cx="56.8" cy="270.9" r="1.1" fill="#00BFC4" fill-opacity="0.8"/>
<rect x="52.4" y="270.2" width="5.2" height="1.9" fill="#10c0b0" fill-opacity="0.7"/>
<circle cx="63.6" cy="270.4" r="1.1" fill="#00BFC4" fill-opacity="0.8"/>
<circle cx="63.3" cy="270" r="1.1" fill="#00BFC4" fill-opacity="0.8"/>
<circle cx="63.8" cy="271.1" r="1.1" fill="#00BFC4" fill-opacity="0.8"/>
<circle cx="61.5" cy="270.5" r="1.1" fill="#00BFC4" fill-opacity="0.8"/>
<circle cx="63.3" cy="270.5" r="1.1" fill="#00BFC4" fill-opacity="0.8"/>
<circle cx="61" cy="271.9" r="1.1" fill="#00BFC4" fill-opacity="0.8"/>
<circle cx="59.8" cy="270.2" r="1.1" fill="#00BFC4" fill-opacity="0.8"/>
<circle cx="63.6" cy="272" r="1.1" fill="#00BFC4" fill-opacity="0.8"/>
<circle cx="61" cy="270.7" r="1.1" fill="#00BFC4" fill-opacity="0.8"/>
<circle cx="61.6" cy="272" r="1.1" fill="#00BFC4" fill-opacity="0.8"/>
<circle cx="63.4" cy="270.7" r="1.1" fill="#00BFC4" fill-opacity="0.8"/>
<circle cx="60.7" cy="271" r="1.1" fill="#00BFC4" fill-opacity="0.8"/>
<circle cx="61.1" cy="270.7" r="1.1" fill="#00BFC4" fill-opacity="0.8"/>
<circle cx="63.5" cy="270.8" r="1.1" fill="#00BFC4" fill-opacity="0.8"/>
<rect x="59" y="270.2" width="5.2" height="1.9" fill="#10c0b0" fill-opacity="0.7"/>
<circle cx="67.4" cy="271.3" r="1.1" fill="#00BFC4" fill-opacity="0.8"/>
<circle cx="69.9" cy="270.5" r="1.1" fill="#00BFC4" fill-opacity="0.8"/>
<circle cx="67.6" cy="270.1" r="1.1" fill="#00BFC4" fill-opacity="0.8"/>
<circle cx="68.7" cy="269.9" r="1.1" fill="#00BFC4" fill-opacity="0.8"/>
<circle cx="70.2" cy="271.9" r="1.1" fill="#00BFC4" fill-opacity="0.8"/>
<circle cx="68" cy="272.1" r="1.1" fill="#00BFC4" fill-opacity="0.8"/>
<circle cx="70.4" cy="271.6" r="1.1" fill="#00BFC4" fill-opacity="0.8"/>
<circle cx="66.9" cy="270.9" r="1.1" fill="#00BFC4" fill-opacity="0.8"/>
<circle cx="70.3" cy="270.7" r="1.1" fill="#00BFC4" fill-opacity="0.8"/>
<circle cx="70" cy="270.7" r="1.1" fill="#00BFC4" fill-opacity="0.8"/>
<circle cx="68.6" cy="271.1" r="1.1" fill="#00BFC4" fill-opacity="0.8"/>
<circle cx="68.6" cy="272" r="1.1" fill="#00BFC4" fill-opacity="0.8"/>
<circle cx="66.5" cy="269.9" r="1.1" fill="#00BFC4" fill-opacity="0.8"/>
<circle cx="66.7" cy="271.4" r="1.1" fill="#00BFC4" fill-opacity="0.8"/>
<rect x="65.7" y="270.2" width="5.2" height="1.9" fill="#10c0b0" fill-opacity="0.7"/>
<circle cx="74.9" cy="270.5" r="1.1" fill="#00BFC4" fill-opacity="0.8"/>
<circle cx="73" cy="270.4" r="1.1" fill="#00BFC4" fill-opacity="0.8"/>
<circle cx="75.4" cy="272" r="1.1" fill="#00BFC4" fill-opacity="0.8"/>
<circle cx="74.2" cy="270" r="1.1" fill="#00BFC4" fill-opacity="0.8"/>
<circle cx="76" cy="271.7" r="1.1" fill="#00BFC4" fill-opacity="0.8"/>
<circle cx="75.5" cy="271.9" r="1.1" fill="#00BFC4" fill-opacity="0.8"/>
<circle cx="74.5" cy="271.4" r="1.1" fill="#00BFC4" fill-opacity="0.8"/>
<circle cx="77.2" cy="271" r="1.1" fill="#00BFC4" fill-opacity="0.8"/>
<circle cx="77.1" cy="271" r="1.1" fill="#00BFC4" fill-opacity="0.8"/>
<circle cx="76.1" cy="272.1" r="1.1" fill="#00BFC4" fill-opacity="0.8"/>
<circle cx="76.7" cy="270.8" r="1.1" fill="#00BFC4" fill-opacity="0.8"/>
<circle cx="74.3" cy="270.3" r="1.1" fill="#00BFC4" fill-opacity="0.8"/>
<circle cx="76.8" cy="271.7" r="1.1" fill="#00BFC4" fill-opacity="0.8"/>
<circle cx="72.6" cy="270.7" r="1.1" fill="#00BFC4" fill-opacity="0.8"/>
<rect x="72.3" y="270.2" width="5.2" height="1.9" fill="#10c0b0" fill-opacity="0.7"/>
<circle cx="89.9" cy="271.8" r="1.1" fill="#00BFC4" fill-opacity="0.8"/>
<circle cx="88.4" cy="272" r="1.1" fill="#00BFC4" fill-opacity="0.8"/>
<circle cx="86" cy="271" r="1.1" fill="#00BFC4" fill-opacity="0.8"/>
<circle cx="90" cy="270.2" r="1.1" fill="#00BFC4" fill-opacity="0.8"/>
<circle cx="89.1" cy="270.5" r="1.1" fill="#00BFC4" fill-opacity="0.8"/>
<circle cx="86.7" cy="271.1" r="1.1" fill="#00BFC4" fill-opacity="0.8"/>
<circle cx="86.4" cy="271.6" r="1.1" fill="#00BFC4" fill-opacity="0.8"/>
<circle cx="86.4" cy="271.1" r="1.1" fill="#00BFC4" fill-opacity="0.8"/>
<circle cx="85.9" cy="271.8" r="1.1" fill="#00BFC4" fill-opacity="0.8"/>
<circle cx="89" cy="270.8" r="1.1" fill="#00BFC4" fill-opacity="0.8"/>
<circle cx="86.8" cy="271.6" r="1.1" fill="#00BFC4" fill-opacity="0.8"/>
<circle cx="88.7" cy="272" r="1.1" fill="#00BFC4" fill-opacity="0.8"/>
<circle cx="89.4" cy="270.3" r="1.1" fill="#00BFC4" fill-opacity="0.8"/>
<circle cx="90" cy="271.7" r="1.1" fill="#00BFC4" fill-opacity="0.8"/>
<rect x="85.5" y="270.2" width="5.2" height="1.9" fill="#10c0b0" fill-opacity="0.7"/>
<circle cx="96.1" cy="270.9" r="1.1" fill="#00BFC4" fill-opacity="0.8"/>
<circle cx="93.4" cy="270.3" r="1.1" fill="#00BFC4" fill-opacity="0.8"/>
<circle cx="93.4" cy="271.7" r="1.1" fill="#00BFC4" fill-opacity="0.8"/>
<circle cx="96.5" cy="270" r="1.1" fill="#00BFC4" fill-opacity="0.8"/>
<circle cx="95.8" cy="271.8" r="1.1" fill="#00BFC4" fill-opacity="0.8"/>
<circle cx="94.5" cy="270.8" r="1.1" fill="#00BFC4" fill-opacity="0.8"/>
<circle cx="93.4" cy="270.3" r="1.1" fill="#00BFC4" fill-opacity="0.8"/>
<circle cx="94.4" cy="271" r="1.1" fill="#00BFC4" fill-opacity="0.8"/>
<circle cx="94.7" cy="272.1" r="1.1" fill="#00BFC4" fill-opacity="0.8"/>
<circle cx="96.5" cy="270.2" r="1.1" fill="#00BFC4" fill-opacity="0.8"/>
<circle cx="96.6" cy="270.9" r="1.1" fill="#00BFC4" fill-opacity="0.8"/>
<circle cx="94.3" cy="271.4" r="1.1" fill="#00BFC4" fill-opacity="0.8"/>
<circle cx="93.1" cy="271.6" r="1.1" fill="#00BFC4" fill-opacity="0.8"/>
<circle cx="94.9" cy="271.2" r="1.1" fill="#00BFC4" fill-opacity="0.8"/>
<rect x="92.1" y="270.2" width="5.2" height="1.9" fill="#10c0b0" fill-opacity="0.7"/>
<circle cx="102.4" cy="269.9" r="1.1" fill="#00BFC4" fill-opacity="0.8"/>
<circle cx="100" cy="270.2" r="1.1" fill="#00BFC4" fill-opacity="0.8"/>
<circle cx="100.6" cy="271.1" r="1.1" fill="#00BFC4" fill-opacity="0.8"/>
<circle cx="100.4" cy="270.7" r="1.1" fill="#00BFC4" fill-opacity="0.8"/>
<circle cx="101.1" cy="271.8" r="1.1" fill="#00BFC4" fill-opacity="0.8"/>
<circle cx="101.8" cy="271.8" r="1.1" fill="#00BFC4" fill-opacity="0.8"/>
<circle cx="100.4" cy="271.2" r="1.1" fill="#00BFC4" fill-opacity="0.8"/>
<circle cx="103" cy="270.4" r="1.1" fill="#00BFC4" fill-opacity="0.8"/>
<circle cx="101.8" cy="271.1" r="1.1" fill="#00BFC4" fill-opacity="0.8"/>
<circle cx="100.3" cy="271" r="1.1" fill="#00BFC4" fill-opacity="0.8"/>
<circle cx="101.2" cy="271" r="1.1" fill="#00BFC4" fill-opacity="0.8"/>
<circle cx="101.3" cy="271.6" r="1.1" fill="#00BFC4" fill-opacity="0.8"/>
<circle cx="100.6" cy="271.2" r="1.1" fill="#00BFC4" fill-opacity="0.8"/>
<circle cx="99.3" cy="271.9" r="1.1" fill="#00BFC4" fill-opacity="0.8"/>
<rect x="98.7" y="270.2" width="5.2" height="1.9" fill="#10c0b0" fill-opacity="0.7"/>
<circle cx="115.7" cy="271.4" r="1.1" fill="#00BFC4" fill-opacity="0.8"/>
<circle cx="115.5" cy="270.3" r="1.1" fill="#00BFC4" fill-opacity="0.8"/>
<circle cx="115.3" cy="271.1" r="1.1" fill="#00BFC4" fill-opacity="0.8"/>
<circle cx="116.2" cy="270.9" r="1.1" fill="#00BFC4" fill-opacity="0.8"/>
<circle cx="112.4" cy="270.4" r="1.1" fill="#00BFC4" fill-opacity="0.8"/>
<circle cx="114.5" cy="271" r="1.1" fill="#00BFC4" fill-opacity="0.8"/>
<circle cx="115.6" cy="270.6" r="1.1" fill="#00BFC4" fill-opacity="0.8"/>
<circle cx="116.7" cy="270.7" r="1.1" fill="#00BFC4" fill-opacity="0.8"/>
<circle cx="112.9" cy="270.7" r="1.1" fill="#00BFC4" fill-opacity="0.8"/>
<circle cx="115.7" cy="272.1" r="1.1" fill="#00BFC4" fill-opacity="0.8"/>
<circle cx="115.5" cy="270.7" r="1.1" fill="#00BFC4" fill-opacity="0.8"/>
<circle cx="115.4" cy="271.2" r="1.1" fill="#00BFC4" fill-opacity="0.8"/>
<circle cx="113.7" cy="270.8" r="1.1" fill="#00BFC4" fill-opacity="0.8"/>
<circle cx="113.2" cy="270.3" r="1.1" fill="#00BFC4" fill-opacity="0.8"/>
<rect x="112" y="270.2" width="5.2" height="1.9" fill="#10c0b0" fill-opacity="0.7"/>
<circle cx="119.5" cy="270.9" r="1.1" fill="#00BFC4" fill-opacity="0.8"/>
<circle cx="121.9" cy="271.5" r="1.1" fill="#00BFC4" fill-opacity="0.8"/>
<circle cx="119.4" cy="270.1" r="1.1" fill="#00BFC4" fill-opacity="0.8"/>
<circle cx="123.5" cy="270.7" r="1.1" fill="#00BFC4" fill-opacity="0.8"/>
<circle cx="122.7" cy="271.1" r="1.1" fill="#00BFC4" fill-opacity="0.8"/>
<circle cx="120.1" cy="270.9" r="1.1" fill="#00BFC4" fill-opacity="0.8"/>
<circle cx="118.9" cy="270.9" r="1.1" fill="#00BFC4" fill-opacity="0.8"/>
<circle cx="122.6" cy="271.4" r="1.1" fill="#00BFC4" fill-opacity="0.8"/>
<circle cx="123.3" cy="271.8" r="1.1" fill="#00BFC4" fill-opacity="0.8"/>
<circle cx="120" cy="270.8" r="1.1" fill="#00BFC4" fill-opacity="0.8"/>
<circle cx="121.5" cy="270.2" r="1.1" fill="#00BFC4" fill-opacity="0.8"/>
<circle cx="118.9" cy="270.3" r="1.1" fill="#00BFC4" fill-opacity="0.8"/>
<circle cx="119.1" cy="270.3" r="1.1" fill="#00BFC4" fill-opacity="0.8"/>
<circle cx="121.8" cy="272.1" r="1.1" fill="#00BFC4" fill-opacity="0.8"/>
<rect x="118.6" y="270.2" width="5.2" height="1.9" fill="#10c0b0" fill-opacity="0.7"/>
<circle cx="136.3" cy="271.5" r="1.1" fill="#00BFC4" fill-opacity="0.8"/>
<circle cx="134.4" cy="270" r="1.1" fill="#00BFC4" fill-opacity="0.8"/>
<circle cx="133.8" cy="271.9" r="1.1" fill="#00BFC4" fill-opacity="0.8"/>
<circle cx="133" cy="270.5" r="1.1" fill="#00BFC4" fill-opacity="0.8"/>
<circle cx="132.7" cy="271.4" r="1.1" fill="#00BFC4" fill-opacity="0.8"/>
<circle cx="133.1" cy="271.1" r="1.1" fill="#00BFC4" fill-opacity="0.8"/>
<circle cx="132.6" cy="270" r="1.1" fill="#00BFC4" fill-opacity="0.8"/>
<circle cx="136.4" cy="271.8" r="1.1" fill="#00BFC4" fill-opacity="0.8"/>
<circle cx="132.7" cy="270.9" r="1.1" fill="#00BFC4" fill-opacity="0.8"/>
<circle cx="136.7" cy="270.4" r="1.1" fill="#00BFC4" fill-opacity="0.8"/>
<circle cx="132.7" cy="270.3" r="1.1" fill="#00BFC4" fill-opacity="0.8"/>
<circle cx="132.2" cy="271" r="1.1" fill="#00BFC4" fill-opacity="0.8"/>
<circle cx="135.5" cy="271.2" r="1.1" fill="#00BFC4" fill-opacity="0.8"/>
<circle cx="135" cy="270.5" r="1.1" fill="#00BFC4" fill-opacity="0.8"/>
<rect x="131.8" y="270.2" width="5.2" height="1.9" fill="#10c0b0" fill-opacity="0.7"/>
<circle cx="139.5" cy="271.8" r="1.1" fill="#00BFC4" fill-opacity="0.8"/>
<circle cx="140.1" cy="271.9" r="1.1" fill="#00BFC4" fill-opacity="0.8"/>
<circle cx="139.4" cy="272" r="1.1" fill="#00BFC4" fill-opacity="0.8"/>
<circle cx="140.2" cy="270.6" r="1.1" fill="#00BFC4" fill-opacity="0.8"/>
<circle cx="139.4" cy="271.1" r="1.1" fill="#00BFC4" fill-opacity="0.8"/>
<circle cx="139.1" cy="271.6" r="1.1" fill="#00BFC4" fill-opacity="0.8"/>
<circle cx="140.3" cy="270" r="1.1" fill="#00BFC4" fill-opacity="0.8"/>
<circle cx="139.6" cy="271.8" r="1.1" fill="#00BFC4" fill-opacity="0.8"/>
<circle cx="142.7" cy="271.4" r="1.1" fill="#00BFC4" fill-opacity="0.8"/>
<circle cx="140.6" cy="271.1" r="1.1" fill="#00BFC4" fill-opacity="0.8"/>
<circle cx="140.9" cy="272" r="1.1" fill="#00BFC4" fill-opacity="0.8"/>
<circle cx="141.9" cy="270.1" r="1.1" fill="#00BFC4" fill-opacity="0.8"/>
<circle cx="139.4" cy="270.1" r="1.1" fill="#00BFC4" fill-opacity="0.8"/>
<circle cx="142.4" cy="270.7" r="1.1" fill="#00BFC4" fill-opacity="0.8"/>
<rect x="138.4" y="270.2" width="5.2" height="1.9" fill="#10c0b0" fill-opacity="0.7"/>
<circle cx="148.4" cy="271.1" r="1.1" fill="#00BFC4" fill-opacity="0.8"/>
<circle cx="148.2" cy="270.1" r="1.1" fill="#00BFC4" fill-opacity="0.8"/>
<circle cx="149" cy="270.9" r="1.1" fill="#00BFC4" fill-opacity="0.8"/>
<circle cx="149.5" cy="272" r="1.1" fill="#00BFC4" fill-opacity="0.8"/>
<circle cx="147.3" cy="272" r="1.1" fill="#00BFC4" fill-opacity="0.8"/>
<circle cx="148.3" cy="270.6" r="1.1" fill="#00BFC4" fill-opacity="0.8"/>
<circle cx="147.7" cy="271.8" r="1.1" fill="#00BFC4" fill-opacity="0.8"/>
<circle cx="145.5" cy="270.4" r="1.1" fill="#00BFC4" fill-opacity="0.8"/>
<circle cx="147.7" cy="271" r="1.1" fill="#00BFC4" fill-opacity="0.8"/>
<circle cx="148.5" cy="271.7" r="1.1" fill="#00BFC4" fill-opacity="0.8"/>
<circle cx="148.3" cy="271" r="1.1" fill="#00BFC4" fill-opacity="0.8"/>
<circle cx="149.7" cy="270.6" r="1.1" fill="#00BFC4" fill-opacity="0.8"/>
<circle cx="149.7" cy="270.2" r="1.1" fill="#00BFC4" fill-opacity="0.8"/>
<circle cx="147" cy="270.6" r="1.1" fill="#00BFC4" fill-opacity="0.8"/>
<rect x="145" y="270.2" width="5.2" height="1.9" fill="#10c0b0" fill-opacity="0.7"/>
<circle cx="166" cy="271.3" r="1.1" fill="#00BFC4" fill-opacity="0.8"/>
<circle cx="168.3" cy="271.4" r="1.1" fill="#00BFC4" fill-opacity="0.8"/>
<circle cx="167.4" cy="270.8" r="1.1" fill="#00BFC4" fill-opacity="0.8"/>
<circle cx="169.8" cy="271.7" r="1.1" fill="#00BFC4" fill-opacity="0.8"/>
<circle cx="169.4" cy="271.7" r="1.1" fill="#00BFC4" fill-opacity="0.8"/>
<circle cx="169.9" cy="271.6" r="1.1" fill="#00BFC4" fill-opacity="0.8"/>
<circle cx="168.3" cy="270.7" r="1.1" fill="#00BFC4" fill-opacity="0.8"/>
<circle cx="165.1" cy="270.8" r="1.1" fill="#00BFC4" fill-opacity="0.8"/>
<circle cx="166.7" cy="270.7" r="1.1" fill="#00BFC4" fill-opacity="0.8"/>
<circle cx="167.8" cy="270.3" r="1.1" fill="#00BFC4" fill-opacity="0.8"/>
<circle cx="166.7" cy="270.8" r="1.1" fill="#00BFC4" fill-opacity="0.8"/>
<circle cx="167.7" cy="270" r="1.1" fill="#00BFC4" fill-opacity="0.8"/>
<circle cx="169.2" cy="269.9" r="1.1" fill="#00BFC4" fill-opacity="0.8"/>
<circle cx="167.4" cy="270.3" r="1.1" fill="#00BFC4" fill-opacity="0.8"/>
<rect x="164.9" y="270.2" width="5.2" height="1.9" fill="#10c0b0" fill-opacity="0.7"/>
<circle cx="171.9" cy="271.2" r="1.1" fill="#00BFC4" fill-opacity="0.8"/>
<circle cx="172.1" cy="271.2" r="1.1" fill="#00BFC4" fill-opacity="0.8"/>
<circle cx="173.1" cy="271" r="1.1" fill="#00BFC4" fill-opacity="0.8"/>
<circle cx="175.1" cy="272.1" r="1.1" fill="#00BFC4" fill-opacity="0.8"/>
<circle cx="174.5" cy="271.8" r="1.1" fill="#00BFC4" fill-opacity="0.8"/>
<circle cx="173.5" cy="270.2" r="1.1" fill="#00BFC4" fill-opacity="0.8"/>
<circle cx="174.6" cy="271.1" r="1.1" fill="#00BFC4" fill-opacity="0.8"/>
<circle cx="175.9" cy="270.3" r="1.1" fill="#00BFC4" fill-opacity="0.8"/>
<circle cx="172.1" cy="271.1" r="1.1" fill="#00BFC4" fill-opacity="0.8"/>
<circle cx="173.5" cy="272" r="1.1" fill="#00BFC4" fill-opacity="0.8"/>
<circle cx="175.7" cy="271.4" r="1.1" fill="#00BFC4" fill-opacity="0.8"/>
<circle cx="172" cy="271.5" r="1.1" fill="#00BFC4" fill-opacity="0.8"/>
<circle cx="175.5" cy="271.6" r="1.1" fill="#00BFC4" fill-opacity="0.8"/>
<circle cx="174.1" cy="271" r="1.1" fill="#00BFC4" fill-opacity="0.8"/>
<rect x="171.5" y="270.2" width="5.2" height="1.9" fill="#10c0b0" fill-opacity="0.7"/>
<circle cx="180.8" cy="270.4" r="1.1" fill="#00BFC4" fill-opacity="0.8"/>
<circle cx="181.6" cy="270.7" r="1.1" fill="#00BFC4" fill-opacity="0.8"/>
<circle cx="179.6" cy="270.7" r="1.1" fill="#00BFC4" fill-opacity="0.8"/>
<circle cx="179.8" cy="270.6" r="1.1" fill="#00BFC4" fill-opacity="0.8"/>
<circle cx="181.7" cy="270" r="1.1" fill="#00BFC4" fill-opacity="0.8"/>
<circle cx="178.5" cy="270.3" r="1.1" fill="#00BFC4" fill-opacity="0.8"/>
<circle cx="182.2" cy="271.4" r="1.1" fill="#00BFC4" fill-opacity="0.8"/>
<circle cx="181.2" cy="270.2" r="1.1" fill="#00BFC4" fill-opacity="0.8"/>
<circle cx="181.9" cy="270" r="1.1" fill="#00BFC4" fill-opacity="0.8"/>
<circle cx="180" cy="270.2" r="1.1" fill="#00BFC4" fill-opacity="0.8"/>
<circle cx="182.4" cy="271.5" r="1.1" fill="#00BFC4" fill-opacity="0.8"/>
<circle cx="180.7" cy="271.1" r="1.1" fill="#00BFC4" fill-opacity="0.8"/>
<circle cx="178.4" cy="271.9" r="1.1" fill="#00BFC4" fill-opacity="0.8"/>
<circle cx="182.1" cy="270.2" r="1.1" fill="#00BFC4" fill-opacity="0.8"/>
<rect x="178.1" y="270.2" width="5.2" height="1.9" fill="#10c0b0" fill-opacity="0.7"/>
<circle cx="186" cy="270.8" r="1.1" fill="#00BFC4" fill-opacity="0.8"/>
<circle cx="189.1" cy="271.9" r="1.1" fill="#00BFC4" fill-opacity="0.8"/>
<circle cx="186.3" cy="270.3" r="1.1" fill="#00BFC4" fill-opacity="0.8"/>
<circle cx="187.9" cy="270" r="1.1" fill="#00BFC4" fill-opacity="0.8"/>
<circle cx="188" cy="270.4" r="1.1" fill="#00BFC4" fill-opacity="0.8"/>
<circle cx="188" cy="270.3" r="1.1" fill="#00BFC4" fill-opacity="0.8"/>
<circle cx="186.2" cy="271.7" r="1.1" fill="#00BFC4" fill-opacity="0.8"/>
<circle cx="189.3" cy="271.6" r="1.1" fill="#00BFC4" fill-opacity="0.8"/>
<circle cx="189" cy="271.6" r="1.1" fill="#00BFC4" fill-opacity="0.8"/>
<circle cx="186.2" cy="271.9" r="1.1" fill="#00BFC4" fill-opacity="0.8"/>
<circle cx="185.7" cy="269.9" r="1.1" fill="#00BFC4" fill-opacity="0.8"/>
<circle cx="186.4" cy="269.9" r="1.1" fill="#00BFC4" fill-opacity="0.8"/>
<circle cx="185.2" cy="271.2" r="1.1" fill="#00BFC4" fill-opacity="0.8"/>
<circle cx="187.9" cy="270" r="1.1" fill="#00BFC4" fill-opacity="0.8"/>
<rect x="184.7" y="270.2" width="5.2" height="1.9" fill="#10c0b0" fill-opacity="0.7"/>
<circle cx="199.2" cy="271.2" r="1.1" fill="#00BFC4" fill-opacity="0.8"/>
<circle cx="200.4" cy="271.4" r="1.1" fill="#00BFC4" fill-opacity="0.8"/>
<circle cx="198.5" cy="271.2" r="1.1" fill="#00BFC4" fill-opacity="0.8"/>
<circle cx="201.3" cy="271" r="1.1" fill="#00BFC4" fill-opacity="0.8"/>
<circle cx="200.7" cy="271.7" r="1.1" fill="#00BFC4" fill-opacity="0.8"/>
<circle cx="199.4" cy="271" r="1.1" fill="#00BFC4" fill-opacity="0.8"/>
<circle cx="198.7" cy="271.4" r="1.1" fill="#00BFC4" fill-opacity="0.8"/>
<circle cx="202.4" cy="270.1" r="1.1" fill="#00BFC4" fill-opacity="0.8"/>
<circle cx="202.5" cy="271.1" r="1.1" fill="#00BFC4" fill-opacity="0.8"/>
<circle cx="202.6" cy="270.9" r="1.1" fill="#00BFC4" fill-opacity="0.8"/>
<circle cx="198.6" cy="271" r="1.1" fill="#00BFC4" fill-opacity="0.8"/>
<circle cx="202.8" cy="271.4" r="1.1" fill="#00BFC4" fill-opacity="0.8"/>
<circle cx="199.8" cy="271.9" r="1.1" fill="#00BFC4" fill-opacity="0.8"/>
<circle cx="200" cy="271.8" r="1.1" fill="#00BFC4" fill-opacity="0.8"/>
<rect x="198" y="270.2" width="5.2" height="1.9" fill="#10c0b0" fill-opacity="0.7"/>
<circle cx="209.4" cy="271" r="1.1" fill="#00BFC4" fill-opacity="0.8"/>
<circle cx="206.1" cy="271.4" r="1.1" fill="#00BFC4" fill-opacity="0.8"/>
<circle cx="207.5" cy="271.7" r="1.1" fill="#00BFC4" fill-opacity="0.8"/>
<circle cx="208.5" cy="271.4" r="1.1" fill="#00BFC4" fill-opacity="0.8"/>
<circle cx="207" cy="270" r="1.1" fill="#00BFC4" fill-opacity="0.8"/>
<circle cx="207" cy="271.3" r="1.1" fill="#00BFC4" fill-opacity="0.8"/>
<circle cx="208.5" cy="270" r="1.1" fill="#00BFC4" fill-opacity="0.8"/>
<circle cx="208.1" cy="271" r="1.1" fill="#00BFC4" fill-opacity="0.8"/>
<circle cx="209.2" cy="271.6" r="1.1" fill="#00BFC4" fill-opacity="0.8"/>
<circle cx="209.4" cy="270.6" r="1.1" fill="#00BFC4" fill-opacity="0.8"/>
<circle cx="205.6" cy="271.7" r="1.1" fill="#00BFC4" fill-opacity="0.8"/>
<circle cx="205.7" cy="271.4" r="1.1" fill="#00BFC4" fill-opacity="0.8"/>
<circle cx="208.2" cy="270.5" r="1.1" fill="#00BFC4" fill-opacity="0.8"/>
<circle cx="207.6" cy="271.2" r="1.1" fill="#00BFC4" fill-opacity="0.8"/>
<rect x="204.6" y="270.2" width="5.2" height="1.9" fill="#10c0b0" fill-opacity="0.7"/>
<circle cx="219" cy="271.9" r="1.1" fill="#00BFC4" fill-opacity="0.8"/>
<circle cx="220.5" cy="270.6" r="1.1" fill="#00BFC4" fill-opacity="0.8"/>
<circle cx="221.6" cy="271.6" r="1.1" fill="#00BFC4" fill-opacity="0.8"/>
<circle cx="218.5" cy="271.5" r="1.1" fill="#00BFC4" fill-opacity="0.8"/>
<circle cx="218.5" cy="271.7" r="1.1" fill="#00BFC4" fill-opacity="0.8"/>
<circle cx="220.8" cy="270.6" r="1.1" fill="#00BFC4" fill-opacity="0.8"/>
<circle cx="219.3" cy="270" r="1.1" fill="#00BFC4" fill-opacity="0.8"/>
<circle cx="218.4" cy="271.5" r="1.1" fill="#00BFC4" fill-opacity="0.8"/>
<circle cx="222.3" cy="270.6" r="1.1" fill="#00BFC4" fill-opacity="0.8"/>
<circle cx="220.5" cy="271.3" r="1.1" fill="#00BFC4" fill-opacity="0.8"/>
<circle cx="221.4" cy="270.9" r="1.1" fill="#00BFC4" fill-opacity="0.8"/>
<circle cx="218.9" cy="270.8" r="1.1" fill="#00BFC4" fill-opacity="0.8"/>
<circle cx="222.7" cy="270.1" r="1.1" fill="#00BFC4" fill-opacity="0.8"/>
<circle cx="219.1" cy="271.6" r="1.1" fill="#00BFC4" fill-opacity="0.8"/>
<rect x="217.8" y="270.2" width="5.2" height="1.9" fill="#10c0b0" fill-opacity="0.7"/>
<circle cx="225.2" cy="270.8" r="1.1" fill="#00BFC4" fill-opacity="0.8"/>
<circle cx="228.2" cy="270" r="1.1" fill="#00BFC4" fill-opacity="0.8"/>
<circle cx="227.9" cy="271.2" r="1.1" fill="#00BFC4" fill-opacity="0.8"/>
<circle cx="229.4" cy="272" r="1.1" fill="#00BFC4" fill-opacity="0.8"/>
<circle cx="227.5" cy="270.6" r="1.1" fill="#00BFC4" fill-opacity="0.8"/>
<circle cx="226.7" cy="270.3" r="1.1" fill="#00BFC4" fill-opacity="0.8"/>
<circle cx="228.9" cy="271" r="1.1" fill="#00BFC4" fill-opacity="0.8"/>
<circle cx="226.7" cy="270.2" r="1.1" fill="#00BFC4" fill-opacity="0.8"/>
<circle cx="224.7" cy="272" r="1.1" fill="#00BFC4" fill-opacity="0.8"/>
<circle cx="224.9" cy="271.2" r="1.1" fill="#00BFC4" fill-opacity="0.8"/>
<circle cx="227.2" cy="271.2" r="1.1" fill="#00BFC4" fill-opacity="0.8"/>
<circle cx="226.4" cy="271.3" r="1.1" fill="#00BFC4" fill-opacity="0.8"/>
<circle cx="225.3" cy="270.1" r="1.1" fill="#00BFC4" fill-opacity="0.8"/>
<circle cx="226.4" cy="270.9" r="1.1" fill="#00BFC4" fill-opacity="0.8"/>
<rect x="224.4" y="270.2" width="5.2" height="1.9" fill="#10c0b0" fill-opacity="0.7"/>
<circle cx="232" cy="271.7" r="1.1" fill="#00BFC4" fill-opacity="0.8"/>
<circle cx="231.8" cy="270.4" r="1.1" fill="#00BFC4" fill-opacity="0.8"/>
<circle cx="231.8" cy="271.4" r="1.1" fill="#00BFC4" fill-opacity="0.8"/>
<circle cx="234" cy="271.9" r="1.1" fill="#00BFC4" fill-opacity="0.8"/>
<circle cx="233.6" cy="271.1" r="1.1" fill="#00BFC4" fill-opacity="0.8"/>
<circle cx="234.8" cy="270.5" r="1.1" fill="#00BFC4" fill-opacity="0.8"/>
<circle cx="232.4" cy="271.8" r="1.1" fill="#00BFC4" fill-opacity="0.8"/>
<circle cx="235.7" cy="272.1" r="1.1" fill="#00BFC4" fill-opacity="0.8"/>
<circle cx="235.5" cy="271.3" r="1.1" fill="#00BFC4" fill-opacity="0.8"/>
<circle cx="234.9" cy="270.3" r="1.1" fill="#00BFC4" fill-opacity="0.8"/>
<circle cx="234.1" cy="271.1" r="1.1" fill="#00BFC4" fill-opacity="0.8"/>
<circle cx="233.5" cy="272" r="1.1" fill="#00BFC4" fill-opacity="0.8"/>
<circle cx="235.9" cy="269.9" r="1.1" fill="#00BFC4" fill-opacity="0.8"/>
<circle cx="231.5" cy="269.9" r="1.1" fill="#00BFC4" fill-opacity="0.8"/>
<rect x="231" y="270.2" width="5.2" height="1.9" fill="#10c0b0" fill-opacity="0.7"/>
<circle cx="48.9" cy="257.5" r="1" fill="#00BFC4" fill-opacity="0.6"/>
<circle cx="47.8" cy="260.2" r="1" fill="#00BFC4" fill-opacity="0.6"/>
<circle cx="47.4" cy="264" r="1" fill="#00BFC4" fill-opacity="0.6"/>
<circle cx="49.2" cy="266.7" r="1" fill="#00BFC4" fill-opacity="0.6"/>
<circle cx="49.9" cy="268.3" r="1" fill="#00BFC4" fill-opacity="0.6"/>
<circle cx="46.9" cy="267.7" r="1" fill="#00BFC4" fill-opacity="0.6"/>
<circle cx="53.5" cy="268.8" r="1" fill="#3cb371" fill-opacity="0.7"/>
<circle cx="55" cy="268.3" r="1" fill="#3cb371" fill-opacity="0.7"/>
<circle cx="56.5" cy="268.6" r="1" fill="#3cb371" fill-opacity="0.7"/>
<circle cx="57.2" cy="269.1" r="1" fill="#3cb371" fill-opacity="0.7"/>
<rect x="258.5" y="269.6" width="5.6" height="3.5" rx="1.5" fill="#F8766D" fill-opacity="0.9"/>
<circle cx="259.9" cy="272" r="1" fill="#F8766D" fill-opacity="0.7"/>
<circle cx="263.5" cy="271.4" r="1" fill="#F8766D" fill-opacity="0.7"/>
<circle cx="260.1" cy="269.6" r="1" fill="#F8766D" fill-opacity="0.7"/>
<circle cx="262.6" cy="271" r="1" fill="#F8766D" fill-opacity="0.7"/>
<circle cx="259.1" cy="269.6" r="1" fill="#F8766D" fill-opacity="0.7"/>
<circle cx="259.1" cy="269.5" r="1" fill="#F8766D" fill-opacity="0.7"/>
<rect x="265.1" y="269.6" width="5.6" height="3.5" rx="1.5" fill="#F8766D" fill-opacity="0.9"/>
<circle cx="267.6" cy="269.8" r="1" fill="#F8766D" fill-opacity="0.7"/>
<circle cx="266.2" cy="270.7" r="1" fill="#F8766D" fill-opacity="0.7"/>
<circle cx="270.2" cy="271.7" r="1" fill="#F8766D" fill-opacity="0.7"/>
<circle cx="268" cy="269.1" r="1" fill="#F8766D" fill-opacity="0.7"/>
<circle cx="268.4" cy="270.5" r="1" fill="#F8766D" fill-opacity="0.7"/>
<circle cx="270.5" cy="269.7" r="1" fill="#F8766D" fill-opacity="0.7"/>
<rect x="271.7" y="269.6" width="5.6" height="3.5" rx="1.5" fill="#F8766D" fill-opacity="0.9"/>
<circle cx="275.8" cy="269.4" r="1" fill="#F8766D" fill-opacity="0.7"/>
<circle cx="276" cy="271.2" r="1" fill="#F8766D" fill-opacity="0.7"/>
<circle cx="272.1" cy="271.9" r="1" fill="#F8766D" fill-opacity="0.7"/>
<circle cx="274.6" cy="269.6" r="1" fill="#F8766D" fill-opacity="0.7"/>
<circle cx="272.9" cy="270.8" r="1" fill="#F8766D" fill-opacity="0.7"/>
<circle cx="273.1" cy="271.4" r="1" fill="#F8766D" fill-opacity="0.7"/>
<rect x="278.3" y="269.6" width="5.6" height="3.5" rx="1.5" fill="#F8766D" fill-opacity="0.9"/>
<circle cx="279.9" cy="270.6" r="1" fill="#F8766D" fill-opacity="0.7"/>
<circle cx="279.8" cy="270.6" r="1" fill="#F8766D" fill-opacity="0.7"/>
<circle cx="282.2" cy="269.9" r="1" fill="#F8766D" fill-opacity="0.7"/>
<circle cx="279.1" cy="270.8" r="1" fill="#F8766D" fill-opacity="0.7"/>
<circle cx="281.3" cy="271.1" r="1" fill="#F8766D" fill-opacity="0.7"/>
<circle cx="280.4" cy="271.3" r="1" fill="#F8766D" fill-opacity="0.7"/>
<rect x="285" y="269.6" width="5.6" height="3.5" rx="1.5" fill="#F8766D" fill-opacity="0.9"/>
<circle cx="288.6" cy="271" r="1" fill="#F8766D" fill-opacity="0.7"/>
<circle cx="285.4" cy="270.7" r="1" fill="#F8766D" fill-opacity="0.7"/>
<circle cx="289.6" cy="271.9" r="1" fill="#F8766D" fill-opacity="0.7"/>
<circle cx="285.6" cy="271.9" r="1" fill="#F8766D" fill-opacity="0.7"/>
<circle cx="286.2" cy="271.2" r="1" fill="#F8766D" fill-opacity="0.7"/>
<circle cx="288.4" cy="270.8" r="1" fill="#F8766D" fill-opacity="0.7"/>
<rect x="291.6" y="269.6" width="5.6" height="3.5" rx="1.5" fill="#F8766D" fill-opacity="0.9"/>
<circle cx="295.3" cy="271.3" r="1" fill="#F8766D" fill-opacity="0.7"/>
<circle cx="292.3" cy="269.1" r="1" fill="#F8766D" fill-opacity="0.7"/>
<circle cx="294.7" cy="270.6" r="1" fill="#F8766D" fill-opacity="0.7"/>
<circle cx="292.1" cy="270.2" r="1" fill="#F8766D" fill-opacity="0.7"/>
<circle cx="296.4" cy="271.7" r="1" fill="#F8766D" fill-opacity="0.7"/>
<circle cx="292.1" cy="270.7" r="1" fill="#F8766D" fill-opacity="0.7"/>
<rect x="298.2" y="269.6" width="5.6" height="3.5" rx="1.5" fill="#F8766D" fill-opacity="0.9"/>
<circle cx="301.8" cy="272" r="1" fill="#F8766D" fill-opacity="0.7"/>
<circle cx="299.4" cy="268.9" r="1" fill="#F8766D" fill-opacity="0.7"/>
<circle cx="302.1" cy="269.5" r="1" fill="#F8766D" fill-opacity="0.7"/>
<circle cx="302.5" cy="271.8" r="1" fill="#F8766D" fill-opacity="0.7"/>
<circle cx="302.6" cy="271.3" r="1" fill="#F8766D" fill-opacity="0.7"/>
<circle cx="299.5" cy="269" r="1" fill="#F8766D" fill-opacity="0.7"/>
<rect x="304.8" y="269.6" width="5.6" height="3.5" rx="1.5" fill="#F8766D" fill-opacity="0.9"/>
<circle cx="306.4" cy="271.5" r="1" fill="#F8766D" fill-opacity="0.7"/>
<circle cx="309.3" cy="270.8" r="1" fill="#F8766D" fill-opacity="0.7"/>
<circle cx="309.3" cy="271.6" r="1" fill="#F8766D" fill-opacity="0.7"/>
<circle cx="307.3" cy="271.5" r="1" fill="#F8766D" fill-opacity="0.7"/>
<circle cx="305.7" cy="270.3" r="1" fill="#F8766D" fill-opacity="0.7"/>
<circle cx="307.2" cy="271.3" r="1" fill="#F8766D" fill-opacity="0.7"/>
<rect x="311.4" y="269.6" width="5.6" height="3.5" rx="1.5" fill="#F8766D" fill-opacity="0.9"/>
<circle cx="316.3" cy="269.9" r="1" fill="#F8766D" fill-opacity="0.7"/>
<circle cx="313" cy="271.7" r="1" fill="#F8766D" fill-opacity="0.7"/>
<circle cx="315.8" cy="271.8" r="1" fill="#F8766D" fill-opacity="0.7"/>
<circle cx="312.8" cy="271.6" r="1" fill="#F8766D" fill-opacity="0.7"/>
<circle cx="316.2" cy="271.8" r="1" fill="#F8766D" fill-opacity="0.7"/>
<circle cx="313.2" cy="270.2" r="1" fill="#F8766D" fill-opacity="0.7"/>
<rect x="318" y="269.6" width="5.6" height="3.5" rx="1.5" fill="#F8766D" fill-opacity="0.9"/>
<circle cx="322.6" cy="269.6" r="1" fill="#F8766D" fill-opacity="0.7"/>
<circle cx="321.1" cy="269" r="1" fill="#F8766D" fill-opacity="0.7"/>
<circle cx="320.5" cy="269" r="1" fill="#F8766D" fill-opacity="0.7"/>
<circle cx="322.3" cy="269.4" r="1" fill="#F8766D" fill-opacity="0.7"/>
<circle cx="321" cy="271.1" r="1" fill="#F8766D" fill-opacity="0.7"/>
<circle cx="319.3" cy="269.7" r="1" fill="#F8766D" fill-opacity="0.7"/>
<rect x="324.7" y="269.6" width="5.6" height="3.5" rx="1.5" fill="#F8766D" fill-opacity="0.9"/>
<circle cx="325.5" cy="270.9" r="1" fill="#F8766D" fill-opacity="0.7"/>
<circle cx="327.8" cy="268.9" r="1" fill="#F8766D" fill-opacity="0.7"/>
<circle cx="328.1" cy="269.9" r="1" fill="#F8766D" fill-opacity="0.7"/>
<circle cx="325.5" cy="272" r="1" fill="#F8766D" fill-opacity="0.7"/>
<circle cx="327.1" cy="270.1" r="1" fill="#F8766D" fill-opacity="0.7"/>
<circle cx="325.1" cy="271.1" r="1" fill="#F8766D" fill-opacity="0.7"/>
<rect x="331.3" y="269.6" width="5.6" height="3.5" rx="1.5" fill="#F8766D" fill-opacity="0.9"/>
<circle cx="332.1" cy="270" r="1" fill="#F8766D" fill-opacity="0.7"/>
<circle cx="333.8" cy="270.9" r="1" fill="#F8766D" fill-opacity="0.7"/>
<circle cx="333.9" cy="269.8" r="1" fill="#F8766D" fill-opacity="0.7"/>
<circle cx="336" cy="270.3" r="1" fill="#F8766D" fill-opacity="0.7"/>
<circle cx="334.3" cy="271.1" r="1" fill="#F8766D" fill-opacity="0.7"/>
<circle cx="335.8" cy="272" r="1" fill="#F8766D" fill-opacity="0.7"/>
<rect x="337.9" y="269.6" width="5.6" height="3.5" rx="1.5" fill="#F8766D" fill-opacity="0.9"/>
<circle cx="339.4" cy="271" r="1" fill="#F8766D" fill-opacity="0.7"/>
<circle cx="341.6" cy="269.7" r="1" fill="#F8766D" fill-opacity="0.7"/>
<circle cx="342.6" cy="269.8" r="1" fill="#F8766D" fill-opacity="0.7"/>
<circle cx="340.4" cy="271.8" r="1" fill="#F8766D" fill-opacity="0.7"/>
<circle cx="340" cy="270" r="1" fill="#F8766D" fill-opacity="0.7"/>
<circle cx="342.4" cy="268.9" r="1" fill="#F8766D" fill-opacity="0.7"/>
<rect x="344.5" y="269.6" width="5.6" height="3.5" rx="1.5" fill="#F8766D" fill-opacity="0.9"/>
<circle cx="346.9" cy="269.7" r="1" fill="#F8766D" fill-opacity="0.7"/>
<circle cx="346" cy="270.9" r="1" fill="#F8766D" fill-opacity="0.7"/>
<circle cx="344.8" cy="270.3" r="1" fill="#F8766D" fill-opacity="0.7"/>
<circle cx="346.5" cy="270.7" r="1" fill="#F8766D" fill-opacity="0.7"/>
<circle cx="347" cy="270.1" r="1" fill="#F8766D" fill-opacity="0.7"/>
<circle cx="349.3" cy="269.3" r="1" fill="#F8766D" fill-opacity="0.7"/>
<rect x="351.1" y="269.6" width="5.6" height="3.5" rx="1.5" fill="#F8766D" fill-opacity="0.9"/>
<circle cx="352.9" cy="269.5" r="1" fill="#F8766D" fill-opacity="0.7"/>
<circle cx="353.1" cy="270.5" r="1" fill="#F8766D" fill-opacity="0.7"/>
<circle cx="355.1" cy="269.7" r="1" fill="#F8766D" fill-opacity="0.7"/>
<circle cx="352.3" cy="271.7" r="1" fill="#F8766D" fill-opacity="0.7"/>
<circle cx="352.3" cy="269.2" r="1" fill="#F8766D" fill-opacity="0.7"/>
<circle cx="351.5" cy="271.7" r="1" fill="#F8766D" fill-opacity="0.7"/>
<rect x="357.7" y="269.6" width="5.6" height="3.5" rx="1.5" fill="#F8766D" fill-opacity="0.9"/>
<circle cx="359.7" cy="270.7" r="1" fill="#F8766D" fill-opacity="0.7"/>
<circle cx="362.9" cy="271.1" r="1" fill="#F8766D" fill-opacity="0.7"/>
<circle cx="358.7" cy="271.6" r="1" fill="#F8766D" fill-opacity="0.7"/>
<circle cx="361.3" cy="269.8" r="1" fill="#F8766D" fill-opacity="0.7"/>
<circle cx="359.8" cy="271.9" r="1" fill="#F8766D" fill-opacity="0.7"/>
<circle cx="361.4" cy="271.3" r="1" fill="#F8766D" fill-opacity="0.7"/>
<rect x="364.3" y="269.6" width="5.6" height="3.5" rx="1.5" fill="#F8766D" fill-opacity="0.9"/>
<circle cx="364.7" cy="271.5" r="1" fill="#F8766D" fill-opacity="0.7"/>
<circle cx="364.8" cy="270.7" r="1" fill="#F8766D" fill-opacity="0.7"/>
<circle cx="365.3" cy="269.5" r="1" fill="#F8766D" fill-opacity="0.7"/>
<circle cx="367.2" cy="271.7" r="1" fill="#F8766D" fill-opacity="0.7"/>
<circle cx="366" cy="270.4" r="1" fill="#F8766D" fill-opacity="0.7"/>
<circle cx="369.7" cy="268.9" r="1" fill="#F8766D" fill-opacity="0.7"/>
<rect x="371" y="269.6" width="5.6" height="3.5" rx="1.5" fill="#F8766D" fill-opacity="0.9"/>
<circle cx="376.3" cy="270.8" r="1" fill="#F8766D" fill-opacity="0.7"/>
<circle cx="372.1" cy="269.5" r="1" fill="#F8766D" fill-opacity="0.7"/>
<circle cx="375" cy="271.7" r="1" fill="#F8766D" fill-opacity="0.7"/>
<circle cx="372.8" cy="271.7" r="1" fill="#F8766D" fill-opacity="0.7"/>
<circle cx="371.3" cy="269.8" r="1" fill="#F8766D" fill-opacity="0.7"/>
<circle cx="372.2" cy="270.2" r="1" fill="#F8766D" fill-opacity="0.7"/>
<rect x="377.6" y="269.6" width="5.6" height="3.5" rx="1.5" fill="#F8766D" fill-opacity="0.9"/>
<circle cx="380.7" cy="271.3" r="1" fill="#F8766D" fill-opacity="0.7"/>
<circle cx="378.3" cy="269.8" r="1" fill="#F8766D" fill-opacity="0.7"/>
<circle cx="382.2" cy="271.3" r="1" fill="#F8766D" fill-opacity="0.7"/>
<circle cx="380.2" cy="269.6" r="1" fill="#F8766D" fill-opacity="0.7"/>
<circle cx="382.4" cy="271.7" r="1" fill="#F8766D" fill-opacity="0.7"/>
<circle cx="380.7" cy="270.4" r="1" fill="#F8766D" fill-opacity="0.7"/>
<rect x="384.2" y="269.6" width="5.6" height="3.5" rx="1.5" fill="#F8766D" fill-opacity="0.9"/>
<circle cx="388.8" cy="271.8" r="1" fill="#F8766D" fill-opacity="0.7"/>
<circle cx="386.8" cy="271.3" r="1" fill="#F8766D" fill-opacity="0.7"/>
<circle cx="386.7" cy="268.9" r="1" fill="#F8766D" fill-opacity="0.7"/>
<circle cx="389.1" cy="272" r="1" fill="#F8766D" fill-opacity="0.7"/>
<circle cx="385.6" cy="271" r="1" fill="#F8766D" fill-opacity="0.7"/>
<circle cx="386.5" cy="270" r="1" fill="#F8766D" fill-opacity="0.7"/>
<rect x="390.8" y="269.6" width="5.6" height="3.5" rx="1.5" fill="#F8766D" fill-opacity="0.9"/>
<circle cx="393.2" cy="271" r="1" fill="#F8766D" fill-opacity="0.7"/>
<circle cx="392.3" cy="270" r="1" fill="#F8766D" fill-opacity="0.7"/>
<circle cx="393.7" cy="270.3" r="1" fill="#F8766D" fill-opacity="0.7"/>
<circle cx="392.6" cy="270.6" r="1" fill="#F8766D" fill-opacity="0.7"/>
<circle cx="394.7" cy="270.6" r="1" fill="#F8766D" fill-opacity="0.7"/>
<circle cx="391.1" cy="269.9" r="1" fill="#F8766D" fill-opacity="0.7"/>
<rect x="397.4" y="269.6" width="5.6" height="3.5" rx="1.5" fill="#F8766D" fill-opacity="0.9"/>
<circle cx="400" cy="270.1" r="1" fill="#F8766D" fill-opacity="0.7"/>
<circle cx="398.5" cy="270.1" r="1" fill="#F8766D" fill-opacity="0.7"/>
<circle cx="400.1" cy="269" r="1" fill="#F8766D" fill-opacity="0.7"/>
<circle cx="398.4" cy="269" r="1" fill="#F8766D" fill-opacity="0.7"/>
<circle cx="402.7" cy="269.6" r="1" fill="#F8766D" fill-opacity="0.7"/>
<circle cx="401.5" cy="269" r="1" fill="#F8766D" fill-opacity="0.7"/>
<rect x="404" y="269.6" width="5.6" height="3.5" rx="1.5" fill="#F8766D" fill-opacity="0.9"/>
<circle cx="408.8" cy="271.1" r="1" fill="#F8766D" fill-opacity="0.7"/>
<circle cx="408.8" cy="269.8" r="1" fill="#F8766D" fill-opacity="0.7"/>
<circle cx="404.6" cy="269.1" r="1" fill="#F8766D" fill-opacity="0.7"/>
<circle cx="405.2" cy="272.1" r="1" fill="#F8766D" fill-opacity="0.7"/>
<circle cx="406.4" cy="270.6" r="1" fill="#F8766D" fill-opacity="0.7"/>
<circle cx="409" cy="270.9" r="1" fill="#F8766D" fill-opacity="0.7"/>
<rect x="410.6" y="269.6" width="5.6" height="3.5" rx="1.5" fill="#F8766D" fill-opacity="0.9"/>
<circle cx="412.8" cy="269.8" r="1" fill="#F8766D" fill-opacity="0.7"/>
<circle cx="411.4" cy="270.4" r="1" fill="#F8766D" fill-opacity="0.7"/>
<circle cx="411.4" cy="271.1" r="1" fill="#F8766D" fill-opacity="0.7"/>
<circle cx="413.7" cy="271.4" r="1" fill="#F8766D" fill-opacity="0.7"/>
<circle cx="412.9" cy="269.3" r="1" fill="#F8766D" fill-opacity="0.7"/>
<circle cx="414" cy="270.3" r="1" fill="#F8766D" fill-opacity="0.7"/>
<rect x="417.3" y="269.6" width="5.6" height="3.5" rx="1.5" fill="#F8766D" fill-opacity="0.9"/>
<circle cx="418.9" cy="269.6" r="1" fill="#F8766D" fill-opacity="0.7"/>
<circle cx="420.7" cy="269.8" r="1" fill="#F8766D" fill-opacity="0.7"/>
<circle cx="421.8" cy="270.9" r="1" fill="#F8766D" fill-opacity="0.7"/>
<circle cx="422.6" cy="270" r="1" fill="#F8766D" fill-opacity="0.7"/>
<circle cx="418.2" cy="269.9" r="1" fill="#F8766D" fill-opacity="0.7"/>
<circle cx="418.1" cy="271.6" r="1" fill="#F8766D" fill-opacity="0.7"/>
<rect x="423.9" y="269.6" width="5.6" height="3.5" rx="1.5" fill="#F8766D" fill-opacity="0.9"/>
<circle cx="424.2" cy="269.2" r="1" fill="#F8766D" fill-opacity="0.7"/>
<circle cx="425.2" cy="272.1" r="1" fill="#F8766D" fill-opacity="0.7"/>
<circle cx="429.3" cy="271.4" r="1" fill="#F8766D" fill-opacity="0.7"/>
<circle cx="426.8" cy="270.9" r="1" fill="#F8766D" fill-opacity="0.7"/>
<circle cx="425.4" cy="271.5" r="1" fill="#F8766D" fill-opacity="0.7"/>
<circle cx="427.7" cy="271.5" r="1" fill="#F8766D" fill-opacity="0.7"/>
<rect x="430.5" y="269.6" width="5.6" height="3.5" rx="1.5" fill="#F8766D" fill-opacity="0.9"/>
<circle cx="435.5" cy="269.4" r="1" fill="#F8766D" fill-opacity="0.7"/>
<circle cx="431" cy="270.9" r="1" fill="#F8766D" fill-opacity="0.7"/>
<circle cx="435.3" cy="271" r="1" fill="#F8766D" fill-opacity="0.7"/>
<circle cx="432.8" cy="271.9" r="1" fill="#F8766D" fill-opacity="0.7"/>
<circle cx="433.5" cy="269.5" r="1" fill="#F8766D" fill-opacity="0.7"/>
<circle cx="433.5" cy="271.9" r="1" fill="#F8766D" fill-opacity="0.7"/>
<rect x="437.1" y="269.6" width="5.6" height="3.5" rx="1.5" fill="#F8766D" fill-opacity="0.9"/>
<circle cx="438.2" cy="271.5" r="1" fill="#F8766D" fill-opacity="0.7"/>
<circle cx="441.5" cy="270.4" r="1" fill="#F8766D" fill-opacity="0.7"/>
<circle cx="441" cy="269.6" r="1" fill="#F8766D" fill-opacity="0.7"/>
<circle cx="440.7" cy="269.3" r="1" fill="#F8766D" fill-opacity="0.7"/>
<circle cx="438.8" cy="270.3" r="1" fill="#F8766D" fill-opacity="0.7"/>
<circle cx="441" cy="269.7" r="1" fill="#F8766D" fill-opacity="0.7"/>
<rect x="443.7" y="269.6" width="5.6" height="3.5" rx="1.5" fill="#F8766D" fill-opacity="0.9"/>
<circle cx="444.5" cy="271.2" r="1" fill="#F8766D" fill-opacity="0.7"/>
<circle cx="445.5" cy="271.4" r="1" fill="#F8766D" fill-opacity="0.7"/>
<circle cx="449" cy="269.5" r="1" fill="#F8766D" fill-opacity="0.7"/>
<circle cx="448.8" cy="269.4" r="1" fill="#F8766D" fill-opacity="0.7"/>
<circle cx="447.4" cy="269.7" r="1" fill="#F8766D" fill-opacity="0.7"/>
<circle cx="445.6" cy="271.7" r="1" fill="#F8766D" fill-opacity="0.7"/>
<rect x="450.3" y="269.6" width="5.6" height="3.5" rx="1.5" fill="#F8766D" fill-opacity="0.9"/>
<circle cx="455" cy="270.5" r="1" fill="#F8766D" fill-opacity="0.7"/>
<circle cx="453.4" cy="271.5" r="1" fill="#F8766D" fill-opacity="0.7"/>
<circle cx="450.8" cy="269" r="1" fill="#F8766D" fill-opacity="0.7"/>
<circle cx="451" cy="270" r="1" fill="#F8766D" fill-opacity="0.7"/>
<circle cx="453.6" cy="269.8" r="1" fill="#F8766D" fill-opacity="0.7"/>
<circle cx="453.2" cy="271.6" r="1" fill="#F8766D" fill-opacity="0.7"/>
<rect x="456.9" y="269.6" width="5.6" height="3.5" rx="1.5" fill="#F8766D" fill-opacity="0.9"/>
<circle cx="461.3" cy="271.8" r="1" fill="#F8766D" fill-opacity="0.7"/>
<circle cx="461.9" cy="269" r="1" fill="#F8766D" fill-opacity="0.7"/>
<circle cx="457.3" cy="270.1" r="1" fill="#F8766D" fill-opacity="0.7"/>
<circle cx="458.3" cy="271.8" r="1" fill="#F8766D" fill-opacity="0.7"/>
<circle cx="461.4" cy="270.6" r="1" fill="#F8766D" fill-opacity="0.7"/>
<circle cx="458.4" cy="271.5" r="1" fill="#F8766D" fill-opacity="0.7"/>
<rect x="463.6" y="269.6" width="5.6" height="3.5" rx="1.5" fill="#F8766D" fill-opacity="0.9"/>
<circle cx="465.4" cy="270" r="1" fill="#F8766D" fill-opacity="0.7"/>
<circle cx="466.9" cy="271.6" r="1" fill="#F8766D" fill-opacity="0.7"/>
<circle cx="465.7" cy="269.1" r="1" fill="#F8766D" fill-opacity="0.7"/>
<circle cx="463.9" cy="269.7" r="1" fill="#F8766D" fill-opacity="0.7"/>
<circle cx="464" cy="269.8" r="1" fill="#F8766D" fill-opacity="0.7"/>
<circle cx="467.3" cy="271.1" r="1" fill="#F8766D" fill-opacity="0.7"/>
<circle cx="266.1" cy="246.2" r="0.9" fill="#F8766D" fill-opacity="0.75"/>
<circle cx="270.7" cy="253.1" r="0.9" fill="#F8766D" fill-opacity="0.75"/>
<circle cx="265.3" cy="249.5" r="0.9" fill="#F8766D" fill-opacity="0.75"/>
<circle cx="270.6" cy="239.8" r="0.9" fill="#F8766D" fill-opacity="0.75"/>
<circle cx="268.5" cy="235.4" r="0.9" fill="#F8766D" fill-opacity="0.75"/>
<circle cx="268.2" cy="237.9" r="0.9" fill="#F8766D" fill-opacity="0.75"/>
<circle cx="269.9" cy="228" r="0.9" fill="#F8766D" fill-opacity="0.75"/>
<circle cx="266.5" cy="259.3" r="0.9" fill="#F8766D" fill-opacity="0.75"/>
<circle cx="265.7" cy="254.6" r="0.9" fill="#F8766D" fill-opacity="0.75"/>
<circle cx="265.5" cy="247.7" r="0.9" fill="#F8766D" fill-opacity="0.75"/>
<circle cx="267.7" cy="228.4" r="0.9" fill="#F8766D" fill-opacity="0.75"/>
<circle cx="268.7" cy="235.3" r="0.9" fill="#F8766D" fill-opacity="0.75"/>
<circle cx="269.2" cy="228.2" r="0.9" fill="#F8766D" fill-opacity="0.75"/>
<circle cx="267.9" cy="243.9" r="0.9" fill="#F8766D" fill-opacity="0.75"/>
<circle cx="265.9" cy="247.7" r="0.9" fill="#F8766D" fill-opacity="0.75"/>
<circle cx="266" cy="236.8" r="0.9" fill="#F8766D" fill-opacity="0.75"/>
<circle cx="270.6" cy="259.5" r="0.9" fill="#F8766D" fill-opacity="0.75"/>
<circle cx="268.3" cy="241.4" r="0.9" fill="#F8766D" fill-opacity="0.75"/>
<circle cx="267" cy="258.6" r="0.9" fill="#F8766D" fill-opacity="0.75"/>
<circle cx="268.5" cy="240.5" r="0.9" fill="#F8766D" fill-opacity="0.75"/>
<circle cx="269.8" cy="239.6" r="0.9" fill="#F8766D" fill-opacity="0.75"/>
<circle cx="269.7" cy="239.9" r="0.9" fill="#F8766D" fill-opacity="0.75"/>
<circle cx="268.3" cy="233.7" r="0.9" fill="#F8766D" fill-opacity="0.75"/>
<circle cx="265.9" cy="230.4" r="0.9" fill="#F8766D" fill-opacity="0.75"/>
<circle cx="270.7" cy="245.9" r="0.9" fill="#F8766D" fill-opacity="0.75"/>
<circle cx="269.9" cy="235.8" r="0.9" fill="#F8766D" fill-opacity="0.75"/>
<circle cx="270" cy="236.5" r="0.9" fill="#F8766D" fill-opacity="0.75"/>
<circle cx="270.3" cy="243.5" r="0.9" fill="#F8766D" fill-opacity="0.75"/>
<circle cx="267.5" cy="231.6" r="0.9" fill="#F8766D" fill-opacity="0.75"/>
<circle cx="269.2" cy="245.8" r="0.9" fill="#F8766D" fill-opacity="0.75"/>
<circle cx="268.4" cy="243.9" r="0.9" fill="#F8766D" fill-opacity="0.75"/>
<circle cx="267.8" cy="231.6" r="0.9" fill="#F8766D" fill-opacity="0.75"/>
<circle cx="270.1" cy="224.3" r="0.9" fill="#F8766D" fill-opacity="0.75"/>
<circle cx="268.8" cy="226.2" r="0.9" fill="#F8766D" fill-opacity="0.75"/>
<circle cx="270" cy="236.5" r="0.9" fill="#F8766D" fill-opacity="0.75"/>
<circle cx="268.5" cy="252.6" r="0.9" fill="#F8766D" fill-opacity="0.75"/>
<circle cx="267" cy="260.1" r="0.9" fill="#F8766D" fill-opacity="0.75"/>
<circle cx="270.8" cy="228" r="0.9" fill="#F8766D" fill-opacity="0.75"/>
<circle cx="266.4" cy="239.8" r="0.9" fill="#F8766D" fill-opacity="0.75"/>
<circle cx="265.3" cy="228.1" r="0.9" fill="#F8766D" fill-opacity="0.75"/>
<circle cx="266.1" cy="226.1" r="0.9" fill="#F8766D" fill-opacity="0.75"/>
<circle cx="269.9" cy="241.2" r="0.9" fill="#F8766D" fill-opacity="0.75"/>
<circle cx="264.9" cy="243.2" r="0.9" fill="#F8766D" fill-opacity="0.75"/>
<circle cx="266.4" cy="259.3" r="0.9" fill="#F8766D" fill-opacity="0.75"/>
<circle cx="269.4" cy="237.1" r="0.9" fill="#F8766D" fill-opacity="0.75"/>
<circle cx="269.4" cy="245.3" r="0.9" fill="#F8766D" fill-opacity="0.75"/>
<circle cx="265.1" cy="235.2" r="0.9" fill="#F8766D" fill-opacity="0.75"/>
<circle cx="266.8" cy="238.7" r="0.9" fill="#F8766D" fill-opacity="0.75"/>
<circle cx="268.1" cy="231.5" r="0.9" fill="#F8766D" fill-opacity="0.75"/>
<circle cx="268.6" cy="237" r="0.9" fill="#F8766D" fill-opacity="0.75"/>
<circle cx="269" cy="229.3" r="0.9" fill="#F8766D" fill-opacity="0.75"/>
<circle cx="269.5" cy="234.2" r="0.9" fill="#F8766D" fill-opacity="0.75"/>
<circle cx="270.3" cy="227.6" r="0.9" fill="#F8766D" fill-opacity="0.75"/>
<circle cx="265.2" cy="242.4" r="0.9" fill="#F8766D" fill-opacity="0.75"/>
<circle cx="270.3" cy="224.9" r="0.9" fill="#F8766D" fill-opacity="0.75"/>
<circle cx="265.6" cy="254.6" r="0.9" fill="#F8766D" fill-opacity="0.75"/>
<circle cx="267.5" cy="226" r="0.9" fill="#F8766D" fill-opacity="0.75"/>
<circle cx="267.8" cy="241.1" r="0.9" fill="#F8766D" fill-opacity="0.75"/>
<circle cx="269.8" cy="242.9" r="0.9" fill="#F8766D" fill-opacity="0.75"/>
<circle cx="268.7" cy="236.6" r="0.9" fill="#F8766D" fill-opacity="0.75"/>
<circle cx="267.3" cy="260.6" r="0.9" fill="#F8766D" fill-opacity="0.75"/>
<circle cx="267.2" cy="240.1" r="0.9" fill="#F8766D" fill-opacity="0.75"/>
<circle cx="266.3" cy="234.5" r="0.9" fill="#F8766D" fill-opacity="0.75"/>
<circle cx="265.4" cy="247.6" r="0.9" fill="#F8766D" fill-opacity="0.75"/>
<circle cx="269.7" cy="240.1" r="0.9" fill="#F8766D" fill-opacity="0.75"/>
<circle cx="265.5" cy="243.8" r="0.9" fill="#F8766D" fill-opacity="0.75"/>
<circle cx="266.7" cy="224" r="0.9" fill="#F8766D" fill-opacity="0.75"/>
<circle cx="269.1" cy="225.7" r="0.9" fill="#F8766D" fill-opacity="0.75"/>
<circle cx="269.4" cy="231.8" r="0.9" fill="#F8766D" fill-opacity="0.75"/>
<circle cx="267.7" cy="245.2" r="0.9" fill="#F8766D" fill-opacity="0.75"/>
<circle cx="265.6" cy="236.3" r="0.9" fill="#F8766D" fill-opacity="0.75"/>
<circle cx="266.1" cy="256.7" r="0.9" fill="#F8766D" fill-opacity="0.75"/>
<circle cx="267.2" cy="230.1" r="0.9" fill="#F8766D" fill-opacity="0.75"/>
<circle cx="269.9" cy="233.7" r="0.9" fill="#F8766D" fill-opacity="0.75"/>
<circle cx="266.5" cy="231.5" r="0.9" fill="#F8766D" fill-opacity="0.75"/>
<circle cx="267.3" cy="260.4" r="0.9" fill="#F8766D" fill-opacity="0.75"/>
<circle cx="268.5" cy="238.4" r="0.9" fill="#F8766D" fill-opacity="0.75"/>
<circle cx="266.6" cy="244.2" r="0.9" fill="#F8766D" fill-opacity="0.75"/>
<circle cx="265" cy="245" r="0.9" fill="#F8766D" fill-opacity="0.75"/>
<circle cx="268.9" cy="232.3" r="0.9" fill="#F8766D" fill-opacity="0.75"/>
<circle cx="267.6" cy="225.8" r="0.9" fill="#F8766D" fill-opacity="0.75"/>
<circle cx="269.7" cy="245.7" r="0.9" fill="#F8766D" fill-opacity="0.75"/>
<circle cx="269.8" cy="234.8" r="0.9" fill="#F8766D" fill-opacity="0.75"/>
<circle cx="269.7" cy="238.3" r="0.9" fill="#F8766D" fill-opacity="0.75"/>
<circle cx="267.9" cy="248.4" r="0.9" fill="#F8766D" fill-opacity="0.75"/>
<circle cx="268.2" cy="227.8" r="0.9" fill="#F8766D" fill-opacity="0.75"/>
<circle cx="266.7" cy="246.8" r="0.9" fill="#F8766D" fill-opacity="0.75"/>
<circle cx="268.4" cy="255.7" r="0.9" fill="#F8766D" fill-opacity="0.75"/>
<circle cx="268.3" cy="224.7" r="0.9" fill="#F8766D" fill-opacity="0.75"/>
<circle cx="268.9" cy="254.1" r="0.9" fill="#F8766D" fill-opacity="0.75"/>
<circle cx="265.6" cy="247.2" r="0.9" fill="#F8766D" fill-opacity="0.75"/>
<circle cx="266.2" cy="233.3" r="0.9" fill="#F8766D" fill-opacity="0.75"/>
<circle cx="269" cy="226.8" r="0.9" fill="#F8766D" fill-opacity="0.75"/>
<circle cx="265" cy="233.2" r="0.9" fill="#F8766D" fill-opacity="0.75"/>
<circle cx="268.2" cy="239.3" r="0.9" fill="#F8766D" fill-opacity="0.75"/>
<circle cx="265.5" cy="234.8" r="0.9" fill="#F8766D" fill-opacity="0.75"/>
<circle cx="267.1" cy="238.9" r="0.9" fill="#F8766D" fill-opacity="0.75"/>
<circle cx="266.7" cy="227.5" r="0.9" fill="#F8766D" fill-opacity="0.75"/>
<circle cx="270.4" cy="241.4" r="0.9" fill="#F8766D" fill-opacity="0.75"/>
<circle cx="268.5" cy="232.8" r="0.9" fill="#F8766D" fill-opacity="0.75"/>
<circle cx="267.7" cy="236.6" r="0.9" fill="#F8766D" fill-opacity="0.75"/>
<circle cx="269.7" cy="249" r="0.9" fill="#F8766D" fill-opacity="0.75"/>
<circle cx="265.7" cy="233.9" r="0.9" fill="#F8766D" fill-opacity="0.75"/>
<circle cx="266.5" cy="249" r="0.9" fill="#F8766D" fill-opacity="0.75"/>
<circle cx="269.1" cy="238.4" r="0.9" fill="#F8766D" fill-opacity="0.75"/>
<circle cx="266" cy="256.4" r="0.9" fill="#F8766D" fill-opacity="0.75"/>
<circle cx="269.7" cy="240" r="0.9" fill="#F8766D" fill-opacity="0.75"/>
<circle cx="268.1" cy="231.7" r="0.9" fill="#F8766D" fill-opacity="0.75"/>
<circle cx="270.7" cy="226.1" r="0.9" fill="#F8766D" fill-opacity="0.75"/>
<circle cx="266.1" cy="230.7" r="0.9" fill="#F8766D" fill-opacity="0.75"/>
<circle cx="270.8" cy="233.5" r="0.9" fill="#F8766D" fill-opacity="0.75"/>
<circle cx="267.3" cy="231.3" r="0.9" fill="#F8766D" fill-opacity="0.75"/>
<circle cx="265.8" cy="237.7" r="0.9" fill="#F8766D" fill-opacity="0.75"/>
<circle cx="268.3" cy="239" r="0.9" fill="#F8766D" fill-opacity="0.75"/>
<circle cx="269" cy="246.4" r="0.9" fill="#F8766D" fill-opacity="0.75"/>
<circle cx="265.9" cy="233.6" r="0.9" fill="#F8766D" fill-opacity="0.75"/>
<circle cx="270.3" cy="228.6" r="0.9" fill="#F8766D" fill-opacity="0.75"/>
<circle cx="268.5" cy="239.1" r="0.9" fill="#F8766D" fill-opacity="0.75"/>
<circle cx="266" cy="248.4" r="0.9" fill="#F8766D" fill-opacity="0.75"/>
<circle cx="265.4" cy="243.4" r="0.9" fill="#F8766D" fill-opacity="0.75"/>
<circle cx="267.8" cy="234.3" r="0.9" fill="#F8766D" fill-opacity="0.75"/>
<circle cx="265.8" cy="234.4" r="0.9" fill="#F8766D" fill-opacity="0.75"/>
<circle cx="269.8" cy="224.4" r="0.9" fill="#F8766D" fill-opacity="0.75"/>
<circle cx="265.4" cy="258.2" r="0.9" fill="#F8766D" fill-opacity="0.75"/>
<circle cx="270.6" cy="225.6" r="0.9" fill="#F8766D" fill-opacity="0.75"/>
<circle cx="267.6" cy="235.8" r="0.9" fill="#F8766D" fill-opacity="0.75"/>
<circle cx="265.5" cy="228.5" r="0.9" fill="#F8766D" fill-opacity="0.75"/>
<circle cx="266.4" cy="256.3" r="0.9" fill="#F8766D" fill-opacity="0.75"/>
<circle cx="267.4" cy="235.9" r="0.9" fill="#F8766D" fill-opacity="0.75"/>
<circle cx="267.6" cy="246.1" r="0.9" fill="#F8766D" fill-opacity="0.75"/>
<circle cx="268.4" cy="247.2" r="0.9" fill="#F8766D" fill-opacity="0.75"/>
<circle cx="269.5" cy="227.2" r="0.9" fill="#F8766D" fill-opacity="0.75"/>
<circle cx="268.4" cy="232" r="0.9" fill="#F8766D" fill-opacity="0.75"/>
<circle cx="265.8" cy="235.3" r="0.9" fill="#F8766D" fill-opacity="0.75"/>
<circle cx="267.7" cy="226.1" r="0.9" fill="#F8766D" fill-opacity="0.75"/>
<circle cx="265.5" cy="243.9" r="0.9" fill="#F8766D" fill-opacity="0.75"/>
<circle cx="268.9" cy="250.1" r="0.9" fill="#F8766D" fill-opacity="0.75"/>
<circle cx="266.1" cy="236.6" r="0.9" fill="#F8766D" fill-opacity="0.75"/>
<circle cx="265.2" cy="230.8" r="0.9" fill="#F8766D" fill-opacity="0.75"/>
<circle cx="265.1" cy="234.8" r="0.9" fill="#F8766D" fill-opacity="0.75"/>
<circle cx="270.6" cy="229.4" r="0.9" fill="#F8766D" fill-opacity="0.75"/>
<circle cx="267.5" cy="240.7" r="0.9" fill="#F8766D" fill-opacity="0.75"/>
<circle cx="267.7" cy="236.2" r="0.9" fill="#F8766D" fill-opacity="0.75"/>
<circle cx="269" cy="225.6" r="0.9" fill="#F8766D" fill-opacity="0.75"/>
<circle cx="269.4" cy="245.3" r="0.9" fill="#F8766D" fill-opacity="0.75"/>
<circle cx="266.2" cy="230.2" r="0.9" fill="#F8766D" fill-opacity="0.75"/>
<circle cx="266" cy="231.1" r="0.9" fill="#F8766D" fill-opacity="0.75"/>
<circle cx="267.8" cy="229.8" r="0.9" fill="#F8766D" fill-opacity="0.75"/>
<circle cx="269.8" cy="227.4" r="0.9" fill="#F8766D" fill-opacity="0.75"/>
<circle cx="265.3" cy="236.3" r="0.9" fill="#F8766D" fill-opacity="0.75"/>
<rect x="265.5" y="249.5" width="4.8" height="20.6" fill="#fff" stroke="#F8766D" stroke-width="1.2"/>
<circle cx="322.6" cy="270.7" r="0.9" fill="#F8766D" fill-opacity="0.75"/>
<circle cx="320.9" cy="249.6" r="0.9" fill="#F8766D" fill-opacity="0.75"/>
<circle cx="319.6" cy="269.9" r="0.9" fill="#F8766D" fill-opacity="0.75"/>
<circle cx="318.8" cy="269" r="0.9" fill="#F8766D" fill-opacity="0.75"/>
<circle cx="320.1" cy="261.7" r="0.9" fill="#F8766D" fill-opacity="0.75"/>
<circle cx="320.4" cy="254" r="0.9" fill="#F8766D" fill-opacity="0.75"/>
<circle cx="322.6" cy="270.4" r="0.9" fill="#F8766D" fill-opacity="0.75"/>
<circle cx="318.7" cy="270.9" r="0.9" fill="#F8766D" fill-opacity="0.75"/>
<circle cx="320.5" cy="247.7" r="0.9" fill="#F8766D" fill-opacity="0.75"/>
<circle cx="323.1" cy="267.1" r="0.9" fill="#F8766D" fill-opacity="0.75"/>
<circle cx="322.4" cy="270.8" r="0.9" fill="#F8766D" fill-opacity="0.75"/>
<circle cx="322.5" cy="245" r="0.9" fill="#F8766D" fill-opacity="0.75"/>
<circle cx="320.8" cy="259" r="0.9" fill="#F8766D" fill-opacity="0.75"/>
<circle cx="319" cy="262.8" r="0.9" fill="#F8766D" fill-opacity="0.75"/>
<circle cx="320" cy="262.7" r="0.9" fill="#F8766D" fill-opacity="0.75"/>
<circle cx="321.4" cy="240.4" r="0.9" fill="#F8766D" fill-opacity="0.75"/>
<circle cx="322.9" cy="261.7" r="0.9" fill="#F8766D" fill-opacity="0.75"/>
<circle cx="321" cy="258.7" r="0.9" fill="#F8766D" fill-opacity="0.75"/>
<circle cx="319" cy="269.6" r="0.9" fill="#F8766D" fill-opacity="0.75"/>
<circle cx="320.8" cy="252.9" r="0.9" fill="#F8766D" fill-opacity="0.75"/>
<circle cx="320.9" cy="261" r="0.9" fill="#F8766D" fill-opacity="0.75"/>
<circle cx="321.9" cy="270.8" r="0.9" fill="#F8766D" fill-opacity="0.75"/>
<circle cx="322.1" cy="259.7" r="0.9" fill="#F8766D" fill-opacity="0.75"/>
<circle cx="319.9" cy="245.2" r="0.9" fill="#F8766D" fill-opacity="0.75"/>
<circle cx="320.5" cy="254.9" r="0.9" fill="#F8766D" fill-opacity="0.75"/>
<circle cx="321.6" cy="255.3" r="0.9" fill="#F8766D" fill-opacity="0.75"/>
<circle cx="320.7" cy="271" r="0.9" fill="#F8766D" fill-opacity="0.75"/>
<circle cx="320.2" cy="243.1" r="0.9" fill="#F8766D" fill-opacity="0.75"/>
<circle cx="319" cy="259.8" r="0.9" fill="#F8766D" fill-opacity="0.75"/>
<circle cx="321.3" cy="254" r="0.9" fill="#F8766D" fill-opacity="0.75"/>
<circle cx="319.9" cy="270.5" r="0.9" fill="#F8766D" fill-opacity="0.75"/>
<circle cx="322.3" cy="266.7" r="0.9" fill="#F8766D" fill-opacity="0.75"/>
<circle cx="322.6" cy="262" r="0.9" fill="#F8766D" fill-opacity="0.75"/>
<circle cx="321.6" cy="247.3" r="0.9" fill="#F8766D" fill-opacity="0.75"/>
<circle cx="322.6" cy="261" r="0.9" fill="#F8766D" fill-opacity="0.75"/>
<circle cx="321.2" cy="253.8" r="0.9" fill="#F8766D" fill-opacity="0.75"/>
<circle cx="321.9" cy="268.8" r="0.9" fill="#F8766D" fill-opacity="0.75"/>
<circle cx="322.7" cy="264.9" r="0.9" fill="#F8766D" fill-opacity="0.75"/>
<circle cx="319.9" cy="270.6" r="0.9" fill="#F8766D" fill-opacity="0.75"/>
<circle cx="319.2" cy="252.6" r="0.9" fill="#F8766D" fill-opacity="0.75"/>
<circle cx="321.8" cy="250.9" r="0.9" fill="#F8766D" fill-opacity="0.75"/>
<circle cx="319.7" cy="248.7" r="0.9" fill="#F8766D" fill-opacity="0.75"/>
<circle cx="319.3" cy="242.5" r="0.9" fill="#F8766D" fill-opacity="0.75"/>
<circle cx="321.9" cy="266" r="0.9" fill="#F8766D" fill-opacity="0.75"/>
<circle cx="322" cy="245.7" r="0.9" fill="#F8766D" fill-opacity="0.75"/>
<circle cx="362.4" cy="249.6" r="0.9" fill="#F8766D" fill-opacity="0.75"/>
<circle cx="361" cy="248.1" r="0.9" fill="#F8766D" fill-opacity="0.75"/>
<circle cx="361.7" cy="266.8" r="0.9" fill="#F8766D" fill-opacity="0.75"/>
<circle cx="358.9" cy="246.6" r="0.9" fill="#F8766D" fill-opacity="0.75"/>
<circle cx="362.1" cy="257.9" r="0.9" fill="#F8766D" fill-opacity="0.75"/>
<circle cx="359.1" cy="242.7" r="0.9" fill="#F8766D" fill-opacity="0.75"/>
<circle cx="361.9" cy="257.7" r="0.9" fill="#F8766D" fill-opacity="0.75"/>
<circle cx="359.7" cy="242.4" r="0.9" fill="#F8766D" fill-opacity="0.75"/>
<circle cx="360.6" cy="260" r="0.9" fill="#F8766D" fill-opacity="0.75"/>
<circle cx="358.7" cy="247.3" r="0.9" fill="#F8766D" fill-opacity="0.75"/>
<circle cx="368.5" cy="266.6" r="0.9" fill="#F8766D" fill-opacity="0.75"/>
<circle cx="368.5" cy="271" r="0.9" fill="#F8766D" fill-opacity="0.75"/>
<circle cx="368.1" cy="246.3" r="0.9" fill="#F8766D" fill-opacity="0.75"/>
<circle cx="365.4" cy="259.2" r="0.9" fill="#F8766D" fill-opacity="0.75"/>
<circle cx="368.9" cy="257.2" r="0.9" fill="#F8766D" fill-opacity="0.75"/>
<circle cx="365.3" cy="251.4" r="0.9" fill="#F8766D" fill-opacity="0.75"/>
<circle cx="368.6" cy="239.2" r="0.9" fill="#F8766D" fill-opacity="0.75"/>
<circle cx="368.1" cy="254.3" r="0.9" fill="#F8766D" fill-opacity="0.75"/>
<circle cx="368.5" cy="253.3" r="0.9" fill="#F8766D" fill-opacity="0.75"/>
<circle cx="368.7" cy="266.6" r="0.9" fill="#F8766D" fill-opacity="0.75"/>
<circle cx="366.4" cy="265.4" r="0.9" fill="#F8766D" fill-opacity="0.75"/>
<circle cx="365.4" cy="238.3" r="0.9" fill="#F8766D" fill-opacity="0.75"/>
<circle cx="366.2" cy="237.9" r="0.9" fill="#F8766D" fill-opacity="0.75"/>
<circle cx="365.9" cy="238.4" r="0.9" fill="#F8766D" fill-opacity="0.75"/>
<circle cx="367.2" cy="255.1" r="0.9" fill="#F8766D" fill-opacity="0.75"/>
<circle cx="369.1" cy="241.7" r="0.9" fill="#F8766D" fill-opacity="0.75"/>
<circle cx="365.7" cy="235.6" r="0.9" fill="#F8766D" fill-opacity="0.75"/>
<circle cx="368" cy="264.3" r="0.9" fill="#F8766D" fill-opacity="0.75"/>
<ellipse cx="360.5" cy="271" rx="3" ry="2.6" fill="#F8766D" fill-opacity="0.8"/>
<circle cx="274.5" cy="267.2" r="1" fill="#F8766D" fill-opacity="0.7"/>
<circle cx="278.5" cy="253.7" r="1" fill="#F8766D" fill-opacity="0.7"/>
<circle cx="279.2" cy="246.6" r="1" fill="#F8766D" fill-opacity="0.7"/>
<circle cx="306.3" cy="238.5" r="1" fill="#F8766D" fill-opacity="0.7"/>
<circle cx="309.6" cy="259.1" r="1" fill="#F8766D" fill-opacity="0.7"/>
<circle cx="339.4" cy="232" r="1" fill="#F8766D" fill-opacity="0.7"/>
<circle cx="287.8" cy="262.9" r="1" fill="#F8766D" fill-opacity="0.7"/>
<circle cx="453.1" cy="251" r="1" fill="#F8766D" fill-opacity="0.7"/>
<circle cx="454.5" cy="258.6" r="1" fill="#F8766D" fill-opacity="0.7"/>
<circle cx="456.4" cy="262.9" r="1" fill="#F8766D" fill-opacity="0.7"/>
<circle cx="466.4" cy="265" r="1" fill="#F8766D" fill-opacity="0.7"/>
<circle cx="450.5" cy="268.3" r="1" fill="#F8766D" fill-opacity="0.7"/>
<circle cx="294.4" cy="264" r="1" fill="#F8766D" fill-opacity="0.7"/>
<text transform="translate(272.2,205) rotate(-90)" font-size="10.4" fill="#3a3a3a" font-weight="normal" text-anchor="middle" >37%</text>
<text transform="translate(325.1,205) rotate(-90)" font-size="10.4" fill="#3a3a3a" font-weight="normal" text-anchor="middle" >10%</text>
<text transform="translate(371.4,205) rotate(-90)" font-size="10.4" fill="#3a3a3a" font-weight="normal" text-anchor="middle" >7%</text>
<line x1="34.8" y1="273.7" x2="37.9" y2="273.7" stroke="#333" stroke-width="1.2" />
<text x="32.6" y="277.4" font-size="10.3" fill="#4d4d4d" font-weight="normal" text-anchor="end" >0.0</text>
<line x1="34.8" y1="246.6" x2="37.9" y2="246.6" stroke="#333" stroke-width="1.2" />
<text x="32.6" y="250.3" font-size="10.3" fill="#4d4d4d" font-weight="normal" text-anchor="end" >0.5</text>
<line x1="34.8" y1="219.6" x2="37.9" y2="219.6" stroke="#333" stroke-width="1.2" />
<text x="32.6" y="223.3" font-size="10.3" fill="#4d4d4d" font-weight="normal" text-anchor="end" >1.0</text>
<text transform="translate(9.8,238.5) rotate(-90)" font-size="10.3" fill="#000" font-weight="bold" text-anchor="middle" ><tspan font-style="italic">RBBP8</tspan><tspan dx="4.3">methylation</tspan></text>
<circle cx="67.4" cy="377.9" r="0.9" fill="#00BA38" fill-opacity="0.45"/>
<circle cx="67.4" cy="379.7" r="0.9" fill="#00BA38" fill-opacity="0.45"/>
<circle cx="68.9" cy="385.3" r="0.9" fill="#00BA38" fill-opacity="0.45"/>
<circle cx="68.9" cy="389" r="0.9" fill="#00BA38" fill-opacity="0.45"/>
<circle cx="67.4" cy="409.2" r="0.9" fill="#F8766D" fill-opacity="0.45"/>
<circle cx="68.8" cy="395.3" r="0.9" fill="#00BA38" fill-opacity="0.45"/>
<circle cx="106.2" cy="396.9" r="0.9" fill="#F8766D" fill-opacity="0.45"/>
<circle cx="69.2" cy="367.2" r="0.9" fill="#619CFF" fill-opacity="0.45"/>
<circle cx="68.8" cy="374.1" r="0.9" fill="#00BA38" fill-opacity="0.45"/>
<circle cx="165.8" cy="382.9" r="0.9" fill="#00BA38" fill-opacity="0.45"/>
<circle cx="146.5" cy="405.9" r="0.9" fill="#F8766D" fill-opacity="0.45"/>
<circle cx="66" cy="385.4" r="0.9" fill="#00BA38" fill-opacity="0.45"/>
<circle cx="127.2" cy="386.2" r="0.9" fill="#F8766D" fill-opacity="0.45"/>
<circle cx="85.6" cy="414.8" r="0.9" fill="#F8766D" fill-opacity="0.45"/>
<circle cx="69.7" cy="392.7" r="0.9" fill="#00BA38" fill-opacity="0.45"/>
<circle cx="152.7" cy="394.8" r="0.9" fill="#F8766D" fill-opacity="0.45"/>
<circle cx="69.6" cy="403.5" r="0.9" fill="#F8766D" fill-opacity="0.45"/>
<circle cx="68.3" cy="387.2" r="0.9" fill="#619CFF" fill-opacity="0.45"/>
<circle cx="67.7" cy="384.7" r="0.9" fill="#F8766D" fill-opacity="0.45"/>
<circle cx="82.2" cy="402.1" r="0.9" fill="#F8766D" fill-opacity="0.45"/>
<circle cx="68" cy="394.6" r="0.9" fill="#F8766D" fill-opacity="0.45"/>
<circle cx="67.6" cy="376.5" r="0.9" fill="#00BA38" fill-opacity="0.45"/>
<circle cx="68" cy="370.2" r="0.9" fill="#00BA38" fill-opacity="0.45"/>
<circle cx="68.7" cy="387.8" r="0.9" fill="#00BA38" fill-opacity="0.45"/>
<circle cx="105.3" cy="378.9" r="0.9" fill="#619CFF" fill-opacity="0.45"/>
<circle cx="69.4" cy="376.2" r="0.9" fill="#00BA38" fill-opacity="0.45"/>
<circle cx="67.1" cy="393.6" r="0.9" fill="#F8766D" fill-opacity="0.45"/>
<circle cx="151.3" cy="398.5" r="0.9" fill="#F8766D" fill-opacity="0.45"/>
<circle cx="68.3" cy="398" r="0.9" fill="#F8766D" fill-opacity="0.45"/>
<circle cx="188.1" cy="433.9" r="0.9" fill="#F8766D" fill-opacity="0.45"/>
<circle cx="69.2" cy="377" r="0.9" fill="#00BA38" fill-opacity="0.45"/>
<circle cx="69" cy="393" r="0.9" fill="#F8766D" fill-opacity="0.45"/>
<circle cx="73.9" cy="393.3" r="0.9" fill="#F8766D" fill-opacity="0.45"/>
<circle cx="68.2" cy="409.8" r="0.9" fill="#F8766D" fill-opacity="0.45"/>
<circle cx="68.4" cy="404" r="0.9" fill="#F8766D" fill-opacity="0.45"/>
<circle cx="68.8" cy="384.1" r="0.9" fill="#00BA38" fill-opacity="0.45"/>
<circle cx="73.2" cy="378.7" r="0.9" fill="#00BA38" fill-opacity="0.45"/>
<circle cx="69.2" cy="402.3" r="0.9" fill="#F8766D" fill-opacity="0.45"/>
<circle cx="67.7" cy="367.3" r="0.9" fill="#619CFF" fill-opacity="0.45"/>
<circle cx="68.6" cy="404.2" r="0.9" fill="#F8766D" fill-opacity="0.45"/>
<circle cx="140.2" cy="390.8" r="0.9" fill="#F8766D" fill-opacity="0.45"/>
<circle cx="97.2" cy="390.7" r="0.9" fill="#00BA38" fill-opacity="0.45"/>
<circle cx="141.4" cy="392.3" r="0.9" fill="#F8766D" fill-opacity="0.45"/>
<circle cx="67" cy="371.2" r="0.9" fill="#00BA38" fill-opacity="0.45"/>
<circle cx="126.5" cy="392.3" r="0.9" fill="#00BA38" fill-opacity="0.45"/>
<circle cx="69.9" cy="387.9" r="0.9" fill="#00BA38" fill-opacity="0.45"/>
<circle cx="98.7" cy="394.7" r="0.9" fill="#F8766D" fill-opacity="0.45"/>
<circle cx="120.6" cy="396.1" r="0.9" fill="#F8766D" fill-opacity="0.45"/>
<circle cx="68.2" cy="380.6" r="0.9" fill="#00BA38" fill-opacity="0.45"/>
<circle cx="68.6" cy="382.2" r="0.9" fill="#619CFF" fill-opacity="0.45"/>
<circle cx="66.3" cy="387.9" r="0.9" fill="#619CFF" fill-opacity="0.45"/>
<circle cx="68.2" cy="410.5" r="0.9" fill="#F8766D" fill-opacity="0.45"/>
<circle cx="158" cy="392" r="0.9" fill="#00BA38" fill-opacity="0.45"/>
<circle cx="67.7" cy="395.4" r="0.9" fill="#00BA38" fill-opacity="0.45"/>
<circle cx="131.3" cy="394.4" r="0.9" fill="#F8766D" fill-opacity="0.45"/>
<circle cx="66.5" cy="388.3" r="0.9" fill="#00BA38" fill-opacity="0.45"/>
<circle cx="155.2" cy="376" r="0.9" fill="#00BA38" fill-opacity="0.45"/>
<circle cx="69.5" cy="400.1" r="0.9" fill="#00BA38" fill-opacity="0.45"/>
<circle cx="68.3" cy="375.6" r="0.9" fill="#00BA38" fill-opacity="0.45"/>
<circle cx="69.3" cy="414.3" r="0.9" fill="#F8766D" fill-opacity="0.45"/>
<circle cx="83.4" cy="403.7" r="0.9" fill="#F8766D" fill-opacity="0.45"/>
<circle cx="69.2" cy="371.9" r="0.9" fill="#619CFF" fill-opacity="0.45"/>
<circle cx="67.7" cy="383" r="0.9" fill="#F8766D" fill-opacity="0.45"/>
<circle cx="68.2" cy="395" r="0.9" fill="#F8766D" fill-opacity="0.45"/>
<circle cx="67.4" cy="374.4" r="0.9" fill="#619CFF" fill-opacity="0.45"/>
<circle cx="181.1" cy="413.2" r="0.9" fill="#F8766D" fill-opacity="0.45"/>
<circle cx="69.3" cy="402.7" r="0.9" fill="#F8766D" fill-opacity="0.45"/>
<circle cx="69.6" cy="399" r="0.9" fill="#F8766D" fill-opacity="0.45"/>
<circle cx="102.5" cy="409.4" r="0.9" fill="#F8766D" fill-opacity="0.45"/>
<circle cx="123.3" cy="408.1" r="0.9" fill="#F8766D" fill-opacity="0.45"/>
<circle cx="68.3" cy="371.8" r="0.9" fill="#619CFF" fill-opacity="0.45"/>
<circle cx="128.6" cy="400.6" r="0.9" fill="#F8766D" fill-opacity="0.45"/>
<circle cx="69.7" cy="363" r="0.9" fill="#00BA38" fill-opacity="0.45"/>
<circle cx="68.2" cy="379.1" r="0.9" fill="#00BA38" fill-opacity="0.45"/>
<circle cx="68.3" cy="388.6" r="0.9" fill="#00BA38" fill-opacity="0.45"/>
<circle cx="98.8" cy="384.3" r="0.9" fill="#00BA38" fill-opacity="0.45"/>
<circle cx="72.1" cy="378.5" r="0.9" fill="#00BA38" fill-opacity="0.45"/>
<circle cx="68.2" cy="402.9" r="0.9" fill="#F8766D" fill-opacity="0.45"/>
<circle cx="69.2" cy="392.8" r="0.9" fill="#F8766D" fill-opacity="0.45"/>
<circle cx="68.1" cy="366.6" r="0.9" fill="#619CFF" fill-opacity="0.45"/>
<circle cx="155.8" cy="402.6" r="0.9" fill="#F8766D" fill-opacity="0.45"/>
<circle cx="182.8" cy="398.6" r="0.9" fill="#F8766D" fill-opacity="0.45"/>
<circle cx="116.7" cy="396.3" r="0.9" fill="#F8766D" fill-opacity="0.45"/>
<circle cx="68.4" cy="394.2" r="0.9" fill="#00BA38" fill-opacity="0.45"/>
<circle cx="122.8" cy="405.1" r="0.9" fill="#F8766D" fill-opacity="0.45"/>
<circle cx="69.8" cy="364.8" r="0.9" fill="#619CFF" fill-opacity="0.45"/>
<circle cx="69.2" cy="402.3" r="0.9" fill="#F8766D" fill-opacity="0.45"/>
<circle cx="69.4" cy="393.6" r="0.9" fill="#F8766D" fill-opacity="0.45"/>
<circle cx="67.9" cy="375.3" r="0.9" fill="#00BA38" fill-opacity="0.45"/>
<circle cx="126.9" cy="404.9" r="0.9" fill="#F8766D" fill-opacity="0.45"/>
<circle cx="68" cy="404.3" r="0.9" fill="#F8766D" fill-opacity="0.45"/>
<circle cx="69" cy="399.3" r="0.9" fill="#00BA38" fill-opacity="0.45"/>
<circle cx="68.7" cy="379" r="0.9" fill="#F8766D" fill-opacity="0.45"/>
<circle cx="69.5" cy="405.4" r="0.9" fill="#F8766D" fill-opacity="0.45"/>
<circle cx="70.6" cy="391.2" r="0.9" fill="#F8766D" fill-opacity="0.45"/>
<circle cx="66.2" cy="391.2" r="0.9" fill="#F8766D" fill-opacity="0.45"/>
<circle cx="68" cy="396.2" r="0.9" fill="#F8766D" fill-opacity="0.45"/>
<circle cx="167.5" cy="402.8" r="0.9" fill="#F8766D" fill-opacity="0.45"/>
<circle cx="69.3" cy="404.8" r="0.9" fill="#00BA38" fill-opacity="0.45"/>
<circle cx="69.7" cy="374.8" r="0.9" fill="#619CFF" fill-opacity="0.45"/>
<circle cx="67.9" cy="400.1" r="0.9" fill="#F8766D" fill-opacity="0.45"/>
<circle cx="68.5" cy="398.9" r="0.9" fill="#F8766D" fill-opacity="0.45"/>
<circle cx="67.2" cy="403" r="0.9" fill="#F8766D" fill-opacity="0.45"/>
<circle cx="68.7" cy="386.9" r="0.9" fill="#00BA38" fill-opacity="0.45"/>
<circle cx="134.3" cy="399.3" r="0.9" fill="#F8766D" fill-opacity="0.45"/>
<circle cx="69" cy="400.4" r="0.9" fill="#F8766D" fill-opacity="0.45"/>
<circle cx="155.9" cy="385.6" r="0.9" fill="#00BA38" fill-opacity="0.45"/>
<circle cx="102.2" cy="390.5" r="0.9" fill="#F8766D" fill-opacity="0.45"/>
<circle cx="68.6" cy="367.6" r="0.9" fill="#619CFF" fill-opacity="0.45"/>
<circle cx="67.7" cy="395" r="0.9" fill="#F8766D" fill-opacity="0.45"/>
<circle cx="70.5" cy="385.1" r="0.9" fill="#F8766D" fill-opacity="0.45"/>
<circle cx="68.4" cy="395.7" r="0.9" fill="#F8766D" fill-opacity="0.45"/>
<circle cx="77.4" cy="370.1" r="0.9" fill="#F8766D" fill-opacity="0.45"/>
<circle cx="69.1" cy="375.9" r="0.9" fill="#00BA38" fill-opacity="0.45"/>
<circle cx="164.4" cy="390.8" r="0.9" fill="#00BA38" fill-opacity="0.45"/>
<circle cx="132.1" cy="400.5" r="0.9" fill="#F8766D" fill-opacity="0.45"/>
<circle cx="77.3" cy="395.1" r="0.9" fill="#F8766D" fill-opacity="0.45"/>
<circle cx="68.1" cy="369.3" r="0.9" fill="#619CFF" fill-opacity="0.45"/>
<circle cx="82.1" cy="386.6" r="0.9" fill="#619CFF" fill-opacity="0.45"/>
<circle cx="69.7" cy="387.5" r="0.9" fill="#00BA38" fill-opacity="0.45"/>
<circle cx="114.2" cy="389.4" r="0.9" fill="#00BA38" fill-opacity="0.45"/>
<circle cx="197.7" cy="430.4" r="0.9" fill="#F8766D" fill-opacity="0.45"/>
<circle cx="117.6" cy="392.7" r="0.9" fill="#00BA38" fill-opacity="0.45"/>
<circle cx="163.6" cy="386.7" r="0.9" fill="#619CFF" fill-opacity="0.45"/>
<circle cx="71.1" cy="391.3" r="0.9" fill="#00BA38" fill-opacity="0.45"/>
<circle cx="69.8" cy="374" r="0.9" fill="#619CFF" fill-opacity="0.45"/>
<circle cx="68.5" cy="386.5" r="0.9" fill="#00BA38" fill-opacity="0.45"/>
<circle cx="69" cy="366.5" r="0.9" fill="#619CFF" fill-opacity="0.45"/>
<circle cx="67.3" cy="378.4" r="0.9" fill="#619CFF" fill-opacity="0.45"/>
<circle cx="99.2" cy="420.5" r="0.9" fill="#F8766D" fill-opacity="0.45"/>
<circle cx="69.1" cy="380.4" r="0.9" fill="#F8766D" fill-opacity="0.45"/>
<circle cx="68.2" cy="380.8" r="0.9" fill="#00BA38" fill-opacity="0.45"/>
<circle cx="67.6" cy="377.1" r="0.9" fill="#619CFF" fill-opacity="0.45"/>
<circle cx="70.5" cy="401.3" r="0.9" fill="#00BA38" fill-opacity="0.45"/>
<circle cx="75.9" cy="393.1" r="0.9" fill="#00BA38" fill-opacity="0.45"/>
<circle cx="66.9" cy="376.9" r="0.9" fill="#00BA38" fill-opacity="0.45"/>
<circle cx="186.9" cy="405.3" r="0.9" fill="#F8766D" fill-opacity="0.45"/>
<circle cx="179.1" cy="395.2" r="0.9" fill="#F8766D" fill-opacity="0.45"/>
<circle cx="68.6" cy="396.6" r="0.9" fill="#F8766D" fill-opacity="0.45"/>
<circle cx="106.5" cy="390.6" r="0.9" fill="#00BA38" fill-opacity="0.45"/>
<circle cx="69.7" cy="371" r="0.9" fill="#619CFF" fill-opacity="0.45"/>
<circle cx="66.7" cy="407.6" r="0.9" fill="#F8766D" fill-opacity="0.45"/>
<circle cx="69.4" cy="372.7" r="0.9" fill="#00BA38" fill-opacity="0.45"/>
<circle cx="142.5" cy="400.7" r="0.9" fill="#F8766D" fill-opacity="0.45"/>
<circle cx="68.5" cy="393" r="0.9" fill="#00BA38" fill-opacity="0.45"/>
<circle cx="166.1" cy="381.7" r="0.9" fill="#F8766D" fill-opacity="0.45"/>
<circle cx="96.9" cy="401.6" r="0.9" fill="#F8766D" fill-opacity="0.45"/>
<circle cx="69.3" cy="391.1" r="0.9" fill="#F8766D" fill-opacity="0.45"/>
<circle cx="144" cy="389.9" r="0.9" fill="#00BA38" fill-opacity="0.45"/>
<circle cx="70.1" cy="388.2" r="0.9" fill="#00BA38" fill-opacity="0.45"/>
<circle cx="131.4" cy="390.6" r="0.9" fill="#F8766D" fill-opacity="0.45"/>
<circle cx="65.6" cy="399.4" r="0.9" fill="#F8766D" fill-opacity="0.45"/>
<circle cx="70.1" cy="398.2" r="0.9" fill="#F8766D" fill-opacity="0.45"/>
<circle cx="96.3" cy="396.8" r="0.9" fill="#00BA38" fill-opacity="0.45"/>
<circle cx="69.1" cy="402.9" r="0.9" fill="#F8766D" fill-opacity="0.45"/>
<circle cx="148.3" cy="397" r="0.9" fill="#F8766D" fill-opacity="0.45"/>
<circle cx="67.7" cy="365.3" r="0.9" fill="#619CFF" fill-opacity="0.45"/>
<circle cx="69.4" cy="401.5" r="0.9" fill="#F8766D" fill-opacity="0.45"/>
<circle cx="68.9" cy="380" r="0.9" fill="#00BA38" fill-opacity="0.45"/>
<circle cx="105.1" cy="395.5" r="0.9" fill="#F8766D" fill-opacity="0.45"/>
<circle cx="67.3" cy="377" r="0.9" fill="#00BA38" fill-opacity="0.45"/>
<circle cx="70.6" cy="400.1" r="0.9" fill="#F8766D" fill-opacity="0.45"/>
<circle cx="69.6" cy="382.2" r="0.9" fill="#00BA38" fill-opacity="0.45"/>
<circle cx="117.4" cy="411.2" r="0.9" fill="#F8766D" fill-opacity="0.45"/>
<circle cx="93.9" cy="411.6" r="0.9" fill="#F8766D" fill-opacity="0.45"/>
<circle cx="88.7" cy="382.8" r="0.9" fill="#F8766D" fill-opacity="0.45"/>
<circle cx="69.4" cy="374.5" r="0.9" fill="#F8766D" fill-opacity="0.45"/>
<circle cx="68.8" cy="375.1" r="0.9" fill="#619CFF" fill-opacity="0.45"/>
<circle cx="166.7" cy="395" r="0.9" fill="#F8766D" fill-opacity="0.45"/>
<circle cx="68.7" cy="378" r="0.9" fill="#F8766D" fill-opacity="0.45"/>
<circle cx="68.2" cy="396.7" r="0.9" fill="#F8766D" fill-opacity="0.45"/>
<circle cx="71.7" cy="380.9" r="0.9" fill="#00BA38" fill-opacity="0.45"/>
<circle cx="68.2" cy="381.9" r="0.9" fill="#619CFF" fill-opacity="0.45"/>
<circle cx="161" cy="404" r="0.9" fill="#00BA38" fill-opacity="0.45"/>
<circle cx="67.9" cy="405.8" r="0.9" fill="#F8766D" fill-opacity="0.45"/>
<circle cx="68.4" cy="370" r="0.9" fill="#619CFF" fill-opacity="0.45"/>
<circle cx="130.7" cy="391.3" r="0.9" fill="#00BA38" fill-opacity="0.45"/>
<circle cx="67.8" cy="404" r="0.9" fill="#F8766D" fill-opacity="0.45"/>
<circle cx="96.8" cy="399" r="0.9" fill="#F8766D" fill-opacity="0.45"/>
<circle cx="68.9" cy="380.7" r="0.9" fill="#00BA38" fill-opacity="0.45"/>
<circle cx="139.5" cy="416.1" r="0.9" fill="#F8766D" fill-opacity="0.45"/>
<circle cx="202.2" cy="413.7" r="0.9" fill="#F8766D" fill-opacity="0.45"/>
<circle cx="69.2" cy="366.9" r="0.9" fill="#619CFF" fill-opacity="0.45"/>
<circle cx="155.1" cy="391.5" r="0.9" fill="#00BA38" fill-opacity="0.45"/>
<circle cx="100.1" cy="381.9" r="0.9" fill="#F8766D" fill-opacity="0.45"/>
<circle cx="68.8" cy="370.7" r="0.9" fill="#00BA38" fill-opacity="0.45"/>
<circle cx="68.2" cy="387.9" r="0.9" fill="#619CFF" fill-opacity="0.45"/>
<circle cx="69.3" cy="387.3" r="0.9" fill="#F8766D" fill-opacity="0.45"/>
<circle cx="70" cy="376" r="0.9" fill="#619CFF" fill-opacity="0.45"/>
<circle cx="165" cy="407.5" r="0.9" fill="#F8766D" fill-opacity="0.45"/>
<circle cx="202.1" cy="400.1" r="0.9" fill="#F8766D" fill-opacity="0.45"/>
<circle cx="68.2" cy="363.3" r="0.9" fill="#00BA38" fill-opacity="0.45"/>
<circle cx="68" cy="387.6" r="0.9" fill="#F8766D" fill-opacity="0.45"/>
<circle cx="96.8" cy="392.8" r="0.9" fill="#F8766D" fill-opacity="0.45"/>
<circle cx="200.1" cy="416.2" r="0.9" fill="#F8766D" fill-opacity="0.45"/>
<circle cx="117.8" cy="395.3" r="0.9" fill="#00BA38" fill-opacity="0.45"/>
<circle cx="67.8" cy="374.7" r="0.9" fill="#619CFF" fill-opacity="0.45"/>
<circle cx="69.7" cy="398.8" r="0.9" fill="#F8766D" fill-opacity="0.45"/>
<circle cx="68.4" cy="386.8" r="0.9" fill="#619CFF" fill-opacity="0.45"/>
<circle cx="84.8" cy="380.4" r="0.9" fill="#00BA38" fill-opacity="0.45"/>
<circle cx="68.1" cy="384.5" r="0.9" fill="#F8766D" fill-opacity="0.45"/>
<circle cx="68.3" cy="383.5" r="0.9" fill="#619CFF" fill-opacity="0.45"/>
<circle cx="68.7" cy="395.6" r="0.9" fill="#00BA38" fill-opacity="0.45"/>
<circle cx="67.7" cy="376.3" r="0.9" fill="#00BA38" fill-opacity="0.45"/>
<circle cx="164.7" cy="393.5" r="0.9" fill="#F8766D" fill-opacity="0.45"/>
<circle cx="66.6" cy="418.5" r="0.9" fill="#F8766D" fill-opacity="0.45"/>
<circle cx="69.4" cy="404.4" r="0.9" fill="#F8766D" fill-opacity="0.45"/>
<circle cx="68.3" cy="376" r="0.9" fill="#00BA38" fill-opacity="0.45"/>
<circle cx="68.1" cy="394.2" r="0.9" fill="#F8766D" fill-opacity="0.45"/>
<circle cx="68" cy="389.6" r="0.9" fill="#F8766D" fill-opacity="0.45"/>
<circle cx="68.1" cy="368.1" r="0.9" fill="#619CFF" fill-opacity="0.45"/>
<circle cx="70.8" cy="374.1" r="0.9" fill="#619CFF" fill-opacity="0.45"/>
<circle cx="66.8" cy="396.1" r="0.9" fill="#F8766D" fill-opacity="0.45"/>
<circle cx="195.6" cy="421.4" r="0.9" fill="#F8766D" fill-opacity="0.45"/>
<circle cx="158.6" cy="402.2" r="0.9" fill="#00BA38" fill-opacity="0.45"/>
<circle cx="163.2" cy="398.2" r="0.9" fill="#F8766D" fill-opacity="0.45"/>
<circle cx="69.3" cy="394.7" r="0.9" fill="#F8766D" fill-opacity="0.45"/>
<circle cx="67.3" cy="410.6" r="0.9" fill="#F8766D" fill-opacity="0.45"/>
<circle cx="108.4" cy="404.8" r="0.9" fill="#F8766D" fill-opacity="0.45"/>
<circle cx="68.5" cy="365.6" r="0.9" fill="#619CFF" fill-opacity="0.45"/>
<circle cx="67.8" cy="382.9" r="0.9" fill="#F8766D" fill-opacity="0.45"/>
<circle cx="68.9" cy="392" r="0.9" fill="#F8766D" fill-opacity="0.45"/>
<circle cx="70.1" cy="391.3" r="0.9" fill="#F8766D" fill-opacity="0.45"/>
<circle cx="68" cy="373.5" r="0.9" fill="#619CFF" fill-opacity="0.45"/>
<circle cx="97.6" cy="399.5" r="0.9" fill="#F8766D" fill-opacity="0.45"/>
<circle cx="69.8" cy="388.5" r="0.9" fill="#F8766D" fill-opacity="0.45"/>
<circle cx="67" cy="405.3" r="0.9" fill="#F8766D" fill-opacity="0.45"/>
<circle cx="70.7" cy="388" r="0.9" fill="#F8766D" fill-opacity="0.45"/>
<circle cx="68.8" cy="384.9" r="0.9" fill="#619CFF" fill-opacity="0.45"/>
<circle cx="72.2" cy="382.5" r="0.9" fill="#619CFF" fill-opacity="0.45"/>
<circle cx="180.9" cy="407.5" r="0.9" fill="#F8766D" fill-opacity="0.45"/>
<circle cx="71.3" cy="371.7" r="0.9" fill="#619CFF" fill-opacity="0.45"/>
<circle cx="68.5" cy="393.8" r="0.9" fill="#F8766D" fill-opacity="0.45"/>
<circle cx="128.3" cy="395.7" r="0.9" fill="#00BA38" fill-opacity="0.45"/>
<circle cx="90.7" cy="384.2" r="0.9" fill="#00BA38" fill-opacity="0.45"/>
<circle cx="80.7" cy="399" r="0.9" fill="#F8766D" fill-opacity="0.45"/>
<circle cx="69.6" cy="387.4" r="0.9" fill="#F8766D" fill-opacity="0.45"/>
<circle cx="69.3" cy="404.5" r="0.9" fill="#F8766D" fill-opacity="0.45"/>
<circle cx="68.7" cy="380.2" r="0.9" fill="#00BA38" fill-opacity="0.45"/>
<circle cx="66.7" cy="392.4" r="0.9" fill="#00BA38" fill-opacity="0.45"/>
<circle cx="165.8" cy="388.5" r="0.9" fill="#00BA38" fill-opacity="0.45"/>
<circle cx="121.3" cy="386.5" r="0.9" fill="#619CFF" fill-opacity="0.45"/>
<circle cx="68.1" cy="376.7" r="0.9" fill="#00BA38" fill-opacity="0.45"/>
<circle cx="120" cy="398.6" r="0.9" fill="#F8766D" fill-opacity="0.45"/>
<circle cx="68.9" cy="364.8" r="0.9" fill="#00BA38" fill-opacity="0.45"/>
<circle cx="161.5" cy="394.8" r="0.9" fill="#F8766D" fill-opacity="0.45"/>
<circle cx="67.3" cy="374.6" r="0.9" fill="#619CFF" fill-opacity="0.45"/>
<circle cx="139.1" cy="388" r="0.9" fill="#00BA38" fill-opacity="0.45"/>
<circle cx="127.9" cy="392.1" r="0.9" fill="#F8766D" fill-opacity="0.45"/>
<circle cx="68.3" cy="394.5" r="0.9" fill="#F8766D" fill-opacity="0.45"/>
<circle cx="68.9" cy="392" r="0.9" fill="#00BA38" fill-opacity="0.45"/>
<circle cx="69.3" cy="385.3" r="0.9" fill="#F8766D" fill-opacity="0.45"/>
<circle cx="115.9" cy="392.6" r="0.9" fill="#F8766D" fill-opacity="0.45"/>
<circle cx="78.1" cy="403.5" r="0.9" fill="#F8766D" fill-opacity="0.45"/>
<circle cx="70.4" cy="369.8" r="0.9" fill="#619CFF" fill-opacity="0.45"/>
<circle cx="83.8" cy="390.4" r="0.9" fill="#619CFF" fill-opacity="0.45"/>
<circle cx="69.4" cy="395.7" r="0.9" fill="#F8766D" fill-opacity="0.45"/>
<circle cx="81.6" cy="397.4" r="0.9" fill="#F8766D" fill-opacity="0.45"/>
<circle cx="78.8" cy="391.4" r="0.9" fill="#F8766D" fill-opacity="0.45"/>
<circle cx="67.5" cy="371.4" r="0.9" fill="#619CFF" fill-opacity="0.45"/>
<circle cx="68" cy="362.5" r="0.9" fill="#00BA38" fill-opacity="0.45"/>
<circle cx="109.7" cy="396.7" r="0.9" fill="#F8766D" fill-opacity="0.45"/>
<circle cx="68.5" cy="361.1" r="0.9" fill="#00BA38" fill-opacity="0.45"/>
<circle cx="68.7" cy="398.5" r="0.9" fill="#F8766D" fill-opacity="0.45"/>
<circle cx="69.2" cy="402.8" r="0.9" fill="#F8766D" fill-opacity="0.45"/>
<circle cx="67.3" cy="400.3" r="0.9" fill="#F8766D" fill-opacity="0.45"/>
<circle cx="69.6" cy="410.4" r="0.9" fill="#F8766D" fill-opacity="0.45"/>
<circle cx="137.8" cy="414.6" r="0.9" fill="#F8766D" fill-opacity="0.45"/>
<circle cx="67.2" cy="402.8" r="0.9" fill="#F8766D" fill-opacity="0.45"/>
<circle cx="69.4" cy="374.5" r="0.9" fill="#619CFF" fill-opacity="0.45"/>
<circle cx="69.5" cy="380.3" r="0.9" fill="#00BA38" fill-opacity="0.45"/>
<circle cx="68.3" cy="364.9" r="0.9" fill="#619CFF" fill-opacity="0.45"/>
<circle cx="68.6" cy="388.6" r="0.9" fill="#F8766D" fill-opacity="0.45"/>
<circle cx="68.6" cy="398.5" r="0.9" fill="#F8766D" fill-opacity="0.45"/>
<circle cx="68.6" cy="379.5" r="0.9" fill="#619CFF" fill-opacity="0.45"/>
<circle cx="67.8" cy="403" r="0.9" fill="#F8766D" fill-opacity="0.45"/>
<circle cx="71.8" cy="384.9" r="0.9" fill="#00BA38" fill-opacity="0.45"/>
<circle cx="131.5" cy="396.9" r="0.9" fill="#F8766D" fill-opacity="0.45"/>
<circle cx="74.9" cy="377.1" r="0.9" fill="#00BA38" fill-opacity="0.45"/>
<circle cx="68.6" cy="394.8" r="0.9" fill="#F8766D" fill-opacity="0.45"/>
<circle cx="69.7" cy="391.6" r="0.9" fill="#F8766D" fill-opacity="0.45"/>
<circle cx="68.9" cy="390.5" r="0.9" fill="#00BA38" fill-opacity="0.45"/>
<circle cx="134.4" cy="406.6" r="0.9" fill="#F8766D" fill-opacity="0.45"/>
<circle cx="145.3" cy="408.1" r="0.9" fill="#F8766D" fill-opacity="0.45"/>
<circle cx="144" cy="390" r="0.9" fill="#F8766D" fill-opacity="0.45"/>
<circle cx="68.4" cy="380.4" r="0.9" fill="#00BA38" fill-opacity="0.45"/>
<circle cx="199.3" cy="426.5" r="0.9" fill="#F8766D" fill-opacity="0.45"/>
<circle cx="107.2" cy="381.1" r="0.9" fill="#00BA38" fill-opacity="0.45"/>
<circle cx="95.8" cy="395.2" r="0.9" fill="#F8766D" fill-opacity="0.45"/>
<circle cx="107.7" cy="412" r="0.9" fill="#F8766D" fill-opacity="0.45"/>
<circle cx="69.2" cy="370.3" r="0.9" fill="#619CFF" fill-opacity="0.45"/>
<circle cx="68.2" cy="394.8" r="0.9" fill="#00BA38" fill-opacity="0.45"/>
<circle cx="87.5" cy="393.4" r="0.9" fill="#F8766D" fill-opacity="0.45"/>
<circle cx="118.3" cy="386.1" r="0.9" fill="#00BA38" fill-opacity="0.45"/>
<circle cx="67.4" cy="374" r="0.9" fill="#619CFF" fill-opacity="0.45"/>
<circle cx="66.5" cy="388.3" r="0.9" fill="#F8766D" fill-opacity="0.45"/>
<circle cx="71.6" cy="343.6" r="0.9" fill="#00BA38" fill-opacity="0.45"/>
<circle cx="67.6" cy="400.5" r="0.9" fill="#F8766D" fill-opacity="0.45"/>
<circle cx="68.1" cy="390.9" r="0.9" fill="#F8766D" fill-opacity="0.45"/>
<circle cx="67.2" cy="394.7" r="0.9" fill="#00BA38" fill-opacity="0.45"/>
<circle cx="106.5" cy="398.9" r="0.9" fill="#F8766D" fill-opacity="0.45"/>
<circle cx="97.6" cy="382.4" r="0.9" fill="#00BA38" fill-opacity="0.45"/>
<circle cx="70.3" cy="373.5" r="0.9" fill="#619CFF" fill-opacity="0.45"/>
<circle cx="103.6" cy="406.9" r="0.9" fill="#F8766D" fill-opacity="0.45"/>
<circle cx="90.3" cy="388.6" r="0.9" fill="#00BA38" fill-opacity="0.45"/>
<circle cx="69.2" cy="381.2" r="0.9" fill="#00BA38" fill-opacity="0.45"/>
<circle cx="185.5" cy="411.5" r="0.9" fill="#F8766D" fill-opacity="0.45"/>
<circle cx="75.2" cy="371.3" r="0.9" fill="#00BA38" fill-opacity="0.45"/>
<circle cx="69.7" cy="373" r="0.9" fill="#00BA38" fill-opacity="0.45"/>
<circle cx="84.4" cy="414.1" r="0.9" fill="#F8766D" fill-opacity="0.45"/>
<circle cx="66.8" cy="393.4" r="0.9" fill="#F8766D" fill-opacity="0.45"/>
<circle cx="68.7" cy="395.7" r="0.9" fill="#F8766D" fill-opacity="0.45"/>
<circle cx="67.9" cy="372.8" r="0.9" fill="#00BA38" fill-opacity="0.45"/>
<circle cx="67.7" cy="402.4" r="0.9" fill="#F8766D" fill-opacity="0.45"/>
<circle cx="82.1" cy="401.4" r="0.9" fill="#F8766D" fill-opacity="0.45"/>
<circle cx="123" cy="378.2" r="0.9" fill="#619CFF" fill-opacity="0.45"/>
<circle cx="173.3" cy="413.3" r="0.9" fill="#F8766D" fill-opacity="0.45"/>
<circle cx="65.6" cy="364.6" r="0.9" fill="#619CFF" fill-opacity="0.45"/>
<circle cx="69.8" cy="385.6" r="0.9" fill="#00BA38" fill-opacity="0.45"/>
<circle cx="201.6" cy="407.9" r="0.9" fill="#F8766D" fill-opacity="0.45"/>
<circle cx="67.8" cy="369.3" r="0.9" fill="#00BA38" fill-opacity="0.45"/>
<circle cx="121.9" cy="388.7" r="0.9" fill="#00BA38" fill-opacity="0.45"/>
<circle cx="71.6" cy="397.4" r="0.9" fill="#F8766D" fill-opacity="0.45"/>
<circle cx="69" cy="383.7" r="0.9" fill="#F8766D" fill-opacity="0.45"/>
<circle cx="109.7" cy="405.1" r="0.9" fill="#F8766D" fill-opacity="0.45"/>
<circle cx="119.7" cy="396.7" r="0.9" fill="#F8766D" fill-opacity="0.45"/>
<circle cx="68.3" cy="388.6" r="0.9" fill="#619CFF" fill-opacity="0.45"/>
<circle cx="76.6" cy="399.9" r="0.9" fill="#00BA38" fill-opacity="0.45"/>
<circle cx="69.5" cy="393.2" r="0.9" fill="#00BA38" fill-opacity="0.45"/>
<circle cx="116.4" cy="403.2" r="0.9" fill="#F8766D" fill-opacity="0.45"/>
<circle cx="69.1" cy="366" r="0.9" fill="#619CFF" fill-opacity="0.45"/>
<circle cx="126" cy="406" r="0.9" fill="#F8766D" fill-opacity="0.45"/>
<circle cx="145.9" cy="400.3" r="0.9" fill="#00BA38" fill-opacity="0.45"/>
<circle cx="69.9" cy="396.9" r="0.9" fill="#F8766D" fill-opacity="0.45"/>
<circle cx="94.6" cy="395.2" r="0.9" fill="#F8766D" fill-opacity="0.45"/>
<circle cx="71.1" cy="390.4" r="0.9" fill="#619CFF" fill-opacity="0.45"/>
<circle cx="68.9" cy="383.3" r="0.9" fill="#F8766D" fill-opacity="0.45"/>
<circle cx="70.1" cy="380.4" r="0.9" fill="#619CFF" fill-opacity="0.45"/>
<circle cx="69.3" cy="375.5" r="0.9" fill="#00BA38" fill-opacity="0.45"/>
<circle cx="83.4" cy="420.3" r="0.9" fill="#F8766D" fill-opacity="0.45"/>
<circle cx="78.2" cy="394.7" r="0.9" fill="#F8766D" fill-opacity="0.45"/>
<circle cx="69.1" cy="386.1" r="0.9" fill="#F8766D" fill-opacity="0.45"/>
<circle cx="94.9" cy="388" r="0.9" fill="#F8766D" fill-opacity="0.45"/>
<circle cx="88.7" cy="402.8" r="0.9" fill="#F8766D" fill-opacity="0.45"/>
<circle cx="69.6" cy="369.5" r="0.9" fill="#619CFF" fill-opacity="0.45"/>
<circle cx="185.7" cy="412.8" r="0.9" fill="#F8766D" fill-opacity="0.45"/>
<circle cx="69.1" cy="377.4" r="0.9" fill="#00BA38" fill-opacity="0.45"/>
<circle cx="68.8" cy="386.4" r="0.9" fill="#619CFF" fill-opacity="0.45"/>
<circle cx="71" cy="374.9" r="0.9" fill="#00BA38" fill-opacity="0.45"/>
<circle cx="83.1" cy="389.2" r="0.9" fill="#00BA38" fill-opacity="0.45"/>
<circle cx="76.8" cy="382.9" r="0.9" fill="#619CFF" fill-opacity="0.45"/>
<circle cx="91" cy="383.8" r="0.9" fill="#F8766D" fill-opacity="0.45"/>
<circle cx="68.3" cy="383.4" r="0.9" fill="#00BA38" fill-opacity="0.45"/>
<circle cx="68" cy="381.4" r="0.9" fill="#619CFF" fill-opacity="0.45"/>
<circle cx="70.5" cy="372.8" r="0.9" fill="#00BA38" fill-opacity="0.45"/>
<circle cx="68.1" cy="373" r="0.9" fill="#619CFF" fill-opacity="0.45"/>
<circle cx="68.3" cy="372.7" r="0.9" fill="#619CFF" fill-opacity="0.45"/>
<circle cx="68.4" cy="397.8" r="0.9" fill="#F8766D" fill-opacity="0.45"/>
<circle cx="75.4" cy="400.8" r="0.9" fill="#F8766D" fill-opacity="0.45"/>
<circle cx="143.3" cy="386.9" r="0.9" fill="#619CFF" fill-opacity="0.45"/>
<circle cx="69.3" cy="369.7" r="0.9" fill="#619CFF" fill-opacity="0.45"/>
<circle cx="69.3" cy="407.8" r="0.9" fill="#F8766D" fill-opacity="0.45"/>
<circle cx="68.6" cy="368" r="0.9" fill="#00BA38" fill-opacity="0.45"/>
<circle cx="104.5" cy="382.1" r="0.9" fill="#F8766D" fill-opacity="0.45"/>
<circle cx="68.6" cy="392.7" r="0.9" fill="#F8766D" fill-opacity="0.45"/>
<circle cx="70" cy="395.3" r="0.9" fill="#F8766D" fill-opacity="0.45"/>
<circle cx="69.2" cy="373.8" r="0.9" fill="#619CFF" fill-opacity="0.45"/>
<circle cx="66.7" cy="398.2" r="0.9" fill="#F8766D" fill-opacity="0.45"/>
<circle cx="173.2" cy="403.4" r="0.9" fill="#F8766D" fill-opacity="0.45"/>
<circle cx="69" cy="403.3" r="0.9" fill="#F8766D" fill-opacity="0.45"/>
<circle cx="69.1" cy="396.8" r="0.9" fill="#00BA38" fill-opacity="0.45"/>
<circle cx="67.9" cy="406.1" r="0.9" fill="#F8766D" fill-opacity="0.45"/>
<circle cx="85.7" cy="381.4" r="0.9" fill="#619CFF" fill-opacity="0.45"/>
<circle cx="70.3" cy="385.4" r="0.9" fill="#00BA38" fill-opacity="0.45"/>
<circle cx="69.6" cy="390.9" r="0.9" fill="#00BA38" fill-opacity="0.45"/>
<circle cx="72.4" cy="392" r="0.9" fill="#00BA38" fill-opacity="0.45"/>
<circle cx="69.1" cy="395.9" r="0.9" fill="#F8766D" fill-opacity="0.45"/>
<circle cx="69.9" cy="412.1" r="0.9" fill="#F8766D" fill-opacity="0.45"/>
<circle cx="69" cy="392.6" r="0.9" fill="#F8766D" fill-opacity="0.45"/>
<circle cx="66.8" cy="405.1" r="0.9" fill="#F8766D" fill-opacity="0.45"/>
<circle cx="69.4" cy="361.7" r="0.9" fill="#619CFF" fill-opacity="0.45"/>
<circle cx="68.1" cy="405.8" r="0.9" fill="#F8766D" fill-opacity="0.45"/>
<circle cx="68.9" cy="368.4" r="0.9" fill="#00BA38" fill-opacity="0.45"/>
<circle cx="68.9" cy="393.5" r="0.9" fill="#619CFF" fill-opacity="0.45"/>
<circle cx="67.7" cy="379.2" r="0.9" fill="#619CFF" fill-opacity="0.45"/>
<circle cx="69.2" cy="417.2" r="0.9" fill="#F8766D" fill-opacity="0.45"/>
<circle cx="68.1" cy="370.1" r="0.9" fill="#00BA38" fill-opacity="0.45"/>
<circle cx="176.6" cy="398.9" r="0.9" fill="#F8766D" fill-opacity="0.45"/>
<circle cx="195.2" cy="403.9" r="0.9" fill="#F8766D" fill-opacity="0.45"/>
<circle cx="69.9" cy="373.2" r="0.9" fill="#619CFF" fill-opacity="0.45"/>
<circle cx="68.6" cy="394" r="0.9" fill="#F8766D" fill-opacity="0.45"/>
<circle cx="71.9" cy="381" r="0.9" fill="#619CFF" fill-opacity="0.45"/>
<circle cx="66.3" cy="397.7" r="0.9" fill="#F8766D" fill-opacity="0.45"/>
<circle cx="143.5" cy="398.3" r="0.9" fill="#00BA38" fill-opacity="0.45"/>
<circle cx="69" cy="403" r="0.9" fill="#F8766D" fill-opacity="0.45"/>
<circle cx="69.6" cy="384.5" r="0.9" fill="#00BA38" fill-opacity="0.45"/>
<circle cx="69.8" cy="388.7" r="0.9" fill="#F8766D" fill-opacity="0.45"/>
<circle cx="69.6" cy="391.6" r="0.9" fill="#F8766D" fill-opacity="0.45"/>
<circle cx="190.8" cy="411.1" r="0.9" fill="#F8766D" fill-opacity="0.45"/>
<circle cx="69.7" cy="379.9" r="0.9" fill="#00BA38" fill-opacity="0.45"/>
<circle cx="86.9" cy="380.3" r="0.9" fill="#00BA38" fill-opacity="0.45"/>
<circle cx="66.6" cy="376.1" r="0.9" fill="#619CFF" fill-opacity="0.45"/>
<circle cx="161" cy="413.2" r="0.9" fill="#F8766D" fill-opacity="0.45"/>
<circle cx="101.8" cy="402.3" r="0.9" fill="#F8766D" fill-opacity="0.45"/>
<circle cx="69.4" cy="398.7" r="0.9" fill="#F8766D" fill-opacity="0.45"/>
<circle cx="69.6" cy="378" r="0.9" fill="#619CFF" fill-opacity="0.45"/>
<circle cx="101.5" cy="410.6" r="0.9" fill="#F8766D" fill-opacity="0.45"/>
<circle cx="161" cy="393.8" r="0.9" fill="#00BA38" fill-opacity="0.45"/>
<circle cx="67.5" cy="389.7" r="0.9" fill="#00BA38" fill-opacity="0.45"/>
<circle cx="69.8" cy="400" r="0.9" fill="#F8766D" fill-opacity="0.45"/>
<circle cx="131.4" cy="388.9" r="0.9" fill="#F8766D" fill-opacity="0.45"/>
<circle cx="69.8" cy="386.3" r="0.9" fill="#F8766D" fill-opacity="0.45"/>
<circle cx="88" cy="391.7" r="0.9" fill="#00BA38" fill-opacity="0.45"/>
<circle cx="68.5" cy="395.3" r="0.9" fill="#F8766D" fill-opacity="0.45"/>
<circle cx="181.4" cy="408.7" r="0.9" fill="#F8766D" fill-opacity="0.45"/>
<circle cx="68.3" cy="406.9" r="0.9" fill="#F8766D" fill-opacity="0.45"/>
<circle cx="68.1" cy="378.2" r="0.9" fill="#00BA38" fill-opacity="0.45"/>
<circle cx="66.6" cy="379.8" r="0.9" fill="#00BA38" fill-opacity="0.45"/>
<circle cx="83.7" cy="384.8" r="0.9" fill="#00BA38" fill-opacity="0.45"/>
<circle cx="67.5" cy="401.5" r="0.9" fill="#F8766D" fill-opacity="0.45"/>
<circle cx="181.4" cy="407.4" r="0.9" fill="#F8766D" fill-opacity="0.45"/>
<circle cx="79.2" cy="410.5" r="0.9" fill="#F8766D" fill-opacity="0.45"/>
<circle cx="147.9" cy="408.4" r="0.9" fill="#F8766D" fill-opacity="0.45"/>
<circle cx="69" cy="397.9" r="0.9" fill="#F8766D" fill-opacity="0.45"/>
<circle cx="149.8" cy="413" r="0.9" fill="#F8766D" fill-opacity="0.45"/>
<circle cx="68.7" cy="410.3" r="0.9" fill="#F8766D" fill-opacity="0.45"/>
<circle cx="71.3" cy="379.8" r="0.9" fill="#00BA38" fill-opacity="0.45"/>
<circle cx="69.5" cy="394.1" r="0.9" fill="#F8766D" fill-opacity="0.45"/>
<circle cx="90.6" cy="385.2" r="0.9" fill="#00BA38" fill-opacity="0.45"/>
<circle cx="92.5" cy="377.5" r="0.9" fill="#00BA38" fill-opacity="0.45"/>
<circle cx="67.6" cy="405.7" r="0.9" fill="#F8766D" fill-opacity="0.45"/>
<circle cx="70.3" cy="373.7" r="0.9" fill="#619CFF" fill-opacity="0.45"/>
<circle cx="68.4" cy="390.2" r="0.9" fill="#00BA38" fill-opacity="0.45"/>
<circle cx="155.3" cy="384" r="0.9" fill="#00BA38" fill-opacity="0.45"/>
<circle cx="68.4" cy="379.6" r="0.9" fill="#00BA38" fill-opacity="0.45"/>
<circle cx="78.6" cy="392.2" r="0.9" fill="#00BA38" fill-opacity="0.45"/>
<circle cx="67.6" cy="395.2" r="0.9" fill="#F8766D" fill-opacity="0.45"/>
<circle cx="69.3" cy="386.4" r="0.9" fill="#00BA38" fill-opacity="0.45"/>
<circle cx="99.4" cy="381.2" r="0.9" fill="#619CFF" fill-opacity="0.45"/>
<circle cx="70.3" cy="371.5" r="0.9" fill="#00BA38" fill-opacity="0.45"/>
<circle cx="69.8" cy="391.5" r="0.9" fill="#F8766D" fill-opacity="0.45"/>
<circle cx="67.6" cy="364.3" r="0.9" fill="#00BA38" fill-opacity="0.45"/>
<circle cx="191.6" cy="391.6" r="0.9" fill="#F8766D" fill-opacity="0.45"/>
<circle cx="68.7" cy="376.1" r="0.9" fill="#00BA38" fill-opacity="0.45"/>
<circle cx="67.8" cy="406.4" r="0.9" fill="#F8766D" fill-opacity="0.45"/>
<circle cx="106.8" cy="390.6" r="0.9" fill="#F8766D" fill-opacity="0.45"/>
<circle cx="69.5" cy="392.4" r="0.9" fill="#F8766D" fill-opacity="0.45"/>
<circle cx="69.9" cy="365.3" r="0.9" fill="#00BA38" fill-opacity="0.45"/>
<circle cx="159.1" cy="412.3" r="0.9" fill="#F8766D" fill-opacity="0.45"/>
<circle cx="67.9" cy="365.2" r="0.9" fill="#619CFF" fill-opacity="0.45"/>
<circle cx="70.3" cy="393.3" r="0.9" fill="#F8766D" fill-opacity="0.45"/>
<circle cx="130.6" cy="394.3" r="0.9" fill="#F8766D" fill-opacity="0.45"/>
<circle cx="134.3" cy="400.6" r="0.9" fill="#F8766D" fill-opacity="0.45"/>
<circle cx="68.1" cy="383.1" r="0.9" fill="#619CFF" fill-opacity="0.45"/>
<circle cx="69.2" cy="391.2" r="0.9" fill="#00BA38" fill-opacity="0.45"/>
<circle cx="173.1" cy="413.1" r="0.9" fill="#F8766D" fill-opacity="0.45"/>
<circle cx="66.7" cy="377.1" r="0.9" fill="#619CFF" fill-opacity="0.45"/>
<circle cx="70.2" cy="410.4" r="0.9" fill="#F8766D" fill-opacity="0.45"/>
<circle cx="68" cy="400.8" r="0.9" fill="#F8766D" fill-opacity="0.45"/>
<circle cx="75" cy="407.4" r="0.9" fill="#F8766D" fill-opacity="0.45"/>
<circle cx="68.5" cy="395.2" r="0.9" fill="#F8766D" fill-opacity="0.45"/>
<circle cx="68.3" cy="395.6" r="0.9" fill="#F8766D" fill-opacity="0.45"/>
<circle cx="67.3" cy="384.2" r="0.9" fill="#F8766D" fill-opacity="0.45"/>
<circle cx="68.3" cy="397.4" r="0.9" fill="#F8766D" fill-opacity="0.45"/>
<circle cx="71.9" cy="389.3" r="0.9" fill="#619CFF" fill-opacity="0.45"/>
<circle cx="69.8" cy="383.2" r="0.9" fill="#619CFF" fill-opacity="0.45"/>
<circle cx="79" cy="390.5" r="0.9" fill="#F8766D" fill-opacity="0.45"/>
<circle cx="86.6" cy="385.8" r="0.9" fill="#F8766D" fill-opacity="0.45"/>
<circle cx="140.3" cy="388.7" r="0.9" fill="#00BA38" fill-opacity="0.45"/>
<circle cx="68.5" cy="387.6" r="0.9" fill="#F8766D" fill-opacity="0.45"/>
<circle cx="203.8" cy="406.8" r="0.9" fill="#F8766D" fill-opacity="0.45"/>
<circle cx="153.6" cy="397.9" r="0.9" fill="#00BA38" fill-opacity="0.45"/>
<circle cx="69.9" cy="379.9" r="0.9" fill="#00BA38" fill-opacity="0.45"/>
<circle cx="120.6" cy="396.3" r="0.9" fill="#00BA38" fill-opacity="0.45"/>
<circle cx="69" cy="404" r="0.9" fill="#F8766D" fill-opacity="0.45"/>
<circle cx="69.4" cy="411.6" r="0.9" fill="#F8766D" fill-opacity="0.45"/>
<circle cx="67.3" cy="399.1" r="0.9" fill="#F8766D" fill-opacity="0.45"/>
<circle cx="183.7" cy="416.5" r="0.9" fill="#F8766D" fill-opacity="0.45"/>
<circle cx="69.5" cy="377.5" r="0.9" fill="#619CFF" fill-opacity="0.45"/>
<circle cx="69.3" cy="391.4" r="0.9" fill="#F8766D" fill-opacity="0.45"/>
<circle cx="192" cy="420.9" r="0.9" fill="#F8766D" fill-opacity="0.45"/>
<circle cx="143.2" cy="381.6" r="0.9" fill="#619CFF" fill-opacity="0.45"/>
<circle cx="91.3" cy="391.7" r="0.9" fill="#00BA38" fill-opacity="0.45"/>
<circle cx="68.8" cy="367.2" r="0.9" fill="#619CFF" fill-opacity="0.45"/>
<circle cx="70.3" cy="372.6" r="0.9" fill="#619CFF" fill-opacity="0.45"/>
<circle cx="68.7" cy="406" r="0.9" fill="#F8766D" fill-opacity="0.45"/>
<circle cx="154.7" cy="414.3" r="0.9" fill="#F8766D" fill-opacity="0.45"/>
<circle cx="70.7" cy="395.3" r="0.9" fill="#F8766D" fill-opacity="0.45"/>
<circle cx="186.2" cy="410.1" r="0.9" fill="#F8766D" fill-opacity="0.45"/>
<circle cx="202.7" cy="409.8" r="0.9" fill="#F8766D" fill-opacity="0.45"/>
<circle cx="68.7" cy="375.4" r="0.9" fill="#619CFF" fill-opacity="0.45"/>
<circle cx="67.9" cy="390" r="0.9" fill="#00BA38" fill-opacity="0.45"/>
<circle cx="69" cy="373.5" r="0.9" fill="#00BA38" fill-opacity="0.45"/>
<circle cx="161.1" cy="396.5" r="0.9" fill="#F8766D" fill-opacity="0.45"/>
<circle cx="68.2" cy="387.9" r="0.9" fill="#00BA38" fill-opacity="0.45"/>
<circle cx="68.3" cy="404.2" r="0.9" fill="#F8766D" fill-opacity="0.45"/>
<circle cx="178.3" cy="416.8" r="0.9" fill="#F8766D" fill-opacity="0.45"/>
<circle cx="67.9" cy="387.5" r="0.9" fill="#00BA38" fill-opacity="0.45"/>
<circle cx="153.2" cy="403.2" r="0.9" fill="#F8766D" fill-opacity="0.45"/>
<circle cx="136.5" cy="428.3" r="0.9" fill="#F8766D" fill-opacity="0.45"/>
<circle cx="68.1" cy="385" r="0.9" fill="#00BA38" fill-opacity="0.45"/>
<circle cx="69.4" cy="388.1" r="0.9" fill="#00BA38" fill-opacity="0.45"/>
<circle cx="69.4" cy="393.7" r="0.9" fill="#F8766D" fill-opacity="0.45"/>
<circle cx="67.9" cy="367.7" r="0.9" fill="#619CFF" fill-opacity="0.45"/>
<circle cx="142" cy="417" r="0.9" fill="#F8766D" fill-opacity="0.45"/>
<circle cx="67.5" cy="402.4" r="0.9" fill="#F8766D" fill-opacity="0.45"/>
<circle cx="121.4" cy="398.7" r="0.9" fill="#F8766D" fill-opacity="0.45"/>
<circle cx="155" cy="403.2" r="0.9" fill="#F8766D" fill-opacity="0.45"/>
<circle cx="192.2" cy="404.6" r="0.9" fill="#F8766D" fill-opacity="0.45"/>
<circle cx="107.7" cy="410" r="0.9" fill="#F8766D" fill-opacity="0.45"/>
<circle cx="69" cy="373.9" r="0.9" fill="#00BA38" fill-opacity="0.45"/>
<circle cx="68.9" cy="383.7" r="0.9" fill="#00BA38" fill-opacity="0.45"/>
<circle cx="69.4" cy="409.1" r="0.9" fill="#F8766D" fill-opacity="0.45"/>
<circle cx="69.5" cy="402" r="0.9" fill="#F8766D" fill-opacity="0.45"/>
<circle cx="67.1" cy="376.2" r="0.9" fill="#619CFF" fill-opacity="0.45"/>
<circle cx="69.5" cy="396.2" r="0.9" fill="#F8766D" fill-opacity="0.45"/>
<circle cx="104.7" cy="408.6" r="0.9" fill="#F8766D" fill-opacity="0.45"/>
<circle cx="68.1" cy="404.5" r="0.9" fill="#F8766D" fill-opacity="0.45"/>
<circle cx="68.8" cy="389.8" r="0.9" fill="#00BA38" fill-opacity="0.45"/>
<circle cx="90.9" cy="389" r="0.9" fill="#00BA38" fill-opacity="0.45"/>
<circle cx="85.6" cy="388.9" r="0.9" fill="#00BA38" fill-opacity="0.45"/>
<circle cx="167.2" cy="410.1" r="0.9" fill="#F8766D" fill-opacity="0.45"/>
<circle cx="90.6" cy="386" r="0.9" fill="#00BA38" fill-opacity="0.45"/>
<circle cx="97.8" cy="388.6" r="0.9" fill="#F8766D" fill-opacity="0.45"/>
<circle cx="67.4" cy="403" r="0.9" fill="#F8766D" fill-opacity="0.45"/>
<circle cx="68.6" cy="388.4" r="0.9" fill="#619CFF" fill-opacity="0.45"/>
<circle cx="69.3" cy="376.9" r="0.9" fill="#619CFF" fill-opacity="0.45"/>
<circle cx="158.1" cy="407.8" r="0.9" fill="#F8766D" fill-opacity="0.45"/>
<circle cx="87.9" cy="394" r="0.9" fill="#F8766D" fill-opacity="0.45"/>
<circle cx="145.1" cy="400" r="0.9" fill="#F8766D" fill-opacity="0.45"/>
<circle cx="66.3" cy="380.8" r="0.9" fill="#00BA38" fill-opacity="0.45"/>
<circle cx="69.9" cy="368.8" r="0.9" fill="#619CFF" fill-opacity="0.45"/>
<circle cx="69.1" cy="368.6" r="0.9" fill="#619CFF" fill-opacity="0.45"/>
<circle cx="89.2" cy="398.3" r="0.9" fill="#F8766D" fill-opacity="0.45"/>
<circle cx="68.5" cy="376.4" r="0.9" fill="#00BA38" fill-opacity="0.45"/>
<circle cx="68" cy="360.3" r="0.9" fill="#619CFF" fill-opacity="0.45"/>
<circle cx="70.9" cy="387.4" r="0.9" fill="#619CFF" fill-opacity="0.45"/>
<circle cx="92.1" cy="393.3" r="0.9" fill="#619CFF" fill-opacity="0.45"/>
<circle cx="70" cy="371.8" r="0.9" fill="#00BA38" fill-opacity="0.45"/>
<circle cx="69.7" cy="400.5" r="0.9" fill="#F8766D" fill-opacity="0.45"/>
<circle cx="70.3" cy="377.1" r="0.9" fill="#00BA38" fill-opacity="0.45"/>
<circle cx="67.7" cy="407.3" r="0.9" fill="#F8766D" fill-opacity="0.45"/>
<circle cx="69.5" cy="401.1" r="0.9" fill="#F8766D" fill-opacity="0.45"/>
<circle cx="69.7" cy="377.9" r="0.9" fill="#F8766D" fill-opacity="0.45"/>
<circle cx="71.1" cy="381.9" r="0.9" fill="#F8766D" fill-opacity="0.45"/>
<circle cx="67.6" cy="390.2" r="0.9" fill="#F8766D" fill-opacity="0.45"/>
<circle cx="68.6" cy="398.2" r="0.9" fill="#F8766D" fill-opacity="0.45"/>
<circle cx="93.1" cy="404" r="0.9" fill="#F8766D" fill-opacity="0.45"/>
<circle cx="87.5" cy="400.8" r="0.9" fill="#F8766D" fill-opacity="0.45"/>
<circle cx="140.4" cy="388" r="0.9" fill="#619CFF" fill-opacity="0.45"/>
<circle cx="205.1" cy="414.9" r="0.9" fill="#F8766D" fill-opacity="0.45"/>
<circle cx="78.6" cy="386.5" r="0.9" fill="#F8766D" fill-opacity="0.45"/>
<circle cx="81.2" cy="381.1" r="0.9" fill="#00BA38" fill-opacity="0.45"/>
<circle cx="68.3" cy="382.8" r="0.9" fill="#619CFF" fill-opacity="0.45"/>
<circle cx="75.2" cy="416.8" r="0.9" fill="#F8766D" fill-opacity="0.45"/>
<circle cx="134.8" cy="419.3" r="0.9" fill="#F8766D" fill-opacity="0.45"/>
<circle cx="67.5" cy="376.9" r="0.9" fill="#619CFF" fill-opacity="0.45"/>
<circle cx="101.6" cy="382.2" r="0.9" fill="#00BA38" fill-opacity="0.45"/>
<circle cx="67.7" cy="411.5" r="0.9" fill="#F8766D" fill-opacity="0.45"/>
<circle cx="69.3" cy="396.6" r="0.9" fill="#F8766D" fill-opacity="0.45"/>
<circle cx="129.3" cy="394.8" r="0.9" fill="#F8766D" fill-opacity="0.45"/>
<circle cx="89.6" cy="390.3" r="0.9" fill="#619CFF" fill-opacity="0.45"/>
<circle cx="65.7" cy="357.6" r="0.9" fill="#00BA38" fill-opacity="0.45"/>
<circle cx="133.3" cy="417.5" r="0.9" fill="#F8766D" fill-opacity="0.45"/>
<circle cx="198.5" cy="412.7" r="0.9" fill="#F8766D" fill-opacity="0.45"/>
<circle cx="69" cy="413.3" r="0.9" fill="#F8766D" fill-opacity="0.45"/>
<circle cx="111.5" cy="399.9" r="0.9" fill="#F8766D" fill-opacity="0.45"/>
<circle cx="76.6" cy="401.2" r="0.9" fill="#F8766D" fill-opacity="0.45"/>
<circle cx="68.2" cy="385.2" r="0.9" fill="#00BA38" fill-opacity="0.45"/>
<circle cx="67.7" cy="373.9" r="0.9" fill="#00BA38" fill-opacity="0.45"/>
<circle cx="68.2" cy="406.9" r="0.9" fill="#F8766D" fill-opacity="0.45"/>
<circle cx="192.9" cy="406.6" r="0.9" fill="#F8766D" fill-opacity="0.45"/>
<circle cx="166.4" cy="414.9" r="0.9" fill="#F8766D" fill-opacity="0.45"/>
<circle cx="67.9" cy="363.9" r="0.9" fill="#619CFF" fill-opacity="0.45"/>
<circle cx="124.7" cy="399.3" r="0.9" fill="#00BA38" fill-opacity="0.45"/>
<circle cx="204.1" cy="409.2" r="0.9" fill="#F8766D" fill-opacity="0.45"/>
<circle cx="134" cy="386.7" r="0.9" fill="#00BA38" fill-opacity="0.45"/>
<circle cx="151.2" cy="398.4" r="0.9" fill="#F8766D" fill-opacity="0.45"/>
<circle cx="68.1" cy="375.1" r="0.9" fill="#619CFF" fill-opacity="0.45"/>
<circle cx="182.1" cy="408.6" r="0.9" fill="#F8766D" fill-opacity="0.45"/>
<circle cx="140.3" cy="390.2" r="0.9" fill="#00BA38" fill-opacity="0.45"/>
<circle cx="68.1" cy="367.4" r="0.9" fill="#619CFF" fill-opacity="0.45"/>
<circle cx="139.3" cy="404.4" r="0.9" fill="#F8766D" fill-opacity="0.45"/>
<circle cx="68.1" cy="371.1" r="0.9" fill="#619CFF" fill-opacity="0.45"/>
<circle cx="68.1" cy="375.7" r="0.9" fill="#619CFF" fill-opacity="0.45"/>
<circle cx="68" cy="379.9" r="0.9" fill="#F8766D" fill-opacity="0.45"/>
<circle cx="71.1" cy="400.2" r="0.9" fill="#F8766D" fill-opacity="0.45"/>
<circle cx="171.3" cy="399.9" r="0.9" fill="#F8766D" fill-opacity="0.45"/>
<circle cx="92.4" cy="367.9" r="0.9" fill="#00BA38" fill-opacity="0.45"/>
<circle cx="115.4" cy="383.2" r="0.9" fill="#619CFF" fill-opacity="0.45"/>
<circle cx="68.4" cy="390.5" r="0.9" fill="#F8766D" fill-opacity="0.45"/>
<circle cx="77.5" cy="384.3" r="0.9" fill="#00BA38" fill-opacity="0.45"/>
<circle cx="103.3" cy="381.5" r="0.9" fill="#619CFF" fill-opacity="0.45"/>
<circle cx="68.7" cy="371.2" r="0.9" fill="#619CFF" fill-opacity="0.45"/>
<circle cx="70.5" cy="399" r="0.9" fill="#F8766D" fill-opacity="0.45"/>
<circle cx="94.9" cy="397" r="0.9" fill="#F8766D" fill-opacity="0.45"/>
<circle cx="69.5" cy="404.8" r="0.9" fill="#F8766D" fill-opacity="0.45"/>
<circle cx="72.2" cy="392.8" r="0.9" fill="#619CFF" fill-opacity="0.45"/>
<circle cx="69.8" cy="367.1" r="0.9" fill="#00BA38" fill-opacity="0.45"/>
<circle cx="68.5" cy="389" r="0.9" fill="#00BA38" fill-opacity="0.45"/>
<circle cx="92.5" cy="390.1" r="0.9" fill="#00BA38" fill-opacity="0.45"/>
<circle cx="192.5" cy="399" r="0.9" fill="#F8766D" fill-opacity="0.45"/>
<circle cx="121.5" cy="391.3" r="0.9" fill="#00BA38" fill-opacity="0.45"/>
<circle cx="158.5" cy="383.3" r="0.9" fill="#619CFF" fill-opacity="0.45"/>
<circle cx="67.8" cy="370.6" r="0.9" fill="#00BA38" fill-opacity="0.45"/>
<circle cx="69.2" cy="388.7" r="0.9" fill="#F8766D" fill-opacity="0.45"/>
<circle cx="111.8" cy="387.3" r="0.9" fill="#619CFF" fill-opacity="0.45"/>
<circle cx="68.8" cy="388.5" r="0.9" fill="#00BA38" fill-opacity="0.45"/>
<circle cx="66.9" cy="370.1" r="0.9" fill="#619CFF" fill-opacity="0.45"/>
<circle cx="193.2" cy="404.4" r="0.9" fill="#F8766D" fill-opacity="0.45"/>
<circle cx="85.5" cy="396.1" r="0.9" fill="#F8766D" fill-opacity="0.45"/>
<circle cx="95.7" cy="388.1" r="0.9" fill="#00BA38" fill-opacity="0.45"/>
<circle cx="69.2" cy="374.6" r="0.9" fill="#00BA38" fill-opacity="0.45"/>
<circle cx="70.3" cy="397.4" r="0.9" fill="#F8766D" fill-opacity="0.45"/>
<circle cx="70.4" cy="401.1" r="0.9" fill="#00BA38" fill-opacity="0.45"/>
<circle cx="147.3" cy="392.3" r="0.9" fill="#00BA38" fill-opacity="0.45"/>
<circle cx="68" cy="407.6" r="0.9" fill="#F8766D" fill-opacity="0.45"/>
<circle cx="67.8" cy="372.6" r="0.9" fill="#619CFF" fill-opacity="0.45"/>
<circle cx="165.6" cy="406.2" r="0.9" fill="#F8766D" fill-opacity="0.45"/>
<circle cx="81.2" cy="402.9" r="0.9" fill="#F8766D" fill-opacity="0.45"/>
<circle cx="108.5" cy="379.2" r="0.9" fill="#619CFF" fill-opacity="0.45"/>
<circle cx="66.9" cy="404.8" r="0.9" fill="#00BA38" fill-opacity="0.45"/>
<circle cx="68" cy="374.5" r="0.9" fill="#619CFF" fill-opacity="0.45"/>
<circle cx="198.8" cy="425.4" r="0.9" fill="#F8766D" fill-opacity="0.45"/>
<circle cx="67.3" cy="409.9" r="0.9" fill="#F8766D" fill-opacity="0.45"/>
<circle cx="147.7" cy="408.1" r="0.9" fill="#00BA38" fill-opacity="0.45"/>
<circle cx="72.9" cy="379.1" r="0.9" fill="#00BA38" fill-opacity="0.45"/>
<circle cx="68.2" cy="395" r="0.9" fill="#F8766D" fill-opacity="0.45"/>
<circle cx="67.5" cy="392.7" r="0.9" fill="#F8766D" fill-opacity="0.45"/>
<circle cx="67.6" cy="403.2" r="0.9" fill="#F8766D" fill-opacity="0.45"/>
<circle cx="122.1" cy="376.5" r="0.9" fill="#00BA38" fill-opacity="0.45"/>
<circle cx="68.8" cy="373.6" r="0.9" fill="#00BA38" fill-opacity="0.45"/>
<circle cx="130.4" cy="396.9" r="0.9" fill="#F8766D" fill-opacity="0.45"/>
<circle cx="67.1" cy="390.8" r="0.9" fill="#00BA38" fill-opacity="0.45"/>
<circle cx="83.1" cy="389.1" r="0.9" fill="#619CFF" fill-opacity="0.45"/>
<circle cx="69" cy="407.5" r="0.9" fill="#F8766D" fill-opacity="0.45"/>
<circle cx="166.9" cy="403.7" r="0.9" fill="#F8766D" fill-opacity="0.45"/>
<circle cx="92.4" cy="412.3" r="0.9" fill="#F8766D" fill-opacity="0.45"/>
<circle cx="68.8" cy="399.8" r="0.9" fill="#F8766D" fill-opacity="0.45"/>
<circle cx="67.7" cy="407.2" r="0.9" fill="#F8766D" fill-opacity="0.45"/>
<circle cx="69.9" cy="362.4" r="0.9" fill="#619CFF" fill-opacity="0.45"/>
<circle cx="142" cy="395.3" r="0.9" fill="#00BA38" fill-opacity="0.45"/>
<circle cx="68.2" cy="396.2" r="0.9" fill="#F8766D" fill-opacity="0.45"/>
<circle cx="68.7" cy="393.6" r="0.9" fill="#619CFF" fill-opacity="0.45"/>
<circle cx="67.3" cy="400.3" r="0.9" fill="#F8766D" fill-opacity="0.45"/>
<circle cx="69" cy="367.1" r="0.9" fill="#00BA38" fill-opacity="0.45"/>
<line x1="69.6" y1="395.4" x2="201.9" y2="412.4" stroke="#F8766D" stroke-width="1.2" stroke-opacity="0.85"/>
<line x1="69.6" y1="384.4" x2="168" y2="394.6" stroke="#00BA38" stroke-width="1.2" stroke-opacity="0.8"/>
<line x1="69.6" y1="382.3" x2="167.1" y2="386.5" stroke="#619CFF" stroke-width="1.2" stroke-opacity="0.85"/>
<line x1="52.4" y1="332" x2="52.4" y2="513.5" stroke="#333" stroke-width="1.1" />
<line x1="51.9" y1="513" x2="227.8" y2="513" stroke="#333" stroke-width="1.1" />
<line x1="49.8" y1="349.3" x2="52.4" y2="349.3" stroke="#333" stroke-width="1" />
<text x="48.2" y="351.9" font-size="7.3" fill="#222" font-weight="normal" text-anchor="end" >10000</text>
<line x1="49.8" y1="388.4" x2="52.4" y2="388.4" stroke="#333" stroke-width="1" />
<text x="48.2" y="391" font-size="7.3" fill="#222" font-weight="normal" text-anchor="end" >1000</text>
<line x1="49.8" y1="427.4" x2="52.4" y2="427.4" stroke="#333" stroke-width="1" />
<text x="48.2" y="430.1" font-size="7.3" fill="#222" font-weight="normal" text-anchor="end" >100</text>
<line x1="49.8" y1="466.5" x2="52.4" y2="466.5" stroke="#333" stroke-width="1" />
<text x="48.2" y="469.1" font-size="7.3" fill="#222" font-weight="normal" text-anchor="end" >10</text>
<line x1="77.1" y1="513" x2="77.1" y2="515.6" stroke="#333" stroke-width="1" />
<text x="77.1" y="523.1" font-size="7.5" fill="#333" font-weight="normal" text-anchor="middle" >0.1</text>
<line x1="93" y1="513" x2="93" y2="515.6" stroke="#333" stroke-width="1" />
<text x="93" y="523.1" font-size="7.5" fill="#333" font-weight="normal" text-anchor="middle" >0.2</text>
<line x1="108.8" y1="513" x2="108.8" y2="515.6" stroke="#333" stroke-width="1" />
<text x="108.8" y="523.1" font-size="7.5" fill="#333" font-weight="normal" text-anchor="middle" >0.3</text>
<line x1="124.7" y1="513" x2="124.7" y2="515.6" stroke="#333" stroke-width="1" />
<text x="124.7" y="523.1" font-size="7.5" fill="#333" font-weight="normal" text-anchor="middle" >0.4</text>
<line x1="140.5" y1="513" x2="140.5" y2="515.6" stroke="#333" stroke-width="1" />
<text x="140.5" y="523.1" font-size="7.5" fill="#333" font-weight="normal" text-anchor="middle" >0.5</text>
<line x1="156.3" y1="513" x2="156.3" y2="515.6" stroke="#333" stroke-width="1" />
<text x="156.3" y="523.1" font-size="7.5" fill="#333" font-weight="normal" text-anchor="middle" >0.6</text>
<line x1="172.2" y1="513" x2="172.2" y2="515.6" stroke="#333" stroke-width="1" />
<text x="172.2" y="523.1" font-size="7.5" fill="#333" font-weight="normal" text-anchor="middle" >0.7</text>
<line x1="188.1" y1="513" x2="188.1" y2="515.6" stroke="#333" stroke-width="1" />
<text x="188.1" y="523.1" font-size="7.5" fill="#333" font-weight="normal" text-anchor="middle" >0.8</text>
<line x1="203.9" y1="513" x2="203.9" y2="515.6" stroke="#333" stroke-width="1" />
<text x="203.9" y="523.1" font-size="7.5" fill="#333" font-weight="normal" text-anchor="middle" >0.9</text>
<line x1="219.8" y1="513" x2="219.8" y2="515.6" stroke="#333" stroke-width="1" />
<text x="219.8" y="523.1" font-size="7.5" fill="#333" font-weight="normal" text-anchor="middle" >1.0</text>
<text x="148.5" y="538.8" font-size="10" fill="#000" font-weight="bold" text-anchor="middle" ><tspan font-style="italic">RBBP8</tspan> promoter methylation</text>
<text transform="translate(22.7,422) rotate(-90)" font-size="10.5" fill="#000" font-weight="bold" text-anchor="middle" ><tspan font-style="italic">RBBP8</tspan> mRNA expression</text>
<line x1="69.2" y1="475" x2="78.4" y2="475" stroke="#F8766D" stroke-width="1.2" />
<text x="81.4" y="478.3" font-size="9.3" fill="#222" font-weight="normal" text-anchor="start" >BLCA</text>
<text x="112.8" y="478.3" font-size="9.3" fill="#222" font-weight="normal" text-anchor="start" xml:space="preserve" textLength="80" lengthAdjust="spacing">&#961;: -0.32, p&lt;0.0001</text>
<line x1="69.2" y1="485.5" x2="78.4" y2="485.5" stroke="#00BA38" stroke-width="1.2" />
<text x="81.4" y="488.8" font-size="9.3" fill="#222" font-weight="normal" text-anchor="start" >HNSC</text>
<text x="112.8" y="488.8" font-size="9.3" fill="#222" font-weight="normal" text-anchor="start" xml:space="preserve" textLength="79.5" lengthAdjust="spacing">&#961;: -0.02, p=0.3467</text>
<line x1="69.2" y1="496" x2="78.4" y2="496" stroke="#619CFF" stroke-width="1.2" />
<text x="81.4" y="499.3" font-size="9.3" fill="#222" font-weight="normal" text-anchor="start" >LUSC</text>
<text x="112.8" y="499.3" font-size="9.3" fill="#222" font-weight="normal" text-anchor="start" xml:space="preserve" textLength="78.8" lengthAdjust="spacing">&#961;:  0.08, p=0.1567</text>
<line x1="301.5" y1="353.3" x2="301.5" y2="383.5" stroke="#1a1a1a" stroke-width="1.5" />
<line x1="296.7" y1="354" x2="301.5" y2="354" stroke="#1a1a1a" stroke-width="1.4" />
<line x1="296.7" y1="368.8" x2="301.5" y2="368.8" stroke="#1a1a1a" stroke-width="1.4" />
<line x1="298.5" y1="359" x2="301.5" y2="359" stroke="#1a1a1a" stroke-width="1.3" />
<line x1="298.5" y1="363.9" x2="301.5" y2="363.9" stroke="#1a1a1a" stroke-width="1.3" />
<line x1="298.5" y1="373.7" x2="301.5" y2="373.7" stroke="#1a1a1a" stroke-width="1.3" />
<line x1="298.5" y1="378.5" x2="301.5" y2="378.5" stroke="#1a1a1a" stroke-width="1.3" />
<line x1="298.5" y1="382.9" x2="304.9" y2="382.9" stroke="#1a1a1a" stroke-width="1.5" />
<text x="295.2" y="357.9" font-size="11" fill="#1a1a1a" font-weight="normal" text-anchor="end" >5000</text>
<text x="295.2" y="372.2" font-size="11" fill="#1a1a1a" font-weight="normal" text-anchor="end" >4500</text>
<line x1="301.5" y1="394.5" x2="301.5" y2="509.3" stroke="#1a1a1a" stroke-width="1.5" />
<line x1="296.7" y1="394.2" x2="304.9" y2="394.2" stroke="#1a1a1a" stroke-width="1.4" />
<line x1="296.7" y1="422.8" x2="301.5" y2="422.8" stroke="#1a1a1a" stroke-width="1.4" />
<line x1="296.7" y1="451.4" x2="301.5" y2="451.4" stroke="#1a1a1a" stroke-width="1.4" />
<line x1="296.7" y1="480" x2="301.5" y2="480" stroke="#1a1a1a" stroke-width="1.4" />
<line x1="296.7" y1="508.6" x2="301.5" y2="508.6" stroke="#1a1a1a" stroke-width="1.4" />
<line x1="298.5" y1="403.7" x2="301.5" y2="403.7" stroke="#1a1a1a" stroke-width="1.3" />
<line x1="298.5" y1="413.3" x2="301.5" y2="413.3" stroke="#1a1a1a" stroke-width="1.3" />
<line x1="298.5" y1="432.3" x2="301.5" y2="432.3" stroke="#1a1a1a" stroke-width="1.3" />
<line x1="298.5" y1="441.9" x2="301.5" y2="441.9" stroke="#1a1a1a" stroke-width="1.3" />
<line x1="298.5" y1="460.9" x2="301.5" y2="460.9" stroke="#1a1a1a" stroke-width="1.3" />
<line x1="298.5" y1="470.5" x2="301.5" y2="470.5" stroke="#1a1a1a" stroke-width="1.3" />
<line x1="298.5" y1="489.5" x2="301.5" y2="489.5" stroke="#1a1a1a" stroke-width="1.3" />
<line x1="298.5" y1="499.1" x2="301.5" y2="499.1" stroke="#1a1a1a" stroke-width="1.3" />
<text x="295.2" y="398.1" font-size="11" fill="#1a1a1a" font-weight="normal" text-anchor="end" >2000</text>
<text x="295.2" y="426.7" font-size="11" fill="#1a1a1a" font-weight="normal" text-anchor="end" >1500</text>
<text x="295.2" y="455.3" font-size="11" fill="#1a1a1a" font-weight="normal" text-anchor="end" >1000</text>
<text x="295.2" y="483.9" font-size="11" fill="#1a1a1a" font-weight="normal" text-anchor="end" >500</text>
<text x="295.2" y="512.5" font-size="11" fill="#1a1a1a" font-weight="normal" text-anchor="end" >0</text>
<line x1="300.8" y1="508.6" x2="456.3" y2="508.6" stroke="#1a1a1a" stroke-width="1.6" />
<line x1="327.4" y1="508.6" x2="327.4" y2="513.2" stroke="#1a1a1a" stroke-width="1.4" />
<line x1="378.6" y1="508.6" x2="378.6" y2="513.2" stroke="#1a1a1a" stroke-width="1.4" />
<line x1="429.8" y1="508.6" x2="429.8" y2="513.2" stroke="#1a1a1a" stroke-width="1.4" />
<line x1="327.5" y1="490.4" x2="327.5" y2="484.4" stroke="#454550" stroke-width="1.2" />
<line x1="327.5" y1="454.2" x2="327.5" y2="467.5" stroke="#454550" stroke-width="1.2" />
<rect x="310.4" y="467.5" width="34.1" height="16.9" fill="#fff" stroke="#454550" stroke-width="1.3"/>
<line x1="310.4" y1="475.8" x2="344.5" y2="475.8" stroke="#454550" stroke-width="1.3" />
<line x1="318.8" y1="454.2" x2="336.2" y2="454.2" stroke="#454550" stroke-width="1.3" />
<line x1="318.8" y1="490.4" x2="336.2" y2="490.4" stroke="#454550" stroke-width="1.3" />
<line x1="378.5" y1="503.7" x2="378.5" y2="485.3" stroke="#454550" stroke-width="1.2" />
<rect x="361.4" y="452.7" width="34.1" height="32.6" fill="#c2c2c2" stroke="#454550" stroke-width="1.3"/>
<line x1="361.4" y1="471.1" x2="395.5" y2="471.1" stroke="#454550" stroke-width="1.3" />
<line x1="369.6" y1="503.7" x2="387.4" y2="503.7" stroke="#454550" stroke-width="1.3" />
<line x1="378.5" y1="394.5" x2="378.5" y2="452.7" stroke="#454550" stroke-width="1.2" />
<line x1="378.5" y1="364.6" x2="378.5" y2="383" stroke="#454550" stroke-width="1.2" />
<line x1="370.1" y1="364.6" x2="387.3" y2="364.6" stroke="#454550" stroke-width="1.3" />
<line x1="429.9" y1="506.7" x2="429.9" y2="497.3" stroke="#454550" stroke-width="1.2" />
<line x1="429.9" y1="433.3" x2="429.9" y2="477.8" stroke="#454550" stroke-width="1.2" />
<rect x="412.4" y="477.8" width="34.5" height="19.5" fill="#858585" stroke="#454550" stroke-width="1.3"/>
<line x1="412.4" y1="487.2" x2="446.9" y2="487.2" stroke="#454550" stroke-width="1.3" />
<line x1="421.4" y1="433.3" x2="438.4" y2="433.3" stroke="#454550" stroke-width="1.3" />
<line x1="421.4" y1="506.7" x2="438.4" y2="506.7" stroke="#454550" stroke-width="1.3" />
<line x1="315" y1="343.4" x2="435.6" y2="343.4" stroke="#1a1a1a" stroke-width="1.3" />
<line x1="315" y1="357.2" x2="376" y2="357.2" stroke="#1a1a1a" stroke-width="1.3" />
<line x1="382.2" y1="357.2" x2="436.6" y2="357.2" stroke="#1a1a1a" stroke-width="1.3" />
<text x="378.2" y="348.6" font-size="18" fill="#1a1a1a" font-weight="bold" text-anchor="middle" >*</text>
<text x="345.1" y="354.4" font-size="11.4" fill="#1a1a1a" font-weight="bold" text-anchor="middle" >ns</text>
<text x="406.8" y="361.2" font-size="16.6" fill="#1a1a1a" font-weight="bold" text-anchor="middle" >***</text>
<text x="330.4" y="528.6" font-size="9.4" fill="#1a1a1a" font-weight="bold" text-anchor="middle" >Normal</text>
<text x="360.6" y="528.6" font-size="8.9" fill="#1a1a1a" font-weight="bold" text-anchor="start" >RBBP8 M<tspan font-size="5" dy="-3.8">low</tspan></text>
<text x="411.6" y="528.6" font-size="8.9" fill="#1a1a1a" font-weight="bold" text-anchor="start" >RBBP8 M<tspan font-size="5" dy="-3.8">high</tspan></text>
<line x1="374" y1="537.4" x2="445.8" y2="537.4" stroke="#1a1a1a" stroke-width="1.3" />
<text x="413.3" y="551.2" font-size="11" fill="#1a1a1a" font-weight="bold" text-anchor="middle" >BLCA</text>
<text transform="translate(264.1,429.2) rotate(-90)" font-size="11.5" fill="#1a1a1a" font-weight="bold" text-anchor="middle" ><tspan font-style="italic">RBBP8</tspan> mRNA expression</text>
<line x1="56.1" y1="566.4" x2="56.1" y2="754.2" stroke="#444" stroke-width="1.1" />
<line x1="55.6" y1="753.6" x2="236.1" y2="753.6" stroke="#444" stroke-width="1.1" />
<line x1="52.9" y1="749.9" x2="56.1" y2="749.9" stroke="#444" stroke-width="1" />
<text x="48.6" y="752.4" font-size="6.9" fill="#222" font-weight="bold" text-anchor="end" >0.00</text>
<line x1="52.9" y1="700.8" x2="56.1" y2="700.8" stroke="#444" stroke-width="1" />
<text x="48.6" y="703.3" font-size="6.9" fill="#222" font-weight="bold" text-anchor="end" >0.25</text>
<line x1="52.9" y1="651.6" x2="56.1" y2="651.6" stroke="#444" stroke-width="1" />
<text x="48.6" y="654.1" font-size="6.9" fill="#222" font-weight="bold" text-anchor="end" >0.50</text>
<line x1="52.9" y1="602.5" x2="56.1" y2="602.5" stroke="#444" stroke-width="1" />
<text x="48.6" y="605" font-size="6.9" fill="#222" font-weight="bold" text-anchor="end" >0.75</text>
<text transform="translate(23.8,669) rotate(-90)" font-size="11.2" fill="#111" font-weight="bold" text-anchor="middle" >RBBP8 methylation</text>
<line x1="81.5" y1="753.6" x2="81.5" y2="756.4" stroke="#444" stroke-width="1" />
<line x1="124.4" y1="753.6" x2="124.4" y2="756.4" stroke="#444" stroke-width="1" />
<line x1="167.3" y1="753.6" x2="167.3" y2="756.4" stroke="#444" stroke-width="1" />
<line x1="210.5" y1="753.6" x2="210.5" y2="756.4" stroke="#444" stroke-width="1" />
<text transform="translate(84.9,760.2) rotate(-45)" font-size="10.3" font-weight="bold" fill="#111" text-anchor="end">basal</text>
<text transform="translate(127.8,760.2) rotate(-45)" font-size="10.3" font-weight="bold" fill="#111" text-anchor="end">luminal</text>
<text transform="translate(170.7,760.2) rotate(-45)" font-size="10.3" font-weight="bold" fill="#111" text-anchor="end">SCC-like</text>
<text transform="translate(213.9,760.2) rotate(-45)" font-size="10.3" font-weight="bold" fill="#111" text-anchor="end">NA</text>
<line x1="56.1" y1="714.1" x2="236" y2="714.1" stroke="#b09aa4" stroke-width="0.8" stroke-dasharray="3.2 2.2"/>
<line x1="81.6" y1="591.4" x2="81.6" y2="677.4" stroke="#f59a94" stroke-width="1" />
<rect x="64.6" y="677.4" width="33.5" height="65.8" fill="none" stroke="#f59a94" stroke-width="1"/>
<line x1="64.6" y1="741.8" x2="98.1" y2="741.8" stroke="#f59a94" stroke-width="1" />
<line x1="124.3" y1="577.2" x2="124.3" y2="649.1" stroke="#4cc472" stroke-width="1" />
<rect x="107.9" y="649.1" width="32.5" height="94.3" fill="none" stroke="#4cc472" stroke-width="1"/>
<line x1="107.9" y1="741.8" x2="140.4" y2="741.8" stroke="#4cc472" stroke-width="1" />
<line x1="167.3" y1="627" x2="167.3" y2="695.3" stroke="#7aa8f0" stroke-width="1" />
<rect x="151.5" y="695.3" width="32.1" height="48.1" fill="none" stroke="#7aa8f0" stroke-width="1"/>
<line x1="151.5" y1="741.8" x2="183.6" y2="741.8" stroke="#7aa8f0" stroke-width="1" />
<line x1="210.4" y1="685.2" x2="210.4" y2="716.3" stroke="#8c8ca8" stroke-width="1" />
<rect x="194.2" y="716.3" width="33" height="27.3" fill="none" stroke="#8c8ca8" stroke-width="1"/>
<line x1="194.2" y1="741.6" x2="227.2" y2="741.6" stroke="#8c8ca8" stroke-width="1" />
<circle cx="81.6" cy="742.9" r="1.35" fill="#F8766D"/>
<circle cx="86.8" cy="740.6" r="1.35" fill="#F8766D"/>
<circle cx="79.4" cy="744.5" r="1.35" fill="#F8766D"/>
<circle cx="71.4" cy="742.5" r="1.35" fill="#F8766D"/>
<circle cx="67.1" cy="741.6" r="1.35" fill="#F8766D"/>
<circle cx="92.1" cy="740.7" r="1.35" fill="#F8766D"/>
<circle cx="91.3" cy="743.8" r="1.35" fill="#F8766D"/>
<circle cx="93.6" cy="741.6" r="1.35" fill="#F8766D"/>
<circle cx="95.7" cy="742.1" r="1.35" fill="#F8766D"/>
<circle cx="79.6" cy="744.4" r="1.35" fill="#F8766D"/>
<circle cx="82.7" cy="743.3" r="1.35" fill="#F8766D"/>
<circle cx="68.2" cy="740.6" r="1.35" fill="#F8766D"/>
<circle cx="73.4" cy="741" r="1.35" fill="#F8766D"/>
<circle cx="92.1" cy="741.6" r="1.35" fill="#F8766D"/>
<circle cx="96.6" cy="743.3" r="1.35" fill="#F8766D"/>
<circle cx="70.9" cy="743.4" r="1.35" fill="#F8766D"/>
<circle cx="75.2" cy="742.7" r="1.35" fill="#F8766D"/>
<circle cx="67" cy="743.9" r="1.35" fill="#F8766D"/>
<circle cx="90.9" cy="742.9" r="1.35" fill="#F8766D"/>
<circle cx="87.6" cy="742" r="1.35" fill="#F8766D"/>
<circle cx="68.8" cy="741.9" r="1.35" fill="#F8766D"/>
<circle cx="89.3" cy="742.9" r="1.35" fill="#F8766D"/>
<circle cx="111.6" cy="741.6" r="1.35" fill="#1db14c"/>
<circle cx="123.2" cy="740.7" r="1.35" fill="#1db14c"/>
<circle cx="108.5" cy="742.4" r="1.35" fill="#1db14c"/>
<circle cx="111.6" cy="744.2" r="1.35" fill="#1db14c"/>
<circle cx="111.4" cy="743.6" r="1.35" fill="#1db14c"/>
<circle cx="134" cy="741.9" r="1.35" fill="#1db14c"/>
<circle cx="125.4" cy="744.6" r="1.35" fill="#1db14c"/>
<circle cx="128" cy="742.1" r="1.35" fill="#1db14c"/>
<circle cx="140.2" cy="741.6" r="1.35" fill="#1db14c"/>
<circle cx="139.5" cy="741.8" r="1.35" fill="#1db14c"/>
<circle cx="121.3" cy="741.9" r="1.35" fill="#1db14c"/>
<circle cx="129.2" cy="744.1" r="1.35" fill="#1db14c"/>
<circle cx="130.4" cy="741.3" r="1.35" fill="#1db14c"/>
<circle cx="140.7" cy="743.5" r="1.35" fill="#1db14c"/>
<circle cx="124.2" cy="744" r="1.35" fill="#1db14c"/>
<circle cx="110.6" cy="743" r="1.35" fill="#1db14c"/>
<circle cx="133.7" cy="743.7" r="1.35" fill="#1db14c"/>
<circle cx="129.9" cy="740.9" r="1.35" fill="#1db14c"/>
<circle cx="123.3" cy="741.7" r="1.35" fill="#1db14c"/>
<circle cx="127.7" cy="742.2" r="1.35" fill="#1db14c"/>
<circle cx="122.5" cy="742.8" r="1.35" fill="#1db14c"/>
<circle cx="127" cy="744.2" r="1.35" fill="#1db14c"/>
<circle cx="116.6" cy="741.7" r="1.35" fill="#1db14c"/>
<circle cx="113.3" cy="741.1" r="1.35" fill="#1db14c"/>
<circle cx="135.9" cy="744.3" r="1.35" fill="#1db14c"/>
<circle cx="111.3" cy="742" r="1.35" fill="#1db14c"/>
<circle cx="137.7" cy="744.1" r="1.35" fill="#1db14c"/>
<circle cx="140.3" cy="744.6" r="1.35" fill="#1db14c"/>
<circle cx="117.3" cy="740.9" r="1.35" fill="#1db14c"/>
<circle cx="115.5" cy="742.6" r="1.35" fill="#1db14c"/>
<circle cx="107.5" cy="741.6" r="1.35" fill="#1db14c"/>
<circle cx="123.1" cy="743.3" r="1.35" fill="#1db14c"/>
<circle cx="112.3" cy="741.1" r="1.35" fill="#1db14c"/>
<circle cx="118.2" cy="741" r="1.35" fill="#1db14c"/>
<circle cx="111.2" cy="741" r="1.35" fill="#1db14c"/>
<circle cx="134.2" cy="744.1" r="1.35" fill="#1db14c"/>
<circle cx="108.5" cy="743.8" r="1.35" fill="#1db14c"/>
<circle cx="135.7" cy="743.2" r="1.35" fill="#1db14c"/>
<circle cx="117.2" cy="743.9" r="1.35" fill="#1db14c"/>
<circle cx="109.8" cy="740.8" r="1.35" fill="#1db14c"/>
<circle cx="139.5" cy="741.5" r="1.35" fill="#1db14c"/>
<circle cx="138.1" cy="743.6" r="1.35" fill="#1db14c"/>
<circle cx="108.6" cy="741" r="1.35" fill="#1db14c"/>
<circle cx="129" cy="741.2" r="1.35" fill="#1db14c"/>
<circle cx="129.6" cy="743.3" r="1.35" fill="#1db14c"/>
<circle cx="114.9" cy="742.5" r="1.35" fill="#1db14c"/>
<circle cx="114.2" cy="744.1" r="1.35" fill="#1db14c"/>
<circle cx="128.4" cy="743.4" r="1.35" fill="#1db14c"/>
<circle cx="128.1" cy="740.8" r="1.35" fill="#1db14c"/>
<circle cx="137.1" cy="743.7" r="1.35" fill="#1db14c"/>
<circle cx="124.5" cy="743" r="1.35" fill="#1db14c"/>
<circle cx="123.7" cy="743.6" r="1.35" fill="#1db14c"/>
<circle cx="125.1" cy="741.7" r="1.35" fill="#1db14c"/>
<circle cx="124.6" cy="741.5" r="1.35" fill="#1db14c"/>
<circle cx="107.2" cy="742.7" r="1.35" fill="#1db14c"/>
<circle cx="136.6" cy="743.5" r="1.35" fill="#1db14c"/>
<circle cx="114.1" cy="742.6" r="1.35" fill="#1db14c"/>
<circle cx="126.8" cy="742.9" r="1.35" fill="#1db14c"/>
<circle cx="122.6" cy="742.6" r="1.35" fill="#1db14c"/>
<circle cx="130.4" cy="744.1" r="1.35" fill="#1db14c"/>
<circle cx="124.5" cy="743.7" r="1.35" fill="#1db14c"/>
<circle cx="130.1" cy="741.1" r="1.35" fill="#1db14c"/>
<circle cx="115.8" cy="741.9" r="1.35" fill="#1db14c"/>
<circle cx="119" cy="742.6" r="1.35" fill="#1db14c"/>
<circle cx="117" cy="744.6" r="1.35" fill="#1db14c"/>
<circle cx="132" cy="742.1" r="1.35" fill="#1db14c"/>
<circle cx="130.8" cy="744.3" r="1.35" fill="#1db14c"/>
<circle cx="112.4" cy="743.1" r="1.35" fill="#1db14c"/>
<circle cx="139.6" cy="742.1" r="1.35" fill="#1db14c"/>
<circle cx="136.8" cy="743.8" r="1.35" fill="#1db14c"/>
<circle cx="117.9" cy="741.2" r="1.35" fill="#1db14c"/>
<circle cx="134.4" cy="742.3" r="1.35" fill="#1db14c"/>
<circle cx="118.9" cy="742.5" r="1.35" fill="#1db14c"/>
<circle cx="131.8" cy="744.2" r="1.35" fill="#1db14c"/>
<circle cx="138.2" cy="743.7" r="1.35" fill="#1db14c"/>
<circle cx="113" cy="742.1" r="1.35" fill="#1db14c"/>
<circle cx="107.2" cy="741.4" r="1.35" fill="#1db14c"/>
<circle cx="118.6" cy="741.3" r="1.35" fill="#1db14c"/>
<circle cx="123.2" cy="741.1" r="1.35" fill="#1db14c"/>
<circle cx="129.2" cy="742.2" r="1.35" fill="#1db14c"/>
<circle cx="159.1" cy="743.3" r="1.35" fill="#5a96ec"/>
<circle cx="161.8" cy="740.7" r="1.35" fill="#5a96ec"/>
<circle cx="178.7" cy="743.6" r="1.35" fill="#5a96ec"/>
<circle cx="180" cy="741.8" r="1.35" fill="#5a96ec"/>
<circle cx="159.7" cy="743.4" r="1.35" fill="#5a96ec"/>
<circle cx="155.8" cy="744.5" r="1.35" fill="#5a96ec"/>
<circle cx="172.6" cy="742.8" r="1.35" fill="#5a96ec"/>
<circle cx="152.7" cy="741.7" r="1.35" fill="#5a96ec"/>
<circle cx="165" cy="744.5" r="1.35" fill="#5a96ec"/>
<circle cx="155.8" cy="743" r="1.35" fill="#5a96ec"/>
<circle cx="153.6" cy="744.5" r="1.35" fill="#5a96ec"/>
<circle cx="175.7" cy="743.8" r="1.35" fill="#5a96ec"/>
<circle cx="175.7" cy="741.3" r="1.35" fill="#5a96ec"/>
<circle cx="159" cy="740.8" r="1.35" fill="#5a96ec"/>
<circle cx="169.2" cy="740.9" r="1.35" fill="#5a96ec"/>
<circle cx="157.2" cy="741.3" r="1.35" fill="#5a96ec"/>
<circle cx="181.4" cy="743.8" r="1.35" fill="#5a96ec"/>
<circle cx="160.4" cy="744.5" r="1.35" fill="#5a96ec"/>
<circle cx="156.3" cy="741.2" r="1.35" fill="#5a96ec"/>
<circle cx="163.6" cy="743.8" r="1.35" fill="#5a96ec"/>
<circle cx="154.3" cy="743.8" r="1.35" fill="#5a96ec"/>
<circle cx="169" cy="743.8" r="1.35" fill="#5a96ec"/>
<circle cx="162.1" cy="740.8" r="1.35" fill="#5a96ec"/>
<circle cx="154.3" cy="743.5" r="1.35" fill="#5a96ec"/>
<circle cx="167.7" cy="743.7" r="1.35" fill="#5a96ec"/>
<circle cx="157.6" cy="741.7" r="1.35" fill="#5a96ec"/>
<circle cx="158" cy="744" r="1.35" fill="#5a96ec"/>
<circle cx="174.2" cy="741.2" r="1.35" fill="#5a96ec"/>
<circle cx="174.9" cy="740.8" r="1.35" fill="#5a96ec"/>
<circle cx="166.4" cy="741.6" r="1.35" fill="#5a96ec"/>
<circle cx="176.2" cy="743.5" r="1.35" fill="#5a96ec"/>
<circle cx="173.6" cy="741.4" r="1.35" fill="#5a96ec"/>
<circle cx="152.4" cy="743.2" r="1.35" fill="#5a96ec"/>
<circle cx="173.9" cy="740.6" r="1.35" fill="#5a96ec"/>
<circle cx="178.7" cy="744.2" r="1.35" fill="#5a96ec"/>
<circle cx="162.9" cy="742.7" r="1.35" fill="#5a96ec"/>
<circle cx="172.5" cy="744.3" r="1.35" fill="#5a96ec"/>
<circle cx="172.4" cy="742.7" r="1.35" fill="#5a96ec"/>
<circle cx="176.4" cy="742.6" r="1.35" fill="#5a96ec"/>
<circle cx="152.1" cy="742.8" r="1.35" fill="#5a96ec"/>
<circle cx="207.9" cy="741.9" r="1.35" fill="#5c5c78"/>
<circle cx="207.2" cy="741.5" r="1.35" fill="#5c5c78"/>
<circle cx="204.4" cy="743.6" r="1.35" fill="#5c5c78"/>
<circle cx="223.7" cy="742.4" r="1.35" fill="#5c5c78"/>
<circle cx="222.3" cy="741.1" r="1.35" fill="#5c5c78"/>
<circle cx="211.3" cy="743.6" r="1.35" fill="#5c5c78"/>
<circle cx="220.2" cy="742.1" r="1.35" fill="#5c5c78"/>
<circle cx="199.6" cy="744.4" r="1.35" fill="#5c5c78"/>
<circle cx="214.4" cy="743.2" r="1.35" fill="#5c5c78"/>
<circle cx="205.6" cy="741.1" r="1.35" fill="#5c5c78"/>
<circle cx="213.1" cy="742.2" r="1.35" fill="#5c5c78"/>
<circle cx="223.8" cy="743.3" r="1.35" fill="#5c5c78"/>
<circle cx="219.3" cy="742.9" r="1.35" fill="#5c5c78"/>
<circle cx="219.2" cy="741.1" r="1.35" fill="#5c5c78"/>
<circle cx="227.4" cy="742.9" r="1.35" fill="#5c5c78"/>
<circle cx="214" cy="741.4" r="1.35" fill="#5c5c78"/>
<circle cx="197.1" cy="743.4" r="1.35" fill="#5c5c78"/>
<circle cx="218.3" cy="743.3" r="1.35" fill="#5c5c78"/>
<circle cx="202.5" cy="742.5" r="1.35" fill="#5c5c78"/>
<circle cx="219.7" cy="743.2" r="1.35" fill="#5c5c78"/>
<circle cx="224.5" cy="741" r="1.35" fill="#5c5c78"/>
<circle cx="220" cy="740.7" r="1.35" fill="#5c5c78"/>
<circle cx="214.9" cy="742.7" r="1.35" fill="#5c5c78"/>
<circle cx="196.5" cy="742.3" r="1.35" fill="#5c5c78"/>
<rect x="107" y="739.6" width="34.5" height="5.2" rx="1.5" fill="#1db14c"/>
<rect x="106.5" y="744.4" width="35" height="1.6" fill="#f2f29a" fill-opacity="0.8"/>
<circle cx="84.6" cy="591.4" r="1.35" fill="#F8766D"/>
<circle cx="93.1" cy="610.4" r="1.35" fill="#F8766D"/>
<circle cx="87" cy="636.4" r="1.35" fill="#F8766D"/>
<circle cx="70.6" cy="640.6" r="1.35" fill="#F8766D"/>
<circle cx="82.7" cy="640" r="1.35" fill="#F8766D"/>
<circle cx="93.5" cy="647.8" r="1.35" fill="#F8766D"/>
<circle cx="80.3" cy="668.9" r="1.35" fill="#F8766D"/>
<circle cx="90.8" cy="664.7" r="1.35" fill="#F8766D"/>
<circle cx="64.9" cy="679.8" r="1.35" fill="#F8766D"/>
<circle cx="97.7" cy="686.7" r="1.35" fill="#F8766D"/>
<circle cx="93.4" cy="670.1" r="1.35" fill="#F8766D"/>
<circle cx="158.8" cy="605.2" r="1.35" fill="#5a96ec"/>
<circle cx="167.3" cy="605.2" r="1.35" fill="#5a96ec"/>
<circle cx="151.5" cy="626.8" r="1.35" fill="#5a96ec"/>
<circle cx="156.1" cy="633.1" r="1.35" fill="#5a96ec"/>
<circle cx="151.5" cy="646.1" r="1.35" fill="#5a96ec"/>
<circle cx="184.1" cy="650.7" r="1.35" fill="#5a96ec"/>
<circle cx="155.1" cy="658.4" r="1.35" fill="#5a96ec"/>
<circle cx="161.2" cy="661.3" r="1.35" fill="#5a96ec"/>
<circle cx="173.7" cy="661.3" r="1.35" fill="#5a96ec"/>
<circle cx="182.4" cy="663.5" r="1.35" fill="#5a96ec"/>
<circle cx="156.1" cy="667.9" r="1.35" fill="#5a96ec"/>
<circle cx="157.6" cy="669.4" r="1.35" fill="#5a96ec"/>
<circle cx="166.3" cy="671" r="1.35" fill="#5a96ec"/>
<circle cx="167.9" cy="671.6" r="1.35" fill="#5a96ec"/>
<circle cx="182" cy="672.4" r="1.35" fill="#5a96ec"/>
<circle cx="168.3" cy="676" r="1.35" fill="#5a96ec"/>
<circle cx="150.7" cy="685.1" r="1.35" fill="#5a96ec"/>
<circle cx="181.4" cy="684.1" r="1.35" fill="#5a96ec"/>
<circle cx="161.2" cy="692.2" r="1.35" fill="#5a96ec"/>
<circle cx="160.2" cy="693.6" r="1.35" fill="#5a96ec"/>
<circle cx="162.8" cy="697.3" r="1.35" fill="#5a96ec"/>
<circle cx="168.3" cy="696.3" r="1.35" fill="#5a96ec"/>
<circle cx="175.8" cy="701.9" r="1.35" fill="#5a96ec"/>
<circle cx="161.2" cy="708.8" r="1.35" fill="#5a96ec"/>
<circle cx="160.8" cy="722.6" r="1.35" fill="#5a96ec"/>
<circle cx="174.8" cy="734.3" r="1.35" fill="#5a96ec"/>
<circle cx="194.5" cy="685.6" r="1.35" fill="#5c5c78"/>
<circle cx="224" cy="695.6" r="1.35" fill="#5c5c78"/>
<circle cx="222.6" cy="715.8" r="1.35" fill="#5c5c78"/>
<circle cx="223" cy="720.6" r="1.35" fill="#5c5c78"/>
<circle cx="197" cy="722.3" r="1.35" fill="#5c5c78"/>
<circle cx="218.1" cy="730.4" r="1.35" fill="#5c5c78"/>
<circle cx="215.1" cy="739" r="1.35" fill="#5c5c78"/>
<circle cx="203.2" cy="575.3" r="1.35" fill="#5c5c78"/>
<circle cx="210" cy="575.3" r="1.35" fill="#5c5c78"/>
<circle cx="201.9" cy="604.6" r="1.35" fill="#5c5c78"/>
<circle cx="210" cy="604.6" r="1.35" fill="#5c5c78"/>
<circle cx="210" cy="645.4" r="1.35" fill="#5c5c78"/>
<circle cx="215.1" cy="645.4" r="1.35" fill="#5c5c78"/>
<circle cx="210" cy="672.6" r="1.35" fill="#5c5c78"/>
<circle cx="211.9" cy="673.1" r="1.35" fill="#5c5c78"/>
<circle cx="226.1" cy="672.1" r="1.35" fill="#5c5c78"/>
<circle cx="200.8" cy="676.6" r="1.35" fill="#5c5c78"/>
<circle cx="210" cy="676.6" r="1.35" fill="#5c5c78"/>
<circle cx="110.9" cy="588.2" r="1.35" fill="#1db14c"/>
<circle cx="112.2" cy="594.3" r="1.35" fill="#1db14c"/>
<circle cx="119.3" cy="664.3" r="1.35" fill="#1db14c"/>
<circle cx="115.4" cy="649.2" r="1.35" fill="#1db14c"/>
<circle cx="138" cy="601.7" r="1.35" fill="#1db14c"/>
<circle cx="121.9" cy="580.9" r="1.35" fill="#1db14c"/>
<circle cx="121.7" cy="661.5" r="1.35" fill="#1db14c"/>
<circle cx="134" cy="650.3" r="1.35" fill="#1db14c"/>
<circle cx="125.1" cy="636.2" r="1.35" fill="#1db14c"/>
<circle cx="112" cy="658.9" r="1.35" fill="#1db14c"/>
<circle cx="111.4" cy="627.3" r="1.35" fill="#1db14c"/>
<circle cx="140" cy="630" r="1.35" fill="#1db14c"/>
<circle cx="110.9" cy="646.2" r="1.35" fill="#1db14c"/>
<circle cx="133" cy="580.3" r="1.35" fill="#1db14c"/>
<circle cx="119.8" cy="615.9" r="1.35" fill="#1db14c"/>
<circle cx="127.5" cy="682.5" r="1.35" fill="#1db14c"/>
<circle cx="125.1" cy="624.6" r="1.35" fill="#1db14c"/>
<circle cx="111.3" cy="613.8" r="1.35" fill="#1db14c"/>
<circle cx="121.1" cy="578.1" r="1.35" fill="#1db14c"/>
<circle cx="134.1" cy="597.8" r="1.35" fill="#1db14c"/>
<circle cx="130.9" cy="708.1" r="1.35" fill="#1db14c"/>
<circle cx="109" cy="609.3" r="1.35" fill="#1db14c"/>
<circle cx="119.6" cy="646.7" r="1.35" fill="#1db14c"/>
<circle cx="136.1" cy="736.5" r="1.35" fill="#1db14c"/>
<circle cx="138.4" cy="581.2" r="1.35" fill="#1db14c"/>
<circle cx="138.1" cy="590.5" r="1.35" fill="#1db14c"/>
<circle cx="109.6" cy="589.2" r="1.35" fill="#1db14c"/>
<circle cx="133" cy="687.2" r="1.35" fill="#1db14c"/>
<circle cx="125" cy="654.4" r="1.35" fill="#1db14c"/>
<circle cx="114.1" cy="603.4" r="1.35" fill="#1db14c"/>
<circle cx="116.5" cy="579.6" r="1.35" fill="#1db14c"/>
<circle cx="129.7" cy="662.6" r="1.35" fill="#1db14c"/>
<circle cx="123.2" cy="626.1" r="1.35" fill="#1db14c"/>
<circle cx="117.3" cy="655.2" r="1.35" fill="#1db14c"/>
<circle cx="119.9" cy="585.5" r="1.35" fill="#1db14c"/>
<circle cx="136.8" cy="693.9" r="1.35" fill="#1db14c"/>
<circle cx="122.6" cy="682.2" r="1.35" fill="#1db14c"/>
<circle cx="118.3" cy="613.8" r="1.35" fill="#1db14c"/>
<circle cx="128.6" cy="734.8" r="1.35" fill="#1db14c"/>
<circle cx="125.6" cy="626" r="1.35" fill="#1db14c"/>
<circle cx="119.8" cy="660" r="1.35" fill="#1db14c"/>
<circle cx="125.1" cy="663" r="1.35" fill="#1db14c"/>
<circle cx="133.4" cy="644.8" r="1.35" fill="#1db14c"/>
<circle cx="137.5" cy="597.1" r="1.35" fill="#1db14c"/>
<circle cx="125.8" cy="602.7" r="1.35" fill="#1db14c"/>
<circle cx="110.5" cy="622.7" r="1.35" fill="#1db14c"/>
<circle cx="120.5" cy="578.6" r="1.35" fill="#1db14c"/>
<circle cx="110.4" cy="624.7" r="1.35" fill="#1db14c"/>
<circle cx="115.4" cy="642.2" r="1.35" fill="#1db14c"/>
<circle cx="108.9" cy="583.3" r="1.35" fill="#1db14c"/>
<circle cx="123.8" cy="612.3" r="1.35" fill="#1db14c"/>
<circle cx="119.6" cy="660.5" r="1.35" fill="#1db14c"/>
<circle cx="139.8" cy="633.1" r="1.35" fill="#1db14c"/>
<circle cx="134" cy="590" r="1.35" fill="#1db14c"/>
<circle cx="124.2" cy="699.4" r="1.35" fill="#1db14c"/>
<circle cx="115.6" cy="728.9" r="1.35" fill="#1db14c"/>
<circle cx="122.8" cy="620" r="1.35" fill="#1db14c"/>
<circle cx="121.3" cy="664.9" r="1.35" fill="#1db14c"/>
<circle cx="132.2" cy="652.6" r="1.35" fill="#1db14c"/>
<circle cx="136.1" cy="647.3" r="1.35" fill="#1db14c"/>
<circle cx="123.5" cy="645.2" r="1.35" fill="#1db14c"/>
<circle cx="116.9" cy="727.2" r="1.35" fill="#1db14c"/>
<circle cx="137.8" cy="711.7" r="1.35" fill="#1db14c"/>
<circle cx="118.3" cy="641.4" r="1.35" fill="#1db14c"/>
<circle cx="129.7" cy="730.1" r="1.35" fill="#1db14c"/>
<circle cx="133.9" cy="661.5" r="1.35" fill="#1db14c"/>
<circle cx="115.4" cy="620.7" r="1.35" fill="#1db14c"/>
<circle cx="131.7" cy="640.9" r="1.35" fill="#1db14c"/>
<circle cx="117.5" cy="650.5" r="1.35" fill="#1db14c"/>
<circle cx="132.3" cy="583.2" r="1.35" fill="#1db14c"/>
<circle cx="139.3" cy="580.2" r="1.35" fill="#1db14c"/>
<circle cx="114.5" cy="640" r="1.35" fill="#1db14c"/>
<circle cx="124.8" cy="611.2" r="1.35" fill="#1db14c"/>
<circle cx="118.4" cy="696.5" r="1.35" fill="#1db14c"/>
<circle cx="110.1" cy="581.3" r="1.35" fill="#1db14c"/>
<circle cx="132" cy="649.7" r="1.35" fill="#1db14c"/>
<circle cx="129.6" cy="590.6" r="1.35" fill="#1db14c"/>
<circle cx="127.3" cy="692.6" r="1.35" fill="#1db14c"/>
<circle cx="119.1" cy="675" r="1.35" fill="#1db14c"/>
<circle cx="110.5" cy="583.6" r="1.35" fill="#1db14c"/>
<circle cx="129.3" cy="664.7" r="1.35" fill="#1db14c"/>
<circle cx="132" cy="690.4" r="1.35" fill="#1db14c"/>
<circle cx="111" cy="642.7" r="1.35" fill="#1db14c"/>
<circle cx="112.4" cy="702.6" r="1.35" fill="#1db14c"/>
<circle cx="116.8" cy="639.1" r="1.35" fill="#1db14c"/>
<circle cx="132.1" cy="689.5" r="1.35" fill="#1db14c"/>
<circle cx="122.7" cy="703.8" r="1.35" fill="#1db14c"/>
<circle cx="133" cy="631.3" r="1.35" fill="#1db14c"/>
<circle cx="130.9" cy="714.7" r="1.35" fill="#1db14c"/>
<circle cx="130.1" cy="660.8" r="1.35" fill="#1db14c"/>
<circle cx="139.8" cy="712.2" r="1.35" fill="#1db14c"/>
<circle cx="132.4" cy="634.4" r="1.35" fill="#1db14c"/>
<circle cx="137.2" cy="727.1" r="1.35" fill="#1db14c"/>
<circle cx="120.4" cy="638.3" r="1.35" fill="#1db14c"/>
<circle cx="117.8" cy="616.9" r="1.35" fill="#1db14c"/>
<circle cx="131.1" cy="608.2" r="1.35" fill="#1db14c"/>
<circle cx="135.5" cy="628" r="1.35" fill="#1db14c"/>
<circle cx="109.1" cy="650.6" r="1.35" fill="#1db14c"/>
<circle cx="115.7" cy="617.3" r="1.35" fill="#1db14c"/>
<circle cx="109.6" cy="661.2" r="1.35" fill="#1db14c"/>
<circle cx="110.7" cy="668.5" r="1.35" fill="#1db14c"/>
<circle cx="125.5" cy="618.5" r="1.35" fill="#1db14c"/>
<circle cx="138.1" cy="687.7" r="1.35" fill="#1db14c"/>
<circle cx="112.2" cy="584.1" r="1.35" fill="#1db14c"/>
<circle cx="137.5" cy="713" r="1.35" fill="#1db14c"/>
<circle cx="132.3" cy="662.2" r="1.35" fill="#1db14c"/>
<circle cx="133.2" cy="617.2" r="1.35" fill="#1db14c"/>
<circle cx="126.4" cy="615.9" r="1.35" fill="#1db14c"/>
<circle cx="127.6" cy="632.6" r="1.35" fill="#1db14c"/>
<circle cx="130" cy="708.1" r="1.35" fill="#1db14c"/>
<circle cx="125.1" cy="709.1" r="1.35" fill="#1db14c"/>
<circle cx="117" cy="590.6" r="1.35" fill="#1db14c"/>
<circle cx="129" cy="628.3" r="1.35" fill="#1db14c"/>
<circle cx="124.3" cy="578.8" r="1.35" fill="#1db14c"/>
<circle cx="109.4" cy="705.7" r="1.35" fill="#1db14c"/>
<circle cx="111.3" cy="613.2" r="1.35" fill="#1db14c"/>
<circle cx="123" cy="692" r="1.35" fill="#1db14c"/>
<circle cx="119.1" cy="640.6" r="1.35" fill="#1db14c"/>
<circle cx="123.8" cy="646.8" r="1.35" fill="#1db14c"/>
<circle cx="130.2" cy="613.8" r="1.35" fill="#1db14c"/>
<circle cx="128.1" cy="598.1" r="1.35" fill="#1db14c"/>
<circle cx="123.7" cy="606" r="1.35" fill="#1db14c"/>
<circle cx="119.6" cy="664.5" r="1.35" fill="#1db14c"/>
<circle cx="129" cy="720" r="1.35" fill="#1db14c"/>
<circle cx="122.6" cy="591.8" r="1.35" fill="#1db14c"/>
<circle cx="120.2" cy="619.4" r="1.35" fill="#1db14c"/>
<circle cx="128.3" cy="603" r="1.35" fill="#1db14c"/>
<circle cx="137.8" cy="638.6" r="1.35" fill="#1db14c"/>
<circle cx="126.7" cy="636.7" r="1.35" fill="#1db14c"/>
<circle cx="139.5" cy="581.4" r="1.35" fill="#1db14c"/>
<circle cx="113.9" cy="642.5" r="1.35" fill="#1db14c"/>
<circle cx="129.7" cy="637.5" r="1.35" fill="#1db14c"/>
<circle cx="109.3" cy="732.5" r="1.35" fill="#1db14c"/>
<circle cx="112.7" cy="635.3" r="1.35" fill="#1db14c"/>
<circle cx="131.4" cy="630.8" r="1.35" fill="#1db14c"/>
<circle cx="121.7" cy="661.3" r="1.35" fill="#1db14c"/>
<circle cx="127.7" cy="650.3" r="1.35" fill="#1db14c"/>
<circle cx="112.9" cy="668.5" r="1.35" fill="#1db14c"/>
<circle cx="130.5" cy="585.3" r="1.35" fill="#1db14c"/>
<circle cx="128" cy="732.8" r="1.35" fill="#1db14c"/>
<circle cx="133.5" cy="599.2" r="1.35" fill="#1db14c"/>
<circle cx="131.6" cy="661.2" r="1.35" fill="#1db14c"/>
<circle cx="120" cy="689.3" r="1.35" fill="#1db14c"/>
<circle cx="139" cy="592.9" r="1.35" fill="#1db14c"/>
<circle cx="139.9" cy="642.8" r="1.35" fill="#1db14c"/>
<circle cx="118.3" cy="624.1" r="1.35" fill="#1db14c"/>
<circle cx="123.3" cy="660.9" r="1.35" fill="#1db14c"/>
<circle cx="121.8" cy="706.6" r="1.35" fill="#1db14c"/>
<circle cx="132.3" cy="661.8" r="1.35" fill="#1db14c"/>
<circle cx="137.5" cy="591.6" r="1.35" fill="#1db14c"/>
<line x1="300.8" y1="578" x2="300.8" y2="741" stroke="#1a1a1a" stroke-width="1.6" />
<line x1="299.9" y1="736.5" x2="454.6" y2="736.5" stroke="#1a1a1a" stroke-width="1.6" />
<line x1="295.8" y1="735.8" x2="300.8" y2="735.8" stroke="#1a1a1a" stroke-width="1.4" />
<line x1="298.3" y1="730.7" x2="300.8" y2="730.7" stroke="#1a1a1a" stroke-width="1.2" />
<line x1="298.3" y1="725.6" x2="300.8" y2="725.6" stroke="#1a1a1a" stroke-width="1.2" />
<line x1="298.3" y1="720.5" x2="300.8" y2="720.5" stroke="#1a1a1a" stroke-width="1.2" />
<line x1="298.3" y1="715.5" x2="300.8" y2="715.5" stroke="#1a1a1a" stroke-width="1.2" />
<line x1="298.3" y1="710.4" x2="300.8" y2="710.4" stroke="#1a1a1a" stroke-width="1.2" />
<line x1="295.8" y1="705.3" x2="300.8" y2="705.3" stroke="#1a1a1a" stroke-width="1.4" />
<line x1="298.3" y1="700.2" x2="300.8" y2="700.2" stroke="#1a1a1a" stroke-width="1.2" />
<line x1="298.3" y1="695.1" x2="300.8" y2="695.1" stroke="#1a1a1a" stroke-width="1.2" />
<line x1="298.3" y1="690" x2="300.8" y2="690" stroke="#1a1a1a" stroke-width="1.2" />
<line x1="298.3" y1="685" x2="300.8" y2="685" stroke="#1a1a1a" stroke-width="1.2" />
<line x1="298.3" y1="679.9" x2="300.8" y2="679.9" stroke="#1a1a1a" stroke-width="1.2" />
<line x1="295.8" y1="674.8" x2="300.8" y2="674.8" stroke="#1a1a1a" stroke-width="1.4" />
<line x1="298.3" y1="669.7" x2="300.8" y2="669.7" stroke="#1a1a1a" stroke-width="1.2" />
<line x1="298.3" y1="664.6" x2="300.8" y2="664.6" stroke="#1a1a1a" stroke-width="1.2" />
<line x1="298.3" y1="659.5" x2="300.8" y2="659.5" stroke="#1a1a1a" stroke-width="1.2" />
<line x1="298.3" y1="654.5" x2="300.8" y2="654.5" stroke="#1a1a1a" stroke-width="1.2" />
<line x1="298.3" y1="649.4" x2="300.8" y2="649.4" stroke="#1a1a1a" stroke-width="1.2" />
<line x1="295.8" y1="644.3" x2="300.8" y2="644.3" stroke="#1a1a1a" stroke-width="1.4" />
<line x1="298.3" y1="639.2" x2="300.8" y2="639.2" stroke="#1a1a1a" stroke-width="1.2" />
<line x1="298.3" y1="634.1" x2="300.8" y2="634.1" stroke="#1a1a1a" stroke-width="1.2" />
<line x1="298.3" y1="629" x2="300.8" y2="629" stroke="#1a1a1a" stroke-width="1.2" />
<line x1="298.3" y1="624" x2="300.8" y2="624" stroke="#1a1a1a" stroke-width="1.2" />
<line x1="298.3" y1="618.9" x2="300.8" y2="618.9" stroke="#1a1a1a" stroke-width="1.2" />
<line x1="295.8" y1="613.8" x2="300.8" y2="613.8" stroke="#1a1a1a" stroke-width="1.4" />
<line x1="298.3" y1="608.7" x2="300.8" y2="608.7" stroke="#1a1a1a" stroke-width="1.2" />
<line x1="298.3" y1="603.6" x2="300.8" y2="603.6" stroke="#1a1a1a" stroke-width="1.2" />
<line x1="298.3" y1="598.5" x2="300.8" y2="598.5" stroke="#1a1a1a" stroke-width="1.2" />
<line x1="298.3" y1="593.5" x2="300.8" y2="593.5" stroke="#1a1a1a" stroke-width="1.2" />
<line x1="298.3" y1="588.4" x2="300.8" y2="588.4" stroke="#1a1a1a" stroke-width="1.2" />
<line x1="295.8" y1="583.3" x2="300.8" y2="583.3" stroke="#1a1a1a" stroke-width="1.4" />
<text x="294.6" y="739.6" font-size="11" fill="#1a1a1a" font-weight="bold" text-anchor="end" >0.0</text>
<text x="294.6" y="709.1" font-size="11" fill="#1a1a1a" font-weight="bold" text-anchor="end" >0.2</text>
<text x="294.6" y="678.6" font-size="11" fill="#1a1a1a" font-weight="bold" text-anchor="end" >0.4</text>
<text x="294.6" y="648.1" font-size="11" fill="#1a1a1a" font-weight="bold" text-anchor="end" >0.6</text>
<text x="294.6" y="617.6" font-size="11" fill="#1a1a1a" font-weight="bold" text-anchor="end" >0.8</text>
<text x="294.6" y="587.1" font-size="11" fill="#1a1a1a" font-weight="bold" text-anchor="end" >1.0</text>
<line x1="300.3" y1="736.5" x2="300.3" y2="741" stroke="#1a1a1a" stroke-width="1.4" />
<line x1="305.4" y1="736.5" x2="305.4" y2="739" stroke="#1a1a1a" stroke-width="1.2" />
<line x1="310.5" y1="736.5" x2="310.5" y2="739" stroke="#1a1a1a" stroke-width="1.2" />
<line x1="315.7" y1="736.5" x2="315.7" y2="739" stroke="#1a1a1a" stroke-width="1.2" />
<line x1="320.8" y1="736.5" x2="320.8" y2="739" stroke="#1a1a1a" stroke-width="1.2" />
<line x1="325.9" y1="736.5" x2="325.9" y2="741" stroke="#1a1a1a" stroke-width="1.4" />
<line x1="331" y1="736.5" x2="331" y2="739" stroke="#1a1a1a" stroke-width="1.2" />
<line x1="336.2" y1="736.5" x2="336.2" y2="739" stroke="#1a1a1a" stroke-width="1.2" />
<line x1="341.3" y1="736.5" x2="341.3" y2="739" stroke="#1a1a1a" stroke-width="1.2" />
<line x1="346.4" y1="736.5" x2="346.4" y2="739" stroke="#1a1a1a" stroke-width="1.2" />
<line x1="351.5" y1="736.5" x2="351.5" y2="741" stroke="#1a1a1a" stroke-width="1.4" />
<line x1="356.7" y1="736.5" x2="356.7" y2="739" stroke="#1a1a1a" stroke-width="1.2" />
<line x1="361.8" y1="736.5" x2="361.8" y2="739" stroke="#1a1a1a" stroke-width="1.2" />
<line x1="366.9" y1="736.5" x2="366.9" y2="739" stroke="#1a1a1a" stroke-width="1.2" />
<line x1="372" y1="736.5" x2="372" y2="739" stroke="#1a1a1a" stroke-width="1.2" />
<line x1="377.2" y1="736.5" x2="377.2" y2="741" stroke="#1a1a1a" stroke-width="1.4" />
<line x1="382.3" y1="736.5" x2="382.3" y2="739" stroke="#1a1a1a" stroke-width="1.2" />
<line x1="387.4" y1="736.5" x2="387.4" y2="739" stroke="#1a1a1a" stroke-width="1.2" />
<line x1="392.5" y1="736.5" x2="392.5" y2="739" stroke="#1a1a1a" stroke-width="1.2" />
<line x1="397.7" y1="736.5" x2="397.7" y2="739" stroke="#1a1a1a" stroke-width="1.2" />
<line x1="402.8" y1="736.5" x2="402.8" y2="741" stroke="#1a1a1a" stroke-width="1.4" />
<line x1="407.9" y1="736.5" x2="407.9" y2="739" stroke="#1a1a1a" stroke-width="1.2" />
<line x1="413" y1="736.5" x2="413" y2="739" stroke="#1a1a1a" stroke-width="1.2" />
<line x1="418.2" y1="736.5" x2="418.2" y2="739" stroke="#1a1a1a" stroke-width="1.2" />
<line x1="423.3" y1="736.5" x2="423.3" y2="739" stroke="#1a1a1a" stroke-width="1.2" />
<line x1="428.4" y1="736.5" x2="428.4" y2="741" stroke="#1a1a1a" stroke-width="1.4" />
<line x1="433.5" y1="736.5" x2="433.5" y2="739" stroke="#1a1a1a" stroke-width="1.2" />
<line x1="438.6" y1="736.5" x2="438.6" y2="739" stroke="#1a1a1a" stroke-width="1.2" />
<line x1="443.8" y1="736.5" x2="443.8" y2="739" stroke="#1a1a1a" stroke-width="1.2" />
<line x1="448.9" y1="736.5" x2="448.9" y2="739" stroke="#1a1a1a" stroke-width="1.2" />
<line x1="454" y1="736.5" x2="454" y2="741" stroke="#1a1a1a" stroke-width="1.4" />
<text x="300.3" y="750.9" font-size="9.8" fill="#1a1a1a" font-weight="bold" text-anchor="middle" >0</text>
<text x="325.9" y="750.9" font-size="9.8" fill="#1a1a1a" font-weight="bold" text-anchor="middle" >1000</text>
<text x="351.5" y="750.9" font-size="9.8" fill="#1a1a1a" font-weight="bold" text-anchor="middle" >2000</text>
<text x="377.2" y="750.9" font-size="9.8" fill="#1a1a1a" font-weight="bold" text-anchor="middle" >3000</text>
<text x="402.8" y="750.9" font-size="9.8" fill="#1a1a1a" font-weight="bold" text-anchor="middle" >4000</text>
<text x="428.4" y="750.9" font-size="9.8" fill="#1a1a1a" font-weight="bold" text-anchor="middle" >5000</text>
<text x="454" y="750.9" font-size="9.8" fill="#1a1a1a" font-weight="bold" text-anchor="middle" >6000</text>
<text x="382.6" y="771.2" font-size="10.2" fill="#1a1a1a" font-weight="bold" text-anchor="middle" >OS days</text>
<text transform="translate(269.8,652) rotate(-90)" font-size="10.9" fill="#1a1a1a" font-weight="bold" text-anchor="middle" >Fraction survival</text>
<path d="M301,583.3 H302.9 V590.3 H305.5 V601.7 H308.3 V613.1 H310.5 V621.5 H312.7 V632.7 H314 V639 H315.3 V644.2 H317.8 V649.2 H321.6 V653.1 H325.4 V655.6 H329.2 V658.1 H333 V660.7 H335.6 V663.2 H339.4 V667 H343.2 V669.6 H345.8 V673.4 H348.3 V675.9 H350.9 V677.2 H352.1 V680.5 H368.6 V680.5 H370.5 V684.8 H372.5 V687.4 H373.7 V693.7 H375.5 V700.1 H410.6 V700.1" stroke="#b8b8b8" stroke-width="2.4" fill="none"/>
<path d="M301,583.3 H303.6 V589.3 H305.5 V593.1 H307.4 V601.7 H309.3 V605.5 H311.4 V610 H312.5 V618 H313.5 V624 H315.3 V631.4 H319 V634 H321.6 V637.8 H324.2 V640.3 H328 V644.2 H430.6 V644.2" stroke="#767676" stroke-width="2.4" fill="none"/>
<path d="M301.8,577.5 L303,586 M303.5,580 V592" stroke="#8a8a8a" stroke-width="1.6" fill="none"/>
<line x1="330.5" y1="638.3" x2="330.5" y2="644.2" stroke="#7f80a8" stroke-width="0.9" />
<line x1="338.1" y1="638.3" x2="338.1" y2="644.2" stroke="#7f80a8" stroke-width="0.9" />
<line x1="339.4" y1="638.3" x2="339.4" y2="644.2" stroke="#7f80a8" stroke-width="0.9" />
<line x1="340.7" y1="638.3" x2="340.7" y2="644.2" stroke="#7f80a8" stroke-width="0.9" />
<line x1="349.6" y1="638.3" x2="349.6" y2="644.2" stroke="#7f80a8" stroke-width="0.9" />
<line x1="352.1" y1="638.3" x2="352.1" y2="644.2" stroke="#7f80a8" stroke-width="0.9" />
<line x1="358.5" y1="638.3" x2="358.5" y2="644.2" stroke="#7f80a8" stroke-width="0.9" />
<line x1="371.2" y1="638.3" x2="371.2" y2="644.2" stroke="#7f80a8" stroke-width="0.9" />
<line x1="373.7" y1="638.3" x2="373.7" y2="644.2" stroke="#7f80a8" stroke-width="0.9" />
<line x1="376.3" y1="638.3" x2="376.3" y2="644.2" stroke="#7f80a8" stroke-width="0.9" />
<line x1="380.1" y1="638.3" x2="380.1" y2="644.2" stroke="#7f80a8" stroke-width="0.9" />
<line x1="386.4" y1="638.3" x2="386.4" y2="644.2" stroke="#7f80a8" stroke-width="0.9" />
<line x1="401.7" y1="638.3" x2="401.7" y2="644.2" stroke="#7f80a8" stroke-width="0.9" />
<line x1="430" y1="638.3" x2="430" y2="644.2" stroke="#7f80a8" stroke-width="0.9" />
<line x1="378.8" y1="695.2" x2="378.8" y2="700.1" stroke="#a8a8b8" stroke-width="0.9" />
<line x1="383.9" y1="695.2" x2="383.9" y2="700.1" stroke="#a8a8b8" stroke-width="0.9" />
<line x1="390.3" y1="695.2" x2="390.3" y2="700.1" stroke="#a8a8b8" stroke-width="0.9" />
<line x1="397.9" y1="695.2" x2="397.9" y2="700.1" stroke="#a8a8b8" stroke-width="0.9" />
<line x1="409.8" y1="695.2" x2="409.8" y2="700.1" stroke="#a8a8b8" stroke-width="0.9" />
<line x1="376.5" y1="695.2" x2="376.5" y2="700.1" stroke="#a8a8b8" stroke-width="0.9" />
<line x1="352.1" y1="675" x2="352.1" y2="680.5" stroke="#b0b0b8" stroke-width="0.9" />
<line x1="354.7" y1="675" x2="354.7" y2="680.5" stroke="#b0b0b8" stroke-width="0.9" />
<line x1="357.2" y1="675" x2="357.2" y2="680.5" stroke="#b0b0b8" stroke-width="0.9" />
<line x1="359.8" y1="675" x2="359.8" y2="680.5" stroke="#b0b0b8" stroke-width="0.9" />
<line x1="362.3" y1="675" x2="362.3" y2="680.5" stroke="#b0b0b8" stroke-width="0.9" />
<line x1="364.8" y1="675" x2="364.8" y2="680.5" stroke="#b0b0b8" stroke-width="0.9" />
<line x1="367.4" y1="675" x2="367.4" y2="680.5" stroke="#b0b0b8" stroke-width="0.9" />
<line x1="316.5" y1="644.4" x2="316.5" y2="649.2" stroke="#b8b8c0" stroke-width="0.9" />
<line x1="319" y1="644.4" x2="319" y2="649.2" stroke="#b8b8c0" stroke-width="0.9" />
<line x1="321" y1="648.3" x2="321" y2="653.1" stroke="#b8b8c0" stroke-width="0.9" />
<line x1="323" y1="648.3" x2="323" y2="653.1" stroke="#b8b8c0" stroke-width="0.9" />
<line x1="326" y1="650.8" x2="326" y2="655.6" stroke="#b8b8c0" stroke-width="0.9" />
<line x1="328" y1="650.8" x2="328" y2="655.6" stroke="#b8b8c0" stroke-width="0.9" />
<line x1="331" y1="653.3" x2="331" y2="658.1" stroke="#b8b8c0" stroke-width="0.9" />
<line x1="334" y1="655.9" x2="334" y2="660.7" stroke="#b8b8c0" stroke-width="0.9" />
<line x1="337" y1="658.4" x2="337" y2="663.2" stroke="#b8b8c0" stroke-width="0.9" />
<line x1="340.5" y1="662.2" x2="340.5" y2="667" stroke="#b8b8c0" stroke-width="0.9" />
<line x1="342" y1="662.2" x2="342" y2="667" stroke="#b8b8c0" stroke-width="0.9" />
<line x1="344" y1="664.8" x2="344" y2="669.6" stroke="#b8b8c0" stroke-width="0.9" />
<line x1="347" y1="668.6" x2="347" y2="673.4" stroke="#b8b8c0" stroke-width="0.9" />
<line x1="349.5" y1="671.1" x2="349.5" y2="675.9" stroke="#b8b8c0" stroke-width="0.9" />
<text x="374.6" y="632.8" font-size="10.3" fill="#1a1a1a" font-weight="bold" text-anchor="start" >RBBP8 M<tspan font-size="5.6" dy="-5.8">high</tspan></text>
<text x="377.6" y="690.5" font-size="10.3" fill="#1a1a1a" font-weight="bold" text-anchor="start" >RBBP8 M<tspan font-size="5.6" dy="-5.4">low</tspan></text>
<text x="308.1" y="719.8" font-size="10" fill="#333340" font-weight="bold" text-anchor="start" >p (log rank)= 0.039</text>
<text x="308.1" y="731.3" font-size="10" fill="#333340" font-weight="bold" text-anchor="start" >events= 127, n= 347</text>
</svg>
</body></html>
